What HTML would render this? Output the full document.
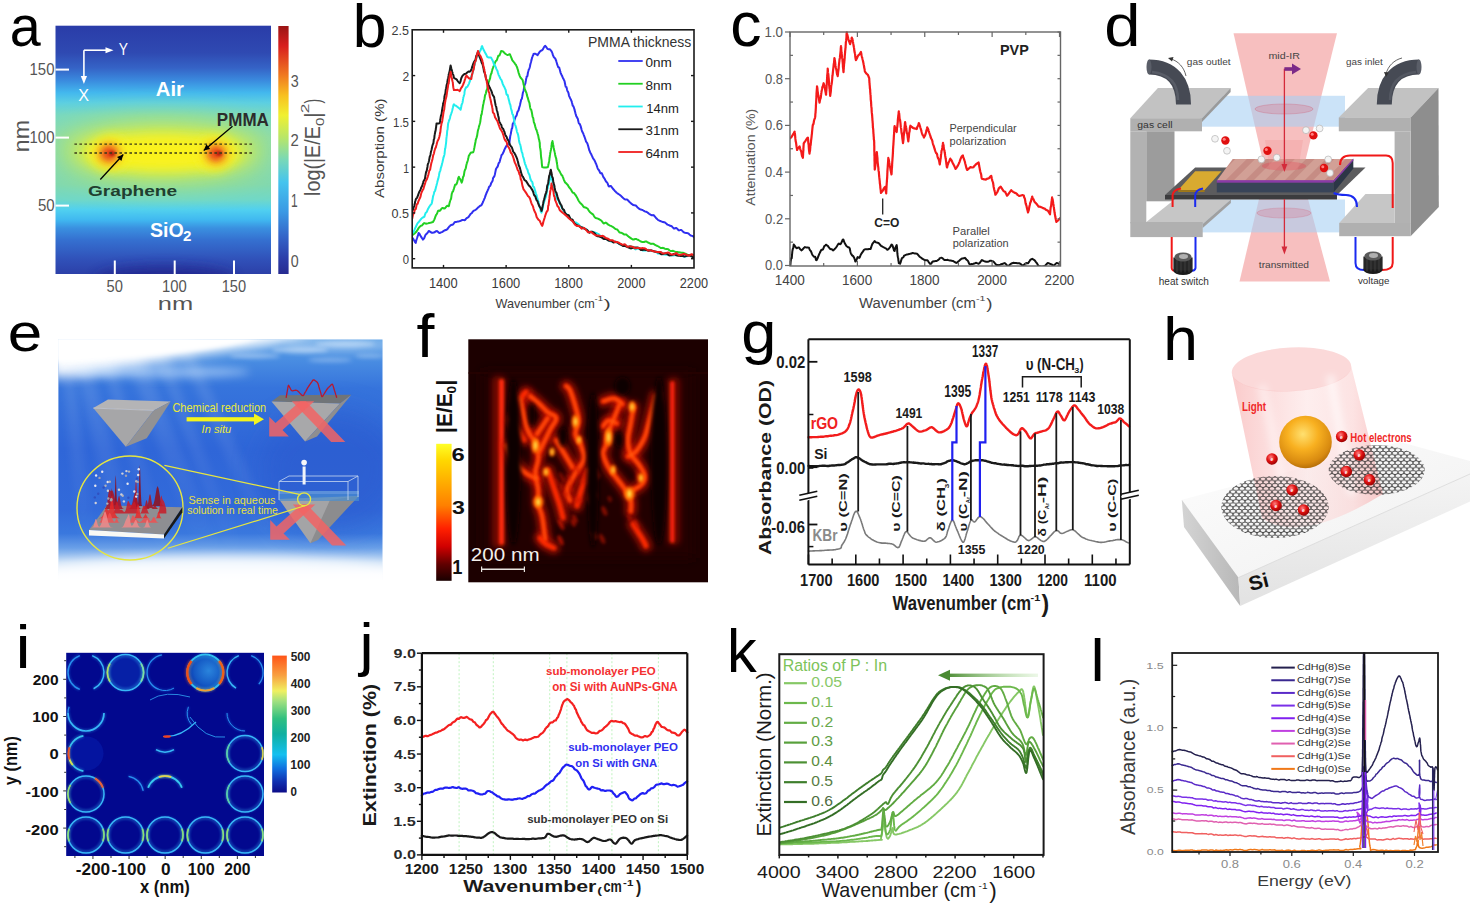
<!DOCTYPE html><html><head><meta charset="utf-8"><title>Figure</title><style>html,body{margin:0;padding:0;background:#fff;width:1470px;height:905px;overflow:hidden;}svg{display:block;font-family:"Liberation Sans",sans-serif;}</style></head><body><svg width="1470" height="905" viewBox="0 0 1470 905" font-family="Liberation Sans, sans-serif"><defs><linearGradient id="a_base" x1="0" y1="0" x2="0" y2="1">
<stop offset="0" stop-color="#2a3ca8"/>
<stop offset="0.11" stop-color="#2f4ab2"/>
<stop offset="0.17" stop-color="#3563c6"/>
<stop offset="0.22" stop-color="#3a8ade"/>
<stop offset="0.27" stop-color="#43b8ee"/>
<stop offset="0.31" stop-color="#5ccfe2"/>
<stop offset="0.36" stop-color="#78d8c0"/>
<stop offset="0.45" stop-color="#88dab0"/>
<stop offset="0.55" stop-color="#82d8b4"/>
<stop offset="0.64" stop-color="#80d8b0"/>
<stop offset="0.70" stop-color="#70d8c8"/>
<stop offset="0.742" stop-color="#50d0f0"/>
<stop offset="0.782" stop-color="#40b8f0"/>
<stop offset="0.815" stop-color="#3a90e0"/>
<stop offset="0.863" stop-color="#3570d0"/>
<stop offset="0.944" stop-color="#3050b8"/>
<stop offset="1" stop-color="#2c40a8"/>
</linearGradient>
<linearGradient id="a_cb" x1="0" y1="0" x2="0" y2="1">
<stop offset="0" stop-color="#9a1414"/>
<stop offset="0.08" stop-color="#d81e1e"/>
<stop offset="0.2" stop-color="#f07a20"/>
<stop offset="0.28" stop-color="#f8c020"/>
<stop offset="0.36" stop-color="#f0f030"/>
<stop offset="0.45" stop-color="#b8e668"/>
<stop offset="0.54" stop-color="#78d8b8"/>
<stop offset="0.63" stop-color="#45c4ee"/>
<stop offset="0.75" stop-color="#3a98e4"/>
<stop offset="0.85" stop-color="#3464c8"/>
<stop offset="0.94" stop-color="#2c3ca8"/>
<stop offset="1" stop-color="#262a90"/>
</linearGradient>
<filter id="blur14" x="-100%" y="-100%" width="300%" height="300%"><feGaussianBlur stdDeviation="14"/></filter>
<filter id="blur9" x="-100%" y="-100%" width="300%" height="300%"><feGaussianBlur stdDeviation="9"/></filter>
<filter id="blur6" x="-100%" y="-100%" width="300%" height="300%"><feGaussianBlur stdDeviation="6"/></filter>
<filter id="blur4" x="-100%" y="-100%" width="300%" height="300%"><feGaussianBlur stdDeviation="4"/></filter>
<filter id="blur3" x="-100%" y="-100%" width="300%" height="300%"><feGaussianBlur stdDeviation="3"/></filter>
<filter id="blur2" x="-100%" y="-100%" width="300%" height="300%"><feGaussianBlur stdDeviation="2"/></filter>
<filter id="blur1" x="-100%" y="-100%" width="300%" height="300%"><feGaussianBlur stdDeviation="1"/></filter>
<filter id="blur05" x="-100%" y="-100%" width="300%" height="300%"><feGaussianBlur stdDeviation="0.6"/></filter>
<clipPath id="a_clip"><rect x="55.5" y="25.7" width="215.5" height="248.3"/></clipPath>
<clipPath id="b_clip"><rect x="412.2" y="29.8" width="281.8" height="238.1"/></clipPath><clipPath id="c_clip"><rect x="790" y="30" width="270.5" height="236"/></clipPath><pattern id="d_samp" width="14" height="14" patternUnits="userSpaceOnUse" patternTransform="rotate(45)"><rect width="14" height="14" fill="#d2a096"/><rect width="6" height="14" fill="#c68c84"/></pattern><linearGradient id="d_tube" x1="0" y1="0" x2="1" y2="1"><stop offset="0" stop-color="#5a5e68"/><stop offset="0.5" stop-color="#474b55"/><stop offset="1" stop-color="#35383f"/></linearGradient><linearGradient id="e_bg" x1="0" y1="0" x2="0" y2="1">
<stop offset="0" stop-color="#5aa0e6"/>
<stop offset="0.08" stop-color="#4a8ee2"/>
<stop offset="0.2" stop-color="#3674dc"/>
<stop offset="0.45" stop-color="#2f66d8"/>
<stop offset="0.7" stop-color="#326ada"/>
<stop offset="0.8" stop-color="#3a78de"/>
<stop offset="0.86" stop-color="#6aa0e8"/>
<stop offset="0.92" stop-color="#c8def6"/>
<stop offset="0.97" stop-color="#f4f8fe"/>
<stop offset="1" stop-color="#ffffff"/>
</linearGradient>
<linearGradient id="e_ray" x1="0" y1="0" x2="0" y2="1">
<stop offset="0" stop-color="#ffffff" stop-opacity="0.45"/><stop offset="1" stop-color="#ffffff" stop-opacity="0"/></linearGradient>
<clipPath id="e_clip"><rect x="58.4" y="339.5" width="324.1" height="242.5"/></clipPath>
<filter id="blur8" x="-50%" y="-50%" width="200%" height="200%"><feGaussianBlur stdDeviation="8"/></filter>
<clipPath id="f_clip"><rect x="468.3" y="339.3" width="239.7" height="243"/></clipPath>
<linearGradient id="f_cb" x1="0" y1="0" x2="0" y2="1">
<stop offset="0" stop-color="#ffff28"/><stop offset="0.12" stop-color="#ffd800"/><stop offset="0.45" stop-color="#ff8000"/>
<stop offset="0.62" stop-color="#ff2000"/><stop offset="0.75" stop-color="#d00000"/><stop offset="0.88" stop-color="#600000"/><stop offset="1" stop-color="#1a0000"/></linearGradient>
<filter id="glow" filterUnits="userSpaceOnUse" x="460" y="330" width="255" height="260"><feGaussianBlur stdDeviation="1.4"/></filter>
<filter id="glow2" filterUnits="userSpaceOnUse" x="460" y="330" width="255" height="260"><feGaussianBlur stdDeviation="3"/></filter>
<linearGradient id="h_front" x1="0" y1="0" x2="0" y2="1"><stop offset="0" stop-color="#f4f4f4"/><stop offset="1" stop-color="#e2e2e2"/></linearGradient>
<linearGradient id="h_left" x1="0" y1="0" x2="1" y2="0"><stop offset="0" stop-color="#d4d4d4"/><stop offset="1" stop-color="#b8b8b8"/></linearGradient>
<linearGradient id="h_top" x1="0" y1="0" x2="1" y2="1"><stop offset="0" stop-color="#fdfdfd"/><stop offset="1" stop-color="#f0f0f0"/></linearGradient>
<radialGradient id="h_gold" cx="0.45" cy="0.35" r="0.65"><stop offset="0" stop-color="#ffe070"/><stop offset="0.45" stop-color="#f8b020"/><stop offset="0.85" stop-color="#d88a10"/><stop offset="1" stop-color="#b87008"/></radialGradient>
<radialGradient id="h_el" cx="0.4" cy="0.35" r="0.7"><stop offset="0" stop-color="#ff8080"/><stop offset="0.5" stop-color="#e01010"/><stop offset="1" stop-color="#900000"/></radialGradient>
<linearGradient id="h_cyl" x1="0" y1="0" x2="1" y2="0"><stop offset="0" stop-color="#f8b4b4" stop-opacity="0.7"/><stop offset="0.5" stop-color="#fde0e0" stop-opacity="0.55"/><stop offset="0.8" stop-color="#fbd0d0" stop-opacity="0.6"/><stop offset="1" stop-color="#f6b0b0" stop-opacity="0.7"/></linearGradient>
<pattern id="h_hex" width="6.000" height="10.392" patternUnits="userSpaceOnUse" patternTransform="scale(1,0.62)"><path d="M3.000,0 L6.000,1.732 L6.000,5.196 L3.000,6.928 L0,5.196 L0,1.732 Z M3.000,6.928 L3.000,10.392" fill="none" stroke="#1a1a1a" stroke-width="1.35"/></pattern>
<clipPath id="i_clip"><rect x="66.2" y="652.8" width="197.8" height="203.2"/></clipPath>
<linearGradient id="i_cb" x1="0" y1="1" x2="0" y2="0">
<stop offset="0" stop-color="#0c0c88"/><stop offset="0.08" stop-color="#1030b0"/><stop offset="0.176" stop-color="#1070e0"/><stop offset="0.277" stop-color="#14c0f0"/>
<stop offset="0.428" stop-color="#10b0a0"/><stop offset="0.54" stop-color="#30c080"/><stop offset="0.666" stop-color="#a0e080"/><stop offset="0.742" stop-color="#f0f060"/>
<stop offset="0.855" stop-color="#f8a040"/><stop offset="1" stop-color="#ff5418"/></linearGradient>
<radialGradient id="i_fill" cx="0.5" cy="0.5" r="0.5"><stop offset="0" stop-color="#0a2aa8"/><stop offset="1" stop-color="#082098"/></radialGradient>
<radialGradient id="i_hot" cx="0.6" cy="0.45" r="0.6"><stop offset="0" stop-color="#2a84dc"/><stop offset="0.7" stop-color="#1458c4"/><stop offset="1" stop-color="#0c38b0"/></radialGradient><clipPath id="k_clip"><rect x="779.3" y="654.2" width="264.3" height="200.7"/></clipPath>
<linearGradient id="k_arrow" x1="0" y1="0" x2="1" y2="0"><stop offset="0" stop-color="#4a8a32"/><stop offset="1" stop-color="#a0d888" stop-opacity="0.2"/></linearGradient></defs><rect x="0" y="0" width="1470" height="905" fill="#fff"/>
<text x="9.63" y="46.44" font-size="57.13" font-weight="normal" font-style="normal" fill="#000" textLength="30.97" lengthAdjust="spacingAndGlyphs" >a</text>
<text x="352.69" y="46.61" font-size="60.87" font-weight="normal" font-style="normal" fill="#000" textLength="33.76" lengthAdjust="spacingAndGlyphs" >b</text>
<text x="730.34" y="46.39" font-size="62.06" font-weight="normal" font-style="normal" fill="#000" textLength="31.31" lengthAdjust="spacingAndGlyphs" >c</text>
<text x="1104.26" y="45.73" font-size="58.42" font-weight="normal" font-style="normal" fill="#000" textLength="36.24" lengthAdjust="spacingAndGlyphs" >d</text>
<text x="7.67" y="350.88" font-size="53.12" font-weight="normal" font-style="normal" fill="#000" textLength="34.49" lengthAdjust="spacingAndGlyphs" >e</text>
<text x="416.49" y="356.50" font-size="60.80" font-weight="normal" font-style="normal" fill="#000" textLength="17.92" lengthAdjust="spacingAndGlyphs" >f</text>
<text x="741.35" y="353.07" font-size="59.40" font-weight="normal" font-style="normal" fill="#000" textLength="35.12" lengthAdjust="spacingAndGlyphs" >g</text>
<text x="1163.38" y="360.00" font-size="60.72" font-weight="normal" font-style="normal" fill="#000" textLength="34.67" lengthAdjust="spacingAndGlyphs" >h</text>
<text x="15.43" y="667.70" font-size="60.31" font-weight="normal" font-style="normal" fill="#000" textLength="15.17" lengthAdjust="spacingAndGlyphs" >i</text>
<text x="359.55" y="665.02" font-size="59.65" font-weight="normal" font-style="normal" fill="#000" textLength="14.13" lengthAdjust="spacingAndGlyphs" >j</text>
<text x="727.00" y="672.10" font-size="60.86" font-weight="normal" font-style="normal" fill="#000" textLength="29.72" lengthAdjust="spacingAndGlyphs" >k</text>
<text x="1090.41" y="680.70" font-size="59.62" font-weight="normal" font-style="normal" fill="#000" textLength="14.16" lengthAdjust="spacingAndGlyphs" >l</text>
<rect x="55.50" y="25.70" width="215.50" height="248.30" fill="url(#a_base)" stroke="none" stroke-width="1" />
<g clip-path="url(#a_clip)">
<ellipse cx="165" cy="280" rx="70" ry="14" fill="#24288e" filter="url(#blur6)" opacity="0.8"/>
<ellipse cx="163" cy="151" rx="105" ry="31" fill="#b8e668" filter="url(#blur14)"/>
<ellipse cx="163" cy="152" rx="86" ry="20" fill="#e8f038" filter="url(#blur9)"/>
<ellipse cx="163" cy="153" rx="74" ry="16" fill="#faf21c" filter="url(#blur6)"/>
<ellipse cx="110" cy="153" rx="18" ry="17" fill="#f8f020" filter="url(#blur6)"/>
<ellipse cx="215" cy="153" rx="18" ry="17" fill="#f8f020" filter="url(#blur6)"/>
<ellipse cx="109" cy="153.5" rx="12" ry="11" fill="#f4a020" filter="url(#blur4)"/>
<ellipse cx="109" cy="153.5" rx="7" ry="6.5" fill="#e84018" filter="url(#blur3)"/>
<ellipse cx="112" cy="153.5" rx="3" ry="2.5" fill="#b82010" filter="url(#blur1)"/>
<ellipse cx="216" cy="153.5" rx="12" ry="11" fill="#f4a020" filter="url(#blur4)"/>
<ellipse cx="216" cy="153.5" rx="7" ry="6.5" fill="#e84018" filter="url(#blur3)"/>
<ellipse cx="219" cy="153.5" rx="3" ry="2.5" fill="#b82010" filter="url(#blur1)"/>
</g>
<line x1="74.40" y1="144.10" x2="252.60" y2="144.10" stroke="#3a3a18" stroke-width="1.3" stroke-dasharray="2.6,2.4"/>
<line x1="74.40" y1="153.00" x2="252.60" y2="153.00" stroke="#3a3a18" stroke-width="1.3" stroke-dasharray="2.6,2.4"/>
<line x1="232.50" y1="126.30" x2="203.70" y2="150.50" stroke="#000" stroke-width="1.3" />
<polygon points="203.7,150.5 210.2,148.9 206.4,144.3" fill="#000" stroke="none" stroke-width="1" />
<line x1="100.30" y1="179.50" x2="123.30" y2="154.50" stroke="#000" stroke-width="1.3" />
<polygon points="123.3,154.5 117.0,156.9 121.4,160.9" fill="#000" stroke="none" stroke-width="1" />
<line x1="83.90" y1="50.20" x2="83.90" y2="78.00" stroke="#fff" stroke-width="1.6" />
<polygon points="83.9,84.0 80.8,76.0 87.0,76.0" fill="#fff" stroke="none" stroke-width="1" />
<line x1="83.90" y1="50.20" x2="107.00" y2="50.20" stroke="#fff" stroke-width="1.6" />
<polygon points="113.5,50.2 105.5,47.2 105.5,53.2" fill="#fff" stroke="none" stroke-width="1" />
<text x="118.70" y="54.50" font-size="15.99" font-weight="normal" font-style="normal" fill="#fff" textLength="9.21" lengthAdjust="spacingAndGlyphs" >Y</text>
<text x="78.34" y="100.50" font-size="15.99" font-weight="normal" font-style="normal" fill="#fff" textLength="10.80" lengthAdjust="spacingAndGlyphs" >X</text>
<text x="155.80" y="96.10" font-size="19.73" font-weight="bold" font-style="normal" fill="#fff" textLength="28.11" lengthAdjust="spacingAndGlyphs" >Air</text>
<text x="150.03" y="237.10" font-size="20.02" font-weight="bold" font-style="normal" fill="#fff" textLength="33.79" lengthAdjust="spacingAndGlyphs" >SiO</text>
<text x="182.97" y="241.30" font-size="14.75" font-weight="bold" font-style="normal" fill="#fff" textLength="8.43" lengthAdjust="spacingAndGlyphs" >2</text>
<text x="216.86" y="126.30" font-size="18.75" font-weight="bold" font-style="normal" fill="#2c2c2c" textLength="51.99" lengthAdjust="spacingAndGlyphs" >PMMA</text>
<text x="88.02" y="196.39" font-size="15.45" font-weight="bold" font-style="normal" fill="#1f3f30" textLength="89.03" lengthAdjust="spacingAndGlyphs" >Graphene</text>
<line x1="55.50" y1="69.60" x2="69.00" y2="69.60" stroke="#fff" stroke-width="2" />
<line x1="55.50" y1="137.60" x2="69.00" y2="137.60" stroke="#fff" stroke-width="2" />
<line x1="55.50" y1="205.60" x2="69.00" y2="205.60" stroke="#fff" stroke-width="2" />
<line x1="114.80" y1="274.00" x2="114.80" y2="260.50" stroke="#fff" stroke-width="2" />
<line x1="174.70" y1="274.00" x2="174.70" y2="260.50" stroke="#fff" stroke-width="2" />
<line x1="234.00" y1="274.00" x2="234.00" y2="260.50" stroke="#fff" stroke-width="2" />
<text x="29.56" y="75.24" font-size="16.10" font-weight="normal" font-style="normal" fill="#555" textLength="24.92" lengthAdjust="spacingAndGlyphs" >150</text>
<text x="29.56" y="143.24" font-size="16.10" font-weight="normal" font-style="normal" fill="#555" textLength="24.92" lengthAdjust="spacingAndGlyphs" >100</text>
<text x="37.90" y="211.24" font-size="16.10" font-weight="normal" font-style="normal" fill="#555" textLength="16.69" lengthAdjust="spacingAndGlyphs" >50</text>
<text x="106.61" y="291.84" font-size="16.24" font-weight="normal" font-style="normal" fill="#555" textLength="16.36" lengthAdjust="spacingAndGlyphs" >50</text>
<text x="162.07" y="291.84" font-size="16.24" font-weight="normal" font-style="normal" fill="#555" textLength="24.71" lengthAdjust="spacingAndGlyphs" >100</text>
<text x="221.69" y="291.84" font-size="16.24" font-weight="normal" font-style="normal" fill="#555" textLength="24.38" lengthAdjust="spacingAndGlyphs" >150</text>
<text transform="translate(29.00,152.24) rotate(-90)" x="0" y="0" font-size="22.30" font-weight="normal" font-style="normal" fill="#555" textLength="32.16" lengthAdjust="spacingAndGlyphs" >nm</text>
<text x="157.81" y="310.00" font-size="18.58" font-weight="normal" font-style="normal" fill="#555" textLength="35.37" lengthAdjust="spacingAndGlyphs" >nm</text>
<rect x="278.30" y="26.00" width="10.30" height="248.00" fill="url(#a_cb)" stroke="none" stroke-width="1" />
<text x="290.65" y="87.23" font-size="16.95" font-weight="normal" font-style="normal" fill="#555" textLength="7.98" lengthAdjust="spacingAndGlyphs" >3</text>
<text x="290.45" y="145.60" font-size="17.19" font-weight="normal" font-style="normal" fill="#555" textLength="8.30" lengthAdjust="spacingAndGlyphs" >2</text>
<text x="290.88" y="207.30" font-size="17.44" font-weight="normal" font-style="normal" fill="#555" textLength="6.71" lengthAdjust="spacingAndGlyphs" >1</text>
<text x="290.64" y="267.03" font-size="16.95" font-weight="normal" font-style="normal" fill="#555" textLength="7.91" lengthAdjust="spacingAndGlyphs" >0</text>
<text transform="translate(320.21,195.93) rotate(-90)" x="0" y="0" font-size="21.68" font-weight="normal" font-style="normal" fill="#555" textLength="69.78" lengthAdjust="spacingAndGlyphs" >log(|E/E</text>
<text transform="translate(324.09,125.90) rotate(-90)" x="0" y="0" font-size="11.16" font-weight="normal" font-style="normal" fill="#555" textLength="8.49" lengthAdjust="spacingAndGlyphs" >0</text>
<text transform="translate(320.21,118.04) rotate(-90)" x="0" y="0" font-size="21.68" font-weight="normal" font-style="normal" fill="#555" textLength="5.63" lengthAdjust="spacingAndGlyphs" >|</text>
<text transform="translate(309.00,113.37) rotate(-90)" x="0" y="0" font-size="11.46" font-weight="normal" font-style="normal" fill="#555" textLength="9.64" lengthAdjust="spacingAndGlyphs" >2</text>
<text transform="translate(320.29,103.48) rotate(-90)" x="0" y="0" font-size="21.79" font-weight="normal" font-style="normal" fill="#555" textLength="4.65" lengthAdjust="spacingAndGlyphs" >)</text>
<g clip-path="url(#b_clip)">
<path d="M412.2,237.6 L412.8,238.4 L413.4,239.2 L413.9,240.1 L414.5,241.1 L415.1,242.2 L415.7,242.9 L416.0,241.8 L416.2,240.6 L416.5,239.6 L416.8,238.8 L417.0,238.1 L417.3,237.3 L417.5,236.6 L417.8,235.9 L418.1,235.2 L418.3,234.1 L418.6,233.0 L419.1,233.3 L419.7,234.3 L420.2,235.3 L420.8,236.3 L421.3,237.1 L421.8,237.9 L422.4,238.7 L422.9,239.6 L423.4,239.1 L424.0,238.6 L424.5,237.3 L425.0,236.1 L425.5,234.9 L426.1,234.3 L426.6,233.9 L427.1,233.4 L427.6,232.6 L428.2,231.8 L428.7,231.0 L429.5,231.3 L430.4,231.9 L431.2,232.5 L432.0,232.8 L432.9,232.7 L433.7,232.6 L434.5,232.3 L435.4,231.7 L436.2,231.2 L437.0,231.1 L437.9,231.8 L438.7,232.6 L439.5,233.0 L440.3,232.7 L441.1,232.4 L441.9,232.1 L442.7,231.6 L443.4,231.1 L444.2,230.6 L445.0,230.3 L445.8,230.0 L446.6,229.7 L447.4,229.1 L448.0,228.2 L448.7,227.3 L449.3,226.5 L450.0,225.9 L450.6,225.3 L451.3,224.9 L451.9,224.8 L452.6,224.7 L453.2,224.2 L453.9,223.3 L454.5,222.4 L455.3,222.0 L456.1,221.9 L456.8,221.8 L457.6,221.6 L458.4,221.5 L459.2,221.3 L459.9,221.1 L460.7,220.8 L461.5,220.4 L462.3,220.0 L463.0,219.9 L463.8,220.1 L464.6,220.2 L465.2,219.8 L465.7,219.1 L466.3,218.5 L466.9,218.0 L467.5,217.7 L468.0,217.4 L468.6,216.9 L469.2,216.0 L469.8,215.1 L470.3,214.3 L470.9,213.8 L471.5,213.3 L472.1,212.7 L472.6,211.9 L473.2,211.2 L473.9,210.6 L474.6,210.3 L475.4,209.9 L476.1,209.5 L476.8,208.8 L477.5,208.1 L478.2,207.4 L479.0,206.8 L479.7,206.1 L480.4,205.7 L480.8,205.6 L481.1,205.4 L481.5,205.2 L481.8,204.5 L482.2,203.8 L482.5,203.1 L482.9,202.3 L483.2,201.4 L483.6,200.6 L484.0,199.7 L484.3,198.9 L484.7,198.1 L485.0,197.2 L485.4,196.2 L485.7,195.1 L486.1,194.1 L486.4,193.3 L486.8,192.5 L487.1,191.6 L487.5,190.9 L487.8,190.2 L488.1,189.5 L488.5,188.6 L488.8,187.6 L489.2,186.7 L489.5,186.3 L489.9,186.1 L490.2,186.0 L490.5,185.2 L490.9,184.2 L491.2,183.1 L491.6,182.4 L491.9,182.0 L492.2,181.6 L492.5,180.9 L492.8,179.7 L493.0,178.5 L493.3,177.6 L493.6,177.3 L493.9,177.0 L494.2,176.6 L494.5,175.7 L494.8,174.8 L495.0,173.9 L495.3,172.4 L495.6,170.9 L495.9,169.3 L496.2,168.7 L496.5,168.1 L496.7,167.5 L497.0,167.3 L497.3,167.0 L497.6,166.8 L497.9,165.9 L498.2,164.8 L498.5,163.7 L498.8,163.0 L499.1,162.7 L499.4,162.4 L499.7,161.6 L500.0,160.4 L500.3,159.2 L500.7,158.0 L501.0,157.0 L501.3,155.9 L501.6,155.0 L501.9,154.7 L502.2,154.4 L502.5,154.1 L502.8,153.5 L503.1,152.8 L503.4,152.2 L503.9,151.2 L504.3,150.0 L504.8,148.9 L505.3,147.9 L505.8,147.1 L506.2,146.2 L506.7,145.6 L507.2,145.0 L507.7,144.5 L508.2,144.2 L508.6,144.1 L509.1,143.9 L509.3,143.2 L509.4,142.2 L509.6,141.3 L509.7,140.2 L509.9,138.8 L510.1,137.5 L510.2,136.3 L510.4,135.6 L510.5,134.9 L510.7,134.2 L510.9,133.3 L511.0,132.4 L511.2,131.5 L511.4,130.6 L511.5,129.8 L511.7,129.0 L511.8,128.6 L512.0,128.4 L512.2,128.2 L512.3,127.4 L512.5,126.1 L512.6,124.8 L512.8,123.8 L513.1,123.3 L513.4,122.9 L513.7,122.4 L514.0,121.5 L514.3,120.7 L514.6,119.8 L514.9,118.9 L515.2,117.9 L515.5,117.0 L515.8,116.5 L516.1,116.1 L516.4,115.8 L516.7,115.1 L517.0,113.8 L517.3,112.6 L517.6,111.6 L517.9,111.2 L518.2,110.9 L518.5,110.5 L518.8,109.3 L519.1,108.1 L519.4,107.0 L519.6,106.3 L519.8,105.8 L519.9,105.3 L520.1,104.5 L520.3,103.5 L520.5,102.6 L520.7,101.7 L520.9,101.0 L521.0,100.2 L521.2,99.6 L521.4,99.4 L521.6,99.1 L521.8,98.9 L522.0,98.0 L522.1,97.1 L522.3,96.2 L522.5,95.1 L522.7,93.9 L522.9,92.7 L523.1,92.0 L523.2,91.6 L523.4,91.3 L523.6,90.7 L523.8,89.4 L524.0,88.1 L524.2,86.8 L524.4,86.1 L524.5,85.5 L524.7,84.9 L524.9,84.4 L525.1,84.0 L525.3,83.6 L525.5,82.9 L525.6,81.9 L525.8,81.0 L526.0,79.9 L526.2,78.7 L526.5,77.5 L526.7,76.4 L526.9,76.4 L527.1,76.3 L527.4,76.2 L527.6,74.9 L527.8,73.5 L528.0,72.1 L528.3,71.2 L528.5,70.5 L528.7,69.7 L529.0,69.2 L529.2,68.8 L529.4,68.4 L529.6,67.8 L529.9,66.7 L530.1,65.6 L530.3,64.5 L530.5,63.7 L530.8,62.8 L531.0,62.0 L531.2,61.1 L531.5,60.1 L531.7,59.2 L531.9,58.4 L532.1,57.6 L532.4,56.8 L532.6,56.2 L532.8,55.9 L533.0,55.5 L533.3,54.9 L533.5,53.9 L534.3,53.7 L535.1,53.7 L536.0,54.1 L536.8,54.6 L537.6,55.1 L538.1,54.2 L538.7,53.4 L539.2,52.5 L539.7,51.9 L540.3,51.3 L540.8,50.8 L541.4,50.5 L541.9,50.3 L542.4,50.0 L543.0,49.2 L543.5,48.1 L544.0,47.1 L544.6,46.4 L545.1,45.8 L545.7,46.4 L546.3,47.2 L546.9,48.0 L547.5,48.8 L548.2,49.2 L548.8,49.2 L549.4,49.2 L550.0,49.4 L550.6,50.1 L551.2,50.8 L551.9,52.0 L552.5,53.5 L552.8,54.9 L553.2,55.7 L553.5,56.4 L553.8,57.1 L554.2,57.5 L554.5,57.8 L554.8,58.1 L555.2,58.5 L555.5,59.2 L555.8,60.0 L556.2,60.8 L556.5,62.0 L556.9,63.2 L557.2,64.4 L557.5,65.3 L557.9,66.2 L558.2,67.1 L558.5,67.3 L558.9,67.4 L559.2,67.6 L559.5,68.7 L559.9,70.1 L560.2,71.4 L560.5,72.4 L560.7,73.1 L561.0,73.8 L561.3,74.4 L561.6,75.0 L561.8,75.5 L562.1,76.0 L562.4,76.7 L562.7,77.3 L562.9,77.9 L563.2,78.4 L563.5,78.9 L563.7,79.4 L564.0,80.0 L564.3,80.7 L564.6,81.4 L564.8,82.5 L565.1,84.0 L565.4,85.5 L565.7,86.7 L565.9,86.9 L566.2,87.0 L566.5,87.2 L566.8,88.4 L567.0,89.5 L567.3,90.6 L567.6,91.2 L567.8,91.6 L568.1,92.0 L568.4,92.8 L568.7,94.0 L568.9,95.2 L569.2,96.3 L569.5,96.8 L569.8,97.4 L570.0,98.0 L570.3,98.5 L570.6,99.0 L570.8,99.5 L571.1,100.1 L571.4,100.8 L571.7,101.5 L571.9,102.4 L572.2,103.6 L572.5,104.8 L572.7,105.7 L573.0,105.9 L573.3,106.1 L573.5,106.5 L573.8,107.3 L574.1,108.2 L574.4,109.1 L574.6,110.1 L574.9,111.1 L575.2,112.2 L575.4,113.2 L575.7,114.1 L576.0,115.1 L576.2,116.0 L576.5,116.5 L576.8,117.1 L577.1,117.6 L577.3,118.1 L577.6,118.6 L577.9,119.1 L578.1,120.3 L578.4,121.6 L578.7,122.8 L578.9,123.4 L579.2,123.6 L579.5,123.7 L579.8,124.1 L580.0,124.7 L580.3,125.3 L580.6,126.0 L580.8,126.9 L581.1,127.9 L581.4,128.9 L581.6,129.8 L581.9,130.7 L582.2,131.6 L582.5,132.1 L582.7,132.6 L583.0,133.0 L583.3,133.6 L583.6,134.5 L583.9,135.3 L584.2,136.2 L584.6,137.1 L584.9,138.0 L585.2,138.9 L585.5,139.8 L585.8,140.7 L586.1,141.6 L586.4,142.1 L586.7,142.5 L587.1,142.9 L587.4,143.6 L587.7,144.5 L588.0,145.5 L588.3,146.5 L588.6,147.7 L588.9,148.8 L589.2,150.0 L589.6,150.8 L589.9,151.6 L590.2,152.4 L590.5,152.9 L590.8,153.4 L591.1,153.9 L591.4,154.6 L591.7,155.4 L592.1,156.1 L592.4,156.8 L592.7,157.5 L593.0,158.2 L593.3,158.7 L593.6,159.1 L593.9,159.5 L594.2,159.9 L594.6,160.6 L594.9,161.2 L595.2,161.9 L595.5,162.6 L595.8,163.4 L596.2,164.0 L596.6,165.2 L597.1,166.6 L597.5,168.0 L597.9,169.0 L598.3,169.5 L598.8,170.0 L599.2,170.6 L599.6,171.5 L600.0,172.4 L600.5,173.3 L600.9,173.3 L601.3,173.2 L601.7,173.1 L602.1,173.9 L602.6,175.1 L603.0,176.2 L603.4,177.1 L603.8,177.7 L604.3,178.3 L604.7,178.9 L605.1,179.8 L605.5,180.6 L606.0,181.5 L606.4,181.9 L606.8,182.2 L607.2,182.6 L607.7,183.6 L608.1,184.8 L608.5,186.0 L609.1,186.5 L609.8,186.2 L610.4,186.0 L611.0,186.1 L611.7,187.0 L612.3,187.9 L612.9,188.8 L613.6,189.5 L614.2,190.2 L614.8,190.9 L615.5,191.5 L616.1,192.2 L616.7,192.8 L617.4,193.3 L618.0,193.7 L618.6,194.1 L619.3,194.5 L619.9,195.0 L620.5,195.5 L621.2,196.1 L621.8,196.7 L622.4,197.3 L623.1,197.9 L623.7,198.5 L624.4,199.1 L625.1,199.5 L625.8,199.5 L626.5,199.5 L627.2,199.6 L627.9,200.3 L628.6,201.0 L629.3,201.8 L630.0,202.4 L630.7,203.1 L631.4,203.7 L632.0,204.2 L632.7,204.6 L633.4,205.1 L634.1,205.2 L634.8,205.3 L635.5,205.4 L636.2,205.9 L636.9,206.7 L637.6,207.5 L638.3,208.1 L639.0,208.7 L639.7,209.1 L640.4,209.5 L641.1,209.6 L641.8,209.8 L642.6,210.0 L643.3,210.5 L644.0,210.9 L644.7,211.4 L645.4,211.6 L646.1,211.8 L646.8,212.0 L647.5,212.5 L648.3,213.1 L649.0,213.7 L649.7,214.2 L650.4,214.6 L651.1,215.0 L651.8,215.2 L652.5,215.2 L653.2,215.1 L654.0,215.5 L654.7,216.3 L655.4,217.2 L656.1,218.0 L656.8,218.7 L657.5,219.4 L658.2,220.1 L658.9,220.4 L659.6,220.7 L660.4,221.0 L661.1,221.3 L661.8,221.6 L662.5,221.9 L663.2,222.0 L663.9,222.2 L664.6,222.3 L665.3,222.7 L666.1,223.4 L666.8,224.1 L667.5,224.6 L668.2,224.9 L668.9,225.2 L669.6,225.5 L670.3,225.8 L671.0,226.0 L671.8,226.3 L672.5,227.1 L673.2,227.8 L673.9,228.5 L674.6,228.5 L675.3,228.2 L676.1,227.9 L676.8,228.3 L677.6,229.2 L678.3,230.0 L679.0,230.4 L679.8,230.2 L680.5,229.9 L681.3,229.9 L682.0,230.6 L682.8,231.4 L683.5,232.2 L684.2,232.4 L685.0,232.7 L685.7,232.9 L686.5,233.0 L687.2,233.1 L688.0,233.3 L688.7,233.7 L689.4,234.4 L690.2,235.1 L690.9,235.6 L691.7,235.8 L692.4,235.9 L693.2,236.4 L694.0,237.1" fill="none" stroke="#2f2ff0" stroke-width="2.0" stroke-linejoin="round" stroke-linecap="round" />
<path d="M412.9,234.7 L413.5,234.3 L414.0,233.9 L414.6,233.5 L415.2,232.9 L415.8,232.3 L416.3,231.8 L416.9,230.9 L417.5,229.9 L418.1,228.9 L418.6,228.1 L419.2,227.4 L419.8,226.7 L420.4,226.1 L420.9,225.8 L421.5,225.6 L422.1,225.3 L422.7,224.6 L423.2,224.0 L423.8,223.3 L424.4,223.1 L425.3,223.4 L426.1,223.7 L427.0,223.6 L427.8,223.4 L428.7,223.1 L429.6,222.9 L430.4,222.7 L431.3,222.5 L432.1,222.3 L433.0,222.1 L433.4,221.3 L433.7,220.7 L434.1,220.0 L434.4,219.4 L434.8,218.5 L435.1,217.4 L435.5,216.3 L435.9,215.3 L436.2,214.8 L436.6,214.3 L436.9,213.8 L437.3,212.9 L437.6,212.0 L438.0,211.0 L438.3,210.7 L438.7,210.6 L439.5,210.9 L440.3,210.4 L441.0,209.3 L441.8,208.3 L442.6,207.9 L443.4,208.2 L444.1,208.6 L444.9,208.3 L445.7,207.4 L446.5,206.4 L447.2,205.8 L448.0,206.0 L448.8,206.2 L449.0,205.7 L449.2,204.6 L449.4,203.6 L449.7,202.5 L449.9,201.8 L450.1,201.1 L450.3,200.3 L450.5,199.9 L450.7,199.4 L451.0,199.0 L451.2,197.8 L451.4,196.3 L451.6,194.9 L451.8,193.8 L452.0,193.1 L452.2,192.3 L452.5,191.8 L452.7,191.7 L452.9,191.6 L453.1,191.3 L453.4,190.2 L453.8,189.1 L454.1,188.0 L454.5,186.9 L454.8,185.8 L455.1,184.7 L455.5,184.6 L455.8,184.6 L456.2,184.6 L456.5,184.0 L456.9,183.2 L457.2,182.4 L457.5,181.1 L457.9,179.7 L458.2,178.2 L458.6,177.3 L458.9,176.8 L459.3,177.9 L459.7,178.7 L460.1,179.2 L460.5,179.8 L460.9,180.6 L461.3,181.6 L461.7,182.6 L461.9,182.0 L462.1,181.5 L462.3,181.0 L462.5,180.1 L462.7,178.9 L462.9,177.8 L463.1,176.9 L463.3,176.6 L463.6,176.2 L463.8,175.7 L464.0,174.4 L464.2,173.1 L464.4,171.8 L464.6,171.1 L464.8,170.4 L465.0,169.7 L465.2,169.4 L465.4,169.1 L465.6,168.8 L465.8,168.2 L466.0,167.0 L466.2,165.9 L466.4,164.9 L466.6,164.1 L466.8,163.4 L467.0,162.6 L467.3,162.0 L467.5,161.3 L467.7,160.7 L467.9,159.9 L468.1,159.0 L468.3,158.1 L468.5,157.3 L468.7,156.4 L468.9,155.5 L469.5,154.8 L470.1,153.8 L470.7,152.9 L471.4,152.4 L472.0,152.4 L472.6,152.4 L473.2,152.2 L473.4,151.6 L473.6,151.0 L473.8,150.3 L474.0,149.5 L474.1,148.8 L474.3,148.0 L474.5,146.9 L474.7,145.9 L474.9,144.8 L475.1,143.8 L475.3,142.7 L475.5,141.7 L475.6,140.8 L475.8,140.0 L476.0,139.2 L476.2,138.6 L476.4,138.1 L476.6,137.5 L476.8,136.9 L477.0,136.1 L477.2,135.3 L477.3,134.4 L477.5,133.2 L477.7,131.9 L477.9,130.7 L478.1,129.9 L478.3,129.2 L478.5,128.6 L478.7,127.9 L478.8,127.2 L479.0,126.5 L479.2,125.8 L479.4,125.1 L479.6,124.5 L479.8,123.8 L479.9,123.3 L480.1,122.7 L480.2,122.0 L480.4,121.0 L480.5,119.9 L480.7,118.8 L480.8,117.6 L481.0,116.4 L481.1,115.2 L481.3,115.0 L481.4,114.8 L481.6,114.7 L481.7,113.8 L481.9,112.7 L482.0,111.6 L482.2,110.7 L482.3,109.9 L482.5,109.2 L482.6,108.3 L482.8,107.3 L482.9,106.2 L483.1,105.3 L483.2,104.6 L483.4,104.0 L483.5,103.4 L483.7,102.5 L483.8,101.7 L484.0,100.8 L484.1,100.3 L484.3,99.8 L484.4,99.3 L484.6,98.2 L484.8,96.9 L485.0,95.5 L485.3,94.7 L485.5,94.3 L485.7,93.8 L485.9,93.2 L486.1,92.1 L486.3,91.0 L486.6,90.0 L486.8,89.7 L487.0,89.3 L487.2,88.9 L487.4,87.6 L487.6,86.2 L487.9,84.9 L488.1,84.2 L488.3,83.6 L488.5,83.0 L488.7,82.3 L488.9,81.6 L489.2,80.9 L489.4,80.2 L489.6,79.7 L489.8,79.1 L490.1,78.3 L490.3,77.0 L490.5,75.7 L490.8,74.7 L491.0,74.2 L491.2,73.7 L491.5,73.3 L491.7,72.3 L491.9,71.3 L492.2,70.3 L492.4,69.5 L492.6,68.8 L492.9,68.1 L493.1,67.4 L493.3,66.8 L493.6,66.1 L493.8,65.6 L494.0,65.3 L494.3,64.9 L494.5,64.1 L494.9,63.0 L495.3,61.9 L495.8,61.0 L496.2,60.7 L496.6,60.4 L497.0,59.8 L497.4,58.4 L497.9,57.0 L498.3,55.8 L498.7,55.7 L499.1,55.6 L499.5,55.5 L499.9,54.3 L500.4,53.1 L500.8,51.9 L501.2,51.0 L502.0,51.2 L502.7,51.3 L503.5,51.9 L504.2,52.7 L505.0,53.4 L505.7,54.0 L506.5,54.5 L507.2,54.9 L508.0,55.0 L508.7,54.6 L509.5,54.2 L509.9,54.3 L510.3,55.2 L510.7,56.2 L511.1,57.1 L511.6,58.3 L512.0,59.4 L512.4,60.5 L512.8,61.0 L513.2,61.3 L513.6,61.7 L514.0,62.3 L514.5,62.9 L514.9,63.6 L515.3,64.1 L515.7,64.7 L516.1,65.2 L516.4,65.9 L516.8,66.7 L517.1,67.4 L517.4,68.4 L517.8,69.6 L518.1,70.8 L518.4,72.0 L518.7,73.1 L519.1,74.1 L519.4,75.2 L519.7,75.9 L520.1,76.7 L520.4,77.4 L520.7,77.8 L521.1,78.2 L521.4,78.5 L521.7,78.9 L522.0,79.2 L522.4,79.6 L522.7,80.3 L522.9,81.3 L523.2,82.3 L523.4,83.4 L523.6,84.5 L523.9,85.6 L524.1,86.8 L524.4,87.6 L524.6,88.4 L524.8,89.2 L525.1,89.8 L525.3,90.4 L525.5,91.0 L525.8,91.6 L526.0,92.0 L526.2,92.4 L526.5,93.1 L526.7,94.1 L526.9,95.1 L527.2,96.1 L527.4,96.8 L527.6,97.5 L527.9,98.2 L528.1,99.1 L528.4,100.0 L528.6,100.9 L528.8,101.5 L529.1,102.0 L529.3,102.5 L529.5,103.3 L529.7,104.7 L529.9,106.0 L530.1,107.2 L530.3,108.0 L530.5,108.7 L530.7,109.4 L530.9,109.6 L531.1,109.8 L531.3,110.0 L531.5,110.9 L531.7,111.8 L531.9,112.7 L532.1,113.9 L532.3,115.1 L532.5,116.4 L532.7,117.1 L532.9,117.4 L533.1,117.7 L533.3,118.5 L533.5,119.8 L533.7,121.2 L533.9,122.3 L534.1,122.7 L534.3,123.2 L534.5,123.6 L534.8,124.6 L535.0,125.5 L535.2,126.4 L535.4,127.2 L535.7,128.0 L535.9,128.8 L536.1,129.3 L536.3,129.7 L536.6,130.1 L536.8,130.7 L537.0,131.5 L537.3,132.4 L537.5,133.2 L537.7,133.9 L537.9,134.7 L538.2,135.5 L538.4,136.6 L538.6,137.7 L538.8,138.9 L539.1,139.7 L539.3,140.5 L539.4,141.3 L539.5,141.8 L539.6,142.1 L539.7,142.5 L539.8,143.4 L539.8,144.8 L539.9,146.3 L540.0,147.4 L540.1,147.8 L540.2,148.2 L540.3,148.7 L540.4,149.3 L540.5,150.0 L540.6,150.7 L540.7,151.6 L540.8,152.6 L540.8,153.6 L540.9,154.7 L541.0,156.0 L541.1,157.2 L541.2,158.1 L541.3,158.5 L541.4,159.0 L541.5,159.6 L541.6,160.5 L541.7,161.3 L541.7,162.2 L541.8,163.3 L541.9,164.3 L542.0,165.4 L542.1,166.2 L542.2,167.1 L543.0,167.3 L543.8,167.4 L544.6,167.4 L545.5,167.4 L546.3,167.4 L547.1,167.3 L547.9,167.2 L548.0,166.4 L548.2,165.7 L548.3,165.1 L548.4,164.5 L548.6,163.9 L548.7,163.4 L548.8,162.8 L549.0,161.9 L549.1,161.0 L549.3,160.2 L549.4,159.2 L549.5,158.2 L549.7,157.3 L549.8,156.3 L549.9,155.3 L550.1,154.4 L550.2,153.5 L550.3,152.7 L550.5,151.9 L550.6,151.2 L550.7,150.7 L550.9,150.2 L551.0,149.7 L551.1,148.8 L551.3,147.9 L551.4,146.9 L551.6,145.8 L551.7,144.6 L551.8,143.3 L552.0,142.6 L552.1,142.3 L552.2,142.1 L552.4,141.8 L552.5,141.1 L552.7,142.1 L552.8,143.1 L553.0,143.8 L553.1,144.5 L553.3,145.2 L553.4,146.1 L553.6,147.0 L553.7,147.9 L553.9,148.7 L554.0,149.5 L554.2,150.4 L554.4,151.0 L554.5,151.5 L554.7,152.0 L554.8,152.7 L555.0,153.7 L555.1,154.7 L555.3,155.6 L555.4,156.1 L555.6,156.6 L555.7,157.1 L555.9,157.6 L556.1,158.2 L556.2,158.8 L556.4,159.8 L556.5,160.8 L556.7,161.8 L556.8,162.6 L557.0,163.4 L557.1,164.2 L557.3,165.3 L557.4,166.6 L557.6,168.0 L558.0,168.9 L558.3,169.4 L558.7,169.9 L559.1,170.5 L559.4,171.1 L559.8,171.7 L560.2,172.3 L560.5,173.1 L560.9,173.9 L561.3,174.7 L561.6,175.1 L562.0,175.4 L562.4,175.7 L562.7,176.6 L563.1,177.6 L563.5,178.7 L563.8,179.6 L564.2,180.5 L564.6,181.4 L564.9,182.1 L565.3,182.6 L565.8,183.0 L566.3,183.4 L566.8,184.0 L567.3,184.5 L567.8,185.0 L568.2,185.8 L568.7,186.6 L569.2,187.4 L569.7,188.0 L570.2,188.6 L570.7,189.2 L571.2,190.0 L571.7,190.9 L572.2,191.9 L572.7,192.5 L573.1,192.7 L573.6,192.9 L574.1,193.2 L574.6,193.9 L575.1,194.5 L575.6,195.1 L576.1,195.9 L576.6,196.8 L577.1,197.6 L577.6,198.6 L578.0,199.5 L578.5,200.5 L579.0,201.3 L579.5,202.0 L580.0,202.7 L580.5,203.3 L581.1,203.8 L581.6,204.3 L582.2,204.9 L582.8,205.7 L583.3,206.5 L583.9,207.2 L584.5,207.3 L585.0,207.4 L585.6,207.5 L586.2,207.8 L586.7,208.1 L587.3,208.4 L587.9,209.1 L588.4,210.0 L589.0,210.9 L589.6,211.7 L590.1,212.3 L590.7,212.8 L591.3,213.3 L591.8,213.7 L592.4,214.0 L593.0,214.4 L593.5,215.2 L594.1,216.2 L594.7,217.1 L595.2,217.7 L595.8,218.0 L596.5,218.2 L597.2,218.4 L597.9,218.7 L598.6,219.0 L599.4,219.4 L600.1,219.8 L600.8,220.3 L601.5,220.8 L602.2,221.7 L602.9,222.6 L603.6,223.5 L604.3,223.3 L605.1,223.0 L605.8,222.6 L606.5,223.0 L607.2,223.7 L607.9,224.4 L608.6,224.9 L609.3,225.2 L610.0,225.6 L610.8,225.9 L611.5,226.2 L612.2,226.6 L612.9,226.9 L613.6,227.5 L614.3,228.1 L615.0,228.7 L615.7,229.0 L616.4,229.2 L617.2,229.4 L617.9,230.3 L618.6,231.3 L619.3,232.3 L620.0,232.6 L620.7,232.7 L621.4,232.8 L622.1,233.1 L622.9,233.6 L623.6,234.2 L624.3,234.6 L625.0,234.6 L625.7,234.5 L626.4,234.6 L627.1,235.3 L627.8,235.9 L628.6,236.6 L629.3,237.1 L630.0,237.6 L630.7,238.1 L631.4,238.7 L632.2,239.1 L633.0,239.5 L633.7,239.5 L634.5,239.2 L635.3,238.9 L636.1,238.9 L636.9,239.3 L637.6,239.6 L638.4,240.0 L639.2,240.5 L640.0,241.0 L640.8,241.5 L641.5,241.8 L642.3,241.9 L643.1,242.1 L643.9,242.0 L644.7,241.7 L645.5,241.4 L646.2,241.4 L647.0,241.9 L647.8,242.3 L648.6,242.8 L649.4,243.1 L650.1,243.5 L650.9,243.9 L651.7,243.8 L652.5,243.8 L653.2,243.8 L654.0,244.1 L654.7,244.6 L655.5,245.1 L656.2,245.5 L657.0,245.8 L657.7,246.1 L658.5,246.4 L659.2,247.0 L660.0,247.5 L660.7,248.0 L661.5,247.9 L662.2,247.9 L663.0,247.8 L663.7,248.1 L664.5,248.5 L665.2,248.9 L666.0,249.1 L666.7,249.1 L667.5,249.1 L668.2,249.3 L669.0,249.9 L669.7,250.5 L670.5,251.0 L671.2,251.0 L672.0,250.9 L672.8,250.8 L673.6,251.1 L674.4,251.4 L675.1,251.7 L675.9,251.9 L676.7,252.0 L677.5,252.1 L678.3,252.2 L679.1,252.3 L679.8,252.5 L680.6,252.6 L681.4,252.7 L682.2,252.7 L683.0,252.8 L683.8,253.1 L684.6,253.3 L685.3,253.6 L686.1,254.0 L686.9,254.5 L687.7,254.9 L688.5,255.1 L689.3,255.1 L690.0,255.0 L690.8,255.0 L691.6,255.0 L692.4,255.1 L693.2,255.5 L694.0,256.7" fill="none" stroke="#22d022" stroke-width="2.0" stroke-linejoin="round" stroke-linecap="round" />
<path d="M412.9,232.8 L413.2,232.3 L413.5,231.9 L413.8,231.5 L414.1,230.7 L414.5,229.9 L414.8,229.1 L415.1,228.4 L415.4,227.8 L415.7,227.1 L416.2,226.0 L416.8,224.8 L417.3,223.6 L417.9,222.9 L418.4,222.3 L419.0,221.7 L419.5,221.0 L420.0,220.3 L420.6,219.6 L421.1,219.0 L421.7,218.4 L422.2,217.9 L422.8,217.5 L423.3,217.3 L423.9,217.0 L424.4,216.6 L424.8,215.3 L425.2,214.1 L425.6,213.0 L426.0,212.6 L426.4,212.3 L426.8,211.9 L427.2,210.9 L427.6,209.9 L428.0,209.0 L428.4,208.2 L428.8,207.6 L429.2,206.9 L429.6,206.3 L430.0,205.7 L430.4,205.1 L430.8,204.6 L431.2,204.2 L431.6,203.8 L431.8,203.2 L432.0,202.3 L432.2,201.3 L432.4,200.3 L432.6,199.1 L432.8,197.8 L433.0,196.6 L433.2,195.9 L433.4,195.3 L433.6,194.7 L433.8,194.0 L434.0,193.1 L434.2,192.2 L434.4,191.6 L434.6,191.4 L434.8,191.2 L435.0,190.9 L435.3,190.1 L435.5,189.2 L435.7,188.4 L435.9,187.6 L436.1,186.8 L436.3,186.1 L436.5,185.3 L436.7,184.5 L436.9,183.8 L437.1,183.0 L437.3,182.1 L437.5,181.3 L437.7,180.5 L437.9,179.9 L438.1,179.2 L438.3,178.6 L438.5,177.7 L438.7,176.8 L438.9,175.9 L439.1,174.7 L439.3,173.5 L439.6,172.2 L439.8,171.6 L440.0,171.3 L440.2,171.0 L440.4,170.3 L440.6,169.2 L440.8,168.1 L441.1,167.2 L441.3,166.6 L441.5,166.0 L441.7,165.4 L441.9,164.4 L442.1,163.5 L442.4,162.5 L442.6,161.6 L442.8,160.7 L443.0,159.8 L443.2,158.9 L443.4,158.1 L443.6,157.2 L443.9,156.5 L444.1,155.7 L444.3,155.0 L444.5,154.2 L444.6,153.3 L444.7,152.4 L444.8,151.4 L444.9,150.5 L445.0,149.5 L445.1,148.7 L445.2,148.5 L445.3,148.2 L445.4,148.0 L445.5,147.1 L445.6,146.3 L445.7,145.5 L445.8,144.8 L445.9,144.1 L446.0,143.5 L446.1,142.6 L446.2,141.5 L446.3,140.5 L446.3,139.5 L446.4,138.6 L446.5,137.7 L446.6,136.8 L446.7,136.2 L446.8,135.5 L446.9,134.8 L447.0,133.5 L447.1,132.2 L447.2,130.9 L447.3,130.4 L447.4,130.0 L447.5,129.7 L447.6,128.9 L447.7,127.9 L447.8,126.9 L447.9,125.9 L448.0,124.8 L448.1,123.8 L448.3,122.9 L448.6,122.1 L448.8,121.3 L449.0,120.6 L449.3,120.1 L449.5,119.5 L449.7,119.0 L450.0,118.0 L450.2,116.9 L450.4,115.9 L450.7,115.3 L450.9,114.6 L451.1,114.0 L451.3,113.3 L451.6,112.7 L451.8,112.0 L452.0,111.1 L452.3,110.2 L452.5,109.2 L452.7,108.2 L453.0,107.2 L453.2,106.2 L453.4,105.3 L453.7,104.8 L453.9,104.3 L454.5,105.1 L455.1,105.4 L455.7,105.7 L456.3,106.0 L456.9,106.5 L457.6,107.1 L458.2,107.6 L458.8,108.1 L459.4,108.6 L460.0,109.1 L460.6,109.7 L460.8,109.0 L460.9,108.4 L461.1,107.6 L461.3,106.6 L461.5,105.5 L461.6,104.6 L461.8,104.2 L462.0,103.9 L462.1,103.6 L462.3,103.1 L462.5,102.5 L462.6,102.0 L462.8,100.9 L463.0,99.6 L463.2,98.4 L463.3,97.5 L463.5,97.0 L463.7,96.5 L463.8,95.9 L464.0,95.3 L464.2,94.7 L464.4,93.9 L464.5,92.4 L464.7,90.9 L465.1,89.4 L465.4,88.7 L465.8,88.1 L466.1,87.4 L466.5,87.1 L466.9,87.0 L467.2,86.8 L467.6,86.3 L468.0,85.6 L468.3,84.9 L468.7,84.2 L469.1,83.3 L469.4,82.4 L469.8,81.5 L470.1,80.4 L470.5,79.2 L470.7,78.0 L470.9,77.4 L471.1,76.8 L471.4,76.2 L471.6,75.8 L471.8,75.4 L472.0,74.9 L472.2,74.3 L472.4,73.5 L472.6,72.7 L472.9,71.9 L473.1,71.0 L473.3,70.2 L473.5,69.2 L473.7,67.9 L473.9,66.6 L474.2,65.5 L474.4,65.2 L474.6,65.0 L474.8,64.7 L475.0,63.5 L475.2,62.3 L475.4,61.1 L475.7,60.5 L475.9,60.0 L476.1,59.5 L476.3,58.4 L476.7,57.2 L477.0,56.0 L477.4,55.4 L477.8,55.4 L478.1,55.3 L478.5,54.9 L478.8,53.9 L479.2,52.9 L479.6,51.9 L479.9,51.3 L480.3,50.6 L480.7,50.0 L481.0,48.9 L481.4,47.7 L481.7,46.6 L482.1,46.0 L482.5,47.1 L482.9,48.2 L483.3,49.1 L483.6,49.8 L484.0,50.6 L484.4,51.3 L484.8,52.1 L485.2,52.9 L485.6,53.5 L485.9,54.1 L486.3,54.7 L486.7,55.6 L487.1,56.7 L487.9,57.3 L488.7,57.5 L489.6,57.5 L490.4,57.5 L491.2,57.8 L491.5,58.4 L491.9,59.1 L492.2,59.8 L492.5,60.4 L492.9,61.0 L493.2,61.8 L493.5,63.0 L493.9,64.1 L494.2,65.2 L494.5,65.5 L494.9,65.7 L495.2,66.0 L495.5,66.7 L495.8,67.5 L496.2,68.4 L496.5,69.1 L496.8,69.7 L497.2,70.3 L497.5,71.1 L497.8,72.3 L498.2,73.4 L498.5,74.6 L498.8,75.2 L499.2,75.9 L499.5,76.6 L499.8,77.3 L500.1,78.1 L500.5,78.8 L500.8,79.3 L501.1,79.6 L501.4,80.0 L501.7,80.7 L502.1,81.8 L502.4,82.9 L502.7,83.9 L503.0,84.5 L503.3,85.2 L503.6,85.9 L504.0,86.4 L504.3,87.0 L504.6,87.6 L504.9,88.3 L505.2,89.0 L505.6,89.7 L505.9,91.3 L506.2,92.9 L506.5,94.4 L506.8,94.7 L507.2,94.7 L507.5,94.7 L507.8,95.4 L508.0,96.4 L508.2,97.3 L508.4,98.1 L508.6,98.9 L508.8,99.7 L509.0,100.5 L509.3,101.6 L509.5,102.6 L509.7,103.6 L509.9,103.9 L510.1,104.3 L510.3,104.7 L510.5,105.8 L510.7,106.9 L510.9,108.0 L511.1,108.8 L511.3,109.5 L511.5,110.2 L511.7,111.1 L512.0,112.3 L512.2,113.5 L512.4,114.2 L512.6,114.3 L512.8,114.4 L513.0,114.8 L513.2,115.8 L513.4,116.9 L513.6,117.9 L513.8,118.8 L514.0,119.8 L514.2,120.7 L514.4,121.8 L514.6,123.0 L514.9,124.2 L515.1,124.8 L515.3,125.3 L515.5,125.7 L515.7,126.3 L515.9,127.0 L516.1,127.8 L516.3,128.6 L516.5,129.5 L516.7,130.4 L516.9,131.4 L517.0,131.8 L517.2,132.3 L517.4,132.8 L517.6,133.3 L517.8,133.9 L518.0,134.5 L518.2,135.3 L518.4,136.5 L518.6,137.7 L518.8,138.8 L518.9,139.9 L519.1,141.0 L519.3,142.1 L519.5,142.7 L519.7,143.4 L519.9,144.0 L520.1,144.5 L520.3,144.9 L520.5,145.3 L520.6,146.0 L520.8,147.2 L521.0,148.3 L521.2,149.3 L521.4,150.3 L521.6,151.2 L521.8,152.0 L522.0,152.3 L522.2,152.7 L522.3,153.0 L522.5,153.9 L522.7,154.9 L522.9,155.9 L523.1,156.7 L523.3,157.3 L523.5,157.9 L523.7,158.5 L523.9,159.2 L524.1,159.9 L524.2,160.6 L524.4,161.4 L524.6,162.2 L524.8,163.1 L525.0,163.8 L525.3,164.5 L525.6,165.2 L525.9,166.0 L526.2,166.9 L526.5,167.8 L526.8,168.5 L527.1,169.0 L527.4,169.5 L527.6,170.1 L527.9,171.2 L528.2,172.2 L528.5,173.3 L528.8,173.8 L529.1,174.3 L529.4,174.8 L529.7,176.0 L530.0,177.3 L530.3,178.6 L530.6,179.5 L530.9,180.1 L531.2,180.7 L531.5,181.2 L531.8,181.4 L532.1,181.7 L532.4,182.4 L532.6,183.8 L532.9,185.2 L533.2,186.4 L533.5,186.6 L533.8,186.9 L534.1,187.2 L534.4,188.2 L534.7,189.2 L535.0,190.2 L535.2,191.1 L535.4,191.9 L535.7,192.8 L535.9,193.5 L536.1,194.1 L536.3,194.7 L536.6,195.4 L536.8,196.2 L537.0,196.9 L537.2,197.7 L537.5,198.6 L537.7,199.5 L537.9,200.4 L538.1,200.9 L538.4,201.5 L538.6,202.1 L538.8,203.5 L539.0,204.8 L539.3,206.2 L539.5,206.6 L539.7,206.7 L539.9,206.9 L540.2,208.0 L540.4,209.3 L540.6,210.7 L540.8,211.5 L541.1,211.8 L541.3,212.1 L541.5,212.6 L541.7,211.9 L541.9,211.2 L542.1,210.5 L542.3,209.8 L542.5,209.0 L542.7,208.3 L542.9,207.3 L543.0,206.2 L543.2,205.2 L543.4,204.3 L543.6,203.6 L543.8,202.9 L544.0,202.3 L544.2,201.7 L544.4,201.1 L544.6,200.5 L544.8,199.8 L545.0,199.1 L545.2,198.3 L545.4,197.9 L545.6,197.5 L545.8,197.0 L546.0,196.4 L546.1,195.7 L546.3,195.0 L546.5,193.9 L546.7,192.4 L546.9,190.9 L547.1,189.6 L547.3,189.2 L547.5,188.9 L547.7,188.4 L547.9,187.3 L548.1,186.2 L548.3,185.1 L548.5,184.7 L548.7,184.5 L548.9,184.2 L549.1,183.5 L549.2,182.3 L549.4,181.2 L549.6,180.3 L549.8,179.9 L550.0,179.6 L550.2,179.2 L550.4,178.2 L550.6,177.1 L550.8,176.1 L551.0,176.5 L551.2,177.0 L551.4,177.4 L551.7,178.1 L551.9,178.8 L552.1,179.5 L552.3,180.3 L552.5,181.3 L552.7,182.3 L552.9,183.5 L553.2,184.8 L553.4,186.1 L553.6,187.1 L553.8,187.3 L554.0,187.5 L554.2,187.8 L554.5,188.9 L554.7,190.0 L554.9,191.0 L555.1,191.8 L555.3,192.5 L555.5,193.2 L555.7,193.9 L556.0,194.7 L556.2,195.5 L556.4,196.6 L556.6,197.8 L557.0,198.8 L557.4,199.4 L557.8,199.7 L558.2,199.9 L558.6,200.4 L559.0,201.5 L559.4,202.6 L559.8,203.7 L560.2,204.3 L560.6,205.0 L561.0,205.6 L561.3,206.5 L561.7,207.4 L562.1,208.3 L562.5,208.9 L562.9,209.3 L563.3,209.7 L563.7,210.3 L564.1,211.3 L564.5,212.3 L564.9,213.2 L565.3,213.5 L565.9,213.7 L566.5,213.9 L567.1,214.7 L567.7,215.4 L568.3,216.1 L568.9,216.7 L569.5,217.4 L570.1,218.0 L570.6,218.8 L571.2,219.6 L571.8,220.3 L572.4,221.0 L573.0,221.7 L573.6,222.3 L574.2,222.5 L574.8,222.4 L575.4,222.4 L576.1,222.5 L576.8,223.0 L577.5,223.4 L578.2,224.0 L578.9,224.7 L579.6,225.5 L580.3,226.2 L581.0,226.9 L581.8,227.5 L582.5,228.1 L583.2,228.3 L583.9,228.5 L584.6,228.7 L585.3,228.9 L586.0,229.1 L586.7,229.4 L587.4,230.2 L588.1,231.2 L588.8,232.0 L589.6,232.2 L590.3,232.0 L591.1,231.8 L591.8,231.7 L592.5,231.8 L593.3,232.0 L594.0,232.2 L594.8,232.4 L595.5,232.7 L596.3,233.0 L597.0,233.3 L597.7,233.6 L598.5,233.9 L599.2,234.6 L600.0,235.5 L600.7,236.4 L601.5,236.7 L602.2,236.6 L602.9,236.4 L603.7,236.5 L604.4,237.3 L605.2,238.1 L605.9,238.9 L606.7,239.3 L607.4,239.7 L608.2,240.1 L608.9,240.5 L609.7,240.9 L610.4,241.3 L611.2,241.5 L611.9,241.6 L612.7,241.8 L613.5,241.8 L614.2,241.8 L615.0,241.8 L615.7,241.8 L616.5,242.3 L617.2,242.7 L618.0,243.2 L618.7,243.6 L619.5,244.1 L620.3,244.5 L621.0,244.8 L621.8,245.0 L622.5,245.2 L623.3,245.2 L624.0,245.2 L624.8,245.1 L625.5,245.3 L626.3,245.9 L627.1,246.5 L627.9,247.0 L628.6,246.7 L629.4,246.3 L630.2,246.0 L631.0,246.2 L631.8,246.6 L632.5,246.9 L633.3,247.5 L634.1,248.2 L634.9,249.0 L635.7,249.4 L636.5,249.1 L637.2,248.9 L638.0,248.7 L638.8,248.7 L639.6,248.7 L640.4,248.7 L641.1,249.3 L641.9,249.9 L642.7,250.5 L643.5,250.6 L644.3,250.6 L645.0,250.5 L645.8,250.4 L646.6,250.2 L647.4,249.9 L648.2,249.8 L649.0,249.9 L649.8,250.1 L650.6,250.2 L651.5,250.5 L652.3,250.8 L653.1,251.2 L653.9,251.4 L654.7,251.6 L655.5,251.7 L656.3,252.2 L657.1,252.8 L657.9,253.5 L658.7,253.6 L659.5,253.1 L660.4,252.7 L661.2,252.6 L662.0,253.2 L662.8,253.8 L663.6,254.4 L664.4,254.5 L665.2,254.6 L666.0,254.7 L666.8,254.5 L667.6,254.2 L668.4,254.0 L669.2,254.2 L670.0,254.8 L670.8,255.4 L671.6,255.6 L672.4,255.5 L673.2,255.4 L674.0,255.3 L674.8,255.2 L675.6,255.1 L676.4,254.9 L677.2,254.8 L678.0,254.8 L678.8,254.7 L679.6,254.8 L680.4,255.1 L681.2,255.3 L682.0,255.7 L682.8,256.1 L683.6,256.6 L684.4,256.8 L685.2,256.6 L686.0,256.4 L686.8,256.2 L687.6,256.0 L688.4,255.9 L689.2,255.7 L690.0,255.9 L690.8,256.1 L691.6,256.3 L692.4,256.5 L693.2,256.7 L694.0,256.9" fill="none" stroke="#22eeee" stroke-width="2.0" stroke-linejoin="round" stroke-linecap="round" />
<path d="M412.2,210.9 L412.4,210.5 L412.7,210.2 L412.9,209.9 L413.1,209.2 L413.4,208.4 L413.6,207.6 L413.8,206.9 L414.1,206.4 L414.3,205.8 L414.5,205.1 L414.8,203.8 L415.0,202.5 L415.2,201.3 L415.5,200.5 L415.7,199.7 L416.0,198.9 L416.4,198.5 L416.7,198.1 L417.1,197.7 L417.4,197.0 L417.7,196.1 L418.1,195.3 L418.4,194.3 L418.7,193.3 L419.1,192.3 L419.4,191.5 L419.8,191.1 L420.1,190.6 L420.4,189.9 L420.8,188.9 L421.1,187.9 L421.4,187.1 L421.8,186.6 L422.1,186.1 L422.4,185.4 L422.7,184.1 L423.1,182.8 L423.4,181.6 L423.7,180.9 L424.1,180.2 L424.4,179.6 L424.6,179.3 L424.8,179.0 L424.9,178.8 L425.1,177.6 L425.3,176.4 L425.5,175.2 L425.7,174.3 L425.8,173.4 L426.0,172.5 L426.2,171.9 L426.4,171.6 L426.6,171.2 L426.7,170.6 L426.9,169.7 L427.1,168.8 L427.3,167.8 L427.5,166.7 L427.6,165.5 L427.8,164.4 L428.0,163.8 L428.2,163.3 L428.4,162.8 L428.6,162.2 L428.8,161.5 L429.0,160.7 L429.2,159.7 L429.4,158.6 L429.6,157.4 L429.8,156.5 L430.0,156.1 L430.2,155.7 L430.4,155.0 L430.6,153.8 L430.8,152.6 L431.0,151.5 L431.2,150.8 L431.4,150.2 L431.6,149.5 L431.8,148.5 L432.0,147.5 L432.2,146.5 L432.4,145.8 L432.6,145.1 L432.8,144.4 L433.0,144.0 L433.1,143.8 L433.3,143.6 L433.4,142.8 L433.6,141.6 L433.7,140.4 L433.8,139.5 L434.0,139.1 L434.1,138.7 L434.3,138.3 L434.4,137.1 L434.5,135.9 L434.7,134.7 L434.8,134.0 L435.0,133.3 L435.1,132.6 L435.2,132.0 L435.4,131.4 L435.5,130.8 L435.7,130.1 L435.8,129.2 L435.9,128.2 L436.1,127.3 L436.2,126.0 L436.4,124.8 L436.5,123.6 L437.3,123.5 L438.1,123.5 L439.0,123.4 L439.8,123.1 L439.9,122.3 L440.1,121.5 L440.2,120.4 L440.4,119.3 L440.5,118.2 L440.7,117.3 L440.8,116.4 L441.0,115.6 L441.1,115.1 L441.2,114.9 L441.4,114.7 L441.5,114.2 L441.7,113.1 L441.8,112.1 L442.0,111.0 L442.1,110.0 L442.3,109.0 L442.4,107.9 L442.6,107.3 L442.7,106.7 L442.8,106.1 L443.0,105.3 L443.1,104.3 L443.3,103.3 L443.4,102.6 L443.6,102.2 L443.7,101.9 L443.9,101.4 L444.0,100.4 L444.2,99.4 L444.3,98.4 L444.4,97.4 L444.6,96.3 L444.7,95.2 L444.9,94.6 L445.0,94.3 L445.2,94.1 L445.3,93.4 L445.5,92.1 L445.6,90.8 L445.8,89.5 L445.9,88.9 L446.1,88.2 L446.2,87.6 L446.4,86.6 L446.5,85.6 L446.7,84.6 L446.9,84.2 L447.0,83.9 L447.2,83.6 L447.3,82.8 L447.5,81.5 L447.6,80.2 L447.8,79.3 L447.9,78.8 L448.1,78.3 L448.3,77.6 L448.4,76.5 L448.6,75.4 L448.7,74.3 L448.9,73.8 L449.0,73.3 L449.2,72.7 L449.4,72.1 L449.5,71.5 L449.7,70.8 L449.8,70.0 L450.0,69.1 L450.1,68.1 L450.3,67.3 L450.4,66.4 L450.6,65.5 L450.8,66.3 L451.0,67.1 L451.2,67.9 L451.4,68.7 L451.6,69.4 L451.8,70.1 L452.0,70.9 L452.2,71.7 L452.5,72.6 L452.7,73.5 L452.9,74.1 L453.1,74.5 L453.3,74.9 L453.5,75.6 L453.7,76.6 L453.9,77.7 L454.6,78.4 L455.3,78.7 L456.1,79.1 L456.8,79.6 L457.5,80.7 L458.2,81.7 L459.0,82.6 L459.7,83.2 L460.1,82.5 L460.5,81.5 L460.8,80.0 L461.2,78.6 L461.6,77.4 L462.0,76.7 L462.4,76.0 L462.8,75.4 L463.1,75.1 L463.5,74.8 L463.9,74.4 L464.7,74.0 L465.6,73.7 L466.4,73.3 L467.2,72.6 L468.0,71.9 L468.9,71.4 L469.7,71.7 L470.0,71.5 L470.4,71.2 L470.7,70.7 L471.0,70.1 L471.4,69.5 L471.7,68.5 L472.0,67.4 L472.3,66.2 L472.7,65.3 L473.0,64.5 L473.3,63.7 L473.6,63.0 L473.9,62.3 L474.2,61.7 L474.6,61.2 L474.9,60.7 L475.2,60.2 L475.5,59.5 L475.8,58.1 L476.1,56.8 L476.4,55.6 L476.8,54.9 L477.1,54.1 L477.4,53.4 L477.7,52.5 L478.0,51.6 L478.3,52.3 L478.5,53.5 L478.8,54.6 L479.1,55.7 L479.4,56.4 L479.6,57.1 L479.9,57.7 L480.2,58.4 L480.4,59.0 L480.7,59.6 L481.0,60.4 L481.3,61.3 L481.5,62.2 L481.8,62.9 L482.1,63.4 L482.4,63.9 L482.6,64.6 L482.9,65.6 L483.1,66.6 L483.3,67.6 L483.6,68.9 L483.8,70.2 L484.0,71.5 L484.2,72.0 L484.4,72.5 L484.6,73.0 L484.9,73.6 L485.1,74.1 L485.3,74.7 L485.5,75.8 L485.7,77.1 L485.9,78.4 L486.2,79.1 L486.4,79.5 L486.6,79.8 L486.8,80.3 L487.0,81.1 L487.2,81.8 L487.5,82.5 L487.7,83.1 L487.9,83.7 L488.3,84.3 L488.6,85.1 L489.0,85.9 L489.3,86.7 L489.7,87.5 L490.1,88.3 L490.4,89.0 L490.8,89.8 L491.2,90.5 L491.5,91.3 L491.9,92.3 L492.2,93.5 L492.6,94.7 L493.0,95.6 L493.3,95.9 L493.7,96.2 L493.9,96.5 L494.1,97.3 L494.3,98.1 L494.4,98.9 L494.6,99.9 L494.8,101.0 L495.0,102.1 L495.2,103.1 L495.4,104.2 L495.6,105.2 L495.8,105.8 L495.9,106.1 L496.1,106.5 L496.3,107.1 L496.5,108.3 L496.7,109.5 L496.9,110.5 L497.1,111.0 L497.3,111.5 L497.4,112.0 L497.6,112.9 L497.8,113.9 L498.0,114.8 L498.2,115.7 L498.4,116.5 L498.6,117.3 L498.8,118.3 L498.9,119.4 L499.1,120.5 L499.3,121.3 L499.5,121.9 L499.8,122.5 L500.2,123.1 L500.5,123.7 L500.8,124.2 L501.2,124.8 L501.5,125.8 L501.8,126.8 L502.2,127.8 L502.5,128.2 L502.8,128.6 L503.2,128.9 L503.5,129.6 L503.8,130.3 L504.1,131.1 L504.5,132.0 L504.8,133.2 L505.1,134.3 L505.5,135.3 L505.8,135.7 L506.1,136.2 L506.5,136.6 L506.8,137.5 L507.1,138.4 L507.5,139.3 L507.8,139.8 L508.2,140.2 L508.5,140.6 L508.9,141.4 L509.2,142.6 L509.6,143.8 L509.9,144.8 L510.3,145.3 L510.6,145.8 L511.0,146.3 L511.3,146.7 L511.7,147.2 L512.0,147.7 L512.4,149.0 L512.8,150.3 L513.1,151.5 L513.5,152.0 L513.8,152.4 L514.2,152.8 L514.5,153.3 L514.9,154.0 L515.2,154.6 L515.6,155.3 L515.9,156.0 L516.3,156.7 L516.5,157.4 L516.8,158.0 L517.0,158.7 L517.3,159.4 L517.5,160.2 L517.8,161.1 L518.0,162.0 L518.2,163.1 L518.5,164.3 L518.7,165.4 L519.0,165.9 L519.2,166.2 L519.4,166.6 L519.7,167.3 L519.9,168.2 L520.2,169.0 L520.4,169.9 L520.6,170.9 L520.9,171.8 L521.1,172.7 L521.4,173.5 L521.6,174.4 L521.9,175.2 L522.1,175.9 L522.6,176.4 L523.1,177.0 L523.5,178.0 L524.0,179.0 L524.5,180.0 L525.0,180.3 L525.4,180.6 L525.9,180.9 L526.4,181.6 L526.9,182.3 L527.3,183.1 L527.8,183.8 L528.3,184.6 L528.8,185.3 L529.2,185.9 L529.7,186.3 L530.2,186.8 L530.7,187.4 L531.1,188.1 L531.6,188.9 L532.1,189.6 L532.4,190.3 L532.8,191.0 L533.1,191.7 L533.5,192.9 L533.8,194.1 L534.2,195.3 L534.5,195.6 L534.9,195.9 L535.2,196.2 L535.6,197.2 L535.9,198.4 L536.3,199.5 L536.6,200.2 L537.0,200.6 L537.3,201.0 L537.7,201.7 L538.0,202.8 L538.4,203.8 L538.7,204.8 L539.1,205.6 L539.4,206.3 L539.8,207.0 L540.1,207.5 L540.5,208.0 L540.8,208.6 L541.2,209.7 L541.5,210.9 L541.7,210.6 L541.9,209.7 L542.1,208.6 L542.3,207.6 L542.5,206.7 L542.7,205.8 L542.9,204.9 L543.1,203.9 L543.3,202.7 L543.5,201.5 L543.7,200.6 L543.9,200.1 L544.1,199.5 L544.3,198.9 L544.5,198.0 L544.7,197.1 L544.9,196.2 L545.1,195.5 L545.3,194.9 L545.5,194.2 L545.7,193.8 L545.9,193.3 L546.1,192.9 L546.3,192.1 L546.5,191.2 L546.7,190.4 L546.8,189.1 L547.0,187.7 L547.1,186.3 L547.3,185.5 L547.5,185.2 L547.6,184.8 L547.8,184.4 L547.9,183.8 L548.1,183.2 L548.3,182.5 L548.4,181.4 L548.6,180.3 L548.7,179.2 L548.9,178.1 L549.0,176.9 L549.2,175.8 L549.4,175.4 L549.5,175.2 L549.7,174.9 L549.8,174.2 L550.0,173.1 L550.2,171.9 L550.3,171.1 L550.5,170.7 L550.6,170.3 L550.8,169.8 L551.0,170.6 L551.1,171.3 L551.3,172.0 L551.4,172.8 L551.6,173.5 L551.8,174.3 L551.9,175.2 L552.1,176.0 L552.2,176.9 L552.4,177.3 L552.6,177.5 L552.7,177.6 L552.9,178.3 L553.0,179.7 L553.2,181.0 L553.3,182.1 L553.5,182.5 L553.7,183.0 L553.8,183.4 L554.0,184.1 L554.1,184.8 L554.3,185.4 L554.5,186.4 L554.6,187.4 L554.8,188.4 L554.9,189.3 L555.1,190.3 L555.4,191.2 L555.7,191.8 L556.0,192.1 L556.3,192.4 L556.5,193.0 L556.8,194.1 L557.1,195.2 L557.4,196.3 L557.7,197.3 L558.0,198.3 L558.3,199.3 L558.6,199.9 L558.8,200.4 L559.1,201.0 L559.4,201.7 L559.7,202.5 L560.0,203.3 L560.4,203.9 L560.8,204.5 L561.2,205.0 L561.6,205.9 L562.0,207.2 L562.4,208.5 L562.9,209.3 L563.3,209.5 L563.7,209.7 L564.1,210.2 L564.5,211.3 L564.9,212.3 L565.3,213.3 L565.9,213.9 L566.5,214.5 L567.1,214.9 L567.7,215.0 L568.3,215.1 L568.9,215.4 L569.5,216.8 L570.1,218.2 L570.6,219.5 L571.2,219.5 L571.8,219.5 L572.4,219.5 L573.0,220.6 L573.6,221.8 L574.2,223.0 L574.8,223.6 L575.4,224.2 L576.1,224.6 L576.8,225.0 L577.5,225.4 L578.2,225.8 L578.9,226.2 L579.6,226.6 L580.3,227.0 L581.0,227.3 L581.8,227.4 L582.5,227.5 L583.2,227.7 L583.9,228.2 L584.6,228.6 L585.3,229.1 L586.0,229.5 L586.7,229.8 L587.4,230.3 L588.1,231.2 L588.8,231.9 L589.6,232.7 L590.3,232.4 L591.1,232.0 L591.8,231.7 L592.5,231.9 L593.3,232.3 L594.0,232.7 L594.8,233.4 L595.5,234.3 L596.3,235.3 L597.0,236.0 L597.7,236.2 L598.5,236.4 L599.2,236.6 L600.0,236.9 L600.7,237.1 L601.5,237.4 L602.2,237.8 L602.9,238.4 L603.7,238.9 L604.4,239.0 L605.2,239.0 L605.9,239.0 L606.7,239.3 L607.4,239.8 L608.2,240.3 L608.9,240.7 L609.7,240.7 L610.4,240.7 L611.2,240.7 L611.9,241.3 L612.7,241.9 L613.5,242.6 L614.2,242.4 L615.0,242.0 L615.7,241.7 L616.5,241.9 L617.2,242.5 L618.0,243.0 L618.7,243.5 L619.5,243.9 L620.3,244.3 L621.0,244.7 L621.8,245.2 L622.5,245.6 L623.3,246.1 L624.0,246.1 L624.8,246.1 L625.5,246.1 L626.3,246.5 L627.1,246.8 L627.9,247.2 L628.7,247.5 L629.5,247.9 L630.4,248.3 L631.2,248.4 L632.0,248.1 L632.8,247.8 L633.6,247.6 L634.4,247.6 L635.2,247.6 L636.0,247.6 L636.9,247.6 L637.7,247.6 L638.5,247.7 L639.3,248.4 L640.1,249.2 L640.9,250.0 L641.7,250.0 L642.5,249.9 L643.4,249.7 L644.2,249.7 L645.0,249.8 L645.8,249.9 L646.6,250.1 L647.4,250.4 L648.2,250.7 L649.0,250.8 L649.8,250.6 L650.6,250.5 L651.5,250.5 L652.3,250.8 L653.1,251.0 L653.9,251.3 L654.7,251.5 L655.5,251.7 L656.3,251.8 L657.1,252.0 L657.9,252.2 L658.7,252.4 L659.5,253.0 L660.4,253.7 L661.2,254.3 L662.0,254.3 L662.8,254.0 L663.6,253.7 L664.4,253.6 L665.2,253.6 L666.0,253.5 L666.8,253.7 L667.6,254.3 L668.4,255.0 L669.2,255.5 L670.0,255.3 L670.8,255.2 L671.6,255.0 L672.4,254.7 L673.2,254.3 L674.0,254.0 L674.8,254.2 L675.6,254.8 L676.4,255.3 L677.2,255.6 L678.0,255.7 L678.8,255.8 L679.6,255.8 L680.4,255.9 L681.2,255.9 L682.0,255.9 L682.8,256.1 L683.6,256.2 L684.4,256.4 L685.2,256.3 L686.0,256.1 L686.8,255.9 L687.6,255.7 L688.4,255.6 L689.2,255.5 L690.0,255.5 L690.8,256.0 L691.6,256.4 L692.4,256.9 L693.2,256.9 L694.0,256.9" fill="none" stroke="#1a1a1a" stroke-width="2.0" stroke-linejoin="round" stroke-linecap="round" />
<path d="M412.2,218.7 L412.5,217.3 L412.8,215.8 L413.0,214.3 L413.3,213.8 L413.6,213.6 L413.9,213.4 L414.1,212.7 L414.4,211.5 L414.7,210.3 L415.0,209.4 L415.3,209.3 L415.5,209.1 L415.8,209.0 L416.1,207.5 L416.4,206.0 L416.7,204.6 L416.9,204.2 L417.2,204.0 L417.5,203.9 L417.8,203.4 L418.0,202.5 L418.3,201.6 L418.6,200.8 L418.9,200.2 L419.2,199.5 L419.5,198.9 L419.8,198.3 L420.1,197.6 L420.4,197.0 L420.7,195.7 L421.0,194.4 L421.3,193.1 L421.7,192.2 L422.0,191.5 L422.3,190.8 L422.6,190.3 L422.9,189.8 L423.2,189.3 L423.5,188.7 L423.8,187.6 L424.1,186.5 L424.4,185.5 L424.7,184.7 L424.9,183.9 L425.2,183.1 L425.4,182.3 L425.7,181.4 L426.0,180.6 L426.2,180.2 L426.5,179.9 L426.7,179.6 L427.0,179.0 L427.2,178.2 L427.5,177.5 L427.8,176.6 L428.0,175.8 L428.3,175.0 L428.5,174.0 L428.8,172.7 L429.1,171.5 L429.3,170.5 L429.6,170.3 L429.8,170.0 L430.1,169.7 L430.3,168.6 L430.5,167.4 L430.7,166.3 L430.9,165.3 L431.1,164.3 L431.3,163.3 L431.5,162.6 L431.7,161.9 L431.9,161.3 L432.1,160.5 L432.3,159.7 L432.5,158.9 L432.7,157.9 L432.9,156.8 L433.1,155.8 L433.3,155.0 L433.5,154.5 L433.7,154.1 L433.9,153.5 L434.1,152.6 L434.3,151.6 L434.5,150.7 L434.7,150.1 L434.9,149.4 L435.1,148.8 L435.4,148.3 L435.6,147.7 L435.9,147.2 L436.1,146.3 L436.4,145.3 L436.7,144.3 L436.9,143.3 L437.2,142.3 L437.5,141.3 L437.7,140.7 L438.0,140.3 L438.2,139.8 L438.5,139.3 L438.8,138.6 L439.0,137.9 L439.3,137.0 L439.5,135.9 L439.8,134.7 L439.9,133.7 L440.1,133.2 L440.2,132.7 L440.3,132.3 L440.5,130.8 L440.6,129.3 L440.8,127.8 L440.9,126.9 L441.0,126.2 L441.2,125.5 L441.3,124.8 L441.4,124.0 L441.6,123.2 L441.7,122.7 L441.9,122.4 L442.0,122.2 L442.1,121.9 L442.3,120.9 L442.4,119.9 L442.5,118.9 L442.7,118.1 L442.8,117.4 L442.9,116.6 L443.1,115.6 L443.2,114.4 L443.4,113.3 L443.5,112.4 L443.6,111.8 L443.8,111.2 L443.9,110.5 L444.0,110.0 L444.2,109.5 L444.3,109.0 L444.4,107.6 L444.6,106.2 L444.7,104.8 L444.9,103.9 L445.0,103.2 L445.1,102.4 L445.3,101.5 L445.4,100.7 L445.5,99.8 L445.7,99.2 L445.8,98.7 L446.0,98.2 L446.1,97.7 L446.2,97.2 L446.4,96.7 L446.5,96.1 L446.6,95.1 L446.8,94.1 L446.9,93.1 L447.0,92.2 L447.2,91.3 L447.3,90.4 L447.5,89.5 L447.6,88.8 L447.7,88.1 L447.9,87.3 L448.0,86.2 L448.1,85.2 L448.3,84.3 L448.4,84.1 L448.5,83.8 L448.7,83.6 L448.8,82.4 L449.0,81.2 L449.1,79.9 L449.2,79.0 L449.4,78.1 L449.5,77.2 L449.6,76.4 L449.8,75.6 L449.9,74.9 L450.1,74.3 L450.2,73.8 L450.3,73.4 L450.5,72.9 L450.6,71.8 L450.7,72.2 L450.9,72.6 L451.0,73.7 L451.2,74.9 L451.3,76.2 L451.5,76.9 L451.6,77.2 L451.7,77.6 L451.9,78.2 L452.0,79.0 L452.2,79.9 L452.3,80.7 L452.5,81.2 L452.6,81.7 L452.8,82.3 L452.9,83.6 L453.0,85.0 L453.2,86.4 L453.3,87.4 L453.5,88.1 L453.6,88.8 L453.8,89.4 L453.9,90.0 L454.7,89.9 L455.6,89.9 L456.4,89.9 L457.2,89.8 L458.0,90.0 L458.9,90.5 L459.7,91.1 L460.0,90.5 L460.4,89.7 L460.7,88.8 L461.0,88.1 L461.4,87.7 L461.7,87.3 L462.0,86.9 L462.4,86.2 L462.7,85.5 L463.0,84.9 L463.4,84.0 L463.7,83.1 L464.1,82.3 L464.4,81.3 L464.7,80.2 L465.1,79.1 L465.4,78.1 L465.7,77.1 L466.1,76.2 L466.4,75.4 L467.2,76.4 L468.0,77.3 L468.9,78.2 L469.7,78.5 L470.5,78.8 L471.3,79.0 L471.5,77.6 L471.7,76.3 L471.9,74.9 L472.1,74.3 L472.3,73.8 L472.4,73.2 L472.6,72.5 L472.8,71.7 L473.0,70.9 L473.2,70.3 L473.4,69.9 L473.6,69.5 L473.8,68.9 L474.0,67.4 L474.2,65.9 L474.4,64.5 L474.6,63.7 L474.7,62.9 L474.9,62.1 L475.1,61.8 L475.3,61.6 L475.5,61.4 L475.7,60.8 L475.9,59.8 L476.1,58.8 L476.3,57.9 L476.5,57.0 L476.7,56.1 L476.9,55.3 L477.0,54.7 L477.2,54.2 L477.4,53.7 L477.6,52.8 L477.8,51.9 L478.0,51.0 L478.3,51.7 L478.6,52.6 L478.9,53.4 L479.2,54.1 L479.5,54.6 L479.8,55.0 L480.1,55.5 L480.4,56.1 L480.8,56.8 L481.1,57.4 L481.4,58.2 L481.7,58.9 L482.0,59.6 L482.3,60.6 L482.6,61.7 L482.9,62.7 L483.1,63.7 L483.2,64.7 L483.4,65.8 L483.6,66.5 L483.7,67.1 L483.9,67.6 L484.0,68.3 L484.2,69.1 L484.4,69.8 L484.5,70.7 L484.7,71.7 L484.9,72.7 L485.0,73.6 L485.2,74.5 L485.4,75.3 L485.5,76.2 L485.7,76.9 L485.9,77.6 L486.0,78.3 L486.2,79.0 L486.3,79.6 L486.5,80.1 L486.7,80.9 L486.8,82.1 L487.0,83.3 L487.2,84.4 L487.3,85.1 L487.5,85.9 L487.7,86.7 L487.8,87.5 L488.0,88.4 L488.1,89.3 L488.3,90.1 L488.5,90.9 L488.6,91.6 L488.8,92.1 L489.0,92.3 L489.1,92.4 L489.3,92.8 L489.5,94.1 L489.6,95.3 L489.8,96.6 L489.9,97.2 L490.1,97.7 L490.3,98.3 L490.4,99.0 L490.6,99.8 L490.8,100.7 L490.9,101.5 L491.1,102.4 L491.3,103.3 L491.4,104.1 L491.6,104.6 L491.8,105.1 L491.9,105.6 L492.1,106.5 L492.2,107.4 L492.4,108.2 L492.6,109.5 L492.7,110.8 L492.9,112.2 L493.2,112.8 L493.5,113.1 L493.9,113.3 L494.2,114.0 L494.5,115.2 L494.8,116.3 L495.1,117.4 L495.5,118.0 L495.8,118.5 L496.1,119.1 L496.4,119.6 L496.7,120.1 L497.1,120.5 L497.4,121.2 L497.7,122.0 L498.0,122.7 L498.3,123.6 L498.6,124.6 L499.0,125.6 L499.3,126.5 L499.6,127.3 L499.9,128.1 L500.2,128.8 L500.6,129.3 L500.9,129.8 L501.2,130.3 L501.5,130.8 L501.8,131.3 L502.2,131.9 L502.5,132.7 L502.8,133.5 L503.1,134.3 L503.5,135.4 L503.8,136.7 L504.2,138.0 L504.5,138.9 L504.8,139.6 L505.2,140.2 L505.5,140.8 L505.9,141.0 L506.2,141.3 L506.5,141.7 L506.9,143.0 L507.2,144.3 L507.5,145.6 L507.9,146.2 L508.2,146.7 L508.6,147.3 L508.9,147.8 L509.2,148.4 L509.6,149.0 L509.9,149.9 L510.3,151.0 L510.6,152.2 L510.9,153.0 L511.2,153.2 L511.5,153.3 L511.8,153.7 L512.1,154.4 L512.4,155.2 L512.8,155.9 L513.1,156.9 L513.4,157.8 L513.7,158.8 L514.0,159.9 L514.3,160.9 L514.6,162.0 L514.9,162.7 L515.2,163.3 L515.5,163.9 L515.8,164.6 L516.1,165.4 L516.4,166.1 L516.7,167.0 L517.1,168.1 L517.4,169.2 L517.7,170.0 L518.0,170.4 L518.3,170.7 L518.6,171.3 L518.9,172.4 L519.2,173.4 L519.4,174.4 L519.6,174.6 L519.8,174.8 L520.1,175.0 L520.3,176.3 L520.5,177.7 L520.7,179.1 L520.9,179.7 L521.1,180.0 L521.4,180.3 L521.6,181.2 L521.8,182.3 L522.0,183.5 L522.2,184.6 L522.4,185.5 L522.6,186.4 L522.9,187.3 L523.1,187.9 L523.3,188.6 L523.5,189.3 L524.0,189.9 L524.5,190.6 L525.0,191.2 L525.4,191.9 L525.9,192.6 L526.4,193.3 L526.9,194.2 L527.4,195.1 L527.8,195.9 L528.3,196.3 L528.8,196.7 L529.3,197.2 L529.6,197.8 L529.9,198.5 L530.2,199.2 L530.5,200.2 L530.8,201.2 L531.1,202.3 L531.4,203.0 L531.7,203.8 L532.0,204.5 L532.3,205.1 L532.6,205.5 L532.8,206.0 L533.1,206.8 L533.4,207.9 L533.7,209.0 L534.0,210.0 L534.3,210.7 L534.6,211.4 L534.9,212.1 L535.2,212.6 L535.5,213.1 L535.8,213.8 L536.1,215.0 L536.4,216.2 L536.8,217.3 L537.3,218.0 L537.7,218.7 L538.2,219.4 L538.6,219.9 L539.1,220.2 L539.5,220.5 L540.0,221.3 L540.4,222.3 L540.9,223.4 L541.3,224.4 L541.8,225.1 L542.2,225.9 L542.5,225.1 L542.8,224.1 L543.1,223.1 L543.3,222.0 L543.6,221.0 L543.9,220.0 L544.2,219.1 L544.5,218.2 L544.8,217.3 L545.0,216.4 L545.3,215.5 L545.6,214.6 L545.9,213.7 L546.2,212.9 L546.5,212.3 L546.8,211.6 L547.0,211.2 L547.3,211.0 L547.6,210.7 L547.9,209.8 L548.0,208.3 L548.1,206.8 L548.2,205.8 L548.4,205.6 L548.5,205.4 L548.6,205.1 L548.7,204.1 L548.8,203.2 L548.9,202.2 L549.0,201.4 L549.1,200.7 L549.2,200.0 L549.4,198.7 L549.5,197.4 L549.6,196.1 L549.7,195.4 L549.8,195.0 L549.9,194.6 L550.0,193.8 L550.1,192.7 L550.3,191.5 L550.4,190.6 L550.5,190.1 L550.6,189.7 L550.7,189.2 L550.8,188.5 L550.9,187.8 L551.0,187.0 L551.2,186.2 L551.3,185.3 L551.4,184.5 L551.5,183.5 L551.7,184.2 L551.8,184.9 L552.0,185.8 L552.2,186.9 L552.4,188.0 L552.5,188.7 L552.7,189.0 L552.9,189.3 L553.0,189.8 L553.2,190.6 L553.4,191.3 L553.6,192.3 L553.7,193.6 L553.9,195.0 L554.1,196.1 L554.2,196.3 L554.4,196.5 L554.6,196.8 L554.8,197.9 L554.9,199.0 L555.1,200.1 L555.5,200.8 L555.8,201.5 L556.1,202.3 L556.5,203.2 L556.9,204.3 L557.2,205.4 L557.5,206.1 L557.9,206.4 L558.2,206.8 L558.6,207.2 L559.0,208.1 L559.3,209.0 L559.6,209.8 L560.0,210.5 L560.7,211.0 L561.3,211.6 L562.0,212.1 L562.6,212.7 L563.3,213.2 L564.0,213.8 L564.6,214.4 L565.3,214.9 L565.9,215.5 L566.6,216.1 L567.2,216.6 L567.8,217.3 L568.5,217.9 L569.1,218.6 L569.7,219.1 L570.3,219.5 L571.0,219.9 L571.6,220.5 L572.2,221.0 L572.9,221.6 L573.5,222.4 L574.1,223.4 L574.8,224.3 L575.4,225.0 L576.1,225.5 L576.8,226.0 L577.5,226.1 L578.2,226.0 L578.9,225.8 L579.6,226.1 L580.3,227.0 L581.0,228.0 L581.8,228.7 L582.5,228.4 L583.2,228.1 L583.9,227.9 L584.6,228.5 L585.3,229.2 L586.0,229.8 L586.7,230.6 L587.4,231.5 L588.1,232.3 L588.9,232.4 L589.6,232.1 L590.4,231.8 L591.2,232.0 L592.0,232.7 L592.7,233.3 L593.5,234.0 L594.3,234.5 L595.1,235.0 L595.8,235.5 L596.6,235.5 L597.4,235.4 L598.2,235.4 L598.9,235.6 L599.7,235.8 L600.5,235.9 L601.3,235.9 L602.0,235.9 L602.8,235.8 L603.6,236.3 L604.4,236.9 L605.1,237.5 L605.9,237.9 L606.7,238.2 L607.4,238.5 L608.2,238.8 L608.9,239.3 L609.7,239.9 L610.4,240.3 L611.2,240.3 L611.9,240.3 L612.7,240.3 L613.5,240.8 L614.2,241.4 L615.0,242.0 L615.7,242.2 L616.5,242.1 L617.2,242.1 L618.0,242.3 L618.7,242.7 L619.5,243.2 L620.3,243.6 L621.0,244.0 L621.8,244.4 L622.5,244.7 L623.3,244.6 L624.0,244.4 L624.8,244.3 L625.5,244.8 L626.3,245.7 L627.1,246.5 L627.9,246.7 L628.7,246.5 L629.5,246.3 L630.4,246.2 L631.2,246.4 L632.0,246.6 L632.8,246.8 L633.6,247.4 L634.4,247.9 L635.2,248.4 L636.0,248.2 L636.9,248.1 L637.7,247.9 L638.5,248.0 L639.3,248.2 L640.1,248.3 L640.9,248.2 L641.7,248.2 L642.5,248.1 L643.4,248.2 L644.2,248.3 L645.0,248.5 L645.8,248.9 L646.6,249.5 L647.4,250.0 L648.2,250.4 L649.0,250.3 L649.8,250.3 L650.6,250.3 L651.5,250.6 L652.3,250.9 L653.1,251.2 L653.9,251.3 L654.7,251.5 L655.5,251.7 L656.3,251.9 L657.1,252.0 L657.9,252.2 L658.7,252.1 L659.5,252.0 L660.4,251.9 L661.2,252.2 L662.0,252.8 L662.8,253.3 L663.6,253.6 L664.4,253.4 L665.2,253.2 L666.0,252.9 L666.8,252.8 L667.6,252.6 L668.4,252.5 L669.2,253.1 L670.0,253.7 L670.8,254.2 L671.6,254.4 L672.4,254.5 L673.2,254.6 L674.0,254.3 L674.8,253.8 L675.6,253.3 L676.4,253.1 L677.2,253.8 L678.0,254.4 L678.8,254.9 L679.6,254.9 L680.4,254.8 L681.2,254.7 L682.0,254.5 L682.8,254.2 L683.6,253.9 L684.4,254.0 L685.2,254.3 L686.0,254.6 L686.8,254.9 L687.6,255.2 L688.4,255.5 L689.2,255.7 L690.0,255.2 L690.8,254.7 L691.6,254.2 L692.4,254.5 L693.2,255.1 L694.0,255.8" fill="none" stroke="#f01e1e" stroke-width="2.0" stroke-linejoin="round" stroke-linecap="round" />
</g>
<rect x="412.20" y="29.80" width="281.80" height="238.10" fill="none" stroke="#1a1a1a" stroke-width="1.6" />
<line x1="443.51" y1="267.90" x2="443.51" y2="264.90" stroke="#1a1a1a" stroke-width="1.4" />
<line x1="443.51" y1="29.80" x2="443.51" y2="32.80" stroke="#1a1a1a" stroke-width="1.4" />
<line x1="506.13" y1="267.90" x2="506.13" y2="264.90" stroke="#1a1a1a" stroke-width="1.4" />
<line x1="506.13" y1="29.80" x2="506.13" y2="32.80" stroke="#1a1a1a" stroke-width="1.4" />
<line x1="568.76" y1="267.90" x2="568.76" y2="264.90" stroke="#1a1a1a" stroke-width="1.4" />
<line x1="568.76" y1="29.80" x2="568.76" y2="32.80" stroke="#1a1a1a" stroke-width="1.4" />
<line x1="631.38" y1="267.90" x2="631.38" y2="264.90" stroke="#1a1a1a" stroke-width="1.4" />
<line x1="631.38" y1="29.80" x2="631.38" y2="32.80" stroke="#1a1a1a" stroke-width="1.4" />
<line x1="412.20" y1="258.70" x2="415.20" y2="258.70" stroke="#1a1a1a" stroke-width="1.4" />
<line x1="694.00" y1="258.70" x2="691.00" y2="258.70" stroke="#1a1a1a" stroke-width="1.4" />
<line x1="412.20" y1="212.92" x2="415.20" y2="212.92" stroke="#1a1a1a" stroke-width="1.4" />
<line x1="694.00" y1="212.92" x2="691.00" y2="212.92" stroke="#1a1a1a" stroke-width="1.4" />
<line x1="412.20" y1="167.14" x2="415.20" y2="167.14" stroke="#1a1a1a" stroke-width="1.4" />
<line x1="694.00" y1="167.14" x2="691.00" y2="167.14" stroke="#1a1a1a" stroke-width="1.4" />
<line x1="412.20" y1="121.36" x2="415.20" y2="121.36" stroke="#1a1a1a" stroke-width="1.4" />
<line x1="694.00" y1="121.36" x2="691.00" y2="121.36" stroke="#1a1a1a" stroke-width="1.4" />
<line x1="412.20" y1="75.58" x2="415.20" y2="75.58" stroke="#1a1a1a" stroke-width="1.4" />
<line x1="694.00" y1="75.58" x2="691.00" y2="75.58" stroke="#1a1a1a" stroke-width="1.4" />
<text x="391.57" y="35.07" font-size="12.99" font-weight="normal" font-style="normal" fill="#3a3a3a" textLength="17.46" lengthAdjust="spacingAndGlyphs" >2.5</text>
<text x="402.39" y="80.98" font-size="13.18" font-weight="normal" font-style="normal" fill="#3a3a3a" textLength="6.71" lengthAdjust="spacingAndGlyphs" >2</text>
<text x="393.03" y="126.63" font-size="13.19" font-weight="normal" font-style="normal" fill="#3a3a3a" textLength="15.96" lengthAdjust="spacingAndGlyphs" >1.5</text>
<text x="403.20" y="172.54" font-size="13.37" font-weight="normal" font-style="normal" fill="#3a3a3a" textLength="5.80" lengthAdjust="spacingAndGlyphs" >1</text>
<text x="391.51" y="218.19" font-size="12.99" font-weight="normal" font-style="normal" fill="#3a3a3a" textLength="17.52" lengthAdjust="spacingAndGlyphs" >0.5</text>
<text x="402.66" y="263.97" font-size="12.99" font-weight="normal" font-style="normal" fill="#3a3a3a" textLength="6.28" lengthAdjust="spacingAndGlyphs" >0</text>
<text x="428.93" y="287.66" font-size="14.12" font-weight="normal" font-style="normal" fill="#3a3a3a" textLength="28.69" lengthAdjust="spacingAndGlyphs" >1400</text>
<text x="491.55" y="287.66" font-size="14.12" font-weight="normal" font-style="normal" fill="#3a3a3a" textLength="28.69" lengthAdjust="spacingAndGlyphs" >1600</text>
<text x="554.17" y="287.66" font-size="14.12" font-weight="normal" font-style="normal" fill="#3a3a3a" textLength="28.69" lengthAdjust="spacingAndGlyphs" >1800</text>
<text x="617.14" y="287.66" font-size="14.12" font-weight="normal" font-style="normal" fill="#3a3a3a" textLength="28.34" lengthAdjust="spacingAndGlyphs" >2000</text>
<text x="679.76" y="287.66" font-size="14.12" font-weight="normal" font-style="normal" fill="#3a3a3a" textLength="28.34" lengthAdjust="spacingAndGlyphs" >2200</text>
<text transform="translate(384.22,198.03) rotate(-90)" x="0" y="0" font-size="13.41" font-weight="normal" font-style="normal" fill="#3a3a3a" textLength="99.56" lengthAdjust="spacingAndGlyphs" >Absorption (%)</text>
<text x="495.44" y="307.72" font-size="13.42" font-weight="normal" font-style="normal" fill="#3a3a3a" textLength="99.39" lengthAdjust="spacingAndGlyphs" >Wavenumber (cm</text>
<text x="594.58" y="301.00" font-size="7.99" font-weight="normal" font-style="normal" fill="#3a3a3a" textLength="8.38" lengthAdjust="spacingAndGlyphs" >-1</text>
<text x="603.88" y="307.72" font-size="13.42" font-weight="normal" font-style="normal" fill="#3a3a3a" textLength="6.91" lengthAdjust="spacingAndGlyphs" >)</text>
<text x="588.06" y="47.45" font-size="15.52" font-weight="normal" font-style="normal" fill="#333" textLength="103.24" lengthAdjust="spacingAndGlyphs" >PMMA thickness</text>
<line x1="618.30" y1="61.00" x2="642.70" y2="61.00" stroke="#2f2ff0" stroke-width="1.8" />
<text x="645.57" y="67.08" font-size="12.57" font-weight="normal" font-style="normal" fill="#222" textLength="26.32" lengthAdjust="spacingAndGlyphs" >0nm</text>
<line x1="618.30" y1="83.75" x2="642.70" y2="83.75" stroke="#22d022" stroke-width="1.8" />
<text x="645.51" y="89.83" font-size="12.57" font-weight="normal" font-style="normal" fill="#222" textLength="26.38" lengthAdjust="spacingAndGlyphs" >8nm</text>
<line x1="618.30" y1="106.50" x2="642.70" y2="106.50" stroke="#22eeee" stroke-width="1.8" />
<text x="646.31" y="112.70" font-size="12.94" font-weight="normal" font-style="normal" fill="#222" textLength="32.65" lengthAdjust="spacingAndGlyphs" >14nm</text>
<line x1="618.30" y1="129.25" x2="642.70" y2="129.25" stroke="#1a1a1a" stroke-width="1.8" />
<text x="645.59" y="135.33" font-size="12.57" font-weight="normal" font-style="normal" fill="#222" textLength="33.39" lengthAdjust="spacingAndGlyphs" >31nm</text>
<line x1="618.30" y1="152.00" x2="642.70" y2="152.00" stroke="#f01e1e" stroke-width="1.8" />
<text x="645.42" y="158.08" font-size="12.57" font-weight="normal" font-style="normal" fill="#222" textLength="33.57" lengthAdjust="spacingAndGlyphs" >64nm</text>
<g clip-path="url(#c_clip)">
<path d="M789.6,138.5 L790.1,138.2 L790.5,137.8 L791.0,137.5 L791.4,137.0 L791.9,136.3 L792.3,135.6 L792.8,134.9 L793.2,134.1 L793.7,133.3 L794.1,132.5 L794.6,131.7 L794.7,132.4 L794.8,133.0 L794.9,133.6 L795.0,134.4 L795.1,135.6 L795.2,136.7 L795.3,137.9 L795.4,138.9 L795.5,139.7 L795.6,140.5 L795.7,141.3 L795.9,141.9 L796.0,142.5 L796.1,143.1 L796.2,143.8 L796.3,144.6 L796.4,145.3 L796.5,146.1 L796.6,146.9 L796.7,147.5 L796.8,148.1 L796.9,148.7 L797.0,149.4 L797.1,150.0 L797.5,149.2 L797.9,148.3 L798.4,147.8 L798.8,147.4 L799.2,146.9 L799.6,146.4 L799.8,147.3 L800.0,148.3 L800.3,149.2 L800.5,149.9 L800.7,150.3 L800.9,150.7 L801.1,151.2 L801.4,152.3 L801.6,153.5 L801.8,154.8 L802.0,155.9 L802.2,156.4 L802.5,156.8 L802.7,157.2 L802.9,157.8 L802.9,156.9 L803.0,156.1 L803.0,155.3 L803.1,154.3 L803.1,153.4 L803.2,152.4 L803.2,151.6 L803.2,151.4 L803.3,151.2 L803.3,151.0 L803.4,150.3 L803.4,149.3 L803.4,148.3 L803.5,147.3 L803.5,146.6 L803.6,145.8 L803.6,145.1 L803.7,144.3 L803.7,143.3 L804.3,142.5 L804.9,141.7 L805.5,140.8 L806.1,139.8 L806.7,138.9 L807.3,138.0 L807.9,137.6 L808.0,138.6 L808.1,139.7 L808.2,140.6 L808.2,141.6 L808.3,142.5 L808.4,143.5 L808.5,144.0 L808.6,144.6 L808.7,145.2 L808.7,146.1 L808.8,147.4 L808.9,148.8 L809.0,150.2 L809.1,150.9 L809.2,151.3 L809.2,151.7 L809.3,152.2 L809.4,152.9 L809.5,153.6 L809.6,152.6 L809.7,152.0 L809.8,151.6 L809.9,151.2 L810.0,150.9 L810.1,149.8 L810.2,148.5 L810.3,147.3 L810.3,146.1 L810.4,145.8 L810.5,145.5 L810.6,145.3 L810.7,144.6 L810.8,143.5 L810.9,142.4 L811.0,141.3 L811.1,140.4 L811.2,139.7 L811.3,139.0 L811.4,138.2 L811.5,137.3 L811.6,136.3 L811.7,135.4 L811.8,134.5 L811.9,133.8 L812.0,133.1 L812.0,132.4 L812.1,131.5 L812.2,130.5 L812.3,129.5 L812.4,128.5 L812.5,127.6 L812.6,126.7 L812.7,125.8 L812.8,125.0 L813.0,124.8 L813.2,124.5 L813.4,124.2 L813.6,123.3 L813.8,122.0 L814.0,120.8 L814.3,119.7 L814.5,119.2 L814.7,118.7 L814.9,118.3 L815.1,117.3 L815.3,116.1 L815.3,115.0 L815.4,113.8 L815.4,113.5 L815.5,113.2 L815.5,112.8 L815.6,112.4 L815.6,111.5 L815.7,110.6 L815.7,109.8 L815.8,108.9 L815.8,108.0 L815.9,107.1 L815.9,106.2 L815.9,105.4 L816.0,104.6 L816.0,103.8 L816.1,103.0 L816.1,102.0 L816.2,101.1 L816.2,100.2 L816.3,99.4 L816.3,98.7 L816.4,97.9 L816.4,97.2 L816.4,96.1 L816.5,94.9 L816.5,93.7 L816.6,92.6 L816.6,92.0 L816.7,91.4 L816.7,90.8 L816.8,90.3 L816.8,89.7 L816.9,89.1 L816.9,88.5 L817.0,87.5 L817.0,86.3 L817.1,86.7 L817.2,87.2 L817.4,88.5 L817.5,89.8 L817.6,91.1 L817.8,92.2 L817.9,93.0 L818.0,93.8 L818.1,94.6 L818.2,95.1 L818.4,95.7 L818.5,96.2 L818.6,96.8 L818.8,97.6 L818.9,98.4 L819.0,99.2 L819.1,100.0 L819.2,100.9 L819.4,101.8 L819.5,102.7 L819.7,101.8 L819.8,101.0 L820.0,100.2 L820.1,99.5 L820.3,99.1 L820.4,98.7 L820.6,98.3 L820.8,97.3 L820.9,96.1 L821.1,94.9 L821.2,93.8 L821.4,92.7 L821.5,91.7 L821.7,90.7 L821.9,89.7 L822.0,89.0 L822.2,88.2 L822.3,87.5 L822.5,87.0 L822.7,86.6 L822.8,86.2 L823.0,85.8 L823.1,85.2 L823.3,84.6 L823.4,84.0 L823.6,83.2 L823.8,83.7 L823.9,84.2 L824.1,84.7 L824.3,85.4 L824.4,86.2 L824.6,87.0 L824.8,87.9 L824.9,88.7 L825.1,89.6 L825.3,90.5 L825.4,91.4 L825.6,92.4 L825.8,93.3 L825.9,94.3 L826.1,94.7 L826.1,93.6 L826.2,92.4 L826.2,91.5 L826.3,91.0 L826.4,90.4 L826.4,89.9 L826.5,89.1 L826.5,88.3 L826.6,87.4 L826.6,86.6 L826.6,85.8 L826.7,85.1 L826.8,84.3 L826.8,83.5 L826.9,82.4 L826.9,81.3 L827.0,80.2 L827.0,79.3 L827.1,78.5 L827.1,77.7 L827.2,76.8 L827.2,76.1 L827.2,75.4 L827.3,74.7 L827.4,74.1 L827.4,73.6 L827.5,73.2 L827.5,72.8 L827.6,72.1 L827.6,71.0 L827.7,69.8 L827.7,68.6 L827.8,69.3 L827.9,70.3 L827.9,71.3 L828.0,72.2 L828.1,72.9 L828.2,73.5 L828.2,74.1 L828.3,74.8 L828.4,75.4 L828.5,76.1 L828.5,76.8 L828.6,77.5 L828.7,78.3 L828.8,79.1 L828.8,79.9 L828.9,81.0 L829.0,82.3 L829.1,83.6 L829.1,84.9 L829.2,85.6 L829.3,86.4 L829.4,87.2 L829.4,87.9 L829.5,88.5 L829.6,89.0 L829.7,89.6 L829.7,90.4 L829.8,91.4 L829.9,92.4 L830.0,93.4 L830.0,94.2 L830.1,95.0 L830.2,95.8 L830.3,95.0 L830.4,94.4 L830.5,93.7 L830.6,93.0 L830.7,92.3 L830.8,91.5 L830.9,90.8 L830.9,90.0 L831.0,88.9 L831.1,87.7 L831.2,86.5 L831.3,85.5 L831.4,85.1 L831.5,84.7 L831.6,84.2 L831.7,83.6 L831.8,82.8 L831.9,81.9 L832.0,81.1 L832.1,80.1 L832.2,79.0 L832.3,78.0 L832.3,77.0 L832.4,76.4 L832.5,75.8 L832.6,75.1 L832.7,74.3 L832.8,73.2 L832.9,72.2 L833.0,71.1 L833.1,70.2 L833.2,69.3 L833.3,68.4 L833.4,67.5 L833.5,66.6 L833.6,65.7 L833.7,64.8 L833.7,64.2 L833.8,63.8 L833.9,63.4 L834.0,63.0 L834.1,61.9 L834.2,60.6 L834.3,59.3 L834.4,58.1 L834.5,58.8 L834.7,59.5 L834.8,60.3 L835.0,61.2 L835.1,62.5 L835.3,63.7 L835.4,65.0 L835.5,65.9 L835.7,66.7 L835.8,67.5 L836.0,68.3 L836.1,68.9 L836.3,69.5 L836.4,70.1 L836.6,70.8 L836.7,71.8 L836.8,72.8 L837.0,73.8 L837.1,74.5 L837.3,74.8 L837.4,75.1 L837.6,75.4 L837.7,76.1 L837.8,75.4 L837.9,74.8 L838.0,74.1 L838.0,73.3 L838.1,72.5 L838.2,71.7 L838.3,71.0 L838.4,70.3 L838.5,69.5 L838.6,68.8 L838.7,68.0 L838.7,67.0 L838.8,66.0 L838.9,65.1 L839.0,64.2 L839.1,63.3 L839.2,62.4 L839.3,61.6 L839.4,61.0 L839.4,60.3 L839.5,59.7 L839.6,59.2 L839.7,58.7 L839.8,58.3 L839.9,57.9 L840.0,57.2 L840.0,56.4 L840.1,55.7 L840.2,54.9 L840.3,53.9 L840.4,53.0 L840.5,52.0 L840.6,51.0 L840.7,50.1 L840.7,49.1 L840.8,48.1 L840.9,47.2 L841.0,46.2 L841.1,46.9 L841.2,47.5 L841.2,48.7 L841.3,50.0 L841.4,51.3 L841.5,52.3 L841.6,52.9 L841.6,53.4 L841.7,53.9 L841.8,54.6 L841.9,55.6 L842.0,56.5 L842.0,57.4 L842.1,57.9 L842.2,58.3 L842.3,58.6 L842.4,59.0 L842.5,59.9 L842.5,60.8 L842.6,61.7 L842.7,62.7 L842.8,63.9 L842.9,65.1 L842.9,66.3 L843.0,67.3 L843.1,68.1 L843.2,68.8 L843.3,69.6 L843.3,70.5 L843.4,71.3 L843.5,72.2 L843.6,71.4 L843.6,70.4 L843.7,69.4 L843.8,68.4 L843.8,67.4 L843.9,66.5 L844.0,65.6 L844.0,64.7 L844.1,63.9 L844.2,63.2 L844.3,62.5 L844.3,61.8 L844.4,61.1 L844.5,60.5 L844.5,59.9 L844.6,59.0 L844.7,57.9 L844.7,56.7 L844.8,55.6 L844.9,54.7 L844.9,54.1 L845.0,53.4 L845.1,52.7 L845.1,51.8 L845.2,50.8 L845.3,49.8 L845.4,49.0 L845.4,48.5 L845.5,48.0 L845.6,47.5 L845.6,46.5 L845.7,45.2 L845.8,43.9 L845.8,42.6 L845.9,42.2 L846.0,41.8 L846.0,41.4 L846.1,41.0 L846.2,40.4 L846.2,39.7 L846.3,39.1 L846.4,38.0 L846.5,36.6 L846.5,35.2 L846.6,33.8 L846.7,33.2 L846.7,32.8 L846.8,32.3 L847.0,33.4 L847.2,34.2 L847.4,35.0 L847.6,35.8 L847.8,36.7 L848.0,37.6 L848.2,38.5 L848.5,39.4 L848.7,40.1 L848.9,40.7 L849.1,41.3 L849.3,41.9 L849.5,42.5 L849.7,43.0 L849.9,43.6 L850.1,44.2 L850.3,43.5 L850.4,42.8 L850.6,42.0 L850.8,41.5 L851.0,41.0 L851.1,40.6 L851.3,40.1 L851.5,39.2 L851.6,38.4 L851.8,37.5 L851.9,38.0 L852.1,38.3 L852.2,38.6 L852.4,38.9 L852.5,39.6 L852.6,40.4 L852.8,41.1 L852.9,41.9 L853.1,42.7 L853.2,43.5 L853.4,44.3 L853.5,45.1 L853.6,45.9 L853.8,46.6 L853.9,47.4 L854.1,48.4 L854.2,49.4 L854.3,50.5 L854.5,51.6 L854.6,52.2 L854.8,52.8 L854.9,53.4 L855.1,54.2 L855.2,55.5 L855.3,56.8 L855.5,58.0 L855.6,58.9 L855.8,59.5 L855.9,60.2 L856.4,59.4 L856.8,58.4 L857.3,57.4 L857.7,56.3 L858.2,55.5 L858.6,55.1 L859.1,54.7 L859.5,54.3 L860.0,53.7 L860.4,52.8 L860.9,52.0 L861.1,52.7 L861.2,53.6 L861.4,54.5 L861.6,55.4 L861.8,56.2 L861.9,56.8 L862.1,57.4 L862.3,58.0 L862.4,58.7 L862.6,59.5 L862.8,60.2 L863.0,61.0 L863.1,61.8 L863.3,62.6 L863.5,63.4 L863.6,64.2 L863.8,65.1 L864.0,66.1 L864.1,67.0 L864.3,67.9 L864.5,68.9 L864.7,69.9 L864.8,70.9 L865.0,71.7 L865.5,72.4 L865.9,73.0 L866.4,73.6 L866.9,74.0 L867.3,74.4 L867.8,74.7 L868.3,75.8 L868.7,77.0 L869.2,78.2 L869.3,79.4 L869.3,80.3 L869.4,81.2 L869.4,82.2 L869.5,83.0 L869.6,83.7 L869.6,84.5 L869.7,85.3 L869.8,86.1 L869.8,87.0 L869.9,87.8 L869.9,88.4 L870.0,88.7 L870.1,89.0 L870.1,89.3 L870.2,90.3 L870.2,91.4 L870.3,92.6 L870.4,93.6 L870.4,94.1 L870.5,94.7 L870.6,95.2 L870.6,96.3 L870.7,97.6 L870.7,98.9 L870.8,100.1 L870.9,100.5 L870.9,101.0 L871.0,101.4 L871.1,102.0 L871.1,103.2 L871.2,104.3 L871.2,105.4 L871.3,106.2 L871.4,106.7 L871.4,107.2 L871.5,107.7 L871.6,108.7 L871.6,109.8 L871.7,110.9 L871.7,111.9 L871.8,112.5 L871.9,113.0 L871.9,113.6 L872.0,114.2 L872.1,114.8 L872.1,115.4 L872.2,116.0 L872.2,116.9 L872.3,117.9 L872.4,118.9 L872.4,119.9 L872.5,120.7 L872.6,121.5 L872.6,122.2 L872.7,123.0 L872.8,124.2 L872.8,125.4 L872.9,126.5 L872.9,127.5 L873.0,127.9 L873.1,128.3 L873.1,128.7 L873.2,129.4 L873.3,130.3 L873.3,131.3 L873.4,132.2 L873.4,133.1 L873.5,133.9 L873.6,134.7 L873.6,135.6 L873.7,136.6 L873.8,137.7 L873.8,138.7 L873.9,139.5 L873.9,139.8 L874.0,140.0 L874.1,140.3 L874.1,141.0 L874.2,142.1 L874.2,143.3 L874.2,144.4 L874.2,145.2 L874.3,145.9 L874.3,146.7 L874.3,147.4 L874.3,148.4 L874.3,149.3 L874.3,150.3 L874.3,151.2 L874.4,152.2 L874.4,153.1 L874.4,154.1 L874.4,154.7 L874.4,155.1 L874.4,155.4 L874.5,155.8 L874.5,156.8 L874.5,157.8 L874.5,158.8 L874.5,159.9 L874.5,160.6 L874.5,161.2 L874.6,161.9 L874.6,162.7 L874.6,163.5 L874.6,164.3 L874.6,165.1 L874.6,165.8 L874.6,166.2 L874.7,166.7 L874.7,167.2 L874.7,168.4 L874.7,169.6 L874.8,169.3 L874.9,169.0 L875.0,168.3 L875.1,167.6 L875.2,166.9 L875.3,166.0 L875.4,164.8 L875.5,163.6 L875.6,162.4 L875.7,161.4 L875.8,160.6 L875.9,159.8 L876.0,159.0 L876.1,158.6 L876.2,158.2 L876.3,157.8 L876.4,157.3 L876.5,155.9 L876.6,154.5 L876.7,153.1 L876.8,152.0 L876.9,152.8 L877.0,153.6 L877.0,154.4 L877.1,155.2 L877.2,156.0 L877.3,156.8 L877.4,157.6 L877.5,158.9 L877.5,160.2 L877.6,161.5 L877.7,162.6 L877.8,163.4 L877.9,164.1 L878.0,164.9 L878.0,165.6 L878.1,166.2 L878.2,166.8 L878.3,167.4 L878.4,168.3 L878.4,169.2 L878.5,170.1 L878.6,170.9 L878.7,171.3 L878.8,171.7 L878.9,172.1 L878.9,173.0 L879.0,174.2 L879.1,175.4 L879.2,176.6 L879.3,177.4 L879.4,178.0 L879.4,178.7 L879.5,179.4 L879.6,180.2 L879.7,181.1 L879.8,182.0 L879.8,182.8 L879.9,183.5 L880.0,184.2 L880.1,184.9 L880.2,185.7 L880.3,186.5 L880.3,187.3 L880.4,188.1 L880.5,188.8 L880.6,189.5 L880.7,190.2 L880.8,190.9 L880.8,191.6 L880.9,192.3 L881.0,193.0 L881.4,192.3 L881.8,191.8 L882.3,191.4 L882.7,190.9 L883.1,190.0 L883.5,189.1 L883.9,188.3 L884.4,187.6 L884.8,187.2 L885.2,186.8 L885.3,188.0 L885.5,189.0 L885.6,190.0 L885.8,190.9 L885.9,191.8 L886.1,192.6 L886.2,193.5 L886.2,192.6 L886.3,191.6 L886.3,190.6 L886.4,189.6 L886.4,188.6 L886.5,187.7 L886.5,186.7 L886.6,185.8 L886.6,185.1 L886.7,184.3 L886.7,183.6 L886.8,182.9 L886.8,182.2 L886.9,181.4 L886.9,180.7 L887.0,179.9 L887.0,179.2 L887.1,178.5 L887.1,177.8 L887.2,177.2 L887.2,176.6 L887.2,176.0 L887.3,175.2 L887.3,173.8 L887.4,172.5 L887.4,171.1 L887.5,170.1 L887.5,169.6 L887.6,169.0 L887.6,168.5 L887.7,167.7 L887.7,166.9 L887.8,166.1 L887.8,165.3 L887.9,164.7 L887.9,164.0 L888.0,163.3 L888.0,162.6 L888.1,161.9 L888.1,161.2 L888.2,160.5 L888.2,159.7 L888.3,158.8 L888.3,157.9 L888.5,158.7 L888.6,159.4 L888.8,160.1 L888.9,160.8 L889.1,161.5 L889.2,162.4 L889.4,163.3 L889.5,164.2 L889.7,165.0 L889.8,165.7 L890.0,166.5 L890.1,167.2 L890.3,168.1 L890.4,169.1 L890.6,170.0 L890.7,170.8 L890.9,171.5 L891.0,172.2 L891.2,172.9 L891.3,173.7 L891.5,174.5 L891.6,173.6 L891.6,172.8 L891.7,171.7 L891.7,170.7 L891.8,169.6 L891.8,168.7 L891.9,168.3 L891.9,167.9 L892.0,167.6 L892.0,166.8 L892.1,165.6 L892.1,164.5 L892.2,163.3 L892.2,162.6 L892.3,161.9 L892.3,161.3 L892.4,160.6 L892.4,159.9 L892.5,159.3 L892.5,158.6 L892.6,157.9 L892.6,157.2 L892.7,156.5 L892.7,155.8 L892.8,155.0 L892.8,154.2 L892.9,153.4 L892.9,152.6 L893.0,151.2 L893.0,149.8 L893.1,148.4 L893.2,147.1 L893.2,146.5 L893.3,145.9 L893.3,145.3 L893.4,144.6 L893.4,143.8 L893.5,143.0 L893.5,142.2 L893.6,141.4 L893.6,140.6 L893.7,139.9 L893.7,139.1 L893.8,138.2 L893.8,137.2 L893.9,136.2 L893.9,135.4 L894.0,134.9 L894.0,134.3 L894.1,133.8 L894.1,132.9 L894.2,131.8 L894.2,130.7 L894.3,129.5 L894.3,128.8 L894.4,128.2 L894.4,127.5 L894.5,126.9 L894.5,126.5 L894.6,126.1 L894.9,127.3 L895.1,128.3 L895.4,128.9 L895.7,129.6 L895.9,130.2 L896.2,130.8 L896.4,131.4 L896.7,132.0 L896.8,131.0 L896.9,130.0 L896.9,129.0 L897.0,127.9 L897.1,127.3 L897.2,127.1 L897.3,126.8 L897.3,126.6 L897.4,125.7 L897.5,124.7 L897.6,123.7 L897.7,122.7 L897.8,121.6 L897.8,120.5 L897.9,119.3 L898.0,118.4 L898.1,117.7 L898.2,117.0 L898.2,116.2 L898.3,115.6 L898.4,115.0 L898.5,114.4 L898.6,113.8 L898.6,113.0 L898.7,112.2 L898.8,111.4 L898.9,112.1 L899.0,112.7 L899.1,113.2 L899.2,113.7 L899.3,114.8 L899.4,116.1 L899.5,117.4 L899.6,118.6 L899.7,119.0 L899.8,119.4 L900.0,119.8 L900.1,120.3 L900.2,121.1 L900.3,121.8 L900.4,122.6 L900.5,123.7 L900.6,124.9 L900.7,126.1 L900.8,127.2 L900.9,127.6 L901.0,127.9 L901.1,128.3 L901.2,129.0 L901.3,130.2 L901.4,131.3 L901.5,132.5 L901.6,133.1 L901.7,133.6 L901.8,134.1 L902.0,134.7 L902.1,135.8 L902.2,136.8 L902.3,137.9 L902.4,138.8 L902.5,139.4 L902.6,140.0 L902.7,140.6 L902.8,141.4 L902.9,142.3 L903.0,143.2 L903.1,142.4 L903.2,142.0 L903.2,141.6 L903.3,141.1 L903.4,140.4 L903.5,139.3 L903.6,138.2 L903.6,137.0 L903.7,136.1 L903.8,135.3 L903.9,134.5 L904.0,133.7 L904.0,133.0 L904.1,132.3 L904.2,131.6 L904.3,130.8 L904.4,129.8 L904.5,128.7 L904.5,127.7 L904.6,126.8 L904.7,125.9 L904.8,125.0 L904.9,124.1 L904.9,123.5 L905.0,122.8 L905.1,122.1 L905.2,123.0 L905.4,123.8 L905.5,124.5 L905.7,125.2 L905.8,126.0 L906.0,126.7 L906.1,127.5 L906.3,128.3 L906.4,129.6 L906.6,130.9 L906.7,132.2 L906.8,133.1 L907.0,133.3 L907.1,133.5 L907.3,133.7 L907.4,134.8 L907.6,136.1 L907.7,137.4 L907.9,138.7 L908.0,139.6 L908.2,140.5 L908.3,141.4 L908.4,140.6 L908.5,139.6 L908.6,138.6 L908.8,137.6 L908.9,136.4 L909.0,135.2 L909.1,133.9 L909.2,132.8 L909.3,132.3 L909.5,131.8 L909.6,131.3 L909.7,130.4 L909.8,129.3 L909.9,128.2 L910.0,127.1 L910.2,126.6 L910.3,126.1 L910.4,125.7 L911.1,126.4 L911.8,127.0 L912.5,127.5 L913.2,128.0 L913.9,128.3 L914.6,128.4 L915.3,128.6 L916.0,128.8 L916.7,129.1 L917.0,128.2 L917.2,127.2 L917.5,126.6 L917.8,126.1 L918.0,125.7 L918.3,125.3 L918.5,124.2 L918.8,123.1 L919.1,123.6 L919.3,124.2 L919.6,125.1 L919.9,126.0 L920.2,127.0 L920.4,127.8 L920.7,128.7 L921.0,129.6 L921.3,130.5 L921.5,131.5 L921.8,132.6 L922.1,133.6 L922.4,134.5 L922.6,134.9 L922.9,135.3 L923.2,135.8 L923.5,136.3 L923.7,137.0 L924.0,137.6 L924.2,136.7 L924.5,136.3 L924.7,135.9 L925.0,135.6 L925.2,135.0 L925.5,134.2 L925.7,133.4 L926.0,132.6 L926.2,131.6 L926.5,130.6 L926.7,129.6 L927.0,128.5 L927.2,127.4 L927.5,127.9 L927.8,128.3 L928.1,129.1 L928.3,129.9 L928.6,130.8 L928.9,131.6 L929.2,132.6 L929.5,133.5 L929.8,134.4 L930.1,135.2 L930.4,136.1 L930.6,137.0 L930.9,137.8 L931.2,138.5 L931.5,139.0 L931.8,139.6 L932.1,140.2 L932.4,141.3 L932.6,142.4 L932.9,143.6 L933.2,144.6 L933.5,145.4 L933.8,146.2 L934.0,147.0 L934.3,147.8 L934.5,148.7 L934.8,149.5 L935.1,150.3 L935.3,151.1 L935.6,151.9 L935.9,152.6 L936.1,153.1 L936.4,153.3 L936.6,153.5 L936.9,153.7 L937.2,154.8 L937.4,156.0 L937.7,157.1 L938.0,158.1 L938.2,158.5 L938.5,159.0 L938.8,159.4 L939.0,160.5 L939.3,161.8 L939.5,163.2 L939.8,164.5 L939.9,163.5 L940.0,162.6 L940.2,161.7 L940.3,160.9 L940.4,160.1 L940.5,159.3 L940.7,158.5 L940.8,157.4 L940.9,156.2 L941.0,155.0 L941.2,153.9 L941.3,153.0 L941.4,152.1 L941.5,151.2 L941.6,150.5 L941.8,150.2 L941.9,149.9 L942.0,149.6 L942.1,148.8 L942.3,147.9 L942.4,146.9 L942.5,146.0 L942.6,145.2 L942.8,144.4 L942.9,143.6 L943.0,142.8 L943.1,143.5 L943.3,144.2 L943.4,144.9 L943.5,145.8 L943.7,146.9 L943.8,147.9 L943.9,148.9 L944.1,149.4 L944.2,149.9 L944.3,150.4 L944.5,151.0 L944.6,151.8 L944.7,152.6 L944.9,153.3 L945.0,154.2 L945.1,155.1 L945.2,155.9 L945.4,156.8 L945.5,157.6 L945.6,158.3 L945.8,159.1 L945.9,160.0 L946.0,161.0 L946.2,162.1 L946.3,163.1 L946.4,164.1 L946.6,165.1 L946.7,166.1 L946.8,166.9 L947.0,167.2 L947.1,167.4 L947.4,166.1 L947.6,165.1 L947.9,164.3 L948.2,163.5 L948.4,162.7 L948.7,162.2 L949.0,161.7 L949.2,161.2 L949.5,160.7 L949.8,160.0 L950.0,159.3 L950.3,158.6 L950.6,159.1 L951.0,159.6 L951.3,160.0 L951.7,160.6 L952.0,161.4 L952.4,162.2 L952.7,163.0 L953.1,163.7 L953.4,164.4 L953.8,165.0 L954.1,165.6 L954.5,166.4 L954.8,167.2 L955.2,167.9 L955.5,168.9 L955.9,168.5 L956.2,168.0 L956.6,167.6 L957.0,167.0 L957.4,166.4 L957.7,165.8 L958.1,165.1 L958.5,164.3 L958.8,163.6 L959.2,162.8 L959.6,161.8 L959.9,160.8 L960.3,159.7 L960.7,158.7 L961.0,157.9 L961.4,157.1 L961.8,156.4 L962.2,155.9 L962.5,155.7 L962.9,155.5 L963.1,156.8 L963.3,157.5 L963.6,158.0 L963.8,158.5 L964.0,159.1 L964.2,159.7 L964.4,160.4 L964.7,161.1 L964.9,161.9 L965.1,162.9 L965.3,163.8 L965.6,164.8 L965.8,165.6 L966.0,166.4 L966.2,167.2 L966.4,168.0 L966.7,168.7 L966.9,169.3 L967.1,170.0 L967.9,169.4 L968.7,168.7 L969.5,168.0 L970.2,167.2 L971.0,167.2 L971.8,167.4 L972.6,167.5 L973.4,167.2 L974.1,166.3 L974.9,165.5 L975.6,164.6 L976.4,164.0 L977.1,163.5 L977.9,162.9 L978.6,162.5 L978.8,163.5 L979.0,164.6 L979.1,165.6 L979.3,166.5 L979.5,167.5 L979.7,168.4 L979.8,169.3 L980.0,170.2 L980.2,171.1 L980.4,172.0 L980.6,172.6 L980.7,173.1 L980.9,173.6 L981.1,174.2 L981.3,175.4 L981.4,176.6 L981.6,177.7 L981.8,178.6 L982.6,178.9 L983.5,179.1 L984.3,179.4 L985.2,179.5 L986.0,179.7 L986.6,178.9 L987.2,178.8 L987.7,178.6 L988.3,178.5 L988.9,178.2 L989.5,177.6 L990.0,177.0 L990.6,176.3 L991.2,175.8 L991.4,176.6 L991.6,177.5 L991.7,178.3 L991.9,179.0 L992.1,179.6 L992.2,180.3 L992.4,180.9 L992.6,181.4 L992.8,181.9 L993.0,182.3 L993.1,183.3 L993.3,184.4 L993.5,185.6 L993.6,186.7 L993.8,187.6 L994.0,188.5 L994.2,189.4 L994.4,190.2 L994.5,190.7 L994.7,191.3 L994.9,191.8 L995.0,192.6 L995.2,193.7 L995.4,194.7 L995.8,194.2 L996.3,193.6 L996.7,192.9 L997.2,192.3 L997.6,191.5 L998.0,190.4 L998.5,189.3 L998.9,188.2 L999.4,187.6 L999.8,187.3 L1000.3,186.9 L1000.7,186.6 L1001.1,187.3 L1001.5,188.0 L1002.0,188.7 L1002.4,189.3 L1002.8,189.9 L1003.2,190.5 L1003.6,191.1 L1004.1,191.4 L1004.5,191.6 L1004.9,191.8 L1005.3,192.0 L1005.7,193.0 L1006.2,193.9 L1006.6,194.8 L1007.0,195.7 L1007.5,195.2 L1007.9,194.7 L1008.4,194.1 L1008.9,193.5 L1009.3,192.8 L1009.8,192.1 L1010.3,191.4 L1010.7,190.8 L1011.2,190.2 L1011.8,190.8 L1012.5,191.3 L1013.1,191.8 L1013.7,192.2 L1014.4,192.7 L1015.0,192.9 L1015.6,193.1 L1016.2,193.3 L1016.9,193.8 L1017.5,194.9 L1018.4,195.4 L1019.3,196.0 L1020.2,195.8 L1021.1,195.5 L1022.0,195.2 L1022.9,195.2 L1023.8,195.5 L1024.0,196.5 L1024.2,197.5 L1024.4,197.8 L1024.6,198.2 L1024.8,198.5 L1025.0,199.3 L1025.2,200.7 L1025.4,202.0 L1025.6,203.3 L1025.8,204.0 L1026.0,204.5 L1026.2,205.0 L1026.4,205.6 L1026.6,206.5 L1026.8,207.4 L1027.0,208.4 L1027.2,209.2 L1027.4,210.0 L1027.6,210.8 L1027.8,211.6 L1028.0,212.5 L1028.2,211.8 L1028.4,211.1 L1028.7,210.3 L1028.9,209.2 L1029.1,208.1 L1029.3,207.0 L1029.5,206.0 L1029.8,205.0 L1030.0,204.1 L1030.2,203.1 L1030.4,202.4 L1030.7,201.9 L1030.9,201.3 L1031.1,200.7 L1031.3,199.8 L1031.5,198.9 L1031.8,198.0 L1032.0,197.2 L1032.2,196.6 L1032.6,197.6 L1033.0,198.5 L1033.5,199.4 L1033.9,200.3 L1034.3,201.2 L1034.7,202.0 L1035.1,202.5 L1035.6,202.9 L1036.0,203.3 L1036.4,203.7 L1036.8,204.3 L1037.2,204.8 L1037.7,205.4 L1038.1,206.0 L1038.5,206.6 L1039.4,206.7 L1040.3,206.8 L1041.2,207.2 L1042.1,207.6 L1043.0,208.1 L1043.9,208.4 L1044.8,208.6 L1045.4,209.3 L1046.0,209.8 L1046.5,210.1 L1047.1,210.3 L1047.7,210.5 L1048.3,211.3 L1048.8,212.3 L1049.4,213.3 L1050.0,214.3 L1050.1,213.2 L1050.2,212.1 L1050.3,211.0 L1050.4,210.0 L1050.5,209.1 L1050.6,208.2 L1050.7,207.4 L1050.8,206.9 L1050.9,206.6 L1051.0,206.4 L1051.1,206.1 L1051.2,205.1 L1051.3,204.0 L1051.4,203.0 L1051.5,202.0 L1051.6,201.4 L1051.7,200.9 L1051.8,200.3 L1051.9,199.5 L1052.0,198.5 L1052.1,197.4 L1052.2,198.0 L1052.4,198.6 L1052.5,199.1 L1052.6,199.7 L1052.8,200.3 L1052.9,201.2 L1053.0,202.1 L1053.2,202.9 L1053.3,203.9 L1053.5,204.8 L1053.6,205.7 L1053.7,206.7 L1053.9,207.6 L1054.0,208.6 L1054.1,209.5 L1054.3,210.5 L1054.4,211.4 L1054.5,212.3 L1054.7,213.2 L1054.8,214.0 L1054.9,214.8 L1055.1,215.6 L1055.2,216.4 L1055.4,217.1 L1055.5,217.9 L1055.6,218.6 L1055.8,219.3 L1055.9,219.9 L1056.0,220.4 L1056.2,221.0 L1056.3,221.8 L1056.9,221.3 L1057.5,220.8 L1058.1,220.3 L1058.7,219.7 L1059.3,219.1 L1059.9,218.4 L1060.5,217.9" fill="none" stroke="#f41a1a" stroke-width="2.2" stroke-linejoin="round" stroke-linecap="round" />
<path d="M790.2,267.3 L790.3,265.6 L790.5,263.9 L790.6,262.2 L790.8,260.7 L790.9,259.8 L791.0,258.8 L791.2,257.9 L791.3,257.9 L791.5,258.1 L791.6,258.4 L791.7,258.3 L791.9,256.6 L792.0,254.9 L792.2,253.1 L792.3,251.9 L792.4,251.0 L792.6,250.1 L792.7,249.2 L792.9,249.0 L793.0,248.7 L793.1,248.5 L793.3,247.9 L793.4,246.8 L793.6,245.6 L793.7,244.5 L794.4,245.3 L795.1,246.3 L795.8,247.4 L796.5,248.2 L797.2,248.0 L797.9,247.7 L798.6,247.4 L799.3,247.9 L800.0,249.1 L800.8,249.8 L801.6,250.4 L802.5,249.5 L803.3,248.6 L804.1,247.7 L804.9,247.1 L805.7,247.3 L806.5,247.4 L807.4,247.5 L808.2,247.6 L809.0,247.8 L809.4,248.9 L809.8,249.8 L810.2,250.3 L810.6,250.8 L810.9,251.2 L811.3,252.1 L811.7,253.1 L812.1,254.1 L812.5,255.0 L812.9,255.5 L813.3,256.0 L813.7,256.5 L814.1,256.8 L814.4,256.8 L814.8,256.8 L815.2,256.8 L815.6,258.3 L816.0,259.9 L816.4,260.2 L816.8,260.0 L817.2,259.0 L817.7,258.0 L818.1,256.9 L818.5,255.9 L818.9,254.9 L819.3,253.9 L819.8,252.9 L820.2,252.0 L820.6,251.2 L821.0,250.4 L821.4,249.8 L821.8,249.8 L822.2,249.8 L822.7,249.8 L823.1,249.2 L823.5,248.2 L823.9,247.2 L824.3,246.2 L824.8,245.9 L825.2,245.5 L825.6,245.2 L826.0,244.7 L826.6,245.1 L827.2,245.5 L827.8,245.9 L828.3,246.6 L828.9,247.4 L829.5,248.2 L830.1,248.9 L830.7,249.0 L831.2,249.2 L831.8,249.3 L832.4,249.7 L833.0,250.5 L833.6,250.1 L834.1,249.6 L834.7,249.0 L835.3,248.4 L835.9,247.7 L836.4,247.0 L837.0,246.1 L837.6,245.1 L838.1,244.2 L838.7,243.6 L839.3,243.8 L839.9,244.0 L840.4,244.2 L841.0,243.5 L841.6,242.2 L842.2,241.0 L842.7,239.7 L843.3,239.5 L843.8,240.7 L844.2,241.9 L844.7,243.0 L845.2,243.9 L845.7,244.8 L846.1,245.6 L846.6,246.2 L847.1,246.5 L847.6,246.9 L848.0,247.2 L848.5,247.3 L849.0,247.5 L849.3,247.7 L849.7,248.3 L850.0,249.8 L850.3,251.3 L850.7,252.7 L851.0,253.6 L851.3,254.2 L851.7,254.7 L852.0,255.3 L852.3,255.5 L852.6,255.8 L853.0,256.0 L853.3,256.3 L853.6,256.9 L854.0,257.5 L854.3,258.1 L854.6,259.0 L855.0,260.2 L855.3,261.5 L855.8,261.4 L856.3,260.3 L856.8,259.1 L857.2,257.9 L857.7,257.0 L858.2,257.3 L858.7,257.6 L859.2,257.9 L859.6,257.5 L860.1,256.3 L860.6,255.2 L861.1,254.1 L861.6,253.4 L862.1,252.7 L862.5,252.1 L863.0,251.4 L863.5,250.6 L864.0,249.8 L864.8,249.4 L865.6,249.2 L866.4,249.2 L867.2,249.2 L868.1,249.2 L868.9,249.1 L869.7,249.1 L870.5,249.1 L871.0,247.9 L871.4,246.5 L871.9,245.2 L872.4,243.9 L872.8,243.3 L873.3,242.7 L873.8,242.1 L874.2,241.5 L874.7,241.1 L875.4,241.8 L876.1,242.4 L876.8,242.6 L877.5,242.7 L878.2,242.9 L878.9,243.4 L879.6,244.2 L880.3,245.0 L881.0,245.8 L881.7,246.2 L882.4,246.6 L883.1,247.0 L883.8,247.4 L884.5,247.7 L885.2,248.1 L885.9,248.4 L886.6,249.1 L887.3,249.8 L887.9,249.5 L888.5,249.0 L889.1,248.3 L889.7,247.5 L890.3,246.8 L890.9,245.7 L891.5,244.6 L892.0,244.8 L892.5,245.4 L893.0,247.2 L893.6,248.9 L894.1,250.7 L894.6,251.0 L895.0,249.3 L895.4,247.7 L895.9,246.6 L896.3,245.8 L896.7,245.1 L896.8,245.9 L896.9,246.7 L897.0,247.5 L897.1,248.3 L897.2,249.5 L897.2,250.9 L897.3,252.3 L897.4,253.7 L897.5,254.5 L897.6,255.4 L897.7,256.2 L897.8,256.9 L897.9,257.2 L898.0,257.6 L898.1,257.9 L898.2,258.5 L898.3,259.2 L898.3,259.9 L898.4,260.6 L898.5,261.1 L898.6,261.5 L898.7,262.0 L898.8,263.1 L899.2,263.3 L899.7,263.5 L900.1,263.7 L900.6,262.4 L901.0,260.9 L901.5,259.4 L901.9,258.2 L902.3,257.9 L902.8,257.6 L903.2,257.3 L903.7,256.7 L904.1,255.7 L904.9,255.3 L905.8,254.9 L906.6,254.6 L907.5,254.4 L908.3,254.2 L909.1,254.0 L910.0,253.8 L910.8,253.6 L911.7,253.4 L912.5,253.0 L913.2,253.1 L914.0,253.3 L914.8,253.4 L915.5,253.5 L916.2,253.6 L917.0,253.8 L917.8,254.5 L918.5,255.3 L919.2,256.2 L920.0,257.0 L920.8,257.5 L921.5,258.1 L922.2,258.7 L923.0,259.1 L923.6,259.4 L924.3,259.8 L924.9,260.1 L925.6,260.2 L926.2,260.2 L926.9,260.2 L927.5,260.2 L928.2,261.2 L928.8,262.2 L929.5,263.2 L930.1,263.9 L930.8,263.7 L931.4,263.5 L932.0,262.2 L932.7,261.6 L933.3,261.5 L934.0,261.3 L934.6,261.2 L935.3,261.1 L935.9,261.0 L936.6,260.9 L937.2,260.6 L937.9,260.2 L938.5,259.7 L939.2,259.2 L939.8,258.1 L940.6,257.9 L941.3,257.7 L942.1,257.9 L942.9,258.6 L943.6,259.3 L944.4,260.0 L945.1,260.1 L945.9,260.0 L946.7,259.9 L947.4,259.8 L948.2,260.1 L949.0,260.3 L949.9,260.4 L950.7,260.5 L951.6,260.7 L952.4,260.9 L953.2,261.0 L954.1,261.6 L954.9,262.1 L955.8,262.7 L956.6,262.9 L957.4,262.3 L958.1,261.6 L958.9,261.0 L959.7,260.3 L960.4,259.6 L961.2,259.0 L961.9,258.5 L962.7,258.4 L963.5,258.3 L964.2,258.2 L965.0,257.8 L965.5,258.4 L965.9,259.0 L966.4,259.6 L966.9,259.9 L967.3,260.3 L967.8,260.7 L968.3,261.5 L968.7,262.7 L969.2,263.9 L970.0,264.2 L970.9,264.2 L971.7,264.1 L972.6,264.1 L973.4,263.9 L974.2,263.5 L975.1,263.2 L975.9,262.8 L976.8,263.1 L977.6,263.4 L978.4,263.7 L979.3,263.4 L980.1,262.3 L981.0,261.2 L981.8,260.1 L982.6,260.3 L983.5,260.8 L984.3,261.2 L985.2,261.6 L986.0,261.7 L986.8,261.7 L987.7,261.8 L988.5,261.5 L989.4,261.1 L990.2,260.7 L991.0,260.8 L991.7,261.0 L992.5,261.2 L993.3,261.4 L994.0,262.1 L994.8,263.1 L995.5,264.0 L996.3,264.9 L997.1,265.0 L997.8,265.1 L998.6,265.1 L999.4,264.9 L1000.3,264.6 L1001.1,264.3 L1002.0,264.1 L1002.8,263.8 L1003.6,263.4 L1004.5,263.1 L1005.3,263.5 L1006.2,264.4 L1007.0,265.4 L1007.8,266.4 L1008.7,265.7 L1009.5,265.0 L1010.4,264.2 L1011.2,263.6 L1012.0,263.3 L1012.9,263.1 L1013.7,262.8 L1014.6,262.9 L1015.4,263.0 L1016.2,263.1 L1017.1,263.2 L1017.9,263.2 L1018.8,263.3 L1019.6,263.3 L1020.4,263.8 L1021.3,264.5 L1022.1,265.1 L1023.0,265.7 L1023.8,264.9 L1024.6,264.2 L1025.5,263.4 L1026.3,263.1 L1027.2,263.2 L1028.0,263.3 L1028.5,262.7 L1029.0,261.9 L1029.6,261.0 L1030.1,260.2 L1030.6,259.6 L1031.2,259.3 L1031.7,259.1 L1032.2,258.8 L1032.8,259.2 L1033.3,259.5 L1033.9,259.8 L1034.5,260.1 L1035.1,260.9 L1035.6,261.6 L1036.2,262.3 L1036.8,263.1 L1037.4,264.1 L1037.9,265.1 L1038.5,266.1 L1039.3,266.3 L1040.1,266.5 L1041.0,266.6 L1041.8,266.8 L1042.6,266.6 L1043.4,266.5 L1044.2,266.3 L1045.0,265.8 L1045.8,264.9 L1046.7,264.0 L1047.5,263.1 L1048.3,263.1 L1049.1,263.4 L1049.9,263.7 L1050.8,264.0 L1051.6,264.5 L1052.4,264.9 L1053.2,265.4 L1054.0,265.4 L1054.8,264.6 L1055.6,263.9 L1056.4,263.1 L1057.3,263.1 L1058.1,263.4 L1058.9,263.7 L1059.7,264.0 L1060.5,264.5" fill="none" stroke="#111" stroke-width="2.0" stroke-linejoin="round" stroke-linecap="round" />
</g>
<rect x="790.00" y="32.00" width="270.50" height="234.00" fill="none" stroke="#666" stroke-width="1.4" />
<line x1="790.00" y1="266.00" x2="790.00" y2="261.00" stroke="#666" stroke-width="1.2" />
<line x1="790.00" y1="32.00" x2="790.00" y2="37.00" stroke="#666" stroke-width="1.2" />
<line x1="823.69" y1="266.00" x2="823.69" y2="263.00" stroke="#666" stroke-width="1.2" />
<line x1="823.69" y1="32.00" x2="823.69" y2="35.00" stroke="#666" stroke-width="1.2" />
<line x1="857.38" y1="266.00" x2="857.38" y2="261.00" stroke="#666" stroke-width="1.2" />
<line x1="857.38" y1="32.00" x2="857.38" y2="37.00" stroke="#666" stroke-width="1.2" />
<line x1="891.06" y1="266.00" x2="891.06" y2="263.00" stroke="#666" stroke-width="1.2" />
<line x1="891.06" y1="32.00" x2="891.06" y2="35.00" stroke="#666" stroke-width="1.2" />
<line x1="924.75" y1="266.00" x2="924.75" y2="261.00" stroke="#666" stroke-width="1.2" />
<line x1="924.75" y1="32.00" x2="924.75" y2="37.00" stroke="#666" stroke-width="1.2" />
<line x1="958.44" y1="266.00" x2="958.44" y2="263.00" stroke="#666" stroke-width="1.2" />
<line x1="958.44" y1="32.00" x2="958.44" y2="35.00" stroke="#666" stroke-width="1.2" />
<line x1="992.12" y1="266.00" x2="992.12" y2="261.00" stroke="#666" stroke-width="1.2" />
<line x1="992.12" y1="32.00" x2="992.12" y2="37.00" stroke="#666" stroke-width="1.2" />
<line x1="1025.81" y1="266.00" x2="1025.81" y2="263.00" stroke="#666" stroke-width="1.2" />
<line x1="1025.81" y1="32.00" x2="1025.81" y2="35.00" stroke="#666" stroke-width="1.2" />
<line x1="1059.50" y1="266.00" x2="1059.50" y2="261.00" stroke="#666" stroke-width="1.2" />
<line x1="1059.50" y1="32.00" x2="1059.50" y2="37.00" stroke="#666" stroke-width="1.2" />
<line x1="790.00" y1="265.50" x2="785.00" y2="265.50" stroke="#666" stroke-width="1.2" />
<line x1="790.00" y1="265.50" x2="790.00" y2="265.50" stroke="#666" stroke-width="1.2" />
<line x1="1060.50" y1="265.50" x2="1057.50" y2="265.50" stroke="#666" stroke-width="1.2" />
<line x1="790.00" y1="242.15" x2="790.00" y2="242.15" stroke="#666" stroke-width="1.2" />
<line x1="790.00" y1="242.15" x2="793.00" y2="242.15" stroke="#666" stroke-width="1.2" />
<line x1="1060.50" y1="242.15" x2="1057.50" y2="242.15" stroke="#666" stroke-width="1.2" />
<line x1="790.00" y1="218.80" x2="785.00" y2="218.80" stroke="#666" stroke-width="1.2" />
<line x1="790.00" y1="218.80" x2="790.00" y2="218.80" stroke="#666" stroke-width="1.2" />
<line x1="1060.50" y1="218.80" x2="1057.50" y2="218.80" stroke="#666" stroke-width="1.2" />
<line x1="790.00" y1="195.45" x2="790.00" y2="195.45" stroke="#666" stroke-width="1.2" />
<line x1="790.00" y1="195.45" x2="793.00" y2="195.45" stroke="#666" stroke-width="1.2" />
<line x1="1060.50" y1="195.45" x2="1057.50" y2="195.45" stroke="#666" stroke-width="1.2" />
<line x1="790.00" y1="172.10" x2="785.00" y2="172.10" stroke="#666" stroke-width="1.2" />
<line x1="790.00" y1="172.10" x2="790.00" y2="172.10" stroke="#666" stroke-width="1.2" />
<line x1="1060.50" y1="172.10" x2="1057.50" y2="172.10" stroke="#666" stroke-width="1.2" />
<line x1="790.00" y1="148.75" x2="790.00" y2="148.75" stroke="#666" stroke-width="1.2" />
<line x1="790.00" y1="148.75" x2="793.00" y2="148.75" stroke="#666" stroke-width="1.2" />
<line x1="1060.50" y1="148.75" x2="1057.50" y2="148.75" stroke="#666" stroke-width="1.2" />
<line x1="790.00" y1="125.40" x2="785.00" y2="125.40" stroke="#666" stroke-width="1.2" />
<line x1="790.00" y1="125.40" x2="790.00" y2="125.40" stroke="#666" stroke-width="1.2" />
<line x1="1060.50" y1="125.40" x2="1057.50" y2="125.40" stroke="#666" stroke-width="1.2" />
<line x1="790.00" y1="102.05" x2="790.00" y2="102.05" stroke="#666" stroke-width="1.2" />
<line x1="790.00" y1="102.05" x2="793.00" y2="102.05" stroke="#666" stroke-width="1.2" />
<line x1="1060.50" y1="102.05" x2="1057.50" y2="102.05" stroke="#666" stroke-width="1.2" />
<line x1="790.00" y1="78.70" x2="785.00" y2="78.70" stroke="#666" stroke-width="1.2" />
<line x1="790.00" y1="78.70" x2="790.00" y2="78.70" stroke="#666" stroke-width="1.2" />
<line x1="1060.50" y1="78.70" x2="1057.50" y2="78.70" stroke="#666" stroke-width="1.2" />
<line x1="790.00" y1="55.35" x2="790.00" y2="55.35" stroke="#666" stroke-width="1.2" />
<line x1="790.00" y1="55.35" x2="793.00" y2="55.35" stroke="#666" stroke-width="1.2" />
<line x1="1060.50" y1="55.35" x2="1057.50" y2="55.35" stroke="#666" stroke-width="1.2" />
<line x1="790.00" y1="32.00" x2="785.00" y2="32.00" stroke="#666" stroke-width="1.2" />
<line x1="790.00" y1="32.00" x2="790.00" y2="32.00" stroke="#666" stroke-width="1.2" />
<line x1="1060.50" y1="32.00" x2="1057.50" y2="32.00" stroke="#666" stroke-width="1.2" />
<text x="764.99" y="270.36" font-size="14.12" font-weight="normal" font-style="normal" fill="#555" textLength="18.01" lengthAdjust="spacingAndGlyphs" >0.0</text>
<text x="764.99" y="223.66" font-size="14.12" font-weight="normal" font-style="normal" fill="#555" textLength="18.17" lengthAdjust="spacingAndGlyphs" >0.2</text>
<text x="765.00" y="176.96" font-size="14.12" font-weight="normal" font-style="normal" fill="#555" textLength="17.88" lengthAdjust="spacingAndGlyphs" >0.4</text>
<text x="764.99" y="130.26" font-size="14.12" font-weight="normal" font-style="normal" fill="#555" textLength="18.08" lengthAdjust="spacingAndGlyphs" >0.6</text>
<text x="764.99" y="83.56" font-size="14.12" font-weight="normal" font-style="normal" fill="#555" textLength="18.07" lengthAdjust="spacingAndGlyphs" >0.8</text>
<text x="764.48" y="36.86" font-size="14.12" font-weight="normal" font-style="normal" fill="#555" textLength="18.54" lengthAdjust="spacingAndGlyphs" >1.0</text>
<text x="774.67" y="285.16" font-size="14.83" font-weight="normal" font-style="normal" fill="#444" textLength="30.16" lengthAdjust="spacingAndGlyphs" >1400</text>
<text x="842.04" y="285.16" font-size="14.83" font-weight="normal" font-style="normal" fill="#444" textLength="30.16" lengthAdjust="spacingAndGlyphs" >1600</text>
<text x="909.42" y="285.16" font-size="14.83" font-weight="normal" font-style="normal" fill="#444" textLength="30.16" lengthAdjust="spacingAndGlyphs" >1800</text>
<text x="977.15" y="285.16" font-size="14.83" font-weight="normal" font-style="normal" fill="#444" textLength="29.80" lengthAdjust="spacingAndGlyphs" >2000</text>
<text x="1044.53" y="285.16" font-size="14.83" font-weight="normal" font-style="normal" fill="#444" textLength="29.80" lengthAdjust="spacingAndGlyphs" >2200</text>
<text transform="translate(755.44,205.63) rotate(-90)" x="0" y="0" font-size="12.34" font-weight="normal" font-style="normal" fill="#555" textLength="96.90" lengthAdjust="spacingAndGlyphs" >Attenuation (%)</text>
<text x="859.03" y="308.11" font-size="13.95" font-weight="normal" font-style="normal" fill="#444" textLength="116.94" lengthAdjust="spacingAndGlyphs" >Wavenumber (cm</text>
<text x="976.03" y="300.50" font-size="7.99" font-weight="normal" font-style="normal" fill="#444" textLength="9.50" lengthAdjust="spacingAndGlyphs" >-1</text>
<text x="986.39" y="309.28" font-size="15.56" font-weight="normal" font-style="normal" fill="#444" textLength="6.28" lengthAdjust="spacingAndGlyphs" >)</text>
<text x="1000.04" y="54.80" font-size="14.97" font-weight="bold" font-style="normal" fill="#222" textLength="28.75" lengthAdjust="spacingAndGlyphs" >PVP</text>
<text x="949.41" y="131.53" font-size="10.94" font-weight="normal" font-style="normal" fill="#444" textLength="67.17" lengthAdjust="spacingAndGlyphs" >Perpendicular</text>
<text x="949.59" y="144.54" font-size="10.41" font-weight="normal" font-style="normal" fill="#444" textLength="56.63" lengthAdjust="spacingAndGlyphs" >polarization</text>
<text x="952.48" y="234.89" font-size="11.57" font-weight="normal" font-style="normal" fill="#444" textLength="37.37" lengthAdjust="spacingAndGlyphs" >Parallel</text>
<text x="952.69" y="247.46" font-size="10.30" font-weight="normal" font-style="normal" fill="#444" textLength="56.02" lengthAdjust="spacingAndGlyphs" >polarization</text>
<text x="874.21" y="227.37" font-size="13.42" font-weight="bold" font-style="normal" fill="#222" textLength="25.10" lengthAdjust="spacingAndGlyphs" >C=O</text>
<line x1="882.70" y1="198.50" x2="882.70" y2="214.50" stroke="#222" stroke-width="1.3" />
<polygon points="1233.5,33.2 1337.0,33.2 1303.0,170.0 1265.0,170.0" fill="#f08a8a" stroke="none" stroke-width="1" fill-opacity="0.55"/>
<polygon points="1259.0,199.0 1308.0,199.0 1330.0,281.5 1239.5,281.5" fill="#f08a8a" stroke="none" stroke-width="1" fill-opacity="0.55"/>
<rect x="1200.00" y="95.80" width="145.00" height="30.90" fill="#a8d0f4" stroke="none" stroke-width="1" fill-opacity="0.6"/>
<rect x="1200.00" y="199.50" width="145.00" height="32.90" fill="#a8d0f4" stroke="none" stroke-width="1" fill-opacity="0.6"/>
<ellipse cx="1284" cy="109" rx="29" ry="5" fill="#e05068" fill-opacity="0.22" stroke="#d04058" stroke-opacity="0.25" stroke-width="1"/>
<ellipse cx="1284" cy="213" rx="27" ry="5" fill="#e05068" fill-opacity="0.2" stroke="#d04058" stroke-opacity="0.2" stroke-width="1"/>
<polygon points="1130.3,118.2 1157.9,88.0 1230.6,88.0 1202.0,118.2" fill="#c2c2c2" stroke="none" stroke-width="1" />
<polygon points="1202.0,118.2 1230.6,88.0 1230.6,92.0 1202.0,122.0" fill="#9a9a9a" stroke="none" stroke-width="1" />
<rect x="1130.30" y="118.20" width="71.70" height="13.10" fill="#b0b0b0" stroke="none" stroke-width="1" />
<rect x="1130.30" y="131.30" width="16.00" height="92.00" fill="#b2b2b2" stroke="none" stroke-width="1" />
<rect x="1146.30" y="131.30" width="28.20" height="70.00" fill="#9c9c9c" stroke="none" stroke-width="1" />
<polygon points="1146.3,222.0 1174.5,199.5 1230.9,199.5 1202.7,224.0" fill="#c6c6c6" stroke="none" stroke-width="1" />
<rect x="1130.30" y="222.00" width="72.40" height="15.10" fill="#b0b0b0" stroke="none" stroke-width="1" />
<polygon points="1202.7,224.0 1230.9,199.5 1230.9,203.0 1202.7,228.0" fill="#a0a0a0" stroke="none" stroke-width="1" />
<polygon points="1338.8,117.4 1368.1,88.0 1438.5,88.0 1410.7,117.4" fill="#c2c2c2" stroke="none" stroke-width="1" />
<rect x="1338.80" y="117.40" width="71.90" height="13.90" fill="#b0b0b0" stroke="none" stroke-width="1" />
<polygon points="1410.7,117.4 1438.5,88.0 1438.8,207.0 1410.6,236.2" fill="#8e8e8e" stroke="none" stroke-width="1" />
<rect x="1394.60" y="131.30" width="16.00" height="92.00" fill="#b2b2b2" stroke="none" stroke-width="1" />
<polygon points="1339.2,223.0 1365.5,193.9 1394.6,193.9 1394.6,223.0" fill="#c6c6c6" stroke="none" stroke-width="1" />
<rect x="1339.20" y="223.00" width="71.40" height="13.20" fill="#b0b0b0" stroke="none" stroke-width="1" />
<polygon points="1165.0,195.0 1195.2,167.6 1365.5,167.6 1337.0,195.0" fill="#5c5c5e" stroke="none" stroke-width="1" />
<rect x="1165.00" y="195.00" width="172.00" height="4.50" fill="#3c3c3e" stroke="none" stroke-width="1" />
<polygon points="1178.2,190.1 1195.2,171.3 1221.5,171.3 1204.6,190.1" fill="#d8aa30" stroke="none" stroke-width="1" />
<polygon points="1178.2,190.1 1204.6,190.1 1204.6,192.0 1178.2,192.0" fill="#a07818" stroke="none" stroke-width="1" />
<polygon points="1216.8,180.7 1232.7,159.1 1353.3,159.1 1333.6,180.7" fill="url(#d_samp)" stroke="none" stroke-width="1" />
<rect x="1216.80" y="180.20" width="116.80" height="2.60" fill="#8a3aa8" stroke="none" stroke-width="1" />
<rect x="1216.80" y="182.80" width="116.80" height="9.60" fill="#384458" stroke="none" stroke-width="1" />
<polygon points="1333.6,180.7 1353.3,159.1 1353.3,168.5 1333.6,192.4" fill="#2c3646" stroke="none" stroke-width="1" />
<polygon points="1333.6,180.2 1353.3,158.6 1353.3,160.6 1333.6,182.8" fill="#8a3aa8" stroke="none" stroke-width="1" />
<ellipse cx="1284" cy="166" rx="22" ry="4.5" fill="#e04050" fill-opacity="0.35"/>
<polygon points="1265.0,140.0 1303.0,140.0 1298.0,170.0 1270.0,170.0" fill="#f08a8a" stroke="none" stroke-width="1" fill-opacity="0.25"/>
<path d="M1183.5,104.5 C1183.5,82 1172,67 1149,67" fill="none" stroke="#464a54" stroke-width="15" stroke-linecap="butt"/>
<path d="M1384.3,104.5 C1384.3,82 1396,67 1419,67" fill="none" stroke="#464a54" stroke-width="15" stroke-linecap="butt"/>
<path d="M1178,100 C1178,84 1170,74 1152,72" fill="none" stroke="#6a6e78" stroke-width="2.5" stroke-opacity="0.5"/>
<path d="M1390,100 C1390,84 1398,74 1416,72" fill="none" stroke="#6a6e78" stroke-width="2.5" stroke-opacity="0.4"/>
<ellipse cx="1149" cy="67" rx="2.5" ry="7.5" fill="#5a5e68"/>
<ellipse cx="1419" cy="67" rx="2.5" ry="7.5" fill="#5a5e68"/>
<path d="M1186,76 C1184,67 1178,61 1171,59" fill="none" stroke="#555" stroke-width="0.9" />
<polygon points="1168.0,58.0 1173.5,57.0 1172.0,61.5" fill="#333" stroke="none" stroke-width="1" />
<path d="M1402,58 C1394,60 1388,66 1386,74" fill="none" stroke="#555" stroke-width="0.9" />
<polygon points="1386.0,77.0 1384.0,72.0 1388.8,72.5" fill="#333" stroke="none" stroke-width="1" />
<path d="M1172.6,207 L1172.6,195 Q1173,190 1181,188.5" fill="none" stroke="#f01818" stroke-width="2" />
<path d="M1195.2,207 L1195.2,195 Q1195.5,190 1203,188.5" fill="none" stroke="#1a2af0" stroke-width="2" />
<path d="M1171.7,237 L1171.7,268 Q1172,271 1176,271" fill="none" stroke="#f01818" stroke-width="2" />
<path d="M1195.5,237 L1195.5,268 Q1195,271 1190,271" fill="none" stroke="#1a2af0" stroke-width="2" />
<path d="M1340,165 Q1340,155.4 1350,155.4 L1386,155.4 Q1392.7,155.4 1392.7,163 L1392.7,208" fill="none" stroke="#f01818" stroke-width="2" />
<path d="M1333.6,193 Q1338,195 1346,195 Q1357,195.5 1357,207" fill="none" stroke="#1a2af0" stroke-width="2" />
<path d="M1392.7,237 L1392.7,263 Q1392.7,270 1382,270" fill="none" stroke="#f01818" stroke-width="2" />
<path d="M1355.5,237 L1355.5,263 Q1355.5,270 1364,270" fill="none" stroke="#1a2af0" stroke-width="2" />
<ellipse cx="1183" cy="270.5" rx="9.6" ry="4.5" fill="#1a1a1a"/>
<rect x="1173.4" y="257.5" width="19.2" height="13" fill="#262626"/>
<line x1="1177" y1="259.5" x2="1177" y2="272.5" stroke="#444" stroke-width="0.8"/>
<line x1="1181" y1="259.5" x2="1181" y2="272.5" stroke="#444" stroke-width="0.8"/>
<line x1="1185" y1="259.5" x2="1185" y2="272.5" stroke="#444" stroke-width="0.8"/>
<line x1="1189" y1="259.5" x2="1189" y2="272.5" stroke="#444" stroke-width="0.8"/>
<ellipse cx="1183" cy="257.0" rx="8.6" ry="4.6" fill="#5a5a5a"/>
<ellipse cx="1183.5" cy="256.5" rx="4.5" ry="2.4" fill="#b0b0b0"/>
<ellipse cx="1373" cy="269.5" rx="9.6" ry="4.5" fill="#1a1a1a"/>
<rect x="1363.4" y="256.5" width="19.2" height="13" fill="#262626"/>
<line x1="1367" y1="258.5" x2="1367" y2="271.5" stroke="#444" stroke-width="0.8"/>
<line x1="1371" y1="258.5" x2="1371" y2="271.5" stroke="#444" stroke-width="0.8"/>
<line x1="1375" y1="258.5" x2="1375" y2="271.5" stroke="#444" stroke-width="0.8"/>
<line x1="1379" y1="258.5" x2="1379" y2="271.5" stroke="#444" stroke-width="0.8"/>
<ellipse cx="1373" cy="256.0" rx="8.6" ry="4.6" fill="#5a5a5a"/>
<ellipse cx="1373.5" cy="255.5" rx="4.5" ry="2.4" fill="#b0b0b0"/>
<line x1="1284.40" y1="68.70" x2="1284.40" y2="166.00" stroke="#d42a3a" stroke-width="1.3" />
<polygon points="1284.4,172.0 1281.5,164.0 1287.3,164.0" fill="#d42a3a" stroke="none" stroke-width="1" />
<line x1="1284.40" y1="199.00" x2="1284.40" y2="248.00" stroke="#d42a3a" stroke-width="1.3" />
<polygon points="1284.4,254.5 1281.5,246.5 1287.3,246.5" fill="#d42a3a" stroke="none" stroke-width="1" />
<line x1="1284.40" y1="69.00" x2="1293.00" y2="69.00" stroke="#7c2a88" stroke-width="3.6" />
<polygon points="1301.0,69.0 1292.0,63.5 1292.0,74.5" fill="#7c2a88" stroke="none" stroke-width="1" />
<circle cx="1215" cy="138.8" r="3.4" fill="#f4f4f4" stroke="#aaa" stroke-width="0.6"/>
<circle cx="1227" cy="150.8" r="3.4" fill="#f4f4f4" stroke="#aaa" stroke-width="0.6"/>
<circle cx="1225.4" cy="140.5" r="4.2" fill="#e01010"/>
<circle cx="1224.2" cy="139.3" r="1.5" fill="#ff8080"/>
<circle cx="1261.4" cy="159.4" r="3.4" fill="#f4f4f4" stroke="#aaa" stroke-width="0.6"/>
<circle cx="1276.8" cy="157.6" r="3.4" fill="#f4f4f4" stroke="#aaa" stroke-width="0.6"/>
<circle cx="1267.5" cy="150.8" r="4.2" fill="#e01010"/>
<circle cx="1266.3" cy="149.60000000000002" r="1.5" fill="#ff8080"/>
<circle cx="1306" cy="130.2" r="3.4" fill="#f4f4f4" stroke="#aaa" stroke-width="0.6"/>
<circle cx="1319.6" cy="128.5" r="3.4" fill="#f4f4f4" stroke="#aaa" stroke-width="0.6"/>
<circle cx="1313.4" cy="135.4" r="4.2" fill="#e01010"/>
<circle cx="1312.2" cy="134.20000000000002" r="1.5" fill="#ff8080"/>
<circle cx="1328.2" cy="159.4" r="3.4" fill="#f4f4f4" stroke="#aaa" stroke-width="0.6"/>
<circle cx="1330" cy="173" r="3.4" fill="#f4f4f4" stroke="#aaa" stroke-width="0.6"/>
<circle cx="1324" cy="168" r="4.2" fill="#e01010"/>
<circle cx="1322.8" cy="166.8" r="1.5" fill="#ff8080"/>
<text x="1186.88" y="65.31" font-size="9.12" font-weight="normal" font-style="normal" fill="#444" textLength="43.80" lengthAdjust="spacingAndGlyphs" >gas outlet</text>
<text x="1346.09" y="65.31" font-size="9.12" font-weight="normal" font-style="normal" fill="#444" textLength="36.79" lengthAdjust="spacingAndGlyphs" >gas inlet</text>
<text x="1268.49" y="58.51" font-size="9.40" font-weight="normal" font-style="normal" fill="#444" textLength="31.40" lengthAdjust="spacingAndGlyphs" >mid-IR</text>
<text x="1137.36" y="127.91" font-size="9.12" font-weight="normal" font-style="normal" fill="#333" textLength="35.13" lengthAdjust="spacingAndGlyphs" >gas cell</text>
<text x="1158.80" y="284.90" font-size="10.21" font-weight="normal" font-style="normal" fill="#333" textLength="50.15" lengthAdjust="spacingAndGlyphs" >heat switch</text>
<text x="1258.85" y="267.90" font-size="9.80" font-weight="normal" font-style="normal" fill="#444" textLength="50.11" lengthAdjust="spacingAndGlyphs" >transmitted</text>
<text x="1357.97" y="284.11" font-size="9.12" font-weight="normal" font-style="normal" fill="#333" textLength="31.47" lengthAdjust="spacingAndGlyphs" >voltage</text>
<rect x="58.40" y="339.50" width="324.10" height="242.50" fill="url(#e_bg)" stroke="none" stroke-width="1" />
<g clip-path="url(#e_clip)">
<ellipse cx="330" cy="470" rx="70" ry="60" fill="#2c58cc" opacity="0.5" filter="url(#blur14)"/>
<polygon points="70.0,339.0 84.0,339.0 142.4,560.0 120.0,560.0" fill="url(#e_ray)" stroke="none" stroke-width="1" filter="url(#blur4)" opacity="0.3"/>
<polygon points="95.0,339.0 105.0,339.0 176.0,560.0 160.0,560.0" fill="url(#e_ray)" stroke="none" stroke-width="1" filter="url(#blur4)" opacity="0.3"/>
<polygon points="120.0,339.0 136.0,339.0 225.6,560.0 200.0,560.0" fill="url(#e_ray)" stroke="none" stroke-width="1" filter="url(#blur4)" opacity="0.3"/>
<polygon points="150.0,339.0 160.0,339.0 246.0,560.0 230.0,560.0" fill="url(#e_ray)" stroke="none" stroke-width="1" filter="url(#blur4)" opacity="0.3"/>
<polygon points="175.0,339.0 187.0,339.0 289.2,560.0 270.0,560.0" fill="url(#e_ray)" stroke="none" stroke-width="1" filter="url(#blur4)" opacity="0.3"/>
<polygon points="60.0,339.0 70.0,339.0 96.0,560.0 80.0,560.0" fill="url(#e_ray)" stroke="none" stroke-width="1" filter="url(#blur4)" opacity="0.3"/>
<path d="M50,325 L330,325 Q300,342 250,348 Q200,354 160,362 Q110,372 80,376 Q65,377 50,377 Z" fill="#ffffff" stroke="none" stroke-width="1" filter="url(#blur6)" opacity="0.95"/>
<path d="M50,325 L230,325 Q210,338 170,344 Q120,352 90,358 Q70,361 50,361 Z" fill="#ffffff" stroke="none" stroke-width="1" filter="url(#blur3)"/>
<ellipse cx="340" cy="345" rx="55" ry="7" fill="#ffffff" opacity="0.3" filter="url(#blur4)"/>
<path d="M50,330 L275,330 Q260,342 200,350 Q150,356 100,360 Q70,362 50,362 Z" fill="#ffffff" stroke="none" stroke-width="1" filter="url(#blur2)"/>
<ellipse cx="160" cy="372" rx="90" ry="6" fill="#d0e8ff" opacity="0.5" filter="url(#blur4)"/>
<ellipse cx="300" cy="350" rx="28" ry="3" fill="#e8f4ff" opacity="0.5" filter="url(#blur2)"/>
<ellipse cx="345" cy="344" rx="30" ry="3" fill="#e8f4ff" opacity="0.45" filter="url(#blur2)"/>
<ellipse cx="255" cy="356" rx="25" ry="2.5" fill="#e8f4ff" opacity="0.4" filter="url(#blur2)"/>
<ellipse cx="330" cy="360" rx="22" ry="2" fill="#e8f4ff" opacity="0.35" filter="url(#blur2)"/>
<ellipse cx="370" cy="356" rx="15" ry="2" fill="#e8f4ff" opacity="0.35" filter="url(#blur2)"/>
<ellipse cx="220" cy="578" rx="200" ry="22" fill="#ffffff" opacity="0.8" filter="url(#blur6)"/>
</g>
<polygon points="93.3,408.1 108.0,399.6 170.7,401.4 153.7,410.4" fill="#b4b4b6" stroke="none" stroke-width="1" />
<polygon points="93.3,408.1 153.7,410.4 125.8,446.7" fill="#a6a6a8" stroke="none" stroke-width="1" />
<polygon points="153.7,410.4 170.7,401.4 146.7,438.2 125.8,446.7" fill="#929294" stroke="none" stroke-width="1" />
<line x1="93.30" y1="408.10" x2="153.70" y2="410.40" stroke="#c8c8ca" stroke-width="0.8" />
<text x="172.44" y="412.18" font-size="12.20" font-weight="normal" font-style="normal" fill="#e8e83a" textLength="93.67" lengthAdjust="spacingAndGlyphs" >Chemical reduction</text>
<rect x="186.60" y="417.20" width="69.00" height="4.20" fill="#f4f41c" stroke="none" stroke-width="1" />
<polygon points="264.0,419.3 254.0,413.5 254.0,425.1" fill="#f4f41c" stroke="none" stroke-width="1" />
<text x="201.56" y="433.49" font-size="11.50" font-weight="normal" font-style="italic" fill="#e8e83a" textLength="29.66" lengthAdjust="spacingAndGlyphs" >In situ</text>
<polygon points="271.5,401.5 280.0,395.2 351.3,394.8 340.0,403.5" fill="#707478" stroke="none" stroke-width="1" />
<polygon points="271.5,401.5 340.0,403.5 305.1,441.4" fill="#a8a8aa" stroke="none" stroke-width="1" />
<polygon points="340.0,403.5 351.3,394.8 317.0,436.5 305.1,441.4" fill="#8e8e90" stroke="none" stroke-width="1" />
<path d="M286.2,397.3 L286.4,396.2 L286.6,395.2 L286.8,394.2 L286.9,393.1 L287.1,392.1 L287.3,391.0 L287.5,389.9 L287.7,388.9 L287.8,387.8 L288.0,386.8 L288.2,385.8 L288.5,385.3 L288.8,385.6 L289.3,386.5 L289.7,387.4 L290.2,388.3 L290.6,389.2 L291.1,390.1 L291.7,390.6 L292.5,390.8 L293.6,390.6 L294.6,390.4 L295.7,390.2 L296.6,390.3 L297.5,390.8 L298.3,391.6 L299.1,392.3 L299.8,393.1 L300.6,393.9 L301.4,394.7 L302.2,395.4 L302.9,395.6 L303.5,395.3 L304.1,394.3 L304.6,393.4 L305.1,392.4 L305.7,391.5 L306.2,390.6 L306.7,389.6 L307.2,388.7 L307.8,387.7 L308.3,386.8 L308.9,386.0 L309.5,385.2 L310.0,384.3 L310.6,383.5 L311.2,382.7 L311.8,381.9 L312.3,381.0 L312.9,380.2 L313.6,379.9 L314.3,380.0 L315.2,380.7 L316.0,381.3 L316.9,382.0 L317.5,382.7 L318.0,383.6 L318.3,384.6 L318.6,385.5 L318.8,386.5 L319.1,387.5 L319.4,388.5 L319.7,389.5 L320.0,390.4 L320.3,391.4 L320.6,392.4 L320.9,393.4 L321.1,394.4 L321.4,395.3 L321.7,396.3 L322.1,396.7 L322.6,396.4 L323.2,395.4 L323.7,394.5 L324.3,393.6 L324.9,392.6 L325.5,391.7 L326.0,390.8 L326.6,389.8 L327.3,389.0 L327.9,388.1 L328.7,387.4 L329.4,386.6 L330.2,385.9 L330.9,385.1 L331.7,384.4 L332.3,384.2 L332.7,384.6 L333.0,385.6 L333.3,386.5 L333.6,387.5 L333.9,388.5 L334.2,389.5 L334.5,390.5 L334.8,391.4 L335.1,392.4 L335.4,393.4 L335.7,394.4 L336.0,395.3 L336.3,396.3 L336.6,397.3" fill="none" stroke="#b81830" stroke-width="1.3" stroke-linejoin="round" stroke-linecap="round" />
<polygon points="291.8,401.2 305.8,401.2 345.3,442.1 331.2,442.1" fill="#f26464" stroke="none" stroke-width="1" fill-opacity="0.85"/>
<polygon points="300.2,401.2 314.3,401.2 282.5,430.1 288.9,436.5 269.2,436.5 269.2,416.7 275.5,423.1" fill="#f26464" stroke="none" stroke-width="1" fill-opacity="0.85"/>
<polygon points="278.9,499.1 358.7,496.0 310.4,543.2" fill="#a4a4a6" stroke="none" stroke-width="1" />
<polygon points="330.0,500.0 358.7,496.0 318.0,540.0 310.4,543.2" fill="#8c8c8e" stroke="none" stroke-width="1" />
<rect x="279.00" y="494.00" width="80.00" height="7.00" fill="#4a8ed0" stroke="none" stroke-width="1" fill-opacity="0.7"/>
<rect x="279.00" y="491.00" width="80.00" height="3.00" fill="#7ab0e0" stroke="none" stroke-width="1" fill-opacity="0.6"/>
<path d="M279,481.5 L289,476 L358,476 L358,497 M279,481.5 L279,500 M279,481.5 L348,481.5 L358,476 M348,481.5 L348,500" fill="none" stroke="#c8d8f0" stroke-width="0.8" />
<polygon points="292.8,504.5 306.8,504.5 346.3,545.4 332.2,545.4" fill="#f26464" stroke="none" stroke-width="1" fill-opacity="0.85"/>
<polygon points="301.2,504.5 315.3,504.5 283.5,533.4 289.9,539.8 270.2,539.8 270.2,520.0 276.5,526.4" fill="#f26464" stroke="none" stroke-width="1" fill-opacity="0.85"/>
<circle cx="304.1" cy="462.6" r="2.8" fill="#f8f8f8"/>
<rect x="302.60" y="466.50" width="3.00" height="18.00" fill="#f0f4fa" stroke="none" stroke-width="1" />
<ellipse cx="130" cy="508" rx="53" ry="52" fill="none" stroke="#e6e640" stroke-width="1.4"/>
<circle cx="304.1" cy="499.3" r="6.5" fill="none" stroke="#e6e640" stroke-width="1.3"/>
<line x1="164.40" y1="465.40" x2="300.50" y2="494.60" stroke="#e6e640" stroke-width="1.2" />
<line x1="167.80" y1="548.30" x2="305.50" y2="505.50" stroke="#e6e640" stroke-width="1.2" />
<polygon points="89.0,530.0 106.8,505.5 182.4,507.2 164.0,534.5" fill="#8e8e92" stroke="none" stroke-width="1" />
<polygon points="89.0,530.0 164.0,534.5 164.0,538.5 89.0,535.5" fill="#f8f8f4" stroke="none" stroke-width="1" />
<polygon points="164.0,534.5 182.4,507.2 182.4,512.3 164.0,538.5" fill="#1a1a1a" stroke="none" stroke-width="1" />
<path d="M145.6,506 L145.6,506.0 L146.6,506.0 L147.6,506.0 L148.6,506.0 L149.6,506.0 L150.6,506.0 L151.6,505.8 L152.6,505.3 L153.6,503.7 L154.6,500.0 L155.6,494.3 L156.6,488.5 L157.6,486.0 L158.6,488.5 L159.6,494.3 L160.6,500.0 L161.6,503.7 L162.6,505.3 L163.6,505.8 L164.6,506.0 L165.6,506.0 L166.6,506.0 L167.6,506.0 L168.6,506.0 L169.6,506.0 L169.6,506 Z" fill="#8c1424" fill-opacity="0.9"/>
<path d="M142.0,508 L142.0,508.0 L142.7,508.0 L143.3,508.0 L144.0,508.0 L144.7,508.0 L145.3,508.0 L146.0,507.9 L146.7,507.5 L147.3,506.4 L148.0,503.8 L148.7,499.8 L149.3,495.8 L150.0,494.0 L150.7,495.8 L151.3,499.8 L152.0,503.8 L152.7,506.4 L153.3,507.5 L154.0,507.9 L154.7,508.0 L155.3,508.0 L156.0,508.0 L156.7,508.0 L157.3,508.0 L158.0,508.0 L158.0,508 Z" fill="#a01828" fill-opacity="0.9"/>
<path d="M135.4,506 L135.4,506.0 L135.8,506.0 L136.1,506.0 L136.5,506.0 L136.9,506.0 L137.2,505.9 L137.6,505.7 L138.0,504.6 L138.3,501.2 L138.7,493.8 L139.1,482.1 L139.4,470.2 L139.8,465.0 L140.2,470.2 L140.5,482.1 L140.9,493.8 L141.3,501.2 L141.6,504.6 L142.0,505.7 L142.4,505.9 L142.7,506.0 L143.1,506.0 L143.5,506.0 L143.8,506.0 L144.2,506.0 L144.2,506 Z" fill="#8a1020" fill-opacity="0.9"/>
<path d="M131.0,507 L131.0,507.0 L131.4,507.0 L131.8,507.0 L132.2,507.0 L132.7,507.0 L133.1,507.0 L133.5,506.8 L133.9,506.0 L134.3,503.7 L134.8,498.7 L135.2,490.6 L135.6,482.5 L136.0,479.0 L136.4,482.5 L136.8,490.6 L137.2,498.7 L137.7,503.7 L138.1,506.0 L138.5,506.8 L138.9,507.0 L139.3,507.0 L139.8,507.0 L140.2,507.0 L140.6,507.0 L141.0,507.0 L141.0,507 Z" fill="#b81828" fill-opacity="0.9"/>
<path d="M112.1,505 L112.1,505.0 L112.4,505.0 L112.7,505.0 L113.0,505.0 L113.3,505.0 L113.6,505.0 L113.9,504.8 L114.2,504.0 L114.5,501.5 L114.8,496.1 L115.1,487.5 L115.4,478.8 L115.7,475.0 L116.0,478.8 L116.3,487.5 L116.6,496.1 L116.9,501.5 L117.2,504.0 L117.5,504.8 L117.8,505.0 L118.1,505.0 L118.4,505.0 L118.7,505.0 L119.0,505.0 L119.3,505.0 L119.3,505 Z" fill="#8a1020" fill-opacity="0.9"/>
<path d="M108.2,506 L108.2,506.0 L108.5,506.0 L108.8,506.0 L109.1,506.0 L109.4,506.0 L109.7,506.0 L110.0,505.9 L110.3,505.4 L110.6,503.9 L110.9,500.6 L111.2,495.5 L111.5,490.3 L111.8,488.0 L112.1,490.3 L112.4,495.5 L112.7,500.6 L113.0,503.9 L113.3,505.4 L113.6,505.9 L113.9,506.0 L114.2,506.0 L114.5,506.0 L114.8,506.0 L115.1,506.0 L115.4,506.0 L115.4,506 Z" fill="#a01828" fill-opacity="0.9"/>
<path d="M105.0,509.0 L105.0,508.4 L105.8,507.6 L106.6,505.8 L107.4,501.7 L108.2,494.9 L109.0,489.8 L109.8,489.9 L110.6,491.1 L111.4,490.8 L112.2,490.4 L113.0,491.4 L113.8,494.0 L114.6,497.6 L115.4,500.9 L116.2,502.8 L117.0,502.6 L117.8,500.2 L118.6,496.6 L119.4,495.9 L120.2,499.9 L121.0,504.4 L121.8,506.9 L122.6,508.2 L123.4,508.7 L124.2,508.9 L125.0,509.0 L125.8,509.0 L126.6,509.0 L127.4,509.0 L128.2,508.9 L129.0,508.7 L129.8,508.3 L130.6,507.5 L131.4,505.9 L132.2,503.4 L133.0,499.9 L133.8,496.2 L134.6,493.4 L135.4,492.8 L136.2,494.9 L137.0,498.8 L137.8,502.9 L138.6,505.9 L139.4,507.7 L140.2,508.5 L141.0,508.8 L141.8,509.0 L142.6,509.0 L143.4,508.9 L144.2,508.2 L145.0,505.9 L145.8,502.0 L146.6,499.8 L147.4,502.2 L148.2,506.1 L149.0,508.3 L149.8,508.9 L150.6,509.0 L151.4,508.9 L152.2,508.5 L153.0,507.5 L153.8,506.1 L154.6,505.1 L155.4,505.5 L156.2,506.9 L157.0,508.1 L157.8,508.8 L158.6,509.0 L159.4,509.0 L160.2,509.0 L161.0,509.0 L161.8,509.0 L162.6,509.0 L163.4,509.0 L164.2,509.0 L165.0,509.0 L165.8,509.0 L166.6,509.0 L167.4,509.0 L168.2,509.0 L169.0,509.0 L169.8,509.0 L170.0,509.0 Z" fill="#a81424" fill-opacity="0.85"/>
<path d="M101.4,513.6 L101.4,513.6 L102.2,513.6 L103.0,513.6 L103.8,513.6 L104.6,513.6 L105.4,513.6 L106.2,513.6 L107.0,513.6 L107.8,513.6 L108.6,513.6 L109.4,513.6 L110.2,513.6 L111.0,513.6 L111.8,513.5 L112.6,513.3 L113.4,512.6 L114.2,510.7 L115.0,507.5 L115.8,503.7 L116.6,501.4 L117.4,502.1 L118.2,504.9 L119.0,507.8 L119.8,509.4 L120.6,509.7 L121.4,509.8 L122.2,510.1 L123.0,510.9 L123.8,511.7 L124.6,512.0 L125.4,511.1 L126.2,508.4 L127.0,504.3 L127.8,501.2 L128.6,500.9 L129.4,502.8 L130.2,504.6 L131.0,505.2 L131.8,504.8 L132.6,503.9 L133.4,502.8 L134.2,501.8 L135.0,502.1 L135.8,504.2 L136.6,507.5 L137.4,510.5 L138.2,512.4 L139.0,513.2 L139.8,513.4 L140.6,513.1 L141.4,511.7 L142.2,509.1 L143.0,506.4 L143.8,505.5 L144.6,506.0 L145.4,506.3 L146.2,506.8 L147.0,508.7 L147.8,511.3 L148.6,512.9 L149.4,513.5 L150.2,513.6 L151.0,513.6 L151.8,513.6 L152.6,513.6 L153.4,513.6 L154.2,513.6 L155.0,513.6 L155.8,513.6 L156.6,513.5 L157.4,513.4 L158.2,512.9 L159.0,511.3 L159.8,505.8 L160.6,497.4 L161.4,495.3 L162.2,498.6 L163.0,500.2 L163.8,501.1 L164.6,503.2 L165.4,506.1 L166.2,509.0 L166.4,513.6 Z" fill="#c81c28" fill-opacity="0.85"/>
<path d="M97.8,518.2 L97.8,518.2 L98.6,518.2 L99.4,518.1 L100.2,518.0 L101.0,517.6 L101.8,517.0 L102.6,515.8 L103.4,514.1 L104.2,512.0 L105.0,510.0 L105.8,508.7 L106.6,508.4 L107.4,509.3 L108.2,510.3 L109.0,510.3 L109.8,508.0 L110.6,502.7 L111.4,496.8 L112.2,495.7 L113.0,501.4 L113.8,508.1 L114.6,512.1 L115.4,514.2 L116.2,515.6 L117.0,516.7 L117.8,517.4 L118.6,517.8 L119.4,518.1 L120.2,518.2 L121.0,518.2 L121.8,518.2 L122.6,518.2 L123.4,518.2 L124.2,518.2 L125.0,518.2 L125.8,518.2 L126.6,518.2 L127.4,518.2 L128.2,518.2 L129.0,518.2 L129.8,518.2 L130.6,518.2 L131.4,518.2 L132.2,518.2 L133.0,518.2 L133.8,518.2 L134.6,517.9 L135.4,516.6 L136.2,513.4 L137.0,508.2 L137.8,504.2 L138.6,504.7 L139.4,509.1 L140.2,513.6 L141.0,516.4 L141.8,517.6 L142.6,517.9 L143.4,517.3 L144.2,515.9 L145.0,514.4 L145.8,514.1 L146.6,515.4 L147.4,517.0 L148.2,517.9 L149.0,518.1 L149.8,518.2 L150.6,518.2 L151.4,518.2 L152.2,518.2 L153.0,518.2 L153.8,518.2 L154.6,518.2 L155.4,518.2 L156.2,517.9 L157.0,516.6 L157.8,513.5 L158.6,511.2 L159.4,513.1 L160.2,516.4 L161.0,517.9 L161.8,518.2 L162.6,518.2 L162.8,518.2 Z" fill="#e82a2a" fill-opacity="0.85"/>
<path d="M94.2,522.8 L94.2,522.8 L95.0,522.8 L95.8,522.8 L96.6,522.8 L97.4,522.8 L98.2,522.8 L99.0,522.7 L99.8,522.3 L100.6,521.0 L101.4,518.6 L102.2,516.5 L103.0,516.8 L103.8,519.0 L104.6,521.0 L105.4,521.4 L106.2,520.6 L107.0,518.8 L107.8,516.5 L108.6,514.3 L109.4,513.0 L110.2,513.2 L111.0,514.8 L111.8,517.1 L112.6,519.3 L113.4,521.0 L114.2,521.8 L115.0,521.4 L115.8,519.4 L116.6,518.0 L117.4,519.4 L118.2,521.6 L119.0,522.6 L119.8,522.8 L120.6,522.8 L121.4,522.8 L122.2,522.8 L123.0,522.8 L123.8,522.8 L124.6,522.8 L125.4,522.8 L126.2,522.8 L127.0,522.8 L127.8,522.8 L128.6,522.6 L129.4,522.2 L130.2,521.1 L131.0,519.3 L131.8,517.1 L132.6,515.6 L133.4,515.4 L134.2,516.4 L135.0,517.7 L135.8,518.8 L136.6,519.8 L137.4,520.6 L138.2,521.4 L139.0,521.9 L139.8,522.1 L140.6,521.8 L141.4,521.2 L142.2,520.3 L143.0,519.2 L143.8,518.3 L144.6,518.0 L145.4,518.2 L146.2,518.6 L147.0,518.4 L147.8,517.6 L148.6,518.0 L149.4,519.8 L150.2,521.2 L151.0,521.1 L151.8,519.9 L152.6,518.2 L153.4,517.1 L154.2,517.1 L155.0,518.3 L155.8,520.0 L156.6,521.4 L157.4,522.2 L158.2,522.6 L159.0,522.8 L159.2,522.8 Z" fill="#f05050" fill-opacity="0.85"/>
<path d="M90.6,527.4 L90.6,527.4 L91.4,527.4 L92.2,527.3 L93.0,526.9 L93.8,525.5 L94.6,522.5 L95.4,519.3 L96.2,518.9 L97.0,521.8 L97.8,525.0 L98.6,526.6 L99.4,526.8 L100.2,526.1 L101.0,524.6 L101.8,522.2 L102.6,518.9 L103.4,515.3 L104.2,512.5 L105.0,511.3 L105.8,512.4 L106.6,515.2 L107.4,518.7 L108.2,522.1 L109.0,524.6 L109.8,526.1 L110.6,526.9 L111.4,527.2 L112.2,527.3 L113.0,527.4 L113.8,527.4 L114.6,527.4 L115.4,527.4 L116.2,527.4 L117.0,527.4 L117.8,527.4 L118.6,527.4 L119.4,527.4 L120.2,527.4 L121.0,527.4 L121.8,527.2 L122.6,526.9 L123.4,526.0 L124.2,524.3 L125.0,522.1 L125.8,520.0 L126.6,518.5 L127.4,516.9 L128.2,514.7 L129.0,514.2 L129.8,518.1 L130.6,523.2 L131.4,525.7 L132.2,525.7 L133.0,524.7 L133.8,523.3 L134.6,521.5 L135.4,520.0 L136.2,520.0 L137.0,521.9 L137.8,524.3 L138.6,526.0 L139.4,526.8 L140.2,527.2 L141.0,527.3 L141.8,527.4 L142.6,527.4 L143.4,527.3 L144.2,527.0 L145.0,525.9 L145.8,523.4 L146.6,520.4 L147.4,519.6 L148.2,521.8 L149.0,524.8 L149.8,526.6 L150.6,527.3 L151.4,527.4 L152.2,527.4 L153.0,527.4 L153.8,527.4 L154.6,527.4 L155.4,527.4 L155.6,527.4 Z" fill="#f08a8a" fill-opacity="0.85"/>
<circle cx="122.7" cy="495.7" r="1.2" fill="#b0b0b8"/>
<circle cx="95.3" cy="485.8" r="1.2" fill="#e8e8f0"/>
<circle cx="123.9" cy="501.4" r="1.2" fill="#d0d0d8"/>
<circle cx="111.1" cy="500.3" r="1.2" fill="#a0a0b0"/>
<circle cx="119.0" cy="489.7" r="1.2" fill="#d0d0d8"/>
<circle cx="127.6" cy="483.7" r="1.2" fill="#e8e8f0"/>
<circle cx="136.2" cy="496.6" r="1.2" fill="#e8e8f0"/>
<circle cx="129.0" cy="471.6" r="1.2" fill="#b0b0b8"/>
<circle cx="122.4" cy="473.6" r="1.2" fill="#d0d0d8"/>
<circle cx="138.7" cy="469.2" r="1.2" fill="#e8e8f0"/>
<circle cx="138.2" cy="475.0" r="1.2" fill="#e8e8f0"/>
<circle cx="107.3" cy="503.6" r="1.2" fill="#b0b0b8"/>
<circle cx="134.3" cy="491.5" r="1.2" fill="#e8e8f0"/>
<circle cx="137.3" cy="493.9" r="1.2" fill="#a0a0b0"/>
<circle cx="107.7" cy="482.0" r="1.2" fill="#e8e8f0"/>
<circle cx="137.0" cy="478.5" r="1.2" fill="#3050c0"/>
<circle cx="107.9" cy="490.7" r="1.2" fill="#d0d0d8"/>
<circle cx="121.4" cy="494.5" r="1.2" fill="#d0d0d8"/>
<circle cx="108.3" cy="498.5" r="1.2" fill="#a0a0b0"/>
<circle cx="126.0" cy="475.7" r="1.2" fill="#a0a0b0"/>
<circle cx="126.4" cy="471.1" r="1.2" fill="#d0d0d8"/>
<circle cx="137.7" cy="481.9" r="1.2" fill="#a0a0b0"/>
<circle cx="94.8" cy="497.4" r="1.2" fill="#3050c0"/>
<circle cx="111.3" cy="499.3" r="1.2" fill="#a0a0b0"/>
<circle cx="96.1" cy="475.5" r="1.2" fill="#e8e8f0"/>
<circle cx="99.5" cy="477.9" r="1.2" fill="#a0a0b0"/>
<circle cx="109.8" cy="481.8" r="1.2" fill="#b0b0b8"/>
<circle cx="105.5" cy="485.7" r="1.2" fill="#b0b0b8"/>
<circle cx="128.4" cy="497.7" r="1.2" fill="#3050c0"/>
<circle cx="95.7" cy="503.0" r="1.2" fill="#d0d0d8"/>
<circle cx="103.6" cy="487.5" r="1.2" fill="#3050c0"/>
<circle cx="136.2" cy="481.2" r="1.2" fill="#b0b0b8"/>
<circle cx="98.2" cy="493.7" r="1.2" fill="#3050c0"/>
<circle cx="102.2" cy="471.8" r="1.2" fill="#e8e8f0"/>
<text x="188.51" y="503.75" font-size="11.80" font-weight="normal" font-style="normal" fill="#e8e040" textLength="86.88" lengthAdjust="spacingAndGlyphs" >Sense in aqueous</text>
<text x="187.21" y="514.48" font-size="11.80" font-weight="normal" font-style="normal" fill="#e8e040" textLength="90.66" lengthAdjust="spacingAndGlyphs" >solution in real time</text>
<rect x="468.30" y="339.30" width="239.70" height="243.00" fill="#1c0000" stroke="none" stroke-width="1" />
<g clip-path="url(#f_clip)">
<rect x="482.00" y="372.00" width="212.00" height="186.00" fill="#240000" stroke="none" stroke-width="1" filter="url(#blur6)"/>
<line x1="468.00" y1="373.00" x2="708.00" y2="373.00" stroke="#2c0200" stroke-width="1" />
<rect x="492" y="376" width="14" height="172" rx="5" fill="#b01000" opacity="0.6" filter="url(#glow2)"/>
<rect x="667" y="377" width="13" height="168" rx="5" fill="#b01000" opacity="0.55" filter="url(#glow2)"/>
<rect x="499" y="379" width="5" height="166" rx="2" fill="#ff2a08" filter="url(#glow)"/>
<rect x="670" y="381" width="4.5" height="162" rx="2" fill="#f82008" filter="url(#glow)"/>
<path d="M520.2,398.5 L520.4,399.4 L520.6,400.5 L520.9,401.8 L521.2,403.2 L521.5,404.8 L521.9,406.5 L522.2,408.2 L522.6,410.0 L523.0,411.7 L523.4,413.4 L523.7,415.0 L524.1,416.5 L524.4,417.9 L524.9,419.7 L525.3,421.4 L525.7,423.1 L526.1,424.7 L526.6,426.3 L527.0,427.7 L527.5,429.1 L528.0,430.4 L528.5,431.7 L529.4,433.4 L530.3,435.0 L531.3,436.4 L532.3,437.6 L533.3,438.8 L534.1,440.0 L535.1,441.4 L536.1,442.4 L536.8,443.6 L537.4,445.5 L537.6,446.7 L537.8,448.0 L538.0,449.5 L538.1,451.1 L538.2,452.7 L538.3,454.4 L538.3,456.1 L538.3,457.7 L538.2,459.3 L538.0,460.8 L537.7,462.3 L537.3,463.8 L536.9,465.3 L536.5,466.8 L536.1,468.3 L535.7,469.8 L535.5,471.4 L535.4,473.1 L535.5,474.5 L535.6,476.0 L535.8,477.5 L536.1,479.0 L536.5,480.6 L536.8,482.2 L537.2,483.8 L537.5,485.3 L537.8,486.8 L538.0,488.3 L538.2,489.7 L538.3,491.4 L538.3,493.0 L538.3,494.5 L538.2,496.0 L538.1,497.5 L538.0,499.0 L538.0,500.5 L538.0,502.0 L538.2,503.5 L538.5,505.0 L538.9,506.4 L539.3,507.8 L539.8,509.2 L540.3,510.6 L540.9,512.1 L541.4,513.7 L541.9,515.4 L542.3,517.3 L542.5,518.7 L542.8,520.2 L543.0,521.9 L543.3,523.7 L543.5,525.5 L543.7,527.4 L544.0,529.2 L544.2,531.0 L544.4,532.8 L544.5,534.5 L544.7,536.0 L544.9,537.3 L545.0,538.5 L545.1,539.4" fill="none" stroke="#d01200" stroke-width="12" stroke-linecap="round" stroke-linejoin="round" opacity="0.7" filter="url(#glow2)"/>
<path d="M530.0,396.0 L530.7,396.6 L531.8,397.5 L533.0,398.4 L534.3,399.5 L535.7,400.7 L537.1,401.9 L538.4,403.0 L539.6,404.1 L540.9,405.3 L542.1,406.5 L543.2,407.7 L544.4,409.0 L545.6,410.1 L546.7,411.3 L547.9,412.3 L549.4,413.3 L551.2,414.2 L552.9,414.9 L554.5,415.7 L555.6,416.7 L556.2,417.9 L556.2,419.0 L555.8,420.3 L555.1,421.6 L554.3,423.1 L553.3,424.5 L552.3,426.0 L551.4,427.5 L550.6,428.9 L549.9,430.3 L549.2,431.7 L548.5,433.1 L547.8,434.4 L547.2,435.8 L546.5,437.2 L545.8,438.6 L545.1,440.0 L544.4,441.5 L543.6,443.0 L542.8,444.6 L542.0,446.2 L541.3,447.7 L540.6,449.0 L540.0,450.2 L539.6,451.0" fill="none" stroke="#d01200" stroke-width="12" stroke-linecap="round" stroke-linejoin="round" opacity="0.7" filter="url(#glow2)"/>
<path d="M566.0,386.0 L567.0,386.6 L568.4,387.7 L570.0,390.2 L570.5,391.3 L570.9,392.5 L571.5,393.9 L572.0,395.4 L572.6,397.1 L573.1,398.7 L573.6,400.4 L574.2,402.1 L574.6,403.8 L575.1,405.3 L575.5,406.8 L576.0,408.5 L576.4,410.1 L576.8,411.6 L577.2,413.1 L577.6,414.6 L577.9,416.1 L578.1,417.6 L578.2,419.1 L578.3,420.6 L578.2,422.1 L577.9,423.7 L577.5,425.3 L577.0,426.9 L576.5,428.5 L576.0,430.0 L575.7,431.5 L575.5,433.0 L575.5,434.4 L575.8,435.9 L576.4,437.3 L577.1,438.6 L577.9,439.9 L578.8,441.3 L579.6,442.6 L580.4,444.0 L581.0,445.5 L581.5,446.9 L582.0,448.4 L582.5,449.9 L583.0,451.4 L583.5,453.0 L583.8,454.6 L584.0,456.2 L584.0,457.8 L583.8,459.3 L583.4,460.7 L582.9,462.0 L582.1,463.4 L581.3,464.7 L580.3,466.0 L579.4,467.4 L578.3,468.8 L577.3,470.2 L576.4,471.6 L575.5,473.1 L574.8,474.4 L574.0,475.8 L573.2,477.2 L572.3,478.6 L571.5,480.1 L570.7,481.6 L569.9,483.0 L569.1,484.5 L568.5,485.9 L567.9,487.2 L567.5,488.5 L567.2,489.7 L567.0,491.7 L567.3,493.6 L567.8,495.4 L568.4,497.0 L569.1,498.5 L569.6,499.8 L570.0,500.7" fill="none" stroke="#d01200" stroke-width="12" stroke-linecap="round" stroke-linejoin="round" opacity="0.7" filter="url(#glow2)"/>
<path d="M547.9,417.9 L547.3,418.8 L546.4,420.1 L545.4,421.5 L544.4,423.1 L543.3,424.7 L542.3,426.2 L541.3,427.7 L540.3,429.2 L539.2,430.8 L538.2,432.3 L537.4,433.5 L536.8,434.4" fill="none" stroke="#d01200" stroke-width="12" stroke-linecap="round" stroke-linejoin="round" opacity="0.7" filter="url(#glow2)"/>
<path d="M556.2,440.0 L556.7,440.8 L557.3,441.9 L558.1,443.1 L558.9,444.5 L559.8,446.0 L560.7,447.6 L561.7,449.2 L562.6,450.8 L563.5,452.4 L564.4,453.8 L565.3,455.2 L566.2,456.8 L567.1,458.4 L568.1,460.0 L569.1,461.6 L570.0,463.1 L570.8,464.5 L571.6,465.7 L572.2,466.8 L572.7,467.6" fill="none" stroke="#d01200" stroke-width="12" stroke-linecap="round" stroke-linejoin="round" opacity="0.7" filter="url(#glow2)"/>
<path d="M506.4,445.5 L506.8,446.3 L507.3,447.4 L507.8,448.6 L508.4,450.0 L509.1,451.5 L509.9,453.1 L510.6,454.7 L511.4,456.4 L512.2,458.0 L513.1,459.5 L513.9,460.9 L514.7,462.1 L515.7,463.5 L516.7,464.7 L517.8,466.0 L518.9,467.2 L520.1,468.3 L521.2,469.4 L522.4,470.4 L523.5,471.3 L524.7,472.2 L525.8,473.1 L527.3,474.1 L528.8,475.0 L530.4,475.8 L532.0,476.5 L533.5,477.2 L534.8,477.7 L536.0,478.2 L536.8,478.6" fill="none" stroke="#d01200" stroke-width="12" stroke-linecap="round" stroke-linejoin="round" opacity="0.7" filter="url(#glow2)"/>
<path d="M619.7,404.1 L619.3,405.0 L618.8,406.2 L618.3,407.7 L617.6,409.3 L617.0,411.0 L616.2,412.8 L615.5,414.6 L614.8,416.3 L614.2,417.9 L613.6,419.4 L612.9,421.0 L612.2,422.5 L611.6,424.0 L610.9,425.6 L610.3,427.1 L609.7,428.6 L609.1,430.2 L608.6,431.7 L608.2,433.3 L607.8,434.9 L607.5,436.5 L607.2,438.1 L606.9,439.7 L606.7,441.3 L606.5,442.8 L606.2,444.2 L605.9,445.5 L605.2,447.4 L604.4,449.0 L603.6,450.3 L603.1,451.9 L603.1,453.8 L603.3,455.1 L603.7,456.6 L604.2,458.1 L604.8,459.7 L605.5,461.4 L606.3,463.0 L607.0,464.6 L607.8,466.2 L608.6,467.6 L609.4,468.9 L610.3,470.2 L611.2,471.5 L612.1,472.7 L613.1,473.9 L614.0,475.0 L615.0,476.2 L616.0,477.4 L616.9,478.6 L617.8,479.8 L618.8,481.1 L619.8,482.3 L620.7,483.5 L621.7,484.8 L622.6,486.0 L623.5,487.2 L624.4,488.5 L625.2,489.7 L626.1,491.1 L626.9,492.5 L627.7,493.8 L628.5,495.2 L629.2,496.6 L629.8,497.9 L630.3,499.3 L630.7,500.7 L631.0,502.4 L631.1,504.2 L631.1,506.0 L631.0,507.8 L630.9,509.4 L630.7,510.8 L630.7,511.8" fill="none" stroke="#d01200" stroke-width="12" stroke-linecap="round" stroke-linejoin="round" opacity="0.7" filter="url(#glow2)"/>
<path d="M633.5,406.8 L633.4,407.7 L633.2,408.8 L632.9,410.1 L632.7,411.6 L632.4,413.2 L632.1,414.9 L631.8,416.7 L631.5,418.4 L631.2,420.2 L631.0,421.8 L630.7,423.4 L630.4,424.9 L630.1,426.5 L629.8,428.0 L629.5,429.6 L629.2,431.1 L628.9,432.6 L628.6,434.2 L628.3,435.7 L628.2,437.2 L628.0,438.6 L628.0,440.0 L628.0,441.7 L628.1,443.3 L628.3,444.9 L628.5,446.5 L628.8,448.0 L629.2,449.5 L629.6,451.0 L630.1,452.4 L630.7,453.8 L631.4,455.1 L632.2,456.4 L633.2,457.7 L634.2,458.9 L635.2,460.1 L636.2,461.2 L637.2,462.4 L638.2,463.6 L639.0,464.8 L639.9,466.2 L640.8,467.6 L641.7,469.1 L642.5,470.5 L643.2,471.9 L643.9,473.3 L644.3,474.6 L644.6,475.9 L644.7,477.8 L644.3,479.6 L643.7,481.2 L642.8,482.8 L641.8,484.2 L640.6,485.3 L639.1,486.4 L637.5,487.5 L635.9,488.4 L634.5,489.1 L633.5,489.7" fill="none" stroke="#d01200" stroke-width="12" stroke-linecap="round" stroke-linejoin="round" opacity="0.7" filter="url(#glow2)"/>
<path d="M655.6,395.8 L655.4,396.6 L655.1,397.7 L654.9,398.9 L654.5,400.2 L654.2,401.6 L653.8,403.2 L653.4,404.8 L653.0,406.5 L652.6,408.2 L652.1,409.9 L651.7,411.6 L651.3,413.3 L650.9,414.9 L650.5,416.5 L650.1,417.9 L649.7,419.5 L649.3,421.1 L648.9,422.7 L648.5,424.2 L648.1,425.8 L647.7,427.3 L647.3,428.8 L646.9,430.3 L646.5,431.8 L646.1,433.2 L645.6,434.6 L645.1,435.9 L644.6,437.2 L643.9,438.8 L643.1,440.4 L642.3,442.0 L641.5,443.5 L640.6,445.0 L639.8,446.3 L638.9,447.6 L638.0,448.9 L637.1,450.0 L636.3,451.0 L634.8,452.5 L633.2,453.7 L631.6,454.6 L630.2,455.4 L628.9,456.0 L628.0,456.5" fill="none" stroke="#d01200" stroke-width="12" stroke-linecap="round" stroke-linejoin="round" opacity="0.7" filter="url(#glow2)"/>
<path d="M603.1,401.3 L604.1,401.0 L605.5,400.5 L607.2,399.9 L609.1,399.3 L610.9,398.8 L612.7,398.5 L614.2,398.5 L615.8,399.0 L617.5,400.0 L619.0,401.1 L620.5,402.3 L621.6,403.4 L622.5,404.1" fill="none" stroke="#d01200" stroke-width="12" stroke-linecap="round" stroke-linejoin="round" opacity="0.7" filter="url(#glow2)"/>
<path d="M603.1,426.2 L603.8,425.3 L604.8,424.0 L605.9,422.5 L607.2,421.3 L608.6,420.6 L610.2,420.7 L612.1,421.2 L614.0,422.1 L615.7,422.9 L616.9,423.4" fill="none" stroke="#d01200" stroke-width="12" stroke-linecap="round" stroke-linejoin="round" opacity="0.7" filter="url(#glow2)"/>
<path d="M548.0,470.0 L548.3,470.9 L548.7,472.2 L549.2,473.6 L549.8,475.2 L550.3,477.0 L550.9,478.7 L551.5,480.4 L552.0,482.0 L552.5,483.5 L553.0,485.0 L553.5,486.5 L554.0,488.0 L554.5,489.5 L555.0,491.0 L555.5,492.5 L556.0,494.0 L556.5,495.5 L557.0,497.0 L557.5,498.5 L558.1,500.0 L558.6,501.5 L559.1,503.0 L559.5,504.5 L560.0,506.0 L560.4,507.6 L560.9,509.3 L561.3,511.0 L561.8,512.8 L562.1,514.4 L562.5,515.8 L562.8,517.1 L563.0,518.0" fill="none" stroke="#d01200" stroke-width="12" stroke-linecap="round" stroke-linejoin="round" opacity="0.7" filter="url(#glow2)"/>
<path d="M588.0,470.0 L587.7,470.9 L587.3,472.2 L586.8,473.6 L586.2,475.2 L585.7,477.0 L585.1,478.7 L584.5,480.4 L584.0,482.0 L583.5,483.5 L583.0,485.0 L582.5,486.5 L581.9,488.0 L581.4,489.5 L580.9,491.0 L580.5,492.5 L580.0,494.0 L579.6,495.6 L579.1,497.3 L578.7,499.0 L578.2,500.8 L577.9,502.4 L577.5,503.8 L577.2,505.1 L577.0,506.0" fill="none" stroke="#d01200" stroke-width="12" stroke-linecap="round" stroke-linejoin="round" opacity="0.7" filter="url(#glow2)"/>
<path d="M633.0,524.0 L633.5,524.9 L634.3,526.1 L635.2,527.5 L636.1,529.0 L637.1,530.6 L638.0,532.0 L638.9,533.4 L639.7,534.7 L640.6,536.1 L641.5,537.5 L642.3,538.8 L643.0,540.0 L644.0,541.8 L644.8,543.5 L645.5,545.0 L646.0,546.0" fill="none" stroke="#d01200" stroke-width="12" stroke-linecap="round" stroke-linejoin="round" opacity="0.7" filter="url(#glow2)"/>
<path d="M540.0,538.0 L540.8,538.8 L541.9,540.1 L543.2,541.5 L544.6,542.8 L546.0,544.0 L547.6,545.0 L549.4,545.9 L551.3,546.8 L552.9,547.5 L554.0,548.0" fill="none" stroke="#d01200" stroke-width="12" stroke-linecap="round" stroke-linejoin="round" opacity="0.7" filter="url(#glow2)"/>
<path d="M526.0,392.0 L525.1,393.0 L523.7,394.4 L522.3,396.1 L520.9,397.5 L520.0,398.5" fill="none" stroke="#d01200" stroke-width="12" stroke-linecap="round" stroke-linejoin="round" opacity="0.7" filter="url(#glow2)"/>
<path d="M512.0,420.0 L512.5,420.9 L513.3,422.1 L514.2,423.6 L515.1,425.2 L516.1,426.9 L517.1,428.5 L518.0,430.0 L518.9,431.5 L519.9,433.1 L520.9,434.8 L521.8,436.4 L522.7,437.9 L523.5,439.1 L524.0,440.0" fill="none" stroke="#d01200" stroke-width="12" stroke-linecap="round" stroke-linejoin="round" opacity="0.7" filter="url(#glow2)"/>
<path d="M520.2,398.5 L520.4,399.4 L520.6,400.5 L520.9,401.8 L521.2,403.2 L521.5,404.8 L521.9,406.5 L522.2,408.2 L522.6,410.0 L523.0,411.7 L523.4,413.4 L523.7,415.0 L524.1,416.5 L524.4,417.9 L524.9,419.7 L525.3,421.4 L525.7,423.1 L526.1,424.7 L526.6,426.3 L527.0,427.7 L527.5,429.1 L528.0,430.4 L528.5,431.7 L529.4,433.4 L530.3,435.0 L531.3,436.4 L532.3,437.6 L533.3,438.8 L534.1,440.0 L535.1,441.4 L536.1,442.4 L536.8,443.6 L537.4,445.5 L537.6,446.7 L537.8,448.0 L538.0,449.5 L538.1,451.1 L538.2,452.7 L538.3,454.4 L538.3,456.1 L538.3,457.7 L538.2,459.3 L538.0,460.8 L537.7,462.3 L537.3,463.8 L536.9,465.3 L536.5,466.8 L536.1,468.3 L535.7,469.8 L535.5,471.4 L535.4,473.1 L535.5,474.5 L535.6,476.0 L535.8,477.5 L536.1,479.0 L536.5,480.6 L536.8,482.2 L537.2,483.8 L537.5,485.3 L537.8,486.8 L538.0,488.3 L538.2,489.7 L538.3,491.4 L538.3,493.0 L538.3,494.5 L538.2,496.0 L538.1,497.5 L538.0,499.0 L538.0,500.5 L538.0,502.0 L538.2,503.5 L538.5,505.0 L538.9,506.4 L539.3,507.8 L539.8,509.2 L540.3,510.6 L540.9,512.1 L541.4,513.7 L541.9,515.4 L542.3,517.3 L542.5,518.7 L542.8,520.2 L543.0,521.9 L543.3,523.7 L543.5,525.5 L543.7,527.4 L544.0,529.2 L544.2,531.0 L544.4,532.8 L544.5,534.5 L544.7,536.0 L544.9,537.3 L545.0,538.5 L545.1,539.4" fill="none" stroke="#ff2c04" stroke-width="4.6" stroke-linecap="round" stroke-linejoin="round" filter="url(#glow)"/>
<path d="M530.0,396.0 L530.7,396.6 L531.8,397.5 L533.0,398.4 L534.3,399.5 L535.7,400.7 L537.1,401.9 L538.4,403.0 L539.6,404.1 L540.9,405.3 L542.1,406.5 L543.2,407.7 L544.4,409.0 L545.6,410.1 L546.7,411.3 L547.9,412.3 L549.4,413.3 L551.2,414.2 L552.9,414.9 L554.5,415.7 L555.6,416.7 L556.2,417.9 L556.2,419.0 L555.8,420.3 L555.1,421.6 L554.3,423.1 L553.3,424.5 L552.3,426.0 L551.4,427.5 L550.6,428.9 L549.9,430.3 L549.2,431.7 L548.5,433.1 L547.8,434.4 L547.2,435.8 L546.5,437.2 L545.8,438.6 L545.1,440.0 L544.4,441.5 L543.6,443.0 L542.8,444.6 L542.0,446.2 L541.3,447.7 L540.6,449.0 L540.0,450.2 L539.6,451.0" fill="none" stroke="#ff2c04" stroke-width="4.6" stroke-linecap="round" stroke-linejoin="round" filter="url(#glow)"/>
<path d="M566.0,386.0 L567.0,386.6 L568.4,387.7 L570.0,390.2 L570.5,391.3 L570.9,392.5 L571.5,393.9 L572.0,395.4 L572.6,397.1 L573.1,398.7 L573.6,400.4 L574.2,402.1 L574.6,403.8 L575.1,405.3 L575.5,406.8 L576.0,408.5 L576.4,410.1 L576.8,411.6 L577.2,413.1 L577.6,414.6 L577.9,416.1 L578.1,417.6 L578.2,419.1 L578.3,420.6 L578.2,422.1 L577.9,423.7 L577.5,425.3 L577.0,426.9 L576.5,428.5 L576.0,430.0 L575.7,431.5 L575.5,433.0 L575.5,434.4 L575.8,435.9 L576.4,437.3 L577.1,438.6 L577.9,439.9 L578.8,441.3 L579.6,442.6 L580.4,444.0 L581.0,445.5 L581.5,446.9 L582.0,448.4 L582.5,449.9 L583.0,451.4 L583.5,453.0 L583.8,454.6 L584.0,456.2 L584.0,457.8 L583.8,459.3 L583.4,460.7 L582.9,462.0 L582.1,463.4 L581.3,464.7 L580.3,466.0 L579.4,467.4 L578.3,468.8 L577.3,470.2 L576.4,471.6 L575.5,473.1 L574.8,474.4 L574.0,475.8 L573.2,477.2 L572.3,478.6 L571.5,480.1 L570.7,481.6 L569.9,483.0 L569.1,484.5 L568.5,485.9 L567.9,487.2 L567.5,488.5 L567.2,489.7 L567.0,491.7 L567.3,493.6 L567.8,495.4 L568.4,497.0 L569.1,498.5 L569.6,499.8 L570.0,500.7" fill="none" stroke="#ff2c04" stroke-width="4.6" stroke-linecap="round" stroke-linejoin="round" filter="url(#glow)"/>
<path d="M547.9,417.9 L547.3,418.8 L546.4,420.1 L545.4,421.5 L544.4,423.1 L543.3,424.7 L542.3,426.2 L541.3,427.7 L540.3,429.2 L539.2,430.8 L538.2,432.3 L537.4,433.5 L536.8,434.4" fill="none" stroke="#ff2c04" stroke-width="4.6" stroke-linecap="round" stroke-linejoin="round" filter="url(#glow)"/>
<path d="M556.2,440.0 L556.7,440.8 L557.3,441.9 L558.1,443.1 L558.9,444.5 L559.8,446.0 L560.7,447.6 L561.7,449.2 L562.6,450.8 L563.5,452.4 L564.4,453.8 L565.3,455.2 L566.2,456.8 L567.1,458.4 L568.1,460.0 L569.1,461.6 L570.0,463.1 L570.8,464.5 L571.6,465.7 L572.2,466.8 L572.7,467.6" fill="none" stroke="#ff2c04" stroke-width="4.6" stroke-linecap="round" stroke-linejoin="round" filter="url(#glow)"/>
<path d="M506.4,445.5 L506.8,446.3 L507.3,447.4 L507.8,448.6 L508.4,450.0 L509.1,451.5 L509.9,453.1 L510.6,454.7 L511.4,456.4 L512.2,458.0 L513.1,459.5 L513.9,460.9 L514.7,462.1 L515.7,463.5 L516.7,464.7 L517.8,466.0 L518.9,467.2 L520.1,468.3 L521.2,469.4 L522.4,470.4 L523.5,471.3 L524.7,472.2 L525.8,473.1 L527.3,474.1 L528.8,475.0 L530.4,475.8 L532.0,476.5 L533.5,477.2 L534.8,477.7 L536.0,478.2 L536.8,478.6" fill="none" stroke="#ff2c04" stroke-width="4.6" stroke-linecap="round" stroke-linejoin="round" filter="url(#glow)"/>
<path d="M619.7,404.1 L619.3,405.0 L618.8,406.2 L618.3,407.7 L617.6,409.3 L617.0,411.0 L616.2,412.8 L615.5,414.6 L614.8,416.3 L614.2,417.9 L613.6,419.4 L612.9,421.0 L612.2,422.5 L611.6,424.0 L610.9,425.6 L610.3,427.1 L609.7,428.6 L609.1,430.2 L608.6,431.7 L608.2,433.3 L607.8,434.9 L607.5,436.5 L607.2,438.1 L606.9,439.7 L606.7,441.3 L606.5,442.8 L606.2,444.2 L605.9,445.5 L605.2,447.4 L604.4,449.0 L603.6,450.3 L603.1,451.9 L603.1,453.8 L603.3,455.1 L603.7,456.6 L604.2,458.1 L604.8,459.7 L605.5,461.4 L606.3,463.0 L607.0,464.6 L607.8,466.2 L608.6,467.6 L609.4,468.9 L610.3,470.2 L611.2,471.5 L612.1,472.7 L613.1,473.9 L614.0,475.0 L615.0,476.2 L616.0,477.4 L616.9,478.6 L617.8,479.8 L618.8,481.1 L619.8,482.3 L620.7,483.5 L621.7,484.8 L622.6,486.0 L623.5,487.2 L624.4,488.5 L625.2,489.7 L626.1,491.1 L626.9,492.5 L627.7,493.8 L628.5,495.2 L629.2,496.6 L629.8,497.9 L630.3,499.3 L630.7,500.7 L631.0,502.4 L631.1,504.2 L631.1,506.0 L631.0,507.8 L630.9,509.4 L630.7,510.8 L630.7,511.8" fill="none" stroke="#ff2c04" stroke-width="4.6" stroke-linecap="round" stroke-linejoin="round" filter="url(#glow)"/>
<path d="M633.5,406.8 L633.4,407.7 L633.2,408.8 L632.9,410.1 L632.7,411.6 L632.4,413.2 L632.1,414.9 L631.8,416.7 L631.5,418.4 L631.2,420.2 L631.0,421.8 L630.7,423.4 L630.4,424.9 L630.1,426.5 L629.8,428.0 L629.5,429.6 L629.2,431.1 L628.9,432.6 L628.6,434.2 L628.3,435.7 L628.2,437.2 L628.0,438.6 L628.0,440.0 L628.0,441.7 L628.1,443.3 L628.3,444.9 L628.5,446.5 L628.8,448.0 L629.2,449.5 L629.6,451.0 L630.1,452.4 L630.7,453.8 L631.4,455.1 L632.2,456.4 L633.2,457.7 L634.2,458.9 L635.2,460.1 L636.2,461.2 L637.2,462.4 L638.2,463.6 L639.0,464.8 L639.9,466.2 L640.8,467.6 L641.7,469.1 L642.5,470.5 L643.2,471.9 L643.9,473.3 L644.3,474.6 L644.6,475.9 L644.7,477.8 L644.3,479.6 L643.7,481.2 L642.8,482.8 L641.8,484.2 L640.6,485.3 L639.1,486.4 L637.5,487.5 L635.9,488.4 L634.5,489.1 L633.5,489.7" fill="none" stroke="#ff2c04" stroke-width="4.6" stroke-linecap="round" stroke-linejoin="round" filter="url(#glow)"/>
<path d="M655.6,395.8 L655.4,396.6 L655.1,397.7 L654.9,398.9 L654.5,400.2 L654.2,401.6 L653.8,403.2 L653.4,404.8 L653.0,406.5 L652.6,408.2 L652.1,409.9 L651.7,411.6 L651.3,413.3 L650.9,414.9 L650.5,416.5 L650.1,417.9 L649.7,419.5 L649.3,421.1 L648.9,422.7 L648.5,424.2 L648.1,425.8 L647.7,427.3 L647.3,428.8 L646.9,430.3 L646.5,431.8 L646.1,433.2 L645.6,434.6 L645.1,435.9 L644.6,437.2 L643.9,438.8 L643.1,440.4 L642.3,442.0 L641.5,443.5 L640.6,445.0 L639.8,446.3 L638.9,447.6 L638.0,448.9 L637.1,450.0 L636.3,451.0 L634.8,452.5 L633.2,453.7 L631.6,454.6 L630.2,455.4 L628.9,456.0 L628.0,456.5" fill="none" stroke="#ff2c04" stroke-width="4.6" stroke-linecap="round" stroke-linejoin="round" filter="url(#glow)"/>
<path d="M603.1,401.3 L604.1,401.0 L605.5,400.5 L607.2,399.9 L609.1,399.3 L610.9,398.8 L612.7,398.5 L614.2,398.5 L615.8,399.0 L617.5,400.0 L619.0,401.1 L620.5,402.3 L621.6,403.4 L622.5,404.1" fill="none" stroke="#ff2c04" stroke-width="4.6" stroke-linecap="round" stroke-linejoin="round" filter="url(#glow)"/>
<path d="M603.1,426.2 L603.8,425.3 L604.8,424.0 L605.9,422.5 L607.2,421.3 L608.6,420.6 L610.2,420.7 L612.1,421.2 L614.0,422.1 L615.7,422.9 L616.9,423.4" fill="none" stroke="#ff2c04" stroke-width="4.6" stroke-linecap="round" stroke-linejoin="round" filter="url(#glow)"/>
<path d="M548.0,470.0 L548.3,470.9 L548.7,472.2 L549.2,473.6 L549.8,475.2 L550.3,477.0 L550.9,478.7 L551.5,480.4 L552.0,482.0 L552.5,483.5 L553.0,485.0 L553.5,486.5 L554.0,488.0 L554.5,489.5 L555.0,491.0 L555.5,492.5 L556.0,494.0 L556.5,495.5 L557.0,497.0 L557.5,498.5 L558.1,500.0 L558.6,501.5 L559.1,503.0 L559.5,504.5 L560.0,506.0 L560.4,507.6 L560.9,509.3 L561.3,511.0 L561.8,512.8 L562.1,514.4 L562.5,515.8 L562.8,517.1 L563.0,518.0" fill="none" stroke="#ff2c04" stroke-width="4.6" stroke-linecap="round" stroke-linejoin="round" filter="url(#glow)"/>
<path d="M588.0,470.0 L587.7,470.9 L587.3,472.2 L586.8,473.6 L586.2,475.2 L585.7,477.0 L585.1,478.7 L584.5,480.4 L584.0,482.0 L583.5,483.5 L583.0,485.0 L582.5,486.5 L581.9,488.0 L581.4,489.5 L580.9,491.0 L580.5,492.5 L580.0,494.0 L579.6,495.6 L579.1,497.3 L578.7,499.0 L578.2,500.8 L577.9,502.4 L577.5,503.8 L577.2,505.1 L577.0,506.0" fill="none" stroke="#ff2c04" stroke-width="4.6" stroke-linecap="round" stroke-linejoin="round" filter="url(#glow)"/>
<path d="M633.0,524.0 L633.5,524.9 L634.3,526.1 L635.2,527.5 L636.1,529.0 L637.1,530.6 L638.0,532.0 L638.9,533.4 L639.7,534.7 L640.6,536.1 L641.5,537.5 L642.3,538.8 L643.0,540.0 L644.0,541.8 L644.8,543.5 L645.5,545.0 L646.0,546.0" fill="none" stroke="#ff2c04" stroke-width="4.6" stroke-linecap="round" stroke-linejoin="round" filter="url(#glow)"/>
<path d="M540.0,538.0 L540.8,538.8 L541.9,540.1 L543.2,541.5 L544.6,542.8 L546.0,544.0 L547.6,545.0 L549.4,545.9 L551.3,546.8 L552.9,547.5 L554.0,548.0" fill="none" stroke="#ff2c04" stroke-width="4.6" stroke-linecap="round" stroke-linejoin="round" filter="url(#glow)"/>
<path d="M526.0,392.0 L525.1,393.0 L523.7,394.4 L522.3,396.1 L520.9,397.5 L520.0,398.5" fill="none" stroke="#ff2c04" stroke-width="4.6" stroke-linecap="round" stroke-linejoin="round" filter="url(#glow)"/>
<path d="M512.0,420.0 L512.5,420.9 L513.3,422.1 L514.2,423.6 L515.1,425.2 L516.1,426.9 L517.1,428.5 L518.0,430.0 L518.9,431.5 L519.9,433.1 L520.9,434.8 L521.8,436.4 L522.7,437.9 L523.5,439.1 L524.0,440.0" fill="none" stroke="#ff2c04" stroke-width="4.6" stroke-linecap="round" stroke-linejoin="round" filter="url(#glow)"/>
<path d="M520.2,398.5 L520.4,399.4 L520.6,400.5 L520.9,401.8 L521.2,403.2 L521.5,404.8 L521.9,406.5 L522.2,408.2 L522.6,410.0 L523.0,411.7 L523.4,413.4 L523.7,415.0 L524.1,416.5 L524.4,417.9 L524.9,419.7 L525.3,421.4 L525.7,423.1 L526.1,424.7 L526.6,426.3 L527.0,427.7 L527.5,429.1 L528.0,430.4 L528.5,431.7 L529.4,433.4 L530.3,435.0 L531.3,436.4 L532.3,437.6 L533.3,438.8 L534.1,440.0 L535.1,441.4 L536.1,442.4 L536.8,443.6 L537.4,445.5 L537.6,446.7 L537.8,448.0 L538.0,449.5 L538.1,451.1 L538.2,452.7 L538.3,454.4 L538.3,456.1 L538.3,457.7 L538.2,459.3 L538.0,460.8 L537.7,462.3 L537.3,463.8 L536.9,465.3 L536.5,466.8 L536.1,468.3 L535.7,469.8 L535.5,471.4 L535.4,473.1 L535.5,474.5 L535.6,476.0 L535.8,477.5 L536.1,479.0 L536.5,480.6 L536.8,482.2 L537.2,483.8 L537.5,485.3 L537.8,486.8 L538.0,488.3 L538.2,489.7 L538.3,491.4 L538.3,493.0 L538.3,494.5 L538.2,496.0 L538.1,497.5 L538.0,499.0 L538.0,500.5 L538.0,502.0 L538.2,503.5 L538.5,505.0 L538.9,506.4 L539.3,507.8 L539.8,509.2 L540.3,510.6 L540.9,512.1 L541.4,513.7 L541.9,515.4 L542.3,517.3 L542.5,518.7 L542.8,520.2 L543.0,521.9 L543.3,523.7 L543.5,525.5 L543.7,527.4 L544.0,529.2 L544.2,531.0 L544.4,532.8 L544.5,534.5 L544.7,536.0 L544.9,537.3 L545.0,538.5 L545.1,539.4" fill="none" stroke="#ff8a18" stroke-width="1.6" stroke-linecap="round" stroke-linejoin="round" opacity="0.6" filter="url(#glow)"/>
<path d="M530.0,396.0 L530.7,396.6 L531.8,397.5 L533.0,398.4 L534.3,399.5 L535.7,400.7 L537.1,401.9 L538.4,403.0 L539.6,404.1 L540.9,405.3 L542.1,406.5 L543.2,407.7 L544.4,409.0 L545.6,410.1 L546.7,411.3 L547.9,412.3 L549.4,413.3 L551.2,414.2 L552.9,414.9 L554.5,415.7 L555.6,416.7 L556.2,417.9 L556.2,419.0 L555.8,420.3 L555.1,421.6 L554.3,423.1 L553.3,424.5 L552.3,426.0 L551.4,427.5 L550.6,428.9 L549.9,430.3 L549.2,431.7 L548.5,433.1 L547.8,434.4 L547.2,435.8 L546.5,437.2 L545.8,438.6 L545.1,440.0 L544.4,441.5 L543.6,443.0 L542.8,444.6 L542.0,446.2 L541.3,447.7 L540.6,449.0 L540.0,450.2 L539.6,451.0" fill="none" stroke="#ff8a18" stroke-width="1.6" stroke-linecap="round" stroke-linejoin="round" opacity="0.6" filter="url(#glow)"/>
<path d="M566.0,386.0 L567.0,386.6 L568.4,387.7 L570.0,390.2 L570.5,391.3 L570.9,392.5 L571.5,393.9 L572.0,395.4 L572.6,397.1 L573.1,398.7 L573.6,400.4 L574.2,402.1 L574.6,403.8 L575.1,405.3 L575.5,406.8 L576.0,408.5 L576.4,410.1 L576.8,411.6 L577.2,413.1 L577.6,414.6 L577.9,416.1 L578.1,417.6 L578.2,419.1 L578.3,420.6 L578.2,422.1 L577.9,423.7 L577.5,425.3 L577.0,426.9 L576.5,428.5 L576.0,430.0 L575.7,431.5 L575.5,433.0 L575.5,434.4 L575.8,435.9 L576.4,437.3 L577.1,438.6 L577.9,439.9 L578.8,441.3 L579.6,442.6 L580.4,444.0 L581.0,445.5 L581.5,446.9 L582.0,448.4 L582.5,449.9 L583.0,451.4 L583.5,453.0 L583.8,454.6 L584.0,456.2 L584.0,457.8 L583.8,459.3 L583.4,460.7 L582.9,462.0 L582.1,463.4 L581.3,464.7 L580.3,466.0 L579.4,467.4 L578.3,468.8 L577.3,470.2 L576.4,471.6 L575.5,473.1 L574.8,474.4 L574.0,475.8 L573.2,477.2 L572.3,478.6 L571.5,480.1 L570.7,481.6 L569.9,483.0 L569.1,484.5 L568.5,485.9 L567.9,487.2 L567.5,488.5 L567.2,489.7 L567.0,491.7 L567.3,493.6 L567.8,495.4 L568.4,497.0 L569.1,498.5 L569.6,499.8 L570.0,500.7" fill="none" stroke="#ff8a18" stroke-width="1.6" stroke-linecap="round" stroke-linejoin="round" opacity="0.6" filter="url(#glow)"/>
<path d="M547.9,417.9 L547.3,418.8 L546.4,420.1 L545.4,421.5 L544.4,423.1 L543.3,424.7 L542.3,426.2 L541.3,427.7 L540.3,429.2 L539.2,430.8 L538.2,432.3 L537.4,433.5 L536.8,434.4" fill="none" stroke="#ff8a18" stroke-width="1.6" stroke-linecap="round" stroke-linejoin="round" opacity="0.6" filter="url(#glow)"/>
<path d="M556.2,440.0 L556.7,440.8 L557.3,441.9 L558.1,443.1 L558.9,444.5 L559.8,446.0 L560.7,447.6 L561.7,449.2 L562.6,450.8 L563.5,452.4 L564.4,453.8 L565.3,455.2 L566.2,456.8 L567.1,458.4 L568.1,460.0 L569.1,461.6 L570.0,463.1 L570.8,464.5 L571.6,465.7 L572.2,466.8 L572.7,467.6" fill="none" stroke="#ff8a18" stroke-width="1.6" stroke-linecap="round" stroke-linejoin="round" opacity="0.6" filter="url(#glow)"/>
<path d="M506.4,445.5 L506.8,446.3 L507.3,447.4 L507.8,448.6 L508.4,450.0 L509.1,451.5 L509.9,453.1 L510.6,454.7 L511.4,456.4 L512.2,458.0 L513.1,459.5 L513.9,460.9 L514.7,462.1 L515.7,463.5 L516.7,464.7 L517.8,466.0 L518.9,467.2 L520.1,468.3 L521.2,469.4 L522.4,470.4 L523.5,471.3 L524.7,472.2 L525.8,473.1 L527.3,474.1 L528.8,475.0 L530.4,475.8 L532.0,476.5 L533.5,477.2 L534.8,477.7 L536.0,478.2 L536.8,478.6" fill="none" stroke="#ff8a18" stroke-width="1.6" stroke-linecap="round" stroke-linejoin="round" opacity="0.6" filter="url(#glow)"/>
<path d="M619.7,404.1 L619.3,405.0 L618.8,406.2 L618.3,407.7 L617.6,409.3 L617.0,411.0 L616.2,412.8 L615.5,414.6 L614.8,416.3 L614.2,417.9 L613.6,419.4 L612.9,421.0 L612.2,422.5 L611.6,424.0 L610.9,425.6 L610.3,427.1 L609.7,428.6 L609.1,430.2 L608.6,431.7 L608.2,433.3 L607.8,434.9 L607.5,436.5 L607.2,438.1 L606.9,439.7 L606.7,441.3 L606.5,442.8 L606.2,444.2 L605.9,445.5 L605.2,447.4 L604.4,449.0 L603.6,450.3 L603.1,451.9 L603.1,453.8 L603.3,455.1 L603.7,456.6 L604.2,458.1 L604.8,459.7 L605.5,461.4 L606.3,463.0 L607.0,464.6 L607.8,466.2 L608.6,467.6 L609.4,468.9 L610.3,470.2 L611.2,471.5 L612.1,472.7 L613.1,473.9 L614.0,475.0 L615.0,476.2 L616.0,477.4 L616.9,478.6 L617.8,479.8 L618.8,481.1 L619.8,482.3 L620.7,483.5 L621.7,484.8 L622.6,486.0 L623.5,487.2 L624.4,488.5 L625.2,489.7 L626.1,491.1 L626.9,492.5 L627.7,493.8 L628.5,495.2 L629.2,496.6 L629.8,497.9 L630.3,499.3 L630.7,500.7 L631.0,502.4 L631.1,504.2 L631.1,506.0 L631.0,507.8 L630.9,509.4 L630.7,510.8 L630.7,511.8" fill="none" stroke="#ff8a18" stroke-width="1.6" stroke-linecap="round" stroke-linejoin="round" opacity="0.6" filter="url(#glow)"/>
<path d="M633.5,406.8 L633.4,407.7 L633.2,408.8 L632.9,410.1 L632.7,411.6 L632.4,413.2 L632.1,414.9 L631.8,416.7 L631.5,418.4 L631.2,420.2 L631.0,421.8 L630.7,423.4 L630.4,424.9 L630.1,426.5 L629.8,428.0 L629.5,429.6 L629.2,431.1 L628.9,432.6 L628.6,434.2 L628.3,435.7 L628.2,437.2 L628.0,438.6 L628.0,440.0 L628.0,441.7 L628.1,443.3 L628.3,444.9 L628.5,446.5 L628.8,448.0 L629.2,449.5 L629.6,451.0 L630.1,452.4 L630.7,453.8 L631.4,455.1 L632.2,456.4 L633.2,457.7 L634.2,458.9 L635.2,460.1 L636.2,461.2 L637.2,462.4 L638.2,463.6 L639.0,464.8 L639.9,466.2 L640.8,467.6 L641.7,469.1 L642.5,470.5 L643.2,471.9 L643.9,473.3 L644.3,474.6 L644.6,475.9 L644.7,477.8 L644.3,479.6 L643.7,481.2 L642.8,482.8 L641.8,484.2 L640.6,485.3 L639.1,486.4 L637.5,487.5 L635.9,488.4 L634.5,489.1 L633.5,489.7" fill="none" stroke="#ff8a18" stroke-width="1.6" stroke-linecap="round" stroke-linejoin="round" opacity="0.6" filter="url(#glow)"/>
<path d="M655.6,395.8 L655.4,396.6 L655.1,397.7 L654.9,398.9 L654.5,400.2 L654.2,401.6 L653.8,403.2 L653.4,404.8 L653.0,406.5 L652.6,408.2 L652.1,409.9 L651.7,411.6 L651.3,413.3 L650.9,414.9 L650.5,416.5 L650.1,417.9 L649.7,419.5 L649.3,421.1 L648.9,422.7 L648.5,424.2 L648.1,425.8 L647.7,427.3 L647.3,428.8 L646.9,430.3 L646.5,431.8 L646.1,433.2 L645.6,434.6 L645.1,435.9 L644.6,437.2 L643.9,438.8 L643.1,440.4 L642.3,442.0 L641.5,443.5 L640.6,445.0 L639.8,446.3 L638.9,447.6 L638.0,448.9 L637.1,450.0 L636.3,451.0 L634.8,452.5 L633.2,453.7 L631.6,454.6 L630.2,455.4 L628.9,456.0 L628.0,456.5" fill="none" stroke="#ff8a18" stroke-width="1.6" stroke-linecap="round" stroke-linejoin="round" opacity="0.6" filter="url(#glow)"/>
<path d="M603.1,401.3 L604.1,401.0 L605.5,400.5 L607.2,399.9 L609.1,399.3 L610.9,398.8 L612.7,398.5 L614.2,398.5 L615.8,399.0 L617.5,400.0 L619.0,401.1 L620.5,402.3 L621.6,403.4 L622.5,404.1" fill="none" stroke="#ff8a18" stroke-width="1.6" stroke-linecap="round" stroke-linejoin="round" opacity="0.6" filter="url(#glow)"/>
<path d="M603.1,426.2 L603.8,425.3 L604.8,424.0 L605.9,422.5 L607.2,421.3 L608.6,420.6 L610.2,420.7 L612.1,421.2 L614.0,422.1 L615.7,422.9 L616.9,423.4" fill="none" stroke="#ff8a18" stroke-width="1.6" stroke-linecap="round" stroke-linejoin="round" opacity="0.6" filter="url(#glow)"/>
<ellipse cx="583.2" cy="481.8" rx="2.0" ry="3.2" fill="#d01800" opacity="0.66" filter="url(#glow)" transform="rotate(-25 583.2 481.8)"/>
<ellipse cx="586.7" cy="474.5" rx="1.9" ry="3.1" fill="#d01800" opacity="0.62" filter="url(#glow)" transform="rotate(-25 586.7 474.5)"/>
<ellipse cx="561.9" cy="477.1" rx="1.8" ry="5.5" fill="#d01800" opacity="0.50" filter="url(#glow)" transform="rotate(-25 561.9 477.1)"/>
<ellipse cx="574.8" cy="518.9" rx="2.3" ry="4.7" fill="#d01800" opacity="0.61" filter="url(#glow)" transform="rotate(-25 574.8 518.9)"/>
<ellipse cx="638.0" cy="473.6" rx="2.2" ry="3.9" fill="#d01800" opacity="0.51" filter="url(#glow)" transform="rotate(-25 638.0 473.6)"/>
<ellipse cx="565.9" cy="494.1" rx="2.2" ry="3.5" fill="#d01800" opacity="0.68" filter="url(#glow)" transform="rotate(-25 565.9 494.1)"/>
<ellipse cx="609.7" cy="499.0" rx="1.9" ry="3.2" fill="#d01800" opacity="0.47" filter="url(#glow)" transform="rotate(-25 609.7 499.0)"/>
<ellipse cx="573.3" cy="523.1" rx="1.8" ry="3.9" fill="#d01800" opacity="0.68" filter="url(#glow)" transform="rotate(-25 573.3 523.1)"/>
<ellipse cx="594.1" cy="493.4" rx="2.2" ry="5.1" fill="#d01800" opacity="0.55" filter="url(#glow)" transform="rotate(-25 594.1 493.4)"/>
<ellipse cx="604.3" cy="511.0" rx="2.3" ry="5.2" fill="#d01800" opacity="0.57" filter="url(#glow)" transform="rotate(-25 604.3 511.0)"/>
<ellipse cx="638.3" cy="479.2" rx="1.8" ry="5.3" fill="#d01800" opacity="0.51" filter="url(#glow)" transform="rotate(-25 638.3 479.2)"/>
<ellipse cx="597.1" cy="473.1" rx="2.0" ry="5.3" fill="#d01800" opacity="0.68" filter="url(#glow)" transform="rotate(-25 597.1 473.1)"/>
<ellipse cx="629.5" cy="494.5" rx="2.1" ry="4.8" fill="#d01800" opacity="0.68" filter="url(#glow)" transform="rotate(-25 629.5 494.5)"/>
<ellipse cx="594.3" cy="535.5" rx="2.3" ry="4.4" fill="#d01800" opacity="0.72" filter="url(#glow)" transform="rotate(-25 594.3 535.5)"/>
<ellipse cx="561.1" cy="524.7" rx="2.0" ry="6.0" fill="#d01800" opacity="0.78" filter="url(#glow)" transform="rotate(-25 561.1 524.7)"/>
<ellipse cx="579.9" cy="500.1" rx="2.0" ry="3.1" fill="#d01800" opacity="0.63" filter="url(#glow)" transform="rotate(-25 579.9 500.1)"/>
<ellipse cx="570.1" cy="479.1" rx="1.4" ry="5.3" fill="#d01800" opacity="0.50" filter="url(#glow)" transform="rotate(-25 570.1 479.1)"/>
<ellipse cx="576.8" cy="500.5" rx="2.3" ry="3.2" fill="#d01800" opacity="0.63" filter="url(#glow)" transform="rotate(-25 576.8 500.5)"/>
<ellipse cx="602.2" cy="538.9" rx="2.2" ry="5.6" fill="#d01800" opacity="0.56" filter="url(#glow)" transform="rotate(-25 602.2 538.9)"/>
<ellipse cx="590.9" cy="498.0" rx="2.3" ry="5.9" fill="#d01800" opacity="0.51" filter="url(#glow)" transform="rotate(-25 590.9 498.0)"/>
<ellipse cx="570.8" cy="488.1" rx="1.6" ry="4.5" fill="#d01800" opacity="0.69" filter="url(#glow)" transform="rotate(-25 570.8 488.1)"/>
<ellipse cx="578.1" cy="470.3" rx="1.8" ry="4.1" fill="#d01800" opacity="0.68" filter="url(#glow)" transform="rotate(-25 578.1 470.3)"/>
<ellipse cx="636.1" cy="523.9" rx="1.9" ry="4.9" fill="#d01800" opacity="0.72" filter="url(#glow)" transform="rotate(-25 636.1 523.9)"/>
<ellipse cx="560.5" cy="540.2" rx="2.2" ry="5.6" fill="#d01800" opacity="0.77" filter="url(#glow)" transform="rotate(-25 560.5 540.2)"/>
<ellipse cx="589.0" cy="501.1" rx="1.4" ry="4.9" fill="#d01800" opacity="0.47" filter="url(#glow)" transform="rotate(-25 589.0 501.1)"/>
<ellipse cx="561.7" cy="486.3" rx="1.5" ry="4.0" fill="#d01800" opacity="0.47" filter="url(#glow)" transform="rotate(-25 561.7 486.3)"/>
<ellipse cx="556.0" cy="481.8" rx="1.4" ry="4.1" fill="#d01800" opacity="0.46" filter="url(#glow)" transform="rotate(-25 556.0 481.8)"/>
<ellipse cx="629.4" cy="517.9" rx="1.5" ry="3.8" fill="#d01800" opacity="0.59" filter="url(#glow)" transform="rotate(-25 629.4 517.9)"/>
<ellipse cx="586.6" cy="479.6" rx="2.2" ry="6.0" fill="#d01800" opacity="0.64" filter="url(#glow)" transform="rotate(-25 586.6 479.6)"/>
<ellipse cx="596.6" cy="476.7" rx="1.4" ry="4.0" fill="#d01800" opacity="0.56" filter="url(#glow)" transform="rotate(-25 596.6 476.7)"/>
<ellipse cx="513.5" cy="462" rx="7.5" ry="83" fill="#0e0000" filter="url(#blur2)"/>
<ellipse cx="593" cy="470" rx="6" ry="78" fill="#0e0000" filter="url(#blur2)"/>
<ellipse cx="622.5" cy="386" rx="8" ry="9" fill="#0e0000" filter="url(#blur2)"/>
<ellipse cx="659" cy="461" rx="8" ry="84" fill="#0e0000" filter="url(#blur2)"/>
<ellipse cx="532" cy="415" rx="3.5" ry="12" fill="#0e0000" filter="url(#blur2)"/>
<ellipse cx="563" cy="437" rx="4" ry="10" fill="#0e0000" filter="url(#blur2)"/>
<ellipse cx="619" cy="440" rx="4" ry="8" fill="#0e0000" filter="url(#blur2)"/>
<ellipse cx="608.6" cy="437.2" rx="4.16" ry="9.1" fill="#ff7000" filter="url(#glow)" opacity="0.95"/>
<ellipse cx="608.6" cy="437.2" rx="1.56" ry="4.8999999999999995" fill="#ffe448" filter="url(#glow)"/>
<ellipse cx="575.5" cy="421.6" rx="3.84" ry="7.15" fill="#ff7000" filter="url(#glow)" opacity="0.95"/>
<ellipse cx="575.5" cy="421.6" rx="1.44" ry="3.8499999999999996" fill="#ffe448" filter="url(#glow)"/>
<ellipse cx="535.4" cy="445.5" rx="4.16" ry="7.800000000000001" fill="#ff7000" filter="url(#glow)" opacity="0.95"/>
<ellipse cx="535.4" cy="445.5" rx="1.56" ry="4.199999999999999" fill="#ffe448" filter="url(#glow)"/>
<ellipse cx="538.2" cy="502" rx="5.120000000000001" ry="6.5" fill="#ff7000" filter="url(#glow)" opacity="0.95"/>
<ellipse cx="538.2" cy="502" rx="1.92" ry="3.5" fill="#ffe448" filter="url(#glow)"/>
<ellipse cx="629.4" cy="493.8" rx="5.44" ry="7.15" fill="#ff7000" filter="url(#glow)" opacity="0.95"/>
<ellipse cx="629.4" cy="493.8" rx="2.04" ry="3.8499999999999996" fill="#ffe448" filter="url(#glow)"/>
<ellipse cx="632.1" cy="406.8" rx="3.6799999999999997" ry="5.8500000000000005" fill="#ff7000" filter="url(#glow)" opacity="0.95"/>
<ellipse cx="632.1" cy="406.8" rx="1.38" ry="3.15" fill="#ffe448" filter="url(#glow)"/>
<ellipse cx="579" cy="440" rx="2.8800000000000003" ry="4.55" fill="#ff7000" filter="url(#glow)" opacity="0.95"/>
<ellipse cx="579" cy="440" rx="1.08" ry="2.4499999999999997" fill="#ffe448" filter="url(#glow)"/>
<ellipse cx="546" cy="472" rx="3.2" ry="4.55" fill="#ff7000" filter="url(#glow)" opacity="0.95"/>
<ellipse cx="546" cy="472" rx="1.2" ry="2.4499999999999997" fill="#ffe448" filter="url(#glow)"/>
<ellipse cx="552" cy="452" rx="2.8800000000000003" ry="4.55" fill="#ff7000" filter="url(#glow)" opacity="0.95"/>
<ellipse cx="552" cy="452" rx="1.08" ry="2.4499999999999997" fill="#ffe448" filter="url(#glow)"/>
<ellipse cx="613" cy="470" rx="3.2" ry="5.2" fill="#ff7000" filter="url(#glow)" opacity="0.95"/>
<ellipse cx="613" cy="470" rx="1.2" ry="2.8" fill="#ffe448" filter="url(#glow)"/>
<ellipse cx="641" cy="478" rx="3.2" ry="5.2" fill="#ff7000" filter="url(#glow)" opacity="0.95"/>
<ellipse cx="641" cy="478" rx="1.2" ry="2.8" fill="#ffe448" filter="url(#glow)"/>
</g>
<text x="470.86" y="560.82" font-size="17.94" font-weight="normal" font-style="normal" fill="#f4f0ec" textLength="68.69" lengthAdjust="spacingAndGlyphs" >200 nm</text>
<line x1="481.60" y1="569.30" x2="524.40" y2="569.30" stroke="#e8e4e0" stroke-width="1.4" />
<line x1="481.60" y1="566.50" x2="481.60" y2="572.00" stroke="#e8e4e0" stroke-width="1.2" />
<line x1="524.40" y1="566.50" x2="524.40" y2="572.00" stroke="#e8e4e0" stroke-width="1.2" />
<rect x="436.20" y="443.80" width="15.40" height="137.00" fill="url(#f_cb)" stroke="none" stroke-width="1" />
<text x="451.63" y="461.31" font-size="19.07" font-weight="bold" font-style="normal" fill="#111" textLength="13.23" lengthAdjust="spacingAndGlyphs" >6</text>
<text x="451.97" y="513.79" font-size="19.03" font-weight="bold" font-style="normal" fill="#111" textLength="12.87" lengthAdjust="spacingAndGlyphs" >3</text>
<text x="452.35" y="574.00" font-size="19.62" font-weight="bold" font-style="normal" fill="#111" textLength="10.16" lengthAdjust="spacingAndGlyphs" >1</text>
<text transform="translate(451.77,433.00) rotate(-90)" x="0" y="0" font-size="21.76" font-weight="bold" font-style="normal" fill="#111" textLength="39.83" lengthAdjust="spacingAndGlyphs" >|E/E</text>
<text transform="translate(455.88,393.54) rotate(-90)" x="0" y="0" font-size="12.01" font-weight="bold" font-style="normal" fill="#111" textLength="7.60" lengthAdjust="spacingAndGlyphs" >0</text>
<text transform="translate(451.77,385.66) rotate(-90)" x="0" y="0" font-size="21.76" font-weight="bold" font-style="normal" fill="#111" textLength="6.09" lengthAdjust="spacingAndGlyphs" >|</text>
<path d="M808.6,437.2 L809.2,437.2 L809.9,437.3 L810.7,437.3 L811.6,437.2 L812.6,437.1 L813.6,437.1 L814.7,437.1 L815.9,437.1 L817.0,437.1 L818.2,437.0 L819.4,436.9 L820.6,436.8 L821.8,436.8 L822.9,436.8 L824.0,436.6 L825.0,436.4 L826.1,436.3 L827.1,436.3 L828.2,436.2 L829.3,435.9 L830.4,435.8 L831.4,435.8 L832.5,435.6 L833.5,435.5 L834.6,435.2 L835.6,435.1 L836.5,435.1 L837.5,434.9 L838.4,434.6 L839.2,434.3 L840.0,434.0 L841.1,433.7 L842.1,433.3 L843.0,432.9 L843.8,432.5 L844.6,432.1 L845.4,431.5 L846.0,430.8 L846.7,430.1 L847.4,429.1 L848.0,428.0 L848.4,427.2 L848.7,426.4 L849.0,425.5 L849.4,424.6 L849.7,423.7 L850.0,422.8 L850.3,421.8 L850.5,420.8 L850.8,419.8 L851.1,418.7 L851.3,417.5 L851.6,416.3 L851.8,415.1 L852.1,414.0 L852.3,412.9 L852.5,412.0 L852.8,410.9 L853.0,409.9 L853.3,408.8 L853.5,407.8 L853.7,406.8 L854.0,405.5 L854.2,404.4 L854.4,403.3 L854.6,402.3 L854.8,401.4 L854.9,400.2 L855.1,399.2 L855.3,398.2 L855.5,397.4 L855.6,396.6 L855.8,395.8 L856.0,395.0 L856.5,393.0 L857.0,391.6 L857.5,390.5 L857.9,389.9 L858.4,389.5 L858.9,389.5 L859.4,389.9 L859.9,390.7 L860.5,392.0 L861.0,394.0 L861.1,394.7 L861.3,395.4 L861.4,396.1 L861.5,397.0 L861.7,397.9 L861.8,398.8 L861.9,399.7 L862.1,400.9 L862.2,402.1 L862.3,403.3 L862.5,404.4 L862.6,405.5 L862.8,406.6 L862.9,407.8 L863.1,408.9 L863.2,409.9 L863.4,410.9 L863.5,411.9 L863.7,413.0 L863.8,413.9 L864.0,414.8 L864.2,416.0 L864.4,417.2 L864.7,418.4 L864.9,419.4 L865.1,420.6 L865.4,421.7 L865.6,422.8 L865.9,423.9 L866.1,424.9 L866.4,426.0 L866.6,427.0 L866.8,428.1 L867.1,428.9 L867.3,429.8 L867.6,430.6 L867.8,431.3 L868.0,432.1 L868.5,433.7 L869.0,434.9 L869.4,435.8 L869.8,436.5 L870.4,437.1 L871.3,437.6 L872.0,437.6 L872.7,437.5 L873.6,437.2 L874.5,437.0 L875.4,436.5 L876.4,436.2 L877.5,435.7 L878.7,435.3 L880.0,434.9 L880.8,434.7 L881.7,434.5 L882.7,434.3 L883.7,434.0 L884.8,433.8 L885.9,433.5 L887.0,433.3 L888.1,432.9 L889.2,432.6 L890.3,432.3 L891.3,432.1 L892.3,431.7 L893.3,431.5 L894.2,431.2 L895.0,431.0 L896.4,430.6 L897.6,430.2 L898.6,429.9 L899.6,429.4 L900.5,429.1 L901.4,428.8 L902.2,428.4 L903.0,428.1 L904.0,427.2 L905.0,426.2 L905.8,425.3 L906.6,424.4 L907.4,423.8 L908.1,423.5 L909.1,423.5 L909.9,424.1 L910.8,424.8 L912.0,425.9 L912.7,426.5 L913.5,427.3 L914.4,428.0 L915.3,428.8 L916.2,429.6 L917.2,430.4 L918.1,431.0 L919.0,431.5 L920.0,431.6 L921.0,431.6 L922.1,431.4 L923.1,431.0 L924.1,430.7 L925.1,430.4 L926.0,430.1 L927.0,429.6 L928.0,428.9 L929.0,428.2 L930.0,427.6 L931.0,427.3 L932.0,427.3 L932.8,427.8 L933.7,428.4 L934.5,429.2 L935.4,430.0 L936.3,430.8 L937.2,431.5 L938.1,432.1 L939.0,432.4 L940.0,432.4 L941.0,432.2 L942.1,432.0 L943.1,431.5 L944.2,431.1 L945.2,430.4 L946.1,430.0 L946.9,429.4 L947.8,428.8 L948.6,428.1 L949.2,427.4 L949.8,426.4 L950.4,425.2 L951.0,423.9 L951.3,423.3 L951.7,422.4 L952.0,421.3 L952.4,420.2 L952.7,419.1 L953.1,418.1 L953.4,417.0 L953.8,416.0 L954.1,414.8 L954.4,413.7 L954.7,412.8 L955.0,412.0 L955.4,410.7 L955.8,409.3 L956.2,408.0 L956.5,406.8 L956.8,405.7 L957.2,404.8 L957.5,404.0 L957.9,403.5 L958.5,403.3 L959.1,403.9 L959.8,405.0 L960.4,406.4 L961.0,408.0 L961.3,408.8 L961.5,409.7 L961.8,410.5 L962.0,411.7 L962.3,412.8 L962.5,414.0 L962.8,415.0 L963.0,416.2 L963.3,417.2 L963.5,418.3 L963.8,419.2 L964.0,420.1 L964.5,421.7 L965.0,423.2 L965.5,424.5 L965.9,425.5 L966.4,426.2 L966.8,426.4 L967.2,426.1 L967.6,425.2 L967.9,424.0 L968.2,422.6 L968.6,421.4 L969.0,420.1 L969.4,419.0 L969.7,418.0 L970.1,417.1 L970.5,416.2 L970.9,415.3 L971.3,414.3 L971.8,413.3 L972.3,412.5 L972.9,411.7 L973.5,411.0 L974.1,410.2 L974.7,409.3 L975.3,408.4 L975.8,407.5 L976.2,406.7 L976.5,406.0 L976.8,405.1 L977.1,404.4 L977.5,403.4 L977.8,402.6 L978.1,401.6 L978.4,400.5 L978.7,399.2 L979.0,397.9 L979.2,397.2 L979.3,396.4 L979.5,395.5 L979.7,394.5 L979.8,393.6 L980.0,392.5 L980.1,391.5 L980.3,390.4 L980.5,389.5 L980.6,388.4 L980.8,387.4 L981.0,386.2 L981.1,385.1 L981.3,384.0 L981.5,383.1 L981.6,382.1 L981.8,381.1 L982.0,380.1 L982.2,379.0 L982.4,377.7 L982.7,376.5 L982.9,375.2 L983.1,373.9 L983.4,372.6 L983.6,371.3 L983.9,370.2 L984.1,368.9 L984.3,367.7 L984.6,366.6 L984.8,365.7 L985.1,365.1 L985.3,364.4 L985.5,364.0 L985.7,363.8 L986.0,363.8 L986.3,364.0 L986.5,364.6 L986.8,365.3 L987.1,366.4 L987.3,367.6 L987.5,369.1 L987.8,370.5 L988.0,372.1 L988.3,373.6 L988.5,375.1 L988.6,375.9 L988.8,376.7 L988.9,377.6 L989.0,378.6 L989.2,379.6 L989.3,380.7 L989.4,381.8 L989.6,383.0 L989.7,384.1 L989.8,385.3 L989.9,386.3 L990.1,387.5 L990.2,388.6 L990.3,389.6 L990.4,390.6 L990.6,391.6 L990.7,392.6 L990.8,393.4 L990.9,394.1 L991.0,394.9 L991.2,396.6 L991.4,397.9 L991.6,398.8 L991.7,399.5 L991.9,400.3 L992.1,401.1 L992.3,402.1 L992.7,403.4 L992.9,404.3 L993.2,405.2 L993.5,406.1 L993.7,407.1 L994.0,408.1 L994.4,409.1 L994.7,410.0 L995.0,411.1 L995.4,412.3 L995.8,413.5 L996.2,414.6 L996.7,415.6 L997.2,416.5 L997.7,417.4 L998.2,418.3 L998.8,419.2 L999.4,420.2 L1000.0,420.9 L1000.7,421.8 L1001.4,422.6 L1002.1,423.5 L1002.8,424.3 L1003.5,425.0 L1004.2,425.7 L1004.9,426.5 L1005.6,427.3 L1006.3,428.1 L1007.0,428.7 L1007.6,429.3 L1008.5,430.2 L1009.5,431.1 L1010.5,432.0 L1011.4,432.8 L1012.4,433.6 L1013.3,434.1 L1014.1,434.6 L1015.0,434.9 L1015.8,435.2 L1016.5,435.2 L1017.3,434.9 L1018.0,434.2 L1018.7,433.3 L1019.3,432.1 L1019.8,430.9 L1020.4,429.7 L1020.9,428.8 L1021.5,428.3 L1022.4,428.3 L1023.3,429.0 L1024.2,429.8 L1025.1,430.9 L1026.0,431.9 L1026.6,432.9 L1027.3,434.0 L1027.9,435.2 L1028.5,436.3 L1029.2,437.2 L1029.8,437.9 L1030.5,438.4 L1031.1,438.3 L1031.7,437.7 L1032.2,436.9 L1032.8,436.0 L1033.5,435.0 L1034.3,434.0 L1035.4,433.2 L1036.2,433.0 L1037.1,432.8 L1038.1,432.5 L1039.1,432.2 L1040.2,431.8 L1041.4,431.6 L1042.5,431.2 L1043.6,430.9 L1044.7,430.6 L1045.7,430.3 L1046.6,429.9 L1047.4,429.3 L1048.2,428.6 L1049.0,427.7 L1049.6,426.9 L1050.2,425.8 L1050.7,424.9 L1051.2,423.9 L1051.6,423.0 L1052.1,421.9 L1052.5,420.9 L1053.0,420.0 L1053.5,419.0 L1054.1,417.8 L1054.6,416.7 L1055.1,415.6 L1055.5,414.5 L1056.0,413.5 L1056.4,412.6 L1056.9,412.1 L1057.3,411.6 L1058.2,411.5 L1058.9,412.4 L1059.7,413.8 L1060.5,415.1 L1061.1,416.0 L1061.7,417.1 L1062.3,418.4 L1062.9,419.4 L1063.6,420.2 L1064.3,420.4 L1064.8,420.1 L1065.3,419.4 L1065.8,418.5 L1066.3,417.5 L1066.8,416.4 L1067.4,415.2 L1067.9,414.1 L1068.5,412.9 L1069.0,412.0 L1069.6,410.9 L1070.3,409.9 L1071.0,408.9 L1071.7,407.9 L1072.3,407.0 L1073.0,406.2 L1073.6,405.7 L1074.2,405.5 L1075.0,405.5 L1075.8,406.0 L1076.5,406.9 L1077.2,408.0 L1078.0,409.2 L1078.6,409.7 L1079.1,410.3 L1079.7,410.9 L1080.3,411.8 L1080.9,412.7 L1081.6,413.6 L1082.3,414.4 L1083.1,415.4 L1083.7,416.1 L1084.3,416.9 L1084.9,417.8 L1085.6,418.7 L1086.2,419.8 L1086.9,420.8 L1087.6,421.7 L1088.3,422.6 L1089.0,423.5 L1089.7,424.2 L1090.4,424.7 L1091.1,425.2 L1092.1,426.1 L1093.0,426.8 L1093.9,427.4 L1094.8,427.9 L1095.7,428.2 L1096.7,428.4 L1097.8,428.4 L1099.0,428.2 L1099.9,428.1 L1100.8,427.8 L1101.9,427.5 L1103.0,427.2 L1104.1,426.7 L1105.2,426.1 L1106.3,425.6 L1107.4,425.0 L1108.4,424.4 L1109.4,424.0 L1110.2,423.7 L1111.0,423.5 L1112.5,423.0 L1113.6,422.7 L1114.4,422.5 L1115.2,422.4 L1116.0,422.0 L1116.8,421.2 L1117.6,420.3 L1118.4,419.5 L1119.1,418.6 L1119.9,418.5 L1120.7,418.7 L1121.5,419.4 L1122.3,420.1 L1123.1,421.1 L1124.0,422.1 L1124.8,422.8 L1125.8,423.5 L1126.8,424.3 L1127.7,425.2 L1128.4,425.9 L1129.0,426.4" fill="none" stroke="#f21c1c" stroke-width="2.4" stroke-linejoin="round" stroke-linecap="round" />
<path d="M808.6,465.9 L809.2,466.0 L809.8,466.1 L810.5,466.2 L811.3,466.3 L812.2,466.1 L813.2,466.1 L814.2,466.1 L815.2,466.1 L816.3,466.2 L817.4,466.2 L818.6,466.2 L819.8,465.9 L821.0,465.9 L822.3,465.8 L823.5,465.8 L824.8,465.7 L826.0,465.9 L827.3,466.0 L828.5,466.0 L829.7,465.8 L830.9,465.6 L832.1,465.4 L833.2,465.5 L834.3,465.5 L835.3,465.4 L836.3,465.2 L837.2,465.1 L838.0,465.0 L838.8,465.0 L839.5,465.0 L841.4,464.8 L842.9,464.6 L844.0,464.3 L844.8,464.1 L845.5,463.7 L846.0,463.4 L846.5,462.9 L847.2,462.5 L848.0,462.1 L848.9,461.5 L849.9,460.8 L850.9,460.1 L851.8,459.4 L852.8,458.9 L853.7,458.4 L854.7,457.8 L855.5,457.3 L856.4,457.3 L857.4,457.4 L858.4,457.9 L859.3,458.3 L860.1,458.9 L861.0,459.6 L862.0,460.3 L863.0,460.9 L863.9,461.3 L864.7,461.8 L865.5,462.2 L866.4,462.5 L867.4,463.2 L868.5,463.7 L869.8,464.2 L871.3,464.3 L872.1,464.5 L872.9,464.5 L873.8,464.6 L874.8,464.5 L875.8,464.5 L876.8,464.4 L877.9,464.4 L879.0,464.4 L880.1,464.4 L881.2,464.4 L882.4,464.4 L883.5,464.4 L884.6,464.4 L885.8,464.4 L886.9,464.2 L887.9,464.0 L889.0,463.8 L890.0,463.7 L891.1,463.8 L892.1,463.9 L893.2,464.0 L894.2,463.8 L895.3,463.6 L896.4,463.5 L897.4,463.4 L898.5,463.3 L899.5,462.9 L900.5,462.7 L901.5,462.5 L902.5,462.4 L903.5,462.3 L904.4,462.3 L905.3,462.4 L906.2,462.3 L907.1,462.3 L908.3,462.2 L909.5,462.3 L910.5,462.4 L911.4,462.4 L912.3,462.6 L913.3,462.5 L914.2,462.8 L915.2,462.8 L916.4,462.9 L917.6,463.0 L919.0,463.2 L919.8,463.4 L920.7,463.5 L921.6,463.5 L922.6,463.4 L923.6,463.4 L924.6,463.6 L925.7,463.9 L926.7,463.9 L927.8,463.9 L928.9,463.8 L930.0,464.1 L931.2,464.0 L932.2,464.2 L933.3,464.1 L934.4,464.2 L935.4,464.1 L936.4,464.1 L937.4,464.1 L938.3,464.2 L939.2,464.4 L940.0,464.3 L941.3,464.2 L942.5,463.7 L943.6,463.3 L944.7,462.9 L945.6,462.6 L946.6,462.0 L947.5,461.3 L948.3,461.0 L949.2,460.9 L950.1,460.6 L951.0,460.3 L952.0,460.1 L953.0,460.3 L954.0,460.5 L955.1,460.8 L956.1,461.2 L957.2,461.7 L958.2,462.0 L959.2,462.4 L960.2,463.0 L961.2,463.4 L962.1,463.6 L963.0,463.9 L963.9,464.2 L965.1,464.2 L966.1,463.9 L967.1,463.4 L968.0,463.0 L968.9,462.4 L969.8,461.8 L970.7,461.3 L971.8,461.0 L972.8,460.7 L973.7,460.6 L974.7,460.4 L975.6,460.3 L976.6,460.2 L977.7,460.2 L978.9,460.2 L980.2,460.2 L981.7,460.1 L982.5,460.2 L983.3,460.4 L984.1,460.6 L984.9,460.7 L985.8,460.9 L986.6,461.2 L987.5,461.5 L988.4,461.7 L989.4,462.0 L990.4,462.2 L991.4,462.7 L992.4,462.9 L993.5,463.1 L994.7,463.2 L995.8,463.3 L997.0,463.7 L998.3,463.9 L999.6,464.1 L1000.4,464.2 L1001.3,464.4 L1002.2,464.6 L1003.2,464.6 L1004.2,464.5 L1005.2,464.7 L1006.2,464.8 L1007.2,465.0 L1008.3,465.0 L1009.4,465.1 L1010.5,465.1 L1011.6,465.2 L1012.7,465.3 L1013.8,465.5 L1014.9,465.6 L1016.1,465.7 L1017.2,465.9 L1018.3,466.0 L1019.4,465.9 L1020.5,465.8 L1021.6,465.7 L1022.7,465.8 L1023.7,466.0 L1024.8,466.2 L1025.8,466.2 L1026.7,466.2 L1027.7,466.2 L1028.6,466.2 L1029.5,466.0 L1030.7,466.0 L1031.9,465.9 L1033.1,465.9 L1034.2,465.8 L1035.2,465.9 L1036.3,465.8 L1037.3,465.7 L1038.2,465.6 L1039.2,465.5 L1040.2,465.5 L1041.1,465.3 L1042.1,465.1 L1043.0,464.9 L1043.9,464.6 L1044.9,464.6 L1045.9,464.5 L1046.9,464.3 L1047.9,464.2 L1048.9,464.2 L1050.0,464.0 L1051.0,464.0 L1051.9,463.8 L1052.9,463.8 L1053.8,463.7 L1054.8,463.4 L1055.8,463.2 L1056.8,463.2 L1057.8,463.2 L1058.8,463.0 L1059.8,462.7 L1060.8,462.5 L1061.8,462.5 L1062.8,462.6 L1063.8,462.5 L1064.8,462.4 L1065.9,462.2 L1066.9,462.2 L1067.9,462.2 L1069.0,462.1 L1070.0,462.1 L1071.1,462.1 L1072.1,462.1 L1073.2,462.0 L1074.1,462.1 L1075.1,462.3 L1076.0,462.4 L1077.0,462.4 L1077.9,462.5 L1078.9,462.7 L1079.8,462.9 L1080.8,463.0 L1081.8,463.1 L1082.7,463.2 L1083.7,463.4 L1084.7,463.7 L1085.7,464.0 L1086.7,464.2 L1087.7,464.3 L1088.7,464.5 L1089.7,464.7 L1090.7,465.0 L1091.7,465.2 L1092.7,465.4 L1093.7,465.4 L1094.8,465.6 L1095.8,465.8 L1096.9,466.0 L1097.9,466.0 L1099.0,465.9 L1100.0,465.9 L1100.9,466.0 L1102.0,466.0 L1103.0,466.1 L1104.1,466.1 L1105.2,466.1 L1106.3,466.1 L1107.5,466.2 L1108.6,466.3 L1109.8,466.2 L1111.0,466.2 L1112.1,466.2 L1113.3,466.2 L1114.5,466.2 L1115.6,466.1 L1116.7,466.1 L1117.9,466.0 L1119.0,465.8 L1120.0,465.5 L1121.1,465.4 L1122.1,465.4 L1123.0,465.4 L1124.0,465.3 L1124.9,465.1 L1125.7,465.0 L1126.5,465.0 L1127.2,465.1 L1127.9,465.1 L1128.5,465.0 L1129.0,464.8" fill="none" stroke="#1a1a1a" stroke-width="2.4" stroke-linejoin="round" stroke-linecap="round" />
<path d="M808.4,551.1 L809.0,551.1 L809.6,551.1 L810.4,551.0 L811.2,551.0 L812.1,551.0 L813.1,550.9 L814.2,550.9 L815.3,550.8 L816.4,550.8 L817.6,550.8 L818.8,550.7 L820.0,550.6 L821.3,550.6 L822.6,550.5 L823.8,550.5 L825.1,550.3 L826.3,550.2 L827.6,550.1 L828.8,550.1 L830.0,550.0 L831.1,550.0 L832.2,550.0 L833.2,549.9 L834.2,549.8 L835.1,549.7 L835.9,549.5 L836.7,549.3 L837.3,549.3 L839.5,548.7 L840.7,548.2 L841.2,547.5 L841.4,546.8 L841.5,545.9 L842.0,545.0 L842.5,544.2 L843.0,543.5 L843.5,542.7 L844.0,542.0 L844.5,541.1 L845.0,540.2 L845.6,539.0 L846.1,537.7 L846.4,536.9 L846.7,536.1 L847.0,535.3 L847.4,534.4 L847.7,533.3 L848.0,532.2 L848.3,531.1 L848.7,530.0 L849.0,528.9 L849.3,527.9 L849.7,526.8 L850.0,525.8 L850.3,524.8 L850.7,523.9 L851.0,523.0 L851.4,521.8 L851.8,520.6 L852.2,519.5 L852.6,518.2 L853.0,516.9 L853.4,515.7 L853.8,514.6 L854.2,513.7 L854.6,512.8 L855.0,512.2 L855.4,511.6 L855.8,511.3 L856.4,511.2 L857.0,511.7 L857.7,512.6 L858.2,513.8 L858.8,515.2 L859.4,516.6 L860.0,518.0 L860.3,518.8 L860.7,519.7 L861.0,520.7 L861.4,521.8 L861.7,523.0 L862.1,524.1 L862.4,525.1 L862.7,526.2 L863.1,527.3 L863.4,528.4 L863.7,529.3 L864.0,530.0 L864.5,531.3 L864.9,532.4 L865.2,533.4 L865.7,534.2 L866.3,534.9 L867.3,535.9 L867.9,536.5 L868.6,537.1 L869.4,537.6 L870.2,538.2 L871.0,538.9 L871.9,539.5 L872.9,540.0 L873.8,540.5 L874.8,541.0 L875.8,541.6 L876.9,542.0 L877.9,542.3 L878.8,542.5 L879.8,542.7 L880.8,542.9 L881.9,543.1 L883.0,543.1 L884.2,543.1 L885.3,543.1 L886.4,543.3 L887.5,543.4 L888.5,543.5 L889.5,543.5 L890.5,543.7 L891.3,543.8 L892.1,544.1 L893.4,544.5 L894.5,545.3 L895.4,546.1 L896.2,546.8 L896.9,547.3 L897.6,547.6 L898.3,547.5 L898.9,547.2 L899.4,546.5 L899.8,545.6 L900.3,544.4 L900.7,543.2 L901.1,542.1 L901.5,541.1 L902.0,540.0 L902.4,539.0 L902.9,537.8 L903.3,536.7 L903.7,535.6 L904.2,534.5 L904.6,533.5 L905.1,532.6 L905.6,532.0 L906.2,531.6 L906.8,531.6 L907.5,532.1 L908.1,533.0 L908.8,534.0 L909.6,535.0 L910.4,536.0 L911.4,537.0 L912.4,537.8 L913.2,538.2 L914.1,538.6 L915.0,538.9 L916.0,539.3 L917.1,539.7 L918.1,540.0 L919.2,540.4 L920.3,540.6 L921.3,541.0 L922.2,541.1 L923.1,541.3 L923.9,541.3 L925.1,541.1 L926.1,540.5 L926.9,539.7 L927.7,539.0 L928.5,538.3 L929.3,537.9 L930.1,537.7 L931.0,538.1 L931.8,538.7 L932.6,539.6 L933.5,540.4 L934.3,541.3 L935.3,541.9 L936.3,542.2 L937.2,542.0 L938.2,541.7 L939.3,541.5 L940.4,541.0 L941.5,540.5 L942.5,539.8 L943.5,539.2 L944.4,538.6 L945.1,537.9 L945.7,537.1 L946.2,536.1 L946.6,535.2 L946.8,534.2 L947.1,533.2 L947.3,532.3 L947.6,531.1 L948.0,530.1 L948.4,529.0 L948.8,527.8 L949.2,526.5 L949.6,525.2 L950.1,523.9 L950.6,522.7 L951.0,521.8 L951.5,520.8 L951.9,520.3 L952.4,520.2 L952.8,520.4 L953.3,520.8 L953.7,521.5 L954.2,522.6 L954.6,523.8 L955.0,525.0 L955.5,526.3 L956.0,527.5 L956.5,528.8 L957.0,529.9 L957.4,530.9 L957.9,531.8 L958.3,533.0 L958.8,534.2 L959.3,535.5 L959.8,536.7 L960.3,537.9 L960.8,539.0 L961.3,540.0 L961.7,540.8 L962.2,541.4 L962.6,542.0 L963.0,542.3 L963.5,542.2 L963.9,541.6 L964.3,540.8 L964.7,539.9 L965.1,538.8 L965.5,537.4 L965.9,535.9 L966.2,534.5 L966.6,533.2 L967.0,532.1 L967.3,531.1 L967.7,530.0 L968.0,528.8 L968.4,527.6 L968.7,526.5 L969.0,525.3 L969.4,524.1 L969.7,523.1 L970.0,522.2 L970.4,521.3 L970.7,520.5 L971.0,520.1 L972.1,519.9 L973.2,521.4 L974.5,522.0 L975.2,521.6 L975.9,520.7 L976.7,519.5 L977.6,518.4 L978.5,517.4 L979.4,516.8 L980.3,516.6 L981.0,516.8 L981.7,517.3 L982.4,517.9 L983.1,518.5 L983.8,519.1 L984.6,520.0 L985.3,521.0 L986.1,521.9 L986.9,522.9 L987.7,523.7 L988.4,524.5 L989.0,525.1 L989.6,525.8 L990.2,526.5 L990.9,527.2 L991.5,527.9 L992.2,528.6 L992.9,529.4 L993.7,530.2 L994.6,531.0 L995.5,531.7 L996.6,532.4 L997.3,532.9 L998.1,533.4 L998.9,534.1 L999.8,534.7 L1000.7,535.3 L1001.6,535.8 L1002.6,536.4 L1003.6,537.0 L1004.6,537.6 L1005.6,538.2 L1006.6,538.8 L1007.6,539.5 L1008.6,540.1 L1009.6,540.5 L1010.5,541.0 L1011.4,541.3 L1012.2,541.6 L1013.0,541.8 L1013.7,542.0 L1014.3,542.2 L1015.5,542.1 L1016.4,541.6 L1017.2,540.6 L1017.8,539.5 L1018.3,538.4 L1018.7,537.2 L1019.2,536.2 L1019.8,535.5 L1020.5,535.2 L1021.3,535.3 L1022.2,535.7 L1023.0,536.3 L1023.9,537.2 L1024.9,538.0 L1025.8,538.9 L1026.7,539.7 L1027.5,540.3 L1028.4,540.6 L1029.4,540.4 L1030.4,539.9 L1031.4,539.1 L1032.4,538.3 L1033.4,537.5 L1034.4,537.0 L1035.5,536.8 L1036.4,537.1 L1037.3,537.6 L1038.2,538.3 L1039.1,539.1 L1040.1,539.8 L1041.1,540.6 L1042.1,541.1 L1043.2,541.5 L1044.3,541.4 L1045.0,541.1 L1045.7,540.5 L1046.5,540.0 L1047.3,539.2 L1048.1,538.4 L1049.0,537.4 L1049.8,536.6 L1050.6,535.6 L1051.5,534.8 L1052.3,533.9 L1053.0,533.1 L1053.8,532.2 L1054.5,531.6 L1055.2,531.1 L1055.8,530.8 L1057.1,530.5 L1058.1,530.9 L1059.0,531.7 L1059.8,532.6 L1060.8,533.3 L1062.0,533.5 L1062.8,533.3 L1063.7,533.0 L1064.6,532.6 L1065.5,532.1 L1066.5,531.6 L1067.5,531.2 L1068.6,530.7 L1069.6,530.2 L1070.6,529.9 L1071.6,529.7 L1072.6,529.8 L1073.4,530.1 L1074.2,530.5 L1074.9,530.9 L1075.7,531.5 L1076.4,532.2 L1077.2,533.0 L1077.9,533.7 L1078.7,534.3 L1079.5,535.1 L1080.4,536.0 L1081.3,536.7 L1082.2,537.3 L1083.2,537.7 L1084.1,538.1 L1085.0,538.5 L1085.9,538.9 L1086.9,539.3 L1088.0,539.7 L1089.0,540.0 L1090.1,540.3 L1091.2,540.5 L1092.3,540.8 L1093.3,541.0 L1094.4,541.2 L1095.4,541.5 L1096.4,541.7 L1097.4,541.9 L1098.3,542.1 L1099.2,542.3 L1100.5,542.4 L1101.7,542.4 L1102.8,542.3 L1103.9,542.2 L1105.0,542.0 L1106.0,541.8 L1107.0,541.5 L1107.9,541.3 L1109.0,541.1 L1110.0,540.9 L1111.1,540.8 L1112.1,540.7 L1113.2,540.4 L1114.3,540.2 L1115.4,539.9 L1116.4,539.7 L1117.5,539.6 L1118.5,539.5 L1119.5,539.6 L1120.4,539.6 L1121.6,539.7 L1122.7,540.0 L1123.9,540.6 L1125.0,541.1 L1126.0,541.8 L1126.9,542.2 L1127.7,542.6 L1128.3,542.9" fill="none" stroke="#7a7a7a" stroke-width="1.6" stroke-linejoin="round" stroke-linecap="round" />
<line x1="858.20" y1="392.00" x2="858.20" y2="511.50" stroke="#1a1a1a" stroke-width="1.8" />
<line x1="907.40" y1="426.00" x2="907.40" y2="531.60" stroke="#1a1a1a" stroke-width="1.8" />
<line x1="970.90" y1="414.00" x2="970.90" y2="520.30" stroke="#1a1a1a" stroke-width="1.8" />
<line x1="1020.50" y1="431.30" x2="1020.50" y2="535.40" stroke="#1a1a1a" stroke-width="1.8" />
<line x1="1035.00" y1="433.50" x2="1035.00" y2="537.00" stroke="#1a1a1a" stroke-width="1.8" />
<line x1="1056.30" y1="413.00" x2="1056.30" y2="530.90" stroke="#1a1a1a" stroke-width="1.8" />
<line x1="1072.80" y1="407.00" x2="1072.80" y2="530.00" stroke="#1a1a1a" stroke-width="1.8" />
<line x1="1120.90" y1="420.00" x2="1120.90" y2="540.00" stroke="#1a1a1a" stroke-width="1.8" />
<path d="M956.5,406 L956.5,442.3 L952.3,442.3 L952.3,520.5" fill="none" stroke="#2020f0" stroke-width="2.2" />
<path d="M985.4,366 L985.4,442.3 L979.9,442.3 L979.9,517" fill="none" stroke="#2020f0" stroke-width="2.2" />
<line x1="808.40" y1="339.30" x2="1129.80" y2="339.30" stroke="#111" stroke-width="2" />
<line x1="808.40" y1="564.50" x2="1129.80" y2="564.50" stroke="#111" stroke-width="2" />
<line x1="1129.80" y1="339.30" x2="1129.80" y2="564.50" stroke="#111" stroke-width="2" />
<line x1="808.40" y1="339.30" x2="808.40" y2="564.50" stroke="#111" stroke-width="2" />
<rect x="800.30" y="494.00" width="16.00" height="6.00" fill="#fff" stroke="none" stroke-width="1" transform="rotate(-22 808.3 497)"/>
<line x1="799.30" y1="495.20" x2="817.30" y2="491.20" stroke="#111" stroke-width="1.6" />
<line x1="799.30" y1="500.20" x2="817.30" y2="496.20" stroke="#111" stroke-width="1.6" />
<rect x="1121.80" y="493.00" width="16.00" height="6.00" fill="#fff" stroke="none" stroke-width="1" transform="rotate(-22 1129.8 496)"/>
<line x1="1120.80" y1="494.20" x2="1138.80" y2="490.20" stroke="#111" stroke-width="1.6" />
<line x1="1120.80" y1="499.20" x2="1138.80" y2="495.20" stroke="#111" stroke-width="1.6" />
<line x1="808.40" y1="361.80" x2="817.40" y2="361.80" stroke="#111" stroke-width="1.8" />
<line x1="808.40" y1="467.20" x2="817.40" y2="467.20" stroke="#111" stroke-width="1.8" />
<line x1="808.40" y1="524.50" x2="817.40" y2="524.50" stroke="#111" stroke-width="1.8" />
<line x1="808.40" y1="414.50" x2="813.40" y2="414.50" stroke="#111" stroke-width="1.5" />
<line x1="808.40" y1="546.60" x2="813.40" y2="546.60" stroke="#111" stroke-width="1.5" />
<rect x="808.40" y="465.30" width="5.00" height="3.50" fill="#111" stroke="none" stroke-width="1" />
<line x1="1115.95" y1="564.50" x2="1115.95" y2="558.50" stroke="#111" stroke-width="1.6" />
<line x1="1092.30" y1="564.50" x2="1092.30" y2="554.50" stroke="#111" stroke-width="1.6" />
<line x1="1068.65" y1="564.50" x2="1068.65" y2="558.50" stroke="#111" stroke-width="1.6" />
<line x1="1045.00" y1="564.50" x2="1045.00" y2="554.50" stroke="#111" stroke-width="1.6" />
<line x1="1021.35" y1="564.50" x2="1021.35" y2="558.50" stroke="#111" stroke-width="1.6" />
<line x1="997.70" y1="564.50" x2="997.70" y2="554.50" stroke="#111" stroke-width="1.6" />
<line x1="974.05" y1="564.50" x2="974.05" y2="558.50" stroke="#111" stroke-width="1.6" />
<line x1="950.40" y1="564.50" x2="950.40" y2="554.50" stroke="#111" stroke-width="1.6" />
<line x1="926.75" y1="564.50" x2="926.75" y2="558.50" stroke="#111" stroke-width="1.6" />
<line x1="903.10" y1="564.50" x2="903.10" y2="554.50" stroke="#111" stroke-width="1.6" />
<line x1="879.45" y1="564.50" x2="879.45" y2="558.50" stroke="#111" stroke-width="1.6" />
<line x1="855.80" y1="564.50" x2="855.80" y2="554.50" stroke="#111" stroke-width="1.6" />
<line x1="832.15" y1="564.50" x2="832.15" y2="558.50" stroke="#111" stroke-width="1.6" />
<line x1="808.50" y1="564.50" x2="808.50" y2="554.50" stroke="#111" stroke-width="1.6" />
<text x="776.21" y="368.34" font-size="15.96" font-weight="bold" font-style="normal" fill="#1a1a1a" textLength="29.09" lengthAdjust="spacingAndGlyphs" >0.02</text>
<text x="776.21" y="473.64" font-size="16.38" font-weight="bold" font-style="normal" fill="#1a1a1a" textLength="29.10" lengthAdjust="spacingAndGlyphs" >0.00</text>
<text x="771.22" y="532.64" font-size="16.38" font-weight="bold" font-style="normal" fill="#1a1a1a" textLength="33.82" lengthAdjust="spacingAndGlyphs" >-0.06</text>
<text x="800.08" y="586.44" font-size="15.96" font-weight="bold" font-style="normal" fill="#1a1a1a" textLength="32.52" lengthAdjust="spacingAndGlyphs" >1700</text>
<text x="846.98" y="586.44" font-size="15.96" font-weight="bold" font-style="normal" fill="#1a1a1a" textLength="32.42" lengthAdjust="spacingAndGlyphs" >1600</text>
<text x="894.68" y="586.44" font-size="15.96" font-weight="bold" font-style="normal" fill="#1a1a1a" textLength="32.52" lengthAdjust="spacingAndGlyphs" >1500</text>
<text x="942.61" y="586.44" font-size="15.96" font-weight="bold" font-style="normal" fill="#1a1a1a" textLength="31.58" lengthAdjust="spacingAndGlyphs" >1400</text>
<text x="989.48" y="586.42" font-size="15.93" font-weight="bold" font-style="normal" fill="#1a1a1a" textLength="32.42" lengthAdjust="spacingAndGlyphs" >1300</text>
<text x="1037.13" y="586.44" font-size="15.96" font-weight="bold" font-style="normal" fill="#1a1a1a" textLength="30.74" lengthAdjust="spacingAndGlyphs" >1200</text>
<text x="1084.08" y="586.44" font-size="15.96" font-weight="bold" font-style="normal" fill="#1a1a1a" textLength="32.52" lengthAdjust="spacingAndGlyphs" >1100</text>
<text x="892.58" y="610.35" font-size="20.49" font-weight="bold" font-style="normal" fill="#1a1a1a" textLength="138.45" lengthAdjust="spacingAndGlyphs" >Wavenumber (cm</text>
<text x="1030.57" y="600.50" font-size="9.45" font-weight="bold" font-style="normal" fill="#1a1a1a" textLength="9.73" lengthAdjust="spacingAndGlyphs" >-1</text>
<text x="1041.48" y="612.21" font-size="23.07" font-weight="bold" font-style="normal" fill="#1a1a1a" textLength="7.67" lengthAdjust="spacingAndGlyphs" >)</text>
<text transform="translate(771.16,555.03) rotate(-90)" x="0" y="0" font-size="16.09" font-weight="bold" font-style="normal" fill="#1a1a1a" textLength="175.09" lengthAdjust="spacingAndGlyphs" >Absorbance (OD)</text>
<text x="810.67" y="429.24" font-size="16.81" font-weight="bold" font-style="normal" fill="#f02020" textLength="27.42" lengthAdjust="spacingAndGlyphs" >rGO</text>
<text x="814.19" y="459.06" font-size="14.84" font-weight="bold" font-style="normal" fill="#1a1a1a" textLength="13.30" lengthAdjust="spacingAndGlyphs" >Si</text>
<text x="812.49" y="541.30" font-size="16.72" font-weight="bold" font-style="normal" fill="#8a8a8a" textLength="25.02" lengthAdjust="spacingAndGlyphs" >KBr</text>
<text x="843.60" y="381.55" font-size="15.54" font-weight="bold" font-style="normal" fill="#1a1a1a" textLength="28.08" lengthAdjust="spacingAndGlyphs" >1598</text>
<text x="895.44" y="418.35" font-size="15.54" font-weight="bold" font-style="normal" fill="#1a1a1a" textLength="26.90" lengthAdjust="spacingAndGlyphs" >1491</text>
<text x="944.24" y="397.31" font-size="16.77" font-weight="bold" font-style="normal" fill="#1a1a1a" textLength="26.90" lengthAdjust="spacingAndGlyphs" >1395</text>
<text x="972.06" y="356.61" font-size="16.63" font-weight="bold" font-style="normal" fill="#1a1a1a" textLength="26.16" lengthAdjust="spacingAndGlyphs" >1337</text>
<text x="1002.84" y="402.35" font-size="15.40" font-weight="bold" font-style="normal" fill="#1a1a1a" textLength="27.00" lengthAdjust="spacingAndGlyphs" >1251</text>
<text x="1035.63" y="402.35" font-size="15.40" font-weight="bold" font-style="normal" fill="#1a1a1a" textLength="27.04" lengthAdjust="spacingAndGlyphs" >1178</text>
<text x="1068.44" y="402.33" font-size="15.36" font-weight="bold" font-style="normal" fill="#1a1a1a" textLength="27.00" lengthAdjust="spacingAndGlyphs" >1143</text>
<text x="1097.23" y="414.23" font-size="15.36" font-weight="bold" font-style="normal" fill="#1a1a1a" textLength="27.04" lengthAdjust="spacingAndGlyphs" >1038</text>
<text x="957.82" y="553.55" font-size="13.67" font-weight="bold" font-style="normal" fill="#1a1a1a" textLength="27.63" lengthAdjust="spacingAndGlyphs" >1355</text>
<text x="1017.01" y="553.57" font-size="13.70" font-weight="bold" font-style="normal" fill="#1a1a1a" textLength="27.80" lengthAdjust="spacingAndGlyphs" >1220</text>
<text x="1025.67" y="370.38" font-size="15.98" font-weight="bold" font-style="normal" fill="#1a1a1a" textLength="49.23" lengthAdjust="spacingAndGlyphs" >υ (N-CH</text>
<text x="1074.29" y="372.92" font-size="7.05" font-weight="bold" font-style="normal" fill="#1a1a1a" textLength="5.03" lengthAdjust="spacingAndGlyphs" >3</text>
<text x="1079.49" y="370.38" font-size="15.98" font-weight="bold" font-style="normal" fill="#1a1a1a" textLength="4.13" lengthAdjust="spacingAndGlyphs" >)</text>
<path d="M1022.5,387.6 L1022.5,376.7 L1081.2,376.7 L1081.2,387.6" fill="none" stroke="#1a1a1a" stroke-width="1.5" />
<text transform="translate(847.40,531.72) rotate(-90)" x="0" y="0" font-size="11.59" font-weight="bold" font-style="normal" fill="#1a1a1a" textLength="58.54" lengthAdjust="spacingAndGlyphs" >υ (C=N)</text>
<text transform="translate(899.77,531.69) rotate(-90)" x="0" y="0" font-size="10.73" font-weight="bold" font-style="normal" fill="#1a1a1a" textLength="56.48" lengthAdjust="spacingAndGlyphs" >υ (C=C)</text>
<text transform="translate(945.44,531.40) rotate(-90)" x="0" y="0" font-size="11.37" font-weight="bold" font-style="normal" fill="#1a1a1a" textLength="44.53" lengthAdjust="spacingAndGlyphs" >δ (CH</text>
<text transform="translate(948.94,488.18) rotate(-90)" x="0" y="0" font-size="5.64" font-weight="bold" font-style="normal" fill="#1a1a1a" textLength="4.48" lengthAdjust="spacingAndGlyphs" >3</text>
<text transform="translate(945.44,483.52) rotate(-90)" x="0" y="0" font-size="11.37" font-weight="bold" font-style="normal" fill="#1a1a1a" textLength="5.31" lengthAdjust="spacingAndGlyphs" >)</text>
<text transform="translate(966.84,531.61) rotate(-90)" x="0" y="0" font-size="11.37" font-weight="bold" font-style="normal" fill="#1a1a1a" textLength="28.01" lengthAdjust="spacingAndGlyphs" >υ (C</text>
<text transform="translate(970.00,503.14) rotate(-90)" x="0" y="0" font-size="5.81" font-weight="bold" font-style="normal" fill="#1a1a1a" textLength="6.22" lengthAdjust="spacingAndGlyphs" >Ar</text>
<text transform="translate(966.84,497.24) rotate(-90)" x="0" y="0" font-size="11.37" font-weight="bold" font-style="normal" fill="#1a1a1a" textLength="26.18" lengthAdjust="spacingAndGlyphs" >-N)</text>
<text transform="translate(1045.54,536.58) rotate(-90)" x="0" y="0" font-size="11.37" font-weight="bold" font-style="normal" fill="#1a1a1a" textLength="26.96" lengthAdjust="spacingAndGlyphs" >δ (C</text>
<text transform="translate(1048.50,509.14) rotate(-90)" x="0" y="0" font-size="5.81" font-weight="bold" font-style="normal" fill="#1a1a1a" textLength="6.22" lengthAdjust="spacingAndGlyphs" >Ar</text>
<text transform="translate(1045.54,503.25) rotate(-90)" x="0" y="0" font-size="11.37" font-weight="bold" font-style="normal" fill="#1a1a1a" textLength="26.50" lengthAdjust="spacingAndGlyphs" >-H)</text>
<text transform="translate(1116.24,531.69) rotate(-90)" x="0" y="0" font-size="11.37" font-weight="bold" font-style="normal" fill="#1a1a1a" textLength="52.99" lengthAdjust="spacingAndGlyphs" >υ (C-C)</text>
<polygon points="1181.8,499.8 1400.0,442.0 1470.0,461.0 1470.0,474.0 1238.4,577.6" fill="url(#h_top)" stroke="none" stroke-width="1" />
<polygon points="1181.8,499.8 1238.4,577.6 1240.2,605.9 1184.0,527.0" fill="url(#h_left)" stroke="none" stroke-width="1" />
<polygon points="1238.4,577.6 1470.0,474.0 1470.0,501.6 1240.2,605.9" fill="url(#h_front)" stroke="none" stroke-width="1" />
<line x1="1238.40" y1="577.60" x2="1470.00" y2="474.00" stroke="#d8d8d8" stroke-width="0.8" />
<path d="M1231.8,372.5 L1262,518 Q1300,545 1383,494 L1351.2,366.3 A59.8,22 -3 0 1 1231.8,372.5 Z" fill="url(#h_cyl)" stroke="none" stroke-width="1" />
<ellipse cx="1291.5" cy="369.4" rx="59.8" ry="22" fill="#f8c0c0" fill-opacity="0.6" transform="rotate(-3 1291.5 369.4)"/>
<path d="M1262,385 L1290,515" fill="none" stroke="#ffffff" stroke-width="10" stroke-opacity="0.35" filter="url(#blur3)"/>
<path d="M1330,375 L1352,495" fill="none" stroke="#ffffff" stroke-width="9" stroke-opacity="0.5" filter="url(#blur3)"/>
<ellipse cx="1275" cy="507" rx="53.7" ry="31" fill="url(#h_hex)" opacity="0.8"/>
<ellipse cx="1376.7" cy="470" rx="48" ry="25" fill="url(#h_hex)" opacity="0.8"/>
<circle cx="1305.5" cy="442" r="26.3" fill="url(#h_gold)"/>
<circle cx="1272" cy="459" r="5.8" fill="url(#h_el)"/>
<text x="1270.4" y="461" font-size="5" fill="#fff" font-weight="bold">e</text>
<circle cx="1341.7" cy="436.5" r="5.8" fill="url(#h_el)"/>
<text x="1340.1000000000001" y="438.5" font-size="5" fill="#fff" font-weight="bold">e</text>
<circle cx="1359.3" cy="455" r="5.8" fill="url(#h_el)"/>
<text x="1357.7" y="457" font-size="5" fill="#fff" font-weight="bold">e</text>
<circle cx="1346.3" cy="471.5" r="5.8" fill="url(#h_el)"/>
<text x="1344.7" y="473.5" font-size="5" fill="#fff" font-weight="bold">e</text>
<circle cx="1369.5" cy="479.8" r="5.8" fill="url(#h_el)"/>
<text x="1367.9" y="481.8" font-size="5" fill="#fff" font-weight="bold">e</text>
<circle cx="1292.2" cy="490" r="5.8" fill="url(#h_el)"/>
<text x="1290.6000000000001" y="492" font-size="5" fill="#fff" font-weight="bold">e</text>
<circle cx="1276" cy="505.5" r="5.8" fill="url(#h_el)"/>
<text x="1274.4" y="507.5" font-size="5" fill="#fff" font-weight="bold">e</text>
<circle cx="1303.6" cy="510" r="5.8" fill="url(#h_el)"/>
<text x="1302.0" y="512" font-size="5" fill="#fff" font-weight="bold">e</text>
<text x="1242.04" y="410.72" font-size="12.17" font-weight="bold" font-style="normal" fill="#f02828" textLength="23.98" lengthAdjust="spacingAndGlyphs" >Light</text>
<text x="1350.36" y="441.88" font-size="12.53" font-weight="bold" font-style="normal" fill="#f02828" textLength="61.34" lengthAdjust="spacingAndGlyphs" >Hot electrons</text>
<text x="0" y="0" font-size="20" font-weight="bold" fill="#111" transform="translate(1250.5,591) rotate(-14)" textLength="20" lengthAdjust="spacingAndGlyphs">Si</text>
<rect x="66.20" y="652.80" width="197.80" height="203.20" fill="#02088e" stroke="none" stroke-width="1" />
<g clip-path="url(#i_clip)">
<path d="M79.8,689.4 A18,18 0 0 1 79.8,655.6" fill="none" stroke="#2890f0" stroke-width="3.3000000000000003" opacity="0.3" filter="url(#blur1)"/>
<path d="M79.8,689.4 A18,18 0 0 1 79.8,655.6" fill="none" stroke="#2890f0" stroke-width="1.5" filter="url(#blur05)"/>
<path d="M92.2,655.6 A18,18 0 0 1 93.6,688.8" fill="none" stroke="#38b8f8" stroke-width="3.3000000000000003" opacity="0.3" filter="url(#blur1)"/>
<path d="M92.2,655.6 A18,18 0 0 1 93.6,688.8" fill="none" stroke="#38b8f8" stroke-width="1.5" filter="url(#blur05)"/>
<circle cx="125.5" cy="672.5" r="17" fill="#0620a6"/>
<circle cx="125.5" cy="672.5" r="17" fill="none" stroke="#38b8f8" stroke-width="3.74" opacity="0.3" filter="url(#blur1)"/>
<circle cx="125.5" cy="672.5" r="18" fill="none" stroke="#38b8f8" stroke-width="1.7" filter="url(#blur05)"/>
<path d="M109.9,681.5 A18,18 0 0 1 109.9,663.5" fill="none" stroke="#b0e060" stroke-width="3.3000000000000003" opacity="0.3" filter="url(#blur1)"/>
<path d="M109.9,681.5 A18,18 0 0 1 109.9,663.5" fill="none" stroke="#b0e060" stroke-width="1.5" filter="url(#blur05)"/>
<path d="M141.1,663.5 A18,18 0 0 1 141.1,681.5" fill="none" stroke="#80e0a0" stroke-width="3.3000000000000003" opacity="0.3" filter="url(#blur1)"/>
<path d="M141.1,663.5 A18,18 0 0 1 141.1,681.5" fill="none" stroke="#80e0a0" stroke-width="1.5" filter="url(#blur05)"/>
<path d="M158.8,689.4 A18,18 0 0 1 161.9,654.8" fill="none" stroke="#2890f0" stroke-width="2.8600000000000003" opacity="0.3" filter="url(#blur1)"/>
<path d="M158.8,689.4 A18,18 0 0 1 161.9,654.8" fill="none" stroke="#2890f0" stroke-width="1.3" filter="url(#blur05)"/>
<path d="M174.0,688.1 A18,18 0 0 1 158.8,689.4" fill="none" stroke="#2890f0" stroke-width="2.2" opacity="0.3" filter="url(#blur1)"/>
<path d="M174.0,688.1 A18,18 0 0 1 158.8,689.4" fill="none" stroke="#2890f0" stroke-width="1.0" filter="url(#blur05)"/>
<circle cx="205.3" cy="672.5" r="17" fill="url(#i_hot)"/>
<circle cx="205.3" cy="672.5" r="17" fill="none" stroke="#30c0f0" stroke-width="4.4" opacity="0.3" filter="url(#blur1)"/>
<circle cx="205.3" cy="672.5" r="18" fill="none" stroke="#30c0f0" stroke-width="2.0" filter="url(#blur05)"/>
<path d="M191.5,684.1 A18,18 0 0 1 191.5,660.9" fill="none" stroke="#f05018" stroke-width="5.28" opacity="0.3" filter="url(#blur1)"/>
<path d="M191.5,684.1 A18,18 0 0 1 191.5,660.9" fill="none" stroke="#f05018" stroke-width="2.4" filter="url(#blur05)"/>
<path d="M219.1,660.9 A18,18 0 0 1 219.1,684.1" fill="none" stroke="#f06018" stroke-width="5.28" opacity="0.3" filter="url(#blur1)"/>
<path d="M219.1,660.9 A18,18 0 0 1 219.1,684.1" fill="none" stroke="#f06018" stroke-width="2.4" filter="url(#blur05)"/>
<path d="M214.3,688.1 A18,18 0 0 1 196.3,688.1" fill="none" stroke="#f0a030" stroke-width="3.9600000000000004" opacity="0.3" filter="url(#blur1)"/>
<path d="M214.3,688.1 A18,18 0 0 1 196.3,688.1" fill="none" stroke="#f0a030" stroke-width="1.8" filter="url(#blur05)"/>
<path d="M236.0,688.1 A18,18 0 0 1 238.8,655.6" fill="none" stroke="#38b8f8" stroke-width="3.08" opacity="0.3" filter="url(#blur1)"/>
<path d="M236.0,688.1 A18,18 0 0 1 238.8,655.6" fill="none" stroke="#38b8f8" stroke-width="1.4" filter="url(#blur05)"/>
<path d="M251.2,655.6 A18,18 0 0 1 258.8,684.1" fill="none" stroke="#2890f0" stroke-width="2.64" opacity="0.3" filter="url(#blur1)"/>
<path d="M251.2,655.6 A18,18 0 0 1 258.8,684.1" fill="none" stroke="#2890f0" stroke-width="1.2" filter="url(#blur05)"/>
<path d="M104.0,713.0 A18,18 0 0 1 68.0,713.0" fill="none" stroke="#38b8f8" stroke-width="3.74" opacity="0.3" filter="url(#blur1)"/>
<path d="M104.0,713.0 A18,18 0 0 1 68.0,713.0" fill="none" stroke="#38b8f8" stroke-width="1.7" filter="url(#blur05)"/>
<path d="M68.0,713.0 A18,18 0 0 1 69.1,706.8" fill="none" stroke="#2890f0" stroke-width="2.64" opacity="0.3" filter="url(#blur1)"/>
<path d="M68.0,713.0 A18,18 0 0 1 69.1,706.8" fill="none" stroke="#2890f0" stroke-width="1.2" filter="url(#blur05)"/>
<path d="M191.5,724.6 A18,18 0 0 1 188.4,706.8" fill="none" stroke="#2890f0" stroke-width="2.2" opacity="0.3" filter="url(#blur1)"/>
<path d="M191.5,724.6 A18,18 0 0 1 188.4,706.8" fill="none" stroke="#2890f0" stroke-width="1.0" filter="url(#blur05)"/>
<path d="M245.0,731.0 A18,18 0 0 1 227.0,713.0" fill="none" stroke="#2890f0" stroke-width="2.2" opacity="0.3" filter="url(#blur1)"/>
<path d="M245.0,731.0 A18,18 0 0 1 227.0,713.0" fill="none" stroke="#2890f0" stroke-width="1.0" filter="url(#blur05)"/>
<circle cx="86.5" cy="753.5" r="17" fill="#0414a0"/>
<path d="M83.4,771.2 A18,18 0 0 1 83.4,735.8" fill="none" stroke="#38c0f0" stroke-width="3.9600000000000004" opacity="0.3" filter="url(#blur1)"/>
<path d="M83.4,771.2 A18,18 0 0 1 83.4,735.8" fill="none" stroke="#38c0f0" stroke-width="1.8" filter="url(#blur05)"/>
<path d="M69.6,759.7 A18,18 0 0 1 69.6,747.3" fill="none" stroke="#f05020" stroke-width="3.9600000000000004" opacity="0.3" filter="url(#blur1)"/>
<path d="M69.6,759.7 A18,18 0 0 1 69.6,747.3" fill="none" stroke="#f05020" stroke-width="1.8" filter="url(#blur05)"/>
<path d="M72.7,765.1 A18,18 0 0 1 69.6,759.7" fill="none" stroke="#e0e040" stroke-width="3.5200000000000005" opacity="0.3" filter="url(#blur1)"/>
<path d="M72.7,765.1 A18,18 0 0 1 69.6,759.7" fill="none" stroke="#e0e040" stroke-width="1.6" filter="url(#blur05)"/>
<circle cx="245" cy="753.5" r="17" fill="none" stroke="#38b8f8" stroke-width="3.3000000000000003" opacity="0.3" filter="url(#blur1)"/>
<circle cx="245" cy="753.5" r="18" fill="none" stroke="#38b8f8" stroke-width="1.5" filter="url(#blur05)"/>
<path d="M229.4,762.5 A18,18 0 0 1 229.4,744.5" fill="none" stroke="#60d0a0" stroke-width="3.08" opacity="0.3" filter="url(#blur1)"/>
<path d="M229.4,762.5 A18,18 0 0 1 229.4,744.5" fill="none" stroke="#60d0a0" stroke-width="1.4" filter="url(#blur05)"/>
<path d="M261.9,747.3 A18,18 0 0 1 261.9,759.7" fill="none" stroke="#e0d040" stroke-width="3.08" opacity="0.3" filter="url(#blur1)"/>
<path d="M261.9,747.3 A18,18 0 0 1 261.9,759.7" fill="none" stroke="#e0d040" stroke-width="1.4" filter="url(#blur05)"/>
<path d="M174.0,749.6 A18,18 0 0 1 156.0,749.6" fill="none" stroke="#38b8f8" stroke-width="3.08" opacity="0.3" filter="url(#blur1)"/>
<path d="M174.0,749.6 A18,18 0 0 1 156.0,749.6" fill="none" stroke="#38b8f8" stroke-width="1.4" filter="url(#blur05)"/>
<circle cx="86" cy="794" r="17" fill="none" stroke="#38b8f8" stroke-width="3.3000000000000003" opacity="0.3" filter="url(#blur1)"/>
<circle cx="86" cy="794" r="18" fill="none" stroke="#38b8f8" stroke-width="1.5" filter="url(#blur05)"/>
<path d="M95.0,778.4 A18,18 0 0 1 102.9,787.8" fill="none" stroke="#f06030" stroke-width="3.9600000000000004" opacity="0.3" filter="url(#blur1)"/>
<path d="M95.0,778.4 A18,18 0 0 1 102.9,787.8" fill="none" stroke="#f06030" stroke-width="1.8" filter="url(#blur05)"/>
<path d="M70.4,803.0 A18,18 0 0 1 70.4,785.0" fill="none" stroke="#a0e060" stroke-width="3.08" opacity="0.3" filter="url(#blur1)"/>
<path d="M70.4,803.0 A18,18 0 0 1 70.4,785.0" fill="none" stroke="#a0e060" stroke-width="1.4" filter="url(#blur05)"/>
<path d="M148.1,787.8 A18,18 0 0 1 181.9,787.8" fill="none" stroke="#38c8f0" stroke-width="3.9600000000000004" opacity="0.3" filter="url(#blur1)"/>
<path d="M148.1,787.8 A18,18 0 0 1 181.9,787.8" fill="none" stroke="#38c8f0" stroke-width="1.8" filter="url(#blur05)"/>
<path d="M158.8,777.1 A18,18 0 0 1 171.2,777.1" fill="none" stroke="#f0d040" stroke-width="3.5200000000000005" opacity="0.3" filter="url(#blur1)"/>
<path d="M158.8,777.1 A18,18 0 0 1 171.2,777.1" fill="none" stroke="#f0d040" stroke-width="1.6" filter="url(#blur05)"/>
<circle cx="245" cy="794" r="17" fill="none" stroke="#38b8f8" stroke-width="3.3000000000000003" opacity="0.3" filter="url(#blur1)"/>
<circle cx="245" cy="794" r="18" fill="none" stroke="#38b8f8" stroke-width="1.5" filter="url(#blur05)"/>
<path d="M229.4,803.0 A18,18 0 0 1 229.4,785.0" fill="none" stroke="#60d0a0" stroke-width="3.08" opacity="0.3" filter="url(#blur1)"/>
<path d="M229.4,803.0 A18,18 0 0 1 229.4,785.0" fill="none" stroke="#60d0a0" stroke-width="1.4" filter="url(#blur05)"/>
<path d="M128.6,776.3 A18,18 0 0 1 143.2,790.9" fill="none" stroke="#2890f0" stroke-width="2.64" opacity="0.3" filter="url(#blur1)"/>
<path d="M128.6,776.3 A18,18 0 0 1 143.2,790.9" fill="none" stroke="#2890f0" stroke-width="1.2" filter="url(#blur05)"/>
<circle cx="86" cy="835" r="17" fill="none" stroke="#38b8f8" stroke-width="3.5200000000000005" opacity="0.3" filter="url(#blur1)"/>
<circle cx="86" cy="835" r="18" fill="none" stroke="#38b8f8" stroke-width="1.6" filter="url(#blur05)"/>
<path d="M69.1,841.2 A18,18 0 0 1 69.1,828.8" fill="none" stroke="#90e070" stroke-width="3.3000000000000003" opacity="0.3" filter="url(#blur1)"/>
<path d="M69.1,841.2 A18,18 0 0 1 69.1,828.8" fill="none" stroke="#90e070" stroke-width="1.5" filter="url(#blur05)"/>
<path d="M102.9,828.8 A18,18 0 0 1 102.9,841.2" fill="none" stroke="#90e070" stroke-width="3.08" opacity="0.3" filter="url(#blur1)"/>
<path d="M102.9,828.8 A18,18 0 0 1 102.9,841.2" fill="none" stroke="#90e070" stroke-width="1.4" filter="url(#blur05)"/>
<circle cx="125.5" cy="835" r="17" fill="none" stroke="#38b8f8" stroke-width="3.5200000000000005" opacity="0.3" filter="url(#blur1)"/>
<circle cx="125.5" cy="835" r="18" fill="none" stroke="#38b8f8" stroke-width="1.6" filter="url(#blur05)"/>
<path d="M108.6,841.2 A18,18 0 0 1 108.6,828.8" fill="none" stroke="#90e070" stroke-width="3.3000000000000003" opacity="0.3" filter="url(#blur1)"/>
<path d="M108.6,841.2 A18,18 0 0 1 108.6,828.8" fill="none" stroke="#90e070" stroke-width="1.5" filter="url(#blur05)"/>
<path d="M142.4,828.8 A18,18 0 0 1 142.4,841.2" fill="none" stroke="#90e070" stroke-width="3.08" opacity="0.3" filter="url(#blur1)"/>
<path d="M142.4,828.8 A18,18 0 0 1 142.4,841.2" fill="none" stroke="#90e070" stroke-width="1.4" filter="url(#blur05)"/>
<circle cx="165" cy="835" r="17" fill="none" stroke="#38b8f8" stroke-width="3.5200000000000005" opacity="0.3" filter="url(#blur1)"/>
<circle cx="165" cy="835" r="18" fill="none" stroke="#38b8f8" stroke-width="1.6" filter="url(#blur05)"/>
<path d="M148.1,841.2 A18,18 0 0 1 148.1,828.8" fill="none" stroke="#90e070" stroke-width="3.3000000000000003" opacity="0.3" filter="url(#blur1)"/>
<path d="M148.1,841.2 A18,18 0 0 1 148.1,828.8" fill="none" stroke="#90e070" stroke-width="1.5" filter="url(#blur05)"/>
<path d="M181.9,828.8 A18,18 0 0 1 181.9,841.2" fill="none" stroke="#90e070" stroke-width="3.08" opacity="0.3" filter="url(#blur1)"/>
<path d="M181.9,828.8 A18,18 0 0 1 181.9,841.2" fill="none" stroke="#90e070" stroke-width="1.4" filter="url(#blur05)"/>
<circle cx="205.3" cy="835" r="17" fill="none" stroke="#38b8f8" stroke-width="3.5200000000000005" opacity="0.3" filter="url(#blur1)"/>
<circle cx="205.3" cy="835" r="18" fill="none" stroke="#38b8f8" stroke-width="1.6" filter="url(#blur05)"/>
<path d="M188.4,841.2 A18,18 0 0 1 188.4,828.8" fill="none" stroke="#90e070" stroke-width="3.3000000000000003" opacity="0.3" filter="url(#blur1)"/>
<path d="M188.4,841.2 A18,18 0 0 1 188.4,828.8" fill="none" stroke="#90e070" stroke-width="1.5" filter="url(#blur05)"/>
<path d="M222.2,828.8 A18,18 0 0 1 222.2,841.2" fill="none" stroke="#90e070" stroke-width="3.08" opacity="0.3" filter="url(#blur1)"/>
<path d="M222.2,828.8 A18,18 0 0 1 222.2,841.2" fill="none" stroke="#90e070" stroke-width="1.4" filter="url(#blur05)"/>
<circle cx="245" cy="835" r="17" fill="none" stroke="#38b8f8" stroke-width="3.5200000000000005" opacity="0.3" filter="url(#blur1)"/>
<circle cx="245" cy="835" r="18" fill="none" stroke="#38b8f8" stroke-width="1.6" filter="url(#blur05)"/>
<path d="M228.1,841.2 A18,18 0 0 1 228.1,828.8" fill="none" stroke="#90e070" stroke-width="3.3000000000000003" opacity="0.3" filter="url(#blur1)"/>
<path d="M228.1,841.2 A18,18 0 0 1 228.1,828.8" fill="none" stroke="#90e070" stroke-width="1.5" filter="url(#blur05)"/>
<path d="M261.9,828.8 A18,18 0 0 1 261.9,841.2" fill="none" stroke="#90e070" stroke-width="3.08" opacity="0.3" filter="url(#blur1)"/>
<path d="M261.9,828.8 A18,18 0 0 1 261.9,841.2" fill="none" stroke="#90e070" stroke-width="1.4" filter="url(#blur05)"/>
<path d="M163,736.5 Q180,738 196,722" fill="none" stroke="#38b8f8" stroke-width="1.2" filter="url(#blur05)"/>
<ellipse cx="167" cy="736.5" rx="4" ry="1.3" fill="#f04020" filter="url(#blur05)"/>
<path d="M150,700 Q165,690 190,697" fill="none" stroke="#2888e0" stroke-width="1" filter="url(#blur05)"/>
<path d="M190,717 Q205,740 225,737" fill="none" stroke="#2890e8" stroke-width="1" filter="url(#blur05)"/>
</g>
<text x="32.76" y="684.65" font-size="15.54" font-weight="bold" font-style="normal" fill="#111" textLength="25.87" lengthAdjust="spacingAndGlyphs" >200</text>
<text x="32.31" y="721.65" font-size="15.54" font-weight="bold" font-style="normal" fill="#111" textLength="26.34" lengthAdjust="spacingAndGlyphs" >100</text>
<text x="49.44" y="758.55" font-size="15.54" font-weight="bold" font-style="normal" fill="#111" textLength="9.24" lengthAdjust="spacingAndGlyphs" >0</text>
<text x="25.55" y="797.35" font-size="15.54" font-weight="bold" font-style="normal" fill="#111" textLength="33.13" lengthAdjust="spacingAndGlyphs" >-100</text>
<text x="25.55" y="834.55" font-size="15.54" font-weight="bold" font-style="normal" fill="#111" textLength="33.13" lengthAdjust="spacingAndGlyphs" >-200</text>
<line x1="66.20" y1="660.70" x2="64.20" y2="660.70" stroke="#333" stroke-width="1" />
<line x1="66.20" y1="679.30" x2="63.20" y2="679.30" stroke="#333" stroke-width="1" />
<line x1="66.20" y1="697.90" x2="64.20" y2="697.90" stroke="#333" stroke-width="1" />
<line x1="66.20" y1="716.50" x2="63.20" y2="716.50" stroke="#333" stroke-width="1" />
<line x1="66.20" y1="735.10" x2="64.20" y2="735.10" stroke="#333" stroke-width="1" />
<line x1="66.20" y1="753.70" x2="63.20" y2="753.70" stroke="#333" stroke-width="1" />
<line x1="66.20" y1="772.30" x2="64.20" y2="772.30" stroke="#333" stroke-width="1" />
<line x1="66.20" y1="790.90" x2="63.20" y2="790.90" stroke="#333" stroke-width="1" />
<line x1="66.20" y1="809.50" x2="64.20" y2="809.50" stroke="#333" stroke-width="1" />
<line x1="66.20" y1="828.10" x2="63.20" y2="828.10" stroke="#333" stroke-width="1" />
<line x1="66.20" y1="846.70" x2="64.20" y2="846.70" stroke="#333" stroke-width="1" />
<text x="75.73" y="875.25" font-size="15.82" font-weight="bold" font-style="normal" fill="#111" textLength="34.38" lengthAdjust="spacingAndGlyphs" >-200</text>
<text x="111.63" y="875.25" font-size="15.82" font-weight="bold" font-style="normal" fill="#111" textLength="34.38" lengthAdjust="spacingAndGlyphs" >-100</text>
<text x="161.12" y="875.25" font-size="15.82" font-weight="bold" font-style="normal" fill="#111" textLength="9.59" lengthAdjust="spacingAndGlyphs" >0</text>
<text x="187.89" y="875.25" font-size="15.82" font-weight="bold" font-style="normal" fill="#111" textLength="26.66" lengthAdjust="spacingAndGlyphs" >100</text>
<text x="224.26" y="875.25" font-size="15.82" font-weight="bold" font-style="normal" fill="#111" textLength="26.19" lengthAdjust="spacingAndGlyphs" >200</text>
<line x1="74.90" y1="856.00" x2="74.90" y2="858.00" stroke="#333" stroke-width="1" />
<line x1="92.95" y1="856.00" x2="92.95" y2="859.00" stroke="#333" stroke-width="1" />
<line x1="111.00" y1="856.00" x2="111.00" y2="858.00" stroke="#333" stroke-width="1" />
<line x1="129.05" y1="856.00" x2="129.05" y2="859.00" stroke="#333" stroke-width="1" />
<line x1="147.10" y1="856.00" x2="147.10" y2="858.00" stroke="#333" stroke-width="1" />
<line x1="165.15" y1="856.00" x2="165.15" y2="859.00" stroke="#333" stroke-width="1" />
<line x1="183.20" y1="856.00" x2="183.20" y2="858.00" stroke="#333" stroke-width="1" />
<line x1="201.25" y1="856.00" x2="201.25" y2="859.00" stroke="#333" stroke-width="1" />
<line x1="219.30" y1="856.00" x2="219.30" y2="858.00" stroke="#333" stroke-width="1" />
<line x1="237.35" y1="856.00" x2="237.35" y2="859.00" stroke="#333" stroke-width="1" />
<line x1="255.40" y1="856.00" x2="255.40" y2="858.00" stroke="#333" stroke-width="1" />
<text transform="translate(16.83,785.13) rotate(-90)" x="0" y="0" font-size="17.70" font-weight="bold" font-style="normal" fill="#111" textLength="48.94" lengthAdjust="spacingAndGlyphs" >y (nm)</text>
<text x="139.89" y="893.17" font-size="17.49" font-weight="bold" font-style="normal" fill="#111" textLength="49.94" lengthAdjust="spacingAndGlyphs" >x (nm)</text>
<rect x="272.20" y="655.60" width="14.60" height="136.90" fill="url(#i_cb)" stroke="none" stroke-width="1" />
<text x="290.63" y="661.48" font-size="12.15" font-weight="bold" font-style="normal" fill="#222" textLength="19.85" lengthAdjust="spacingAndGlyphs" >500</text>
<text x="290.82" y="688.48" font-size="12.15" font-weight="bold" font-style="normal" fill="#222" textLength="19.66" lengthAdjust="spacingAndGlyphs" >400</text>
<text x="290.73" y="715.16" font-size="12.12" font-weight="bold" font-style="normal" fill="#222" textLength="19.76" lengthAdjust="spacingAndGlyphs" >300</text>
<text x="290.59" y="742.18" font-size="12.15" font-weight="bold" font-style="normal" fill="#222" textLength="19.90" lengthAdjust="spacingAndGlyphs" >200</text>
<text x="290.24" y="768.98" font-size="12.15" font-weight="bold" font-style="normal" fill="#222" textLength="20.26" lengthAdjust="spacingAndGlyphs" >100</text>
<text x="290.54" y="796.08" font-size="12.15" font-weight="bold" font-style="normal" fill="#222" textLength="6.43" lengthAdjust="spacingAndGlyphs" >0</text>
<line x1="459.10" y1="653.20" x2="459.10" y2="854.90" stroke="#b0f0b0" stroke-width="0.8" stroke-dasharray="2,2"/>
<line x1="493.30" y1="653.20" x2="493.30" y2="854.90" stroke="#b0f0b0" stroke-width="0.8" stroke-dasharray="2,2"/>
<line x1="549.70" y1="653.20" x2="549.70" y2="854.90" stroke="#b0f0b0" stroke-width="0.8" stroke-dasharray="2,2"/>
<line x1="566.90" y1="653.20" x2="566.90" y2="854.90" stroke="#b0f0b0" stroke-width="0.8" stroke-dasharray="2,2"/>
<line x1="611.90" y1="653.20" x2="611.90" y2="854.90" stroke="#b0f0b0" stroke-width="0.8" stroke-dasharray="2,2"/>
<line x1="658.40" y1="653.20" x2="658.40" y2="854.90" stroke="#b0f0b0" stroke-width="0.8" stroke-dasharray="2,2"/>
<path d="M421.9,737.3 L422.3,737.1 L422.8,736.9 L423.4,736.6 L424.1,736.4 L424.8,736.1 L425.5,735.8 L426.3,735.9 L427.1,736.2 L428.0,736.1 L428.9,735.6 L429.8,735.1 L430.6,734.9 L431.5,734.6 L432.4,734.2 L433.2,733.8 L434.0,733.4 L434.8,733.0 L435.5,732.7 L436.3,732.6 L437.0,732.5 L437.8,732.1 L438.5,731.6 L439.3,731.3 L440.0,731.1 L440.8,730.8 L441.5,730.4 L442.2,729.9 L443.0,729.6 L443.7,729.4 L444.4,729.0 L445.1,728.3 L445.8,727.6 L446.5,727.1 L447.2,726.5 L447.9,725.9 L448.6,725.4 L449.3,724.9 L450.1,724.8 L450.8,724.7 L451.5,723.8 L452.2,722.8 L452.8,722.4 L453.5,722.1 L454.2,721.8 L454.8,721.3 L455.4,720.8 L456.1,720.0 L456.7,719.3 L457.2,718.7 L457.8,718.7 L458.8,718.9 L459.6,718.1 L460.5,717.3 L461.3,717.2 L462.1,717.5 L462.8,717.9 L463.5,717.8 L464.2,717.8 L464.9,717.7 L465.8,717.2 L466.6,716.9 L467.4,717.3 L468.2,718.0 L469.1,718.7 L470.2,719.4 L470.7,719.5 L471.3,719.6 L472.0,719.8 L472.7,720.8 L473.4,721.8 L474.1,722.1 L474.8,722.3 L475.6,723.5 L476.3,724.7 L477.0,725.3 L477.7,725.7 L478.3,726.3 L478.9,726.9 L479.4,727.4 L479.9,727.4 L481.2,726.8 L481.6,726.1 L482.6,725.0 L482.9,724.7 L483.3,724.3 L483.8,723.8 L484.2,723.2 L484.7,722.5 L485.3,721.5 L485.8,720.4 L486.3,719.9 L486.8,719.7 L487.4,719.1 L487.9,718.3 L488.3,717.5 L488.8,716.6 L489.2,715.7 L489.6,715.0 L490.4,713.8 L491.0,713.2 L491.5,712.8 L492.0,712.2 L492.5,711.8 L493.2,711.8 L493.6,712.0 L494.0,712.5 L494.5,713.2 L494.9,713.9 L495.4,714.4 L495.9,715.1 L496.4,715.8 L496.9,716.5 L497.4,717.1 L497.9,717.6 L498.5,718.3 L498.9,718.9 L499.4,719.6 L499.8,720.4 L500.3,721.2 L500.7,722.0 L501.2,722.8 L501.7,723.6 L502.2,724.1 L502.7,724.5 L503.2,725.2 L503.7,726.0 L504.3,726.8 L504.9,727.4 L505.5,727.9 L506.0,728.6 L506.6,729.4 L507.2,730.1 L507.8,730.6 L508.5,731.0 L509.1,731.4 L509.8,731.8 L510.5,732.3 L511.1,732.8 L511.8,733.3 L512.5,733.9 L513.1,734.4 L513.8,735.0 L514.4,735.6 L515.0,736.6 L515.6,737.5 L516.1,738.1 L517.0,738.7 L517.8,739.2 L518.6,739.6 L519.3,739.8 L520.0,739.7 L520.7,739.6 L521.5,739.6 L522.3,740.1 L523.2,740.4 L523.9,740.1 L524.7,739.7 L525.5,739.6 L526.3,739.9 L527.2,740.2 L528.0,739.8 L528.9,739.4 L529.8,739.2 L530.7,738.9 L531.5,738.6 L532.3,738.2 L533.1,737.9 L533.8,737.5 L534.7,737.1 L535.5,737.1 L536.2,737.1 L537.0,737.0 L537.7,736.8 L538.4,736.6 L539.0,735.9 L539.7,735.0 L540.5,734.2 L541.2,733.8 L541.7,733.4 L542.2,733.1 L542.8,732.7 L543.3,732.1 L543.8,731.4 L544.4,730.7 L544.9,729.8 L545.4,728.8 L546.0,728.1 L546.5,727.4 L547.1,727.0 L547.6,726.7 L548.1,726.0 L548.7,725.0 L549.2,724.0 L549.9,723.3 L550.5,722.8 L551.2,722.5 L551.8,722.4 L552.5,722.3 L553.2,721.8 L553.8,721.2 L554.5,720.6 L555.1,720.5 L555.8,720.4 L556.4,719.2 L557.1,717.9 L557.4,717.6 L557.8,717.3 L558.1,716.9 L558.4,715.8 L558.8,714.7 L559.1,714.0 L559.4,713.6 L559.8,712.8 L560.1,711.8 L560.4,710.8 L560.8,709.9 L561.1,708.8 L561.4,707.5 L561.8,706.3 L562.1,705.4 L562.4,704.5 L562.8,703.6 L563.1,702.8 L563.4,702.2 L563.8,701.6 L564.1,701.1 L564.4,700.9 L564.8,700.6 L565.1,700.5 L565.8,700.0 L566.6,699.4 L567.3,699.1 L568.0,699.4 L568.7,699.9 L569.5,700.6 L570.2,701.6 L570.9,702.3 L571.6,702.8 L572.3,703.6 L573.0,704.6 L573.4,705.1 L573.8,705.6 L574.2,706.2 L574.5,707.1 L574.9,708.1 L575.3,708.9 L575.7,709.3 L576.0,709.7 L576.4,711.2 L576.8,712.6 L577.2,713.4 L577.5,713.9 L577.9,714.7 L578.3,715.6 L578.6,716.4 L579.0,717.1 L579.4,717.7 L579.7,718.4 L580.1,719.0 L580.6,720.0 L581.0,721.2 L581.5,722.2 L582.0,722.9 L582.5,723.7 L582.9,724.4 L583.4,725.1 L583.9,725.3 L584.4,725.4 L584.8,726.2 L585.3,727.2 L585.8,728.2 L586.3,729.0 L586.7,729.7 L587.2,730.2 L588.0,730.7 L588.8,731.2 L589.6,731.6 L590.4,732.1 L591.2,732.6 L591.9,732.9 L592.7,732.9 L593.5,732.7 L594.3,732.9 L595.1,733.2 L595.9,733.5 L596.6,733.3 L597.4,733.1 L598.2,732.5 L599.0,731.6 L599.7,730.9 L600.5,730.8 L601.3,730.5 L601.9,730.1 L602.5,729.6 L603.1,729.0 L603.8,728.2 L604.4,727.5 L605.0,727.0 L605.6,726.6 L606.2,726.1 L606.8,725.6 L607.4,725.0 L607.9,724.5 L608.4,724.0 L609.3,722.7 L610.0,721.8 L610.7,721.3 L611.4,720.9 L612.1,720.9 L613.0,721.3 L613.8,721.4 L614.6,721.3 L615.4,721.1 L616.4,721.3 L617.3,721.6 L618.2,721.8 L619.1,722.0 L619.9,722.1 L620.7,721.9 L621.5,721.9 L622.3,722.5 L623.1,723.1 L623.9,723.3 L624.6,723.6 L625.4,724.4 L626.1,725.5 L626.6,726.2 L627.0,726.8 L627.4,727.5 L627.7,728.0 L628.1,728.5 L628.5,729.4 L628.9,730.4 L629.3,731.4 L629.7,732.2 L630.2,732.9 L630.8,733.3 L631.4,733.6 L632.0,734.0 L632.8,734.3 L633.5,734.7 L634.3,735.3 L635.2,735.6 L636.0,735.6 L636.9,735.5 L637.8,736.0 L638.7,736.4 L639.6,736.8 L640.4,737.2 L641.2,737.4 L642.0,737.3 L642.9,737.2 L643.7,736.7 L644.6,736.1 L645.4,736.1 L646.3,736.5 L647.1,736.6 L647.9,736.3 L648.6,735.9 L649.4,735.4 L650.1,734.9 L650.8,734.0 L651.3,733.1 L651.7,732.1 L652.1,731.9 L652.6,731.6 L653.0,730.7 L653.4,729.3 L653.8,728.6 L654.2,728.2 L654.6,727.2 L654.9,726.0 L655.3,725.0 L655.6,724.3 L656.0,723.6 L656.3,723.0 L656.7,722.4 L657.0,722.0 L657.7,721.9 L658.2,722.4 L658.7,723.3 L659.2,723.9 L659.7,724.2 L660.5,725.3 L661.4,726.7 L661.9,726.9 L662.5,727.0 L663.2,727.2 L663.9,727.4 L664.6,727.6 L665.4,728.3 L666.1,729.1 L666.9,729.7 L667.7,730.1 L668.5,730.4 L669.3,730.4 L670.0,730.5 L670.7,731.4 L671.4,732.2 L672.0,732.7 L673.0,732.7 L673.8,732.8 L674.7,733.1 L675.5,733.5 L676.3,734.3 L677.0,735.1 L677.7,735.3 L678.4,735.4 L679.1,735.3 L679.8,734.8 L680.4,734.0 L681.1,733.2 L681.7,732.2 L682.3,731.5 L682.9,731.0 L683.4,730.4 L683.9,730.0 L684.4,729.7 L685.4,730.0 L686.2,730.9 L686.8,731.8 L687.3,732.3" fill="none" stroke="#f42020" stroke-width="2.2" stroke-linejoin="round" stroke-linecap="round" />
<path d="M421.8,795.3 L422.2,795.0 L422.7,794.5 L423.3,794.0 L423.9,793.6 L424.5,793.5 L425.3,793.4 L426.0,793.1 L426.8,792.8 L427.6,792.5 L428.5,792.6 L429.4,792.6 L430.3,792.3 L431.2,791.9 L432.1,791.8 L432.9,791.7 L433.8,791.0 L434.7,790.2 L435.4,789.9 L436.2,789.9 L437.0,789.9 L437.8,789.4 L438.6,789.0 L439.4,788.8 L440.2,788.7 L441.1,788.7 L441.9,788.7 L442.8,788.7 L443.6,788.3 L444.5,787.8 L445.3,787.6 L446.1,787.6 L447.0,787.6 L447.8,787.8 L448.6,788.0 L449.4,787.9 L450.2,787.8 L451.0,787.6 L451.9,787.3 L452.8,787.1 L453.6,787.4 L454.5,787.6 L455.3,787.8 L456.1,788.0 L456.9,788.0 L457.7,787.6 L458.6,787.2 L459.4,787.6 L460.2,788.2 L461.0,788.6 L461.8,788.7 L462.7,788.8 L463.5,788.7 L464.4,788.6 L465.3,788.6 L466.0,788.7 L466.8,789.0 L467.6,789.7 L468.4,790.5 L469.2,790.5 L470.0,790.3 L470.9,790.4 L471.7,790.5 L472.6,790.7 L473.4,791.0 L474.2,791.4 L475.1,792.3 L475.9,793.1 L476.7,793.3 L477.5,793.4 L478.2,793.6 L479.0,793.9 L479.7,794.2 L480.4,794.4 L481.0,794.4 L481.6,794.5 L482.7,794.3 L483.7,793.9 L484.5,793.8 L485.3,793.6 L486.0,792.8 L486.6,791.9 L487.3,791.2 L488.0,791.0 L488.9,791.0 L489.8,791.3 L490.4,791.6 L491.0,792.0 L491.6,792.2 L492.3,792.4 L493.0,793.0 L493.7,793.6 L494.4,794.2 L495.2,794.6 L495.9,795.0 L496.6,795.7 L497.4,796.4 L498.1,796.4 L498.8,796.5 L499.5,797.0 L500.2,797.6 L500.8,798.1 L501.4,798.5 L502.0,798.8 L502.9,799.1 L503.8,799.3 L504.5,799.4 L505.2,799.6 L505.8,799.7 L506.5,799.7 L507.3,799.6 L508.1,799.4 L509.1,799.4 L510.2,799.5 L510.8,799.6 L511.5,799.7 L512.2,799.8 L512.9,799.6 L513.7,799.4 L514.5,799.2 L515.3,799.1 L516.1,799.1 L517.0,798.9 L517.8,798.6 L518.7,798.5 L519.6,798.4 L520.5,798.5 L521.3,798.8 L522.2,799.0 L523.1,798.6 L524.0,798.1 L524.8,797.9 L525.7,797.6 L526.5,797.1 L527.2,796.5 L528.0,796.1 L528.7,796.1 L529.4,796.1 L530.2,795.6 L531.0,794.8 L531.8,794.2 L532.5,794.0 L533.3,793.7 L534.1,793.7 L534.8,793.7 L535.6,793.1 L536.3,792.4 L537.1,791.8 L537.8,791.3 L538.5,790.9 L539.2,790.5 L539.9,790.2 L540.5,789.9 L541.2,789.6 L541.8,789.3 L542.4,788.9 L542.9,788.5 L543.9,787.6 L544.7,786.6 L545.5,785.8 L546.2,785.2 L546.9,784.6 L547.5,784.4 L548.0,784.1 L548.6,783.7 L549.2,783.1 L549.7,782.6 L550.3,782.0 L551.0,781.4 L551.5,781.0 L552.1,780.9 L552.7,780.8 L553.2,780.2 L553.8,779.6 L554.3,778.7 L554.9,777.7 L555.4,776.8 L556.0,776.4 L556.5,775.9 L557.1,775.2 L557.6,774.4 L558.2,773.8 L558.7,773.6 L559.2,773.3 L559.8,772.4 L560.4,771.4 L560.9,770.4 L561.5,769.6 L562.0,768.7 L562.5,768.0 L563.1,767.4 L563.6,766.9 L564.1,766.5 L564.7,765.9 L565.2,765.3 L565.8,764.8 L566.3,764.7 L567.1,764.7 L567.9,764.9 L568.7,765.2 L569.6,765.7 L570.4,765.9 L571.2,766.0 L572.0,766.3 L572.7,766.7 L573.5,767.5 L574.1,768.4 L574.6,769.3 L575.2,769.6 L575.7,769.8 L576.2,770.1 L576.7,770.5 L577.3,770.8 L577.8,771.5 L578.4,772.3 L579.0,773.1 L579.6,774.1 L580.0,774.9 L580.4,775.8 L580.8,776.8 L581.2,777.7 L581.7,778.6 L582.1,779.1 L582.6,779.7 L583.0,780.3 L583.5,780.8 L583.9,781.7 L584.4,782.8 L584.8,783.9 L585.3,785.1 L585.7,786.1 L586.2,786.4 L586.6,786.8 L587.0,787.4 L587.4,788.0 L587.8,788.6 L588.7,789.3 L589.6,789.3 L590.3,788.8 L591.1,787.8 L591.9,786.9 L592.8,787.1 L593.9,787.6 L594.6,787.8 L595.3,788.0 L596.1,788.2 L596.9,788.4 L597.7,788.6 L598.6,788.8 L599.4,789.0 L600.3,789.6 L601.1,790.3 L601.9,790.3 L602.7,790.2 L603.4,790.3 L604.1,790.6 L605.2,790.9 L606.1,790.8 L607.0,790.5 L607.8,790.5 L608.6,790.5 L609.4,790.5 L610.2,790.6 L610.8,790.9 L611.4,791.1 L612.0,791.3 L612.6,792.2 L613.2,793.2 L613.9,793.8 L614.5,794.3 L615.1,795.2 L615.7,796.2 L616.3,796.8 L617.1,796.7 L617.9,796.4 L618.7,795.6 L619.5,794.6 L620.3,793.9 L621.0,793.6 L621.7,793.2 L622.4,792.9 L623.3,792.6 L624.1,792.2 L624.9,792.0 L625.6,792.6 L626.5,793.8 L626.9,794.3 L627.3,794.8 L627.8,795.4 L628.2,796.5 L628.6,797.5 L629.1,798.3 L629.5,798.9 L630.0,799.3 L630.5,799.6 L631.1,799.8 L631.6,800.2 L632.2,800.3 L632.8,800.2 L633.4,799.7 L634.0,798.9 L634.7,798.5 L635.3,798.5 L636.0,798.2 L636.7,797.4 L637.4,796.7 L638.1,796.1 L638.8,795.6 L639.6,794.8 L640.3,794.2 L641.1,793.7 L641.9,793.3 L642.7,793.1 L643.5,793.4 L644.3,793.7 L645.1,793.5 L646.0,793.2 L646.9,792.2 L647.5,791.3 L648.2,790.6 L648.8,790.4 L649.5,790.2 L650.2,789.4 L650.9,788.6 L651.6,788.3 L652.4,788.2 L653.1,787.9 L653.8,787.4 L654.5,786.8 L655.2,785.9 L655.8,785.1 L656.5,784.8 L657.1,784.6 L658.0,784.5 L658.8,784.3 L659.5,784.1 L660.2,783.9 L660.9,783.6 L661.7,783.4 L662.5,783.8 L663.3,784.2 L664.2,784.2 L665.3,783.9 L666.0,783.8 L666.7,783.7 L667.4,783.7 L668.2,783.9 L669.0,784.3 L669.9,784.7 L670.7,785.0 L671.6,785.3 L672.5,785.1 L673.4,784.9 L674.3,785.0 L675.1,785.2 L676.0,785.6 L676.8,786.2 L677.5,786.7 L678.3,786.5 L679.0,786.3 L679.6,786.1 L680.7,785.8 L681.7,785.3 L682.6,785.0 L683.4,784.5 L684.2,783.6 L685.0,782.8 L685.6,782.4 L686.2,782.0 L686.7,781.7 L687.1,781.4" fill="none" stroke="#2020f4" stroke-width="2.2" stroke-linejoin="round" stroke-linecap="round" />
<path d="M421.8,835.8 L422.4,835.9 L423.0,836.1 L423.8,836.2 L424.7,836.5 L425.7,836.7 L426.7,836.8 L427.8,836.9 L428.9,837.0 L430.1,837.2 L431.2,837.5 L432.4,837.6 L433.6,837.7 L434.7,837.6 L435.6,837.5 L436.6,837.5 L437.5,837.5 L438.5,837.4 L439.5,837.1 L440.6,836.9 L441.6,836.7 L442.6,836.7 L443.7,836.5 L444.7,836.3 L445.8,836.1 L446.8,835.9 L447.9,835.7 L448.9,835.4 L450.0,835.5 L451.0,835.6 L452.0,835.6 L453.1,835.6 L454.1,835.5 L455.1,835.5 L456.2,835.5 L457.2,835.6 L458.2,835.8 L459.3,835.8 L460.3,835.8 L461.3,835.8 L462.4,835.9 L463.4,836.2 L464.4,836.2 L465.4,836.2 L466.3,836.2 L467.3,836.3 L468.4,836.4 L469.5,836.6 L470.6,836.7 L471.7,836.8 L472.7,836.9 L473.8,837.1 L474.8,837.3 L475.9,837.5 L476.9,837.7 L477.9,837.7 L478.8,837.7 L479.8,837.7 L480.7,837.9 L481.6,837.8 L482.7,837.4 L483.7,836.9 L484.7,836.3 L485.6,835.7 L486.5,834.9 L487.4,834.1 L488.3,833.5 L489.1,833.0 L490.0,832.6 L490.9,832.2 L491.8,832.2 L492.7,832.2 L493.5,832.5 L494.3,832.8 L495.1,833.4 L495.9,834.2 L496.7,834.9 L497.5,835.5 L498.5,836.2 L499.5,836.9 L500.7,837.5 L502.0,837.7 L502.8,837.9 L503.6,837.9 L504.5,838.2 L505.4,838.3 L506.4,838.5 L507.4,838.6 L508.4,838.6 L509.4,838.7 L510.5,838.6 L511.6,838.6 L512.6,838.7 L513.7,838.8 L514.8,839.0 L516.0,838.9 L517.1,838.9 L518.2,838.9 L519.2,839.0 L520.3,839.0 L521.4,839.0 L522.4,838.9 L523.4,838.8 L524.5,838.9 L525.6,839.1 L526.7,839.2 L527.9,839.2 L529.0,839.2 L530.2,839.0 L531.3,838.9 L532.5,838.7 L533.6,838.7 L534.7,838.8 L535.8,838.8 L536.9,838.7 L537.9,838.5 L538.9,838.3 L539.8,838.3 L540.7,838.3 L541.5,838.3 L542.2,838.2 L542.9,838.2 L544.6,837.7 L545.7,836.8 L546.3,835.8 L546.7,834.8 L547.2,834.1 L548.0,833.8 L548.9,833.9 L549.9,834.2 L550.8,834.8 L551.9,835.5 L552.9,836.0 L554.0,836.6 L555.1,836.7 L556.1,836.8 L557.1,836.6 L558.1,836.4 L559.1,836.0 L560.2,835.7 L561.2,835.6 L562.3,835.4 L563.3,835.4 L564.3,835.6 L565.3,836.1 L566.3,836.7 L567.2,837.4 L568.2,837.9 L569.2,838.6 L570.3,839.0 L571.4,839.3 L572.4,839.4 L573.4,839.5 L574.4,839.6 L575.5,839.4 L576.6,839.3 L577.7,839.1 L578.8,839.0 L579.8,838.9 L580.7,839.0 L581.6,839.1 L582.9,839.5 L584.0,840.1 L585.0,840.8 L585.9,841.5 L586.8,841.9 L587.8,842.1 L588.6,841.7 L589.4,841.2 L590.2,840.5 L591.0,839.8 L591.9,838.9 L592.8,838.3 L593.9,837.8 L594.8,837.9 L595.7,838.3 L596.8,838.7 L597.9,839.1 L599.0,839.4 L600.1,839.9 L601.2,840.3 L602.3,840.7 L603.2,840.9 L604.1,841.0 L605.4,840.9 L606.5,840.6 L607.5,840.2 L608.4,839.7 L609.3,839.5 L610.2,839.5 L611.1,839.9 L612.0,840.8 L612.8,841.9 L613.6,842.8 L614.5,843.5 L615.3,843.8 L616.0,843.5 L616.7,842.7 L617.4,841.8 L618.1,840.8 L618.9,839.8 L619.6,838.9 L620.4,838.5 L621.4,838.1 L622.4,837.9 L623.5,837.7 L624.5,837.8 L625.5,837.9 L626.5,838.3 L627.3,839.0 L628.0,839.8 L628.8,840.6 L629.5,841.7 L630.2,842.6 L630.9,843.4 L631.6,843.6 L632.3,843.4 L632.7,842.8 L633.2,842.0 L633.9,841.1 L635.0,840.1 L636.7,839.4 L637.4,839.3 L638.2,839.1 L639.0,838.8 L640.0,838.5 L641.0,838.3 L642.1,838.2 L643.2,837.8 L644.3,837.6 L645.5,837.3 L646.7,837.1 L647.9,836.9 L649.1,836.7 L650.3,836.5 L651.4,836.3 L652.5,836.2 L653.6,835.9 L654.6,835.8 L655.5,835.7 L656.3,835.7 L657.1,835.5 L658.7,835.4 L659.9,835.1 L660.8,835.2 L661.6,835.2 L662.3,835.4 L663.1,835.5 L664.1,835.7 L665.3,836.0 L666.1,836.1 L667.1,836.2 L668.1,836.5 L669.1,837.0 L670.2,837.5 L671.4,837.9 L672.5,838.3 L673.6,838.5 L674.7,839.0 L675.8,839.3 L676.9,839.6 L677.9,839.7 L678.8,839.8 L679.6,840.0 L680.9,839.9 L682.1,839.6 L683.2,838.9 L684.2,838.2 L685.1,837.4 L685.9,836.7 L686.6,836.1 L687.1,835.7" fill="none" stroke="#1a1a1a" stroke-width="2.2" stroke-linejoin="round" stroke-linecap="round" />
<line x1="421.90" y1="653.20" x2="687.30" y2="653.20" stroke="#111" stroke-width="2.2" />
<line x1="421.90" y1="854.90" x2="687.30" y2="854.90" stroke="#111" stroke-width="2.2" />
<line x1="421.90" y1="653.20" x2="421.90" y2="854.90" stroke="#111" stroke-width="2.2" />
<line x1="687.30" y1="653.20" x2="687.30" y2="854.90" stroke="#111" stroke-width="2.2" />
<line x1="421.90" y1="854.90" x2="416.90" y2="854.90" stroke="#111" stroke-width="1.4" />
<line x1="421.90" y1="838.09" x2="418.90" y2="838.09" stroke="#111" stroke-width="1.4" />
<line x1="421.90" y1="821.28" x2="416.90" y2="821.28" stroke="#111" stroke-width="1.4" />
<line x1="421.90" y1="804.48" x2="418.90" y2="804.48" stroke="#111" stroke-width="1.4" />
<line x1="421.90" y1="787.67" x2="416.90" y2="787.67" stroke="#111" stroke-width="1.4" />
<line x1="421.90" y1="770.86" x2="418.90" y2="770.86" stroke="#111" stroke-width="1.4" />
<line x1="421.90" y1="754.05" x2="416.90" y2="754.05" stroke="#111" stroke-width="1.4" />
<line x1="421.90" y1="737.24" x2="418.90" y2="737.24" stroke="#111" stroke-width="1.4" />
<line x1="421.90" y1="720.43" x2="416.90" y2="720.43" stroke="#111" stroke-width="1.4" />
<line x1="421.90" y1="703.62" x2="418.90" y2="703.62" stroke="#111" stroke-width="1.4" />
<line x1="421.90" y1="686.82" x2="416.90" y2="686.82" stroke="#111" stroke-width="1.4" />
<line x1="421.90" y1="670.01" x2="418.90" y2="670.01" stroke="#111" stroke-width="1.4" />
<line x1="421.90" y1="653.20" x2="416.90" y2="653.20" stroke="#111" stroke-width="1.4" />
<line x1="421.90" y1="854.90" x2="421.90" y2="859.90" stroke="#111" stroke-width="1.4" />
<line x1="444.02" y1="854.90" x2="444.02" y2="857.90" stroke="#111" stroke-width="1.4" />
<line x1="466.13" y1="854.90" x2="466.13" y2="859.90" stroke="#111" stroke-width="1.4" />
<line x1="488.25" y1="854.90" x2="488.25" y2="857.90" stroke="#111" stroke-width="1.4" />
<line x1="510.37" y1="854.90" x2="510.37" y2="859.90" stroke="#111" stroke-width="1.4" />
<line x1="532.48" y1="854.90" x2="532.48" y2="857.90" stroke="#111" stroke-width="1.4" />
<line x1="554.60" y1="854.90" x2="554.60" y2="859.90" stroke="#111" stroke-width="1.4" />
<line x1="576.72" y1="854.90" x2="576.72" y2="857.90" stroke="#111" stroke-width="1.4" />
<line x1="598.83" y1="854.90" x2="598.83" y2="859.90" stroke="#111" stroke-width="1.4" />
<line x1="620.95" y1="854.90" x2="620.95" y2="857.90" stroke="#111" stroke-width="1.4" />
<line x1="643.07" y1="854.90" x2="643.07" y2="859.90" stroke="#111" stroke-width="1.4" />
<line x1="665.18" y1="854.90" x2="665.18" y2="857.90" stroke="#111" stroke-width="1.4" />
<line x1="687.30" y1="854.90" x2="687.30" y2="859.90" stroke="#111" stroke-width="1.4" />
<text x="393.56" y="859.37" font-size="12.99" font-weight="bold" font-style="normal" fill="#2a2a2a" textLength="22.50" lengthAdjust="spacingAndGlyphs" >0.0</text>
<text x="393.17" y="825.75" font-size="13.19" font-weight="bold" font-style="normal" fill="#2a2a2a" textLength="22.68" lengthAdjust="spacingAndGlyphs" >1.5</text>
<text x="393.83" y="792.12" font-size="12.97" font-weight="bold" font-style="normal" fill="#2a2a2a" textLength="22.22" lengthAdjust="spacingAndGlyphs" >3.0</text>
<text x="393.96" y="758.52" font-size="13.19" font-weight="bold" font-style="normal" fill="#2a2a2a" textLength="21.88" lengthAdjust="spacingAndGlyphs" >4.5</text>
<text x="393.61" y="724.91" font-size="12.99" font-weight="bold" font-style="normal" fill="#2a2a2a" textLength="22.45" lengthAdjust="spacingAndGlyphs" >6.0</text>
<text x="393.51" y="691.29" font-size="13.19" font-weight="bold" font-style="normal" fill="#2a2a2a" textLength="22.34" lengthAdjust="spacingAndGlyphs" >7.5</text>
<text x="393.64" y="657.67" font-size="12.99" font-weight="bold" font-style="normal" fill="#2a2a2a" textLength="22.42" lengthAdjust="spacingAndGlyphs" >9.0</text>
<text x="404.63" y="874.45" font-size="15.54" font-weight="bold" font-style="normal" fill="#1a1a1a" textLength="34.20" lengthAdjust="spacingAndGlyphs" >1200</text>
<text x="448.87" y="874.45" font-size="15.54" font-weight="bold" font-style="normal" fill="#1a1a1a" textLength="34.20" lengthAdjust="spacingAndGlyphs" >1250</text>
<text x="493.10" y="874.43" font-size="15.50" font-weight="bold" font-style="normal" fill="#1a1a1a" textLength="34.20" lengthAdjust="spacingAndGlyphs" >1300</text>
<text x="537.33" y="874.43" font-size="15.50" font-weight="bold" font-style="normal" fill="#1a1a1a" textLength="34.20" lengthAdjust="spacingAndGlyphs" >1350</text>
<text x="581.57" y="874.45" font-size="15.54" font-weight="bold" font-style="normal" fill="#1a1a1a" textLength="34.20" lengthAdjust="spacingAndGlyphs" >1400</text>
<text x="625.80" y="874.45" font-size="15.54" font-weight="bold" font-style="normal" fill="#1a1a1a" textLength="34.20" lengthAdjust="spacingAndGlyphs" >1450</text>
<text x="670.03" y="874.45" font-size="15.54" font-weight="bold" font-style="normal" fill="#1a1a1a" textLength="34.20" lengthAdjust="spacingAndGlyphs" >1500</text>
<text transform="translate(375.95,826.43) rotate(-90)" x="0" y="0" font-size="18.56" font-weight="bold" font-style="normal" fill="#1a1a1a" textLength="142.49" lengthAdjust="spacingAndGlyphs" >Extinction (%)</text>
<text x="463.28" y="892.34" font-size="15.93" font-weight="bold" font-style="normal" fill="#1a1a1a" textLength="133.04" lengthAdjust="spacingAndGlyphs" >Wavenumber</text>
<text x="597.29" y="894.00" font-size="9.66" font-weight="bold" font-style="normal" fill="#1a1a1a" textLength="4.72" lengthAdjust="spacingAndGlyphs" >(</text>
<text x="603.51" y="892.35" font-size="15.87" font-weight="bold" font-style="normal" fill="#1a1a1a" textLength="18.28" lengthAdjust="spacingAndGlyphs" >cm</text>
<text x="623.05" y="886.00" font-size="8.72" font-weight="bold" font-style="normal" fill="#1a1a1a" textLength="10.27" lengthAdjust="spacingAndGlyphs" >-1</text>
<text x="635.98" y="893.22" font-size="18.24" font-weight="bold" font-style="normal" fill="#1a1a1a" textLength="5.31" lengthAdjust="spacingAndGlyphs" >)</text>
<text x="546.10" y="675.40" font-size="10.62" font-weight="bold" font-style="normal" fill="#f43030" textLength="109.69" lengthAdjust="spacingAndGlyphs" >sub-monolayer PEO</text>
<text x="552.25" y="691.48" font-size="11.98" font-weight="bold" font-style="normal" fill="#f43030" textLength="125.46" lengthAdjust="spacingAndGlyphs" >on Si with AuNPs-GNA</text>
<text x="568.20" y="751.42" font-size="10.51" font-weight="bold" font-style="normal" fill="#3030f0" textLength="109.69" lengthAdjust="spacingAndGlyphs" >sub-monolayer PEO</text>
<text x="575.26" y="766.69" font-size="10.89" font-weight="bold" font-style="normal" fill="#3030f0" textLength="82.04" lengthAdjust="spacingAndGlyphs" >on Si with GNA</text>
<text x="527.20" y="823.29" font-size="10.19" font-weight="bold" font-style="normal" fill="#333" textLength="140.92" lengthAdjust="spacingAndGlyphs" >sub-monolayer PEO on Si</text>
<g clip-path="url(#k_clip)">
<path d="M779.0,844.5 L779.5,844.4 L780.1,844.5 L780.7,844.4 L781.3,844.4 L782.0,844.4 L782.7,844.4 L783.4,844.4 L784.2,844.4 L785.0,844.4 L785.8,844.4 L786.7,844.3 L787.6,844.3 L788.5,844.3 L789.4,844.3 L790.4,844.3 L791.4,844.2 L792.4,844.2 L793.4,844.1 L794.4,844.1 L795.5,844.1 L796.6,844.1 L797.6,844.0 L798.7,844.0 L799.9,844.0 L801.0,844.0 L802.1,844.0 L803.3,843.9 L804.4,843.9 L805.6,843.8 L806.7,843.8 L807.9,843.8 L809.1,843.8 L810.2,843.8 L811.4,843.8 L812.6,843.7 L813.7,843.7 L814.9,843.6 L816.0,843.5 L817.2,843.5 L818.3,843.5 L819.5,843.4 L820.6,843.3 L821.7,843.3 L822.8,843.3 L823.9,843.3 L824.9,843.2 L826.0,843.2 L827.0,843.1 L828.0,843.1 L829.0,843.0 L830.0,843.0 L831.1,842.9 L832.1,842.9 L833.2,842.9 L834.3,842.9 L835.4,842.8 L836.5,842.8 L837.6,842.7 L838.8,842.7 L839.9,842.6 L841.1,842.5 L842.2,842.4 L843.4,842.4 L844.5,842.3 L845.7,842.3 L846.8,842.2 L848.0,842.1 L849.2,842.0 L850.3,841.9 L851.5,841.9 L852.6,841.8 L853.7,841.8 L854.9,841.7 L856.0,841.6 L857.1,841.6 L858.2,841.5 L859.3,841.4 L860.4,841.4 L861.4,841.3 L862.5,841.2 L863.5,841.1 L864.5,841.1 L865.5,841.1 L866.4,841.0 L867.4,841.0 L868.3,840.8 L869.2,840.8 L870.1,840.6 L870.9,840.6 L871.8,840.5 L872.5,840.5 L873.3,840.4 L874.0,840.4 L874.7,840.3 L875.4,840.3 L876.0,840.2 L876.6,840.1 L877.2,840.1 L881.2,839.8 L881.9,839.8 L881.1,839.4 L881.0,838.0 L881.2,837.3 L881.4,836.3 L881.7,835.2 L881.9,833.9 L882.1,832.5 L882.2,831.1 L882.4,829.7 L882.6,828.4 L882.8,827.1 L883.0,826.0 L883.2,825.0 L883.4,824.2 L883.6,823.7 L883.8,823.5 L884.0,823.7 L884.2,824.2 L884.5,825.0 L884.7,826.0 L884.9,827.2 L885.2,828.6 L885.4,830.0 L885.6,831.4 L885.9,832.8 L886.1,834.2 L886.3,835.4 L886.5,836.5 L886.8,837.4 L887.0,837.9 L888.0,838.8 L889.0,837.7 L890.0,836.0 L890.4,835.1 L890.7,834.0 L891.1,832.8 L891.4,831.4 L891.7,830.1 L892.1,829.0 L892.4,828.3 L892.7,827.9 L892.9,828.3 L893.0,829.4 L893.0,831.0 L893.2,832.6 L893.8,833.9 L894.9,834.5 L895.5,834.6 L896.3,834.5 L897.1,834.3 L898.0,834.1 L899.0,833.9 L900.1,833.6 L901.2,833.3 L902.3,832.9 L903.4,832.5 L904.6,832.1 L905.7,831.7 L906.9,831.3 L908.0,830.8 L909.0,830.4 L910.0,830.0 L910.9,829.6 L911.9,829.3 L912.8,828.9 L913.7,828.6 L914.5,828.2 L915.4,827.9 L916.3,827.5 L917.2,827.2 L918.0,826.8 L918.9,826.2 L919.8,825.8 L920.7,825.3 L921.7,824.7 L922.6,824.1 L923.6,823.5 L924.3,823.1 L925.1,822.6 L925.8,822.0 L926.5,821.5 L927.3,820.9 L928.1,820.3 L928.8,819.7 L929.6,819.1 L930.4,818.5 L931.2,817.8 L932.0,817.0 L932.8,816.4 L933.6,815.7 L934.4,815.1 L935.2,814.3 L936.0,813.6 L936.8,812.8 L937.6,812.2 L938.4,811.4 L939.2,810.7 L940.0,810.0 L940.7,809.4 L941.4,808.7 L942.1,808.0 L942.8,807.3 L943.6,806.6 L944.3,806.0 L945.0,805.2 L945.8,804.6 L946.5,803.9 L947.3,803.1 L948.0,802.3 L948.7,801.6 L949.5,800.9 L950.2,800.2 L950.9,799.5 L951.6,798.7 L952.3,798.0 L953.0,797.2 L953.7,796.4 L954.3,795.6 L955.0,794.9 L955.6,794.1 L956.2,793.3 L956.8,792.6 L957.4,791.7 L958.0,790.8 L958.6,790.0 L959.2,789.1 L959.7,788.3 L960.3,787.4 L960.8,786.5 L961.3,785.7 L961.8,784.8 L962.3,783.9 L962.8,782.9 L963.3,782.1 L963.7,781.2 L964.2,780.3 L964.7,779.4 L965.1,778.5 L965.6,777.5 L966.1,776.6 L966.5,775.7 L967.0,774.8 L967.5,773.9 L968.0,773.0 L968.5,772.1 L969.0,771.2 L969.5,770.3 L970.0,769.4 L970.5,768.5 L971.0,767.5 L971.5,766.6 L971.9,765.7 L972.4,764.7 L972.9,763.8 L973.4,762.9 L973.9,762.0 L974.4,761.1 L974.9,760.2 L975.3,759.3 L975.8,758.3 L976.3,757.3 L976.8,756.4 L977.3,755.5 L977.8,754.7 L978.3,753.7 L978.8,752.8 L979.3,751.8 L979.8,751.0 L980.3,750.1 L980.8,749.2 L981.3,748.3 L981.8,747.4 L982.3,746.5 L982.9,745.6 L983.4,744.6 L983.9,743.6 L984.4,742.7 L984.9,741.8 L985.4,740.9 L985.9,740.1 L986.4,739.1 L986.9,738.2 L987.5,737.3 L988.0,736.4 L988.5,735.6 L989.0,734.7 L989.5,733.9 L990.0,733.0 L990.6,732.0 L991.1,731.1 L991.7,730.1 L992.2,729.2 L992.8,728.3 L993.4,727.4 L993.9,726.5 L994.5,725.5 L995.1,724.6 L995.6,723.7 L996.2,722.8 L996.8,721.9 L997.3,721.0 L997.9,720.2 L998.4,719.3 L998.9,718.5 L999.5,717.6 L1000.0,716.8 L1000.5,716.0 L1001.0,715.2 L1001.7,714.2 L1002.3,713.1 L1002.9,712.2 L1003.6,711.2 L1004.2,710.4 L1004.8,709.5 L1005.4,708.6 L1005.9,707.7 L1006.5,706.8 L1007.1,705.9 L1007.7,705.1 L1008.3,704.3 L1008.8,703.5 L1009.4,702.8 L1010.0,702.0 L1010.7,701.1 L1011.4,700.2 L1012.1,699.3 L1012.8,698.4 L1013.5,697.5 L1014.2,696.7 L1014.9,695.9 L1015.6,695.1 L1016.3,694.3 L1016.9,693.6 L1017.5,692.9 L1018.1,692.4 L1018.6,692.0 L1020.0,690.5 L1021.1,689.3 L1022.0,689.2 L1023.0,691.0 L1023.2,691.5 L1023.3,692.2 L1023.5,693.1 L1023.7,694.1 L1023.9,695.1 L1024.1,696.2 L1024.2,697.4 L1024.4,698.5 L1024.6,699.8 L1024.8,701.1 L1024.9,702.5 L1025.1,703.9 L1025.3,705.2 L1025.5,706.6 L1025.7,707.8 L1025.8,709.1 L1026.0,710.4 L1026.2,711.7 L1026.4,712.7 L1026.5,713.7 L1026.7,714.6 L1026.9,715.5 L1027.0,716.2 L1027.2,716.7 L1027.3,717.2 L1027.5,717.4 L1027.7,717.5 L1028.0,717.3 L1028.2,716.8 L1028.4,716.2 L1028.6,715.4 L1028.8,714.4 L1029.0,713.2 L1029.2,711.9 L1029.4,710.4 L1029.6,709.0 L1029.8,707.6 L1030.0,706.1 L1030.2,704.7 L1030.4,703.4 L1030.6,702.2 L1030.8,701.0 L1031.0,700.1 L1031.2,698.8 L1031.5,697.4 L1031.7,696.0 L1032.0,694.5 L1032.2,693.0 L1032.4,691.6 L1032.6,690.3 L1032.9,689.2 L1033.1,688.2 L1033.3,687.3 L1033.6,686.7 L1033.8,686.4 L1034.1,686.4 L1034.3,686.7 L1034.5,687.1 L1034.7,687.6 L1034.9,688.2 L1035.1,689.0 L1035.3,689.8 L1035.5,690.8 L1035.7,691.9 L1035.9,693.1 L1036.1,694.2 L1036.4,695.5 L1036.6,696.8 L1036.8,698.1 L1037.0,699.5 L1037.3,700.9 L1037.5,702.3 L1037.8,703.7 L1038.0,705.0 L1038.2,705.9 L1038.3,706.7 L1038.5,707.6 L1038.7,708.6 L1038.8,709.7 L1039.0,710.8 L1039.2,711.9 L1039.4,713.0 L1039.6,714.2 L1039.8,715.3 L1040.0,716.5 L1040.2,717.6 L1040.4,718.8 L1040.6,720.0 L1040.7,721.2 L1040.9,722.4 L1041.1,723.6 L1041.3,724.7 L1041.5,725.8 L1041.7,726.9 L1041.8,727.9 L1042.0,728.9 L1042.2,729.8 L1042.3,730.8 L1042.4,731.7 L1042.6,732.6 L1042.7,733.3 L1042.8,734.0 L1042.9,734.6 L1043.0,735.1" fill="none" stroke="#86c866" stroke-width="1.9" stroke-linejoin="round" stroke-linecap="round" />
<path d="M779.0,843.4 L779.5,843.3 L780.1,843.4 L780.7,843.3 L781.3,843.3 L782.0,843.3 L782.7,843.3 L783.4,843.3 L784.2,843.3 L785.0,843.3 L785.8,843.2 L786.6,843.2 L787.5,843.1 L788.4,843.1 L789.4,843.1 L790.3,843.1 L791.3,843.1 L792.3,843.0 L793.3,842.9 L794.3,842.9 L795.4,842.9 L796.5,842.9 L797.5,842.8 L798.6,842.8 L799.8,842.8 L800.9,842.8 L802.0,842.8 L803.2,842.7 L804.3,842.6 L805.5,842.6 L806.7,842.6 L807.8,842.5 L809.0,842.5 L810.2,842.5 L811.4,842.5 L812.6,842.4 L813.8,842.4 L814.9,842.3 L816.1,842.2 L817.3,842.2 L818.5,842.1 L819.6,842.1 L820.8,842.0 L822.0,841.9 L823.1,841.9 L824.2,841.9 L825.4,841.8 L826.5,841.8 L827.6,841.7 L828.6,841.7 L829.7,841.6 L830.7,841.5 L831.8,841.5 L832.8,841.4 L833.8,841.4 L834.7,841.4 L835.7,841.4 L836.6,841.3 L837.5,841.3 L838.4,841.2 L839.2,841.1 L840.0,841.0 L841.3,840.9 L842.7,840.8 L844.0,840.7 L845.3,840.6 L846.5,840.5 L847.8,840.3 L849.0,840.1 L850.3,839.9 L851.5,839.8 L852.7,839.7 L853.8,839.6 L855.0,839.4 L856.1,839.3 L857.2,839.1 L858.3,838.9 L859.4,838.8 L860.4,838.6 L861.5,838.4 L862.5,838.3 L863.5,838.1 L864.4,838.0 L865.4,837.9 L866.3,837.7 L867.2,837.6 L868.1,837.4 L868.9,837.2 L869.7,837.0 L870.5,836.9 L871.3,836.8 L872.0,836.7 L872.8,836.5 L873.5,836.4 L874.1,836.3 L874.8,836.2 L875.4,836.1 L876.0,836.0 L879.1,835.9 L880.6,836.2 L881.1,836.5 L881.2,836.1 L881.6,834.5 L881.8,833.9 L881.9,833.1 L882.0,832.2 L882.2,831.1 L882.3,829.9 L882.4,828.7 L882.5,827.4 L882.5,826.1 L882.6,824.7 L882.7,823.3 L882.7,821.9 L882.8,820.5 L882.9,819.1 L882.9,817.9 L883.0,816.6 L883.0,815.6 L883.1,814.6 L883.2,813.8 L883.2,813.0 L883.3,812.5 L883.4,812.1 L883.5,812.0 L883.6,812.0 L883.7,812.3 L883.8,812.9 L883.9,813.6 L884.0,814.5 L884.1,815.5 L884.2,816.6 L884.3,817.9 L884.5,819.2 L884.6,820.5 L884.7,822.0 L884.8,823.4 L884.9,824.8 L885.0,826.2 L885.2,827.4 L885.3,828.7 L885.4,829.8 L885.6,830.9 L885.7,831.8 L885.8,832.5 L886.0,833.0 L886.7,834.2 L887.6,834.3 L888.4,833.5 L889.3,831.9 L890.0,830.0 L890.2,829.3 L890.4,828.4 L890.6,827.4 L890.7,826.1 L890.9,824.8 L891.1,823.5 L891.2,822.1 L891.4,820.7 L891.5,819.3 L891.7,818.0 L891.8,816.7 L892.0,815.5 L892.1,814.5 L892.3,813.7 L892.4,813.0 L892.6,812.6 L892.7,812.5 L892.8,812.6 L893.0,813.1 L893.1,813.8 L893.2,814.7 L893.3,815.7 L893.4,817.0 L893.5,818.3 L893.7,819.7 L893.8,821.1 L893.9,822.6 L894.0,824.0 L894.1,825.4 L894.3,826.6 L894.4,827.8 L894.6,828.8 L894.8,829.5 L895.0,830.0 L895.6,830.7 L896.1,830.6 L896.7,829.8 L897.5,828.6 L898.6,827.3 L900.0,826.0 L900.6,825.6 L901.2,825.1 L901.9,824.6 L902.6,824.1 L903.3,823.6 L904.1,823.1 L904.9,822.5 L905.7,822.0 L906.6,821.4 L907.5,820.7 L908.4,820.0 L909.3,819.4 L910.2,818.7 L911.2,818.0 L912.1,817.3 L913.1,816.6 L914.0,815.8 L915.0,815.0 L915.7,814.4 L916.4,813.8 L917.1,813.2 L917.9,812.6 L918.6,811.9 L919.4,811.3 L920.2,810.6 L921.0,809.9 L921.8,809.1 L922.6,808.4 L923.4,807.7 L924.3,807.0 L925.1,806.2 L925.9,805.5 L926.7,804.7 L927.5,804.0 L928.3,803.2 L929.1,802.5 L929.9,801.8 L930.6,801.1 L931.4,800.3 L932.1,799.7 L932.8,799.0 L933.4,798.3 L934.1,797.6 L934.7,797.0 L935.5,796.1 L936.3,795.3 L937.1,794.4 L937.8,793.6 L938.5,792.7 L939.1,791.9 L939.7,791.1 L940.3,790.3 L940.9,789.5 L941.5,788.7 L942.0,788.0 L942.6,787.2 L943.1,786.4 L943.7,785.5 L944.2,784.7 L944.8,783.8 L945.4,782.9 L946.0,782.0 L946.5,781.2 L947.0,780.4 L947.6,779.6 L948.1,778.8 L948.6,778.0 L949.1,777.2 L949.6,776.4 L950.1,775.5 L950.6,774.6 L951.2,773.8 L951.7,772.9 L952.2,772.1 L952.7,771.2 L953.2,770.3 L953.7,769.4 L954.2,768.5 L954.7,767.6 L955.2,766.7 L955.8,765.8 L956.3,764.9 L956.8,763.9 L957.2,763.1 L957.7,762.2 L958.1,761.3 L958.6,760.4 L959.0,759.5 L959.5,758.7 L959.9,757.8 L960.4,756.8 L960.8,755.9 L961.3,755.0 L961.7,754.1 L962.2,753.2 L962.6,752.3 L963.1,751.4 L963.5,750.4 L964.0,749.4 L964.4,748.5 L964.9,747.5 L965.3,746.6 L965.8,745.7 L966.2,744.8 L966.7,743.8 L967.1,742.9 L967.6,741.9 L968.0,741.0 L968.4,740.0 L968.9,739.1 L969.3,738.2 L969.8,737.2 L970.2,736.3 L970.7,735.3 L971.1,734.3 L971.5,733.3 L972.0,732.3 L972.4,731.3 L972.9,730.3 L973.3,729.3 L973.7,728.4 L974.2,727.4 L974.6,726.5 L975.0,725.5 L975.5,724.6 L975.9,723.6 L976.3,722.6 L976.7,721.7 L977.2,720.8 L977.6,719.9 L978.0,719.0 L978.4,718.2 L978.8,717.4 L979.3,716.3 L979.8,715.2 L980.3,714.2 L980.9,713.2 L981.4,712.2 L981.8,711.2 L982.3,710.3 L982.8,709.4 L983.3,708.4 L983.8,707.4 L984.3,706.5 L984.7,705.6 L985.2,704.8 L985.7,704.0 L986.1,703.2 L986.6,702.4 L987.1,701.6 L987.5,700.7 L988.0,700.0 L988.6,699.0 L989.2,698.1 L989.7,697.1 L990.3,696.1 L990.8,695.2 L991.3,694.2 L991.9,693.3 L992.4,692.5 L993.0,691.8 L993.6,691.1 L994.2,690.4 L994.9,689.7 L995.7,689.1 L996.5,688.7 L997.3,688.3 L998.3,688.0 L999.3,687.6 L1000.3,687.3 L1001.4,687.1 L1002.5,686.9 L1003.7,686.8 L1004.8,686.7 L1005.9,686.7 L1007.1,686.7 L1008.2,686.6 L1009.2,686.7 L1010.2,686.7 L1011.1,686.9 L1012.0,687.1 L1013.2,687.4 L1014.3,687.7 L1015.3,688.1 L1016.3,688.5 L1017.2,689.1 L1018.0,689.8 L1018.8,690.5 L1019.5,691.4 L1020.2,692.2 L1020.8,693.2 L1021.3,693.9 L1021.7,694.8 L1022.0,695.7 L1022.3,696.7 L1022.5,697.6 L1022.7,698.6 L1022.9,699.7 L1023.1,700.7 L1023.3,701.8 L1023.5,702.9 L1023.7,704.0 L1024.0,705.0 L1024.3,706.0 L1024.6,707.3 L1024.9,708.7 L1025.1,710.2 L1025.4,711.7 L1025.7,713.0 L1026.0,714.3 L1026.3,715.4 L1026.6,716.4 L1026.9,717.1 L1027.2,717.4 L1027.5,717.4 L1027.7,717.1 L1027.9,716.7 L1028.1,716.0 L1028.3,715.2 L1028.5,714.3 L1028.8,713.3 L1029.0,712.1 L1029.2,710.9 L1029.4,709.6 L1029.6,708.3 L1029.8,706.9 L1030.0,705.5 L1030.2,704.2 L1030.4,703.1 L1030.6,702.0 L1030.8,701.0 L1031.0,700.1 L1031.3,698.7 L1031.6,697.3 L1031.9,695.9 L1032.1,694.5 L1032.4,693.2 L1032.7,691.9 L1032.9,690.9 L1033.2,690.0 L1033.5,689.3 L1033.8,688.9 L1034.1,688.7 L1034.4,688.9 L1034.7,689.3 L1035.1,690.0 L1035.4,690.8 L1035.8,692.0 L1036.1,693.2 L1036.5,694.6 L1036.8,695.9 L1037.2,697.3 L1037.6,698.7 L1038.0,700.0 L1038.3,700.8 L1038.5,701.8 L1038.8,702.8 L1039.1,703.8 L1039.4,704.9 L1039.8,706.0 L1040.1,707.1 L1040.4,708.3 L1040.7,709.5 L1041.1,710.5 L1041.4,711.6 L1041.7,712.6 L1041.9,713.6 L1042.2,714.5 L1042.4,715.4 L1042.7,716.1 L1042.8,716.8 L1043.0,717.4" fill="none" stroke="#6cb84c" stroke-width="1.9" stroke-linejoin="round" stroke-linecap="round" />
<path d="M779.0,843.4 L779.5,843.3 L780.1,843.3 L780.7,843.2 L781.3,843.2 L782.0,843.2 L782.7,843.1 L783.4,843.1 L784.2,843.0 L784.9,843.0 L785.8,842.9 L786.6,842.8 L787.5,842.7 L788.4,842.7 L789.3,842.6 L790.3,842.6 L791.2,842.5 L792.2,842.4 L793.2,842.3 L794.3,842.1 L795.3,842.1 L796.4,842.0 L797.5,842.0 L798.6,841.8 L799.7,841.8 L800.8,841.7 L801.9,841.7 L803.1,841.6 L804.2,841.4 L805.4,841.3 L806.5,841.3 L807.7,841.2 L808.9,841.1 L810.1,841.0 L811.3,841.0 L812.4,840.9 L813.6,840.7 L814.8,840.6 L816.0,840.5 L817.2,840.4 L818.3,840.3 L819.5,840.2 L820.7,840.0 L821.8,839.9 L823.0,839.8 L824.1,839.7 L825.2,839.6 L826.3,839.6 L827.4,839.4 L828.5,839.3 L829.6,839.2 L830.6,839.1 L831.7,838.9 L832.7,838.9 L833.7,838.8 L834.7,838.7 L835.6,838.6 L836.5,838.5 L837.4,838.4 L838.3,838.3 L839.2,838.2 L840.0,838.0 L841.3,837.8 L842.6,837.7 L843.9,837.5 L845.1,837.3 L846.4,837.1 L847.6,836.8 L848.9,836.6 L850.1,836.3 L851.3,836.1 L852.5,835.9 L853.7,835.7 L854.9,835.5 L856.0,835.2 L857.2,835.0 L858.3,834.8 L859.4,834.5 L860.5,834.3 L861.5,834.0 L862.6,833.8 L863.6,833.5 L864.6,833.3 L865.6,833.1 L866.6,832.9 L867.5,832.7 L868.4,832.4 L869.3,832.2 L870.2,831.9 L871.0,831.7 L871.9,831.5 L872.7,831.4 L873.4,831.1 L874.2,830.9 L874.9,830.8 L875.6,830.6 L876.2,830.5 L876.8,830.3 L877.4,830.2 L878.0,830.0 L881.4,829.5 L882.1,829.6 L881.6,829.4 L881.6,827.9 L881.7,827.3 L881.9,826.5 L882.0,825.5 L882.1,824.3 L882.2,823.1 L882.3,821.8 L882.4,820.5 L882.5,819.2 L882.6,817.9 L882.7,816.6 L882.8,815.3 L882.9,814.1 L883.0,813.0 L883.1,812.0 L883.2,811.2 L883.3,810.6 L883.4,810.2 L883.5,810.0 L883.6,810.1 L883.8,810.5 L883.9,811.2 L884.0,812.0 L884.2,813.1 L884.3,814.4 L884.5,815.7 L884.6,817.1 L884.8,818.5 L884.9,820.0 L885.1,821.3 L885.3,822.6 L885.4,823.7 L885.6,824.7 L885.8,825.5 L886.0,826.0 L886.7,826.6 L887.5,826.1 L888.4,825.0 L889.2,823.5 L890.0,822.0 L890.3,821.2 L890.7,820.2 L891.0,819.0 L891.3,817.8 L891.6,816.5 L891.9,815.3 L892.2,814.2 L892.5,813.2 L892.7,812.4 L893.0,812.0 L893.5,812.2 L893.9,813.6 L894.3,815.2 L895.0,816.0 L895.6,816.1 L896.3,815.8 L897.1,815.3 L898.3,814.4 L900.0,813.0 L900.5,812.6 L901.1,812.1 L901.8,811.6 L902.4,811.0 L903.1,810.4 L903.8,809.7 L904.6,809.1 L905.4,808.4 L906.2,807.7 L907.0,807.0 L907.8,806.2 L908.7,805.5 L909.6,804.7 L910.5,803.9 L911.4,803.1 L912.3,802.4 L913.2,801.6 L914.1,800.8 L915.0,800.0 L915.7,799.5 L916.4,798.9 L917.2,798.2 L918.0,797.6 L918.8,797.0 L919.6,796.4 L920.4,795.7 L921.2,794.9 L922.1,794.3 L922.9,793.7 L923.8,793.1 L924.7,792.3 L925.5,791.7 L926.4,790.9 L927.2,790.3 L928.0,789.6 L928.9,789.0 L929.7,788.3 L930.5,787.7 L931.2,787.0 L932.0,786.2 L932.7,785.6 L933.4,785.0 L934.1,784.3 L934.7,783.7 L935.5,782.9 L936.2,782.1 L937.0,781.2 L937.6,780.4 L938.3,779.6 L938.9,778.8 L939.5,778.0 L940.1,777.3 L940.6,776.5 L941.2,775.7 L941.7,774.9 L942.2,774.0 L942.8,773.2 L943.3,772.4 L943.8,771.6 L944.3,770.7 L944.9,769.8 L945.4,768.8 L946.0,767.9 L946.5,767.1 L947.0,766.3 L947.5,765.5 L948.0,764.7 L948.5,763.8 L949.0,763.0 L949.5,762.1 L949.9,761.2 L950.4,760.3 L950.9,759.5 L951.4,758.6 L951.9,757.7 L952.4,756.8 L952.9,755.9 L953.4,754.9 L953.8,753.9 L954.3,753.0 L954.8,752.1 L955.3,751.2 L955.8,750.3 L956.3,749.4 L956.8,748.5 L957.3,747.6 L957.7,746.7 L958.2,745.8 L958.6,744.9 L959.1,744.1 L959.6,743.2 L960.0,742.3 L960.5,741.4 L961.0,740.6 L961.5,739.7 L961.9,738.8 L962.4,737.9 L962.9,737.1 L963.3,736.1 L963.8,735.2 L964.3,734.2 L964.8,733.4 L965.2,732.5 L965.7,731.6 L966.2,730.6 L966.6,729.7 L967.1,728.8 L967.5,727.9 L968.0,727.0 L968.4,726.1 L968.9,725.3 L969.3,724.4 L969.7,723.4 L970.2,722.5 L970.6,721.5 L971.0,720.5 L971.5,719.6 L971.9,718.6 L972.3,717.7 L972.8,716.7 L973.2,715.7 L973.6,714.7 L974.0,713.8 L974.5,712.9 L974.9,712.0 L975.3,711.1 L975.8,710.2 L976.2,709.2 L976.6,708.3 L977.1,707.4 L977.5,706.6 L977.9,705.8 L978.4,705.1 L978.8,704.2 L979.4,703.2 L980.0,702.1 L980.5,701.0 L981.1,700.0 L981.7,699.0 L982.3,697.9 L982.9,696.9 L983.5,695.9 L984.1,695.0 L984.7,694.0 L985.3,693.1 L985.9,692.2 L986.5,691.3 L987.0,690.6 L987.6,689.8 L988.2,689.2 L988.8,688.6 L989.3,688.1 L989.9,687.6 L991.0,686.9 L992.0,686.4 L993.1,686.1 L994.2,685.9 L995.3,686.0 L996.3,686.1 L997.3,686.4 L998.3,686.9 L999.2,687.4 L1000.0,688.0 L1000.6,688.5 L1001.1,689.1 L1001.7,689.9 L1002.1,690.7 L1002.6,691.5 L1003.0,692.5 L1003.5,693.5 L1003.9,694.5 L1004.3,695.5 L1004.7,696.5 L1005.1,697.7 L1005.5,698.8 L1006.0,700.0 L1006.3,700.9 L1006.7,701.8 L1007.0,702.7 L1007.3,703.6 L1007.6,704.6 L1007.9,705.6 L1008.2,706.7 L1008.6,707.7 L1008.9,708.7 L1009.2,709.8 L1009.5,710.7 L1009.9,711.7 L1010.2,712.7 L1010.5,713.7 L1010.9,714.7 L1011.2,715.6 L1011.6,716.5 L1012.0,717.3 L1012.5,718.4 L1013.1,719.4 L1013.6,720.5 L1014.2,721.3 L1014.8,722.2 L1015.4,723.0 L1016.0,723.9 L1016.6,724.8 L1017.2,725.6 L1017.8,726.5 L1018.4,727.3 L1018.9,728.2 L1019.5,729.0 L1020.0,729.9 L1020.5,730.9 L1020.9,732.0 L1021.4,733.1 L1021.8,734.2 L1022.2,735.3 L1022.6,736.4 L1023.0,737.5 L1023.4,738.6 L1023.8,739.7 L1024.2,740.7 L1024.6,741.7 L1025.0,742.5 L1025.3,743.2 L1025.7,743.7 L1026.0,744.1 L1026.7,744.2 L1027.3,743.5 L1027.8,742.4 L1028.4,741.1 L1028.9,739.7 L1029.4,738.6 L1030.0,738.0 L1030.9,737.4 L1031.7,737.1 L1032.7,737.6 L1034.1,739.4 L1034.4,740.0 L1034.8,740.7 L1035.2,741.6 L1035.6,742.4 L1036.1,743.4 L1036.6,744.4 L1037.0,745.5 L1037.5,746.6 L1038.0,747.8 L1038.6,749.0 L1039.1,750.1 L1039.6,751.3 L1040.0,752.4 L1040.5,753.5 L1041.0,754.6 L1041.4,755.7 L1041.8,756.6 L1042.2,757.5 L1042.5,758.2 L1042.8,758.9 L1043.0,759.4" fill="none" stroke="#62ac44" stroke-width="1.9" stroke-linejoin="round" stroke-linecap="round" />
<path d="M779.0,843.4 L779.5,843.3 L780.1,843.2 L780.7,843.1 L781.3,843.0 L782.0,842.9 L782.7,842.8 L783.5,842.7 L784.3,842.6 L785.1,842.4 L785.9,842.3 L786.8,842.1 L787.7,842.0 L788.7,841.9 L789.6,841.7 L790.6,841.6 L791.6,841.4 L792.6,841.2 L793.7,841.0 L794.7,840.8 L795.8,840.7 L796.9,840.5 L798.0,840.4 L799.1,840.1 L800.3,840.0 L801.4,839.8 L802.6,839.7 L803.7,839.4 L804.9,839.2 L806.1,839.0 L807.2,838.9 L808.4,838.6 L809.6,838.5 L810.8,838.3 L811.9,838.1 L813.1,837.8 L814.2,837.6 L815.4,837.4 L816.5,837.1 L817.7,836.9 L818.8,836.6 L819.9,836.4 L821.0,836.1 L822.1,835.9 L823.1,835.7 L824.2,835.5 L825.2,835.2 L826.2,835.0 L827.2,834.7 L828.2,834.5 L829.1,834.2 L830.0,834.0 L831.1,833.7 L832.1,833.4 L833.2,833.1 L834.3,832.8 L835.3,832.5 L836.4,832.1 L837.5,831.8 L838.5,831.4 L839.6,831.0 L840.6,830.6 L841.7,830.2 L842.8,829.8 L843.8,829.4 L844.9,829.1 L845.9,828.7 L846.9,828.2 L848.0,827.7 L849.0,827.3 L850.0,826.9 L851.0,826.5 L852.0,826.1 L853.0,825.7 L853.9,825.3 L854.9,824.9 L855.8,824.5 L856.8,824.0 L857.7,823.7 L858.6,823.2 L859.5,822.8 L860.3,822.4 L861.2,822.1 L862.0,821.7 L862.9,821.3 L863.7,821.0 L864.5,820.6 L865.2,820.2 L866.0,819.8 L866.7,819.5 L867.4,819.2 L868.1,818.9 L868.8,818.6 L869.4,818.3 L870.0,818.0 L871.9,817.1 L873.5,816.3 L874.8,815.5 L876.0,814.9 L877.0,814.2 L877.8,813.6 L878.6,813.0 L879.2,812.4 L879.7,812.0 L880.2,811.5 L880.7,811.1 L881.1,810.6 L881.6,810.2 L882.9,808.5 L883.0,808.0 L883.9,809.0 L885.0,810.0 L885.8,809.9 L886.7,809.2 L888.0,808.0 L888.6,807.5 L889.2,807.0 L889.8,806.4 L890.5,805.8 L891.2,805.2 L892.0,804.4 L892.9,803.5 L893.8,802.5 L894.9,801.4 L895.4,800.8 L896.0,800.2 L896.6,799.5 L897.2,798.9 L897.8,798.3 L898.5,797.6 L899.2,796.8 L899.8,796.1 L900.6,795.3 L901.3,794.5 L902.0,793.7 L902.7,792.9 L903.5,792.2 L904.2,791.3 L905.0,790.5 L905.7,789.6 L906.5,788.7 L907.2,787.8 L908.0,787.0 L908.6,786.3 L909.2,785.6 L909.9,784.9 L910.5,784.2 L911.2,783.4 L911.8,782.7 L912.5,781.9 L913.2,781.1 L913.9,780.3 L914.5,779.6 L915.2,778.8 L915.9,778.0 L916.6,777.2 L917.3,776.4 L917.9,775.7 L918.6,774.9 L919.3,774.1 L919.9,773.2 L920.6,772.4 L921.2,771.6 L921.8,770.8 L922.4,770.0 L923.0,769.1 L923.6,768.3 L924.2,767.4 L924.7,766.6 L925.3,765.7 L925.8,764.9 L926.4,764.1 L926.9,763.1 L927.4,762.3 L927.9,761.4 L928.4,760.5 L928.9,759.6 L929.4,758.8 L929.8,757.9 L930.3,757.1 L930.8,756.1 L931.3,755.3 L931.7,754.4 L932.2,753.5 L932.6,752.6 L933.1,751.7 L933.6,750.8 L934.0,749.8 L934.5,748.8 L935.0,748.0 L935.5,747.1 L935.9,746.3 L936.4,745.3 L936.8,744.4 L937.2,743.5 L937.7,742.6 L938.1,741.7 L938.6,740.8 L939.0,739.9 L939.4,739.1 L939.9,738.1 L940.3,737.1 L940.7,736.2 L941.2,735.4 L941.6,734.4 L942.0,733.5 L942.5,732.6 L942.9,731.7 L943.4,730.8 L943.8,729.8 L944.3,728.9 L944.8,728.1 L945.2,727.2 L945.7,726.3 L946.2,725.4 L946.7,724.5 L947.2,723.6 L947.7,722.6 L948.2,721.7 L948.7,720.8 L949.2,719.9 L949.7,719.0 L950.2,718.1 L950.7,717.1 L951.2,716.2 L951.8,715.3 L952.3,714.4 L952.8,713.5 L953.3,712.7 L953.9,711.8 L954.4,710.9 L954.9,710.0 L955.4,709.2 L955.9,708.3 L956.5,707.5 L957.0,706.7 L957.5,705.9 L958.0,705.1 L958.6,704.1 L959.1,703.1 L959.7,702.1 L960.3,701.2 L960.8,700.2 L961.3,699.2 L961.9,698.3 L962.4,697.4 L963.0,696.4 L963.5,695.5 L964.1,694.6 L964.6,693.7 L965.2,692.8 L965.8,692.0 L966.3,691.2 L966.9,690.5 L967.5,689.8 L968.1,689.2 L968.7,688.6 L969.4,688.1 L970.0,687.6 L970.9,687.1 L971.9,686.6 L973.0,686.1 L974.1,685.7 L975.2,685.5 L976.3,685.3 L977.4,685.2 L978.5,685.1 L979.6,685.1 L980.7,685.2 L981.8,685.4 L982.8,685.8 L983.7,686.1 L984.7,686.6 L985.5,687.1 L986.1,687.6 L986.7,688.1 L987.3,688.7 L987.8,689.5 L988.3,690.3 L988.8,691.2 L989.2,692.2 L989.7,693.1 L990.1,694.1 L990.5,695.1 L990.9,696.2 L991.4,697.3 L991.8,698.4 L992.2,699.5 L992.6,700.5 L993.0,701.4 L993.4,702.4 L993.8,703.3 L994.3,704.2 L994.8,705.2 L995.4,706.1 L995.9,707.0 L996.5,707.9 L997.0,708.7 L997.6,709.6 L998.1,710.4 L998.6,711.3 L999.2,712.1 L999.7,712.9 L1000.3,713.8 L1000.8,714.6 L1001.4,715.4 L1001.9,716.3 L1002.4,717.1 L1003.0,718.0 L1003.5,718.8 L1004.0,719.7 L1004.6,720.6 L1005.1,721.5 L1005.6,722.5 L1006.1,723.4 L1006.6,724.3 L1007.2,725.2 L1007.7,726.1 L1008.2,727.0 L1008.7,727.9 L1009.3,728.8 L1009.8,729.6 L1010.3,730.5 L1010.9,731.3 L1011.4,732.1 L1012.0,732.9 L1012.7,733.7 L1013.4,734.6 L1014.2,735.3 L1015.0,736.1 L1015.7,736.8 L1016.5,737.5 L1017.3,738.2 L1018.1,738.8 L1018.8,739.3 L1019.6,740.0 L1020.2,740.7 L1020.9,741.5 L1021.5,742.3 L1022.0,743.1 L1022.5,744.0 L1023.0,745.1 L1023.4,746.4 L1023.8,747.8 L1024.1,749.2 L1024.4,750.5 L1024.6,751.7 L1024.9,752.8 L1025.1,753.7 L1025.4,754.4 L1025.7,754.8 L1026.0,755.0 L1026.3,754.7 L1026.5,754.0 L1026.7,752.9 L1026.9,751.6 L1027.1,750.1 L1027.3,748.6 L1027.6,747.0 L1027.8,745.5 L1028.1,744.1 L1028.5,743.0 L1028.9,742.2 L1029.4,741.9 L1030.0,742.0 L1030.3,742.3 L1030.7,742.7 L1031.1,743.2 L1031.6,743.8 L1032.0,744.5 L1032.5,745.3 L1033.1,746.3 L1033.6,747.2 L1034.1,748.2 L1034.7,749.2 L1035.3,750.3 L1035.9,751.4 L1036.5,752.5 L1037.0,753.7 L1037.6,754.9 L1038.2,756.1 L1038.8,757.3 L1039.3,758.5 L1039.8,759.6 L1040.3,760.6 L1040.8,761.6 L1041.3,762.5 L1041.7,763.4 L1042.1,764.2 L1042.4,764.9 L1042.7,765.5 L1043.0,766.0" fill="none" stroke="#58a03c" stroke-width="1.9" stroke-linejoin="round" stroke-linecap="round" />
<path d="M779.0,842.3 L779.5,842.2 L780.1,842.1 L780.8,842.0 L781.4,841.9 L782.2,841.8 L783.0,841.7 L783.8,841.6 L784.7,841.5 L785.6,841.3 L786.5,841.1 L787.5,841.0 L788.5,840.8 L789.5,840.7 L790.6,840.5 L791.7,840.4 L792.8,840.2 L793.9,840.0 L795.0,839.7 L796.2,839.5 L797.3,839.4 L798.5,839.2 L799.7,839.0 L800.9,838.7 L802.0,838.6 L803.2,838.4 L804.4,838.2 L805.5,837.9 L806.7,837.7 L807.8,837.5 L808.9,837.3 L810.0,837.0 L810.9,836.9 L811.9,836.7 L812.8,836.5 L813.8,836.3 L814.7,836.1 L815.7,835.8 L816.7,835.6 L817.7,835.4 L818.7,835.1 L819.8,834.9 L820.8,834.6 L821.8,834.4 L822.9,834.2 L823.9,834.0 L825.0,833.8 L826.0,833.6 L827.0,833.3 L828.1,833.1 L829.1,832.8 L830.2,832.5 L831.2,832.3 L832.2,832.0 L833.3,831.8 L834.3,831.6 L835.3,831.3 L836.3,831.1 L837.3,830.8 L838.2,830.6 L839.2,830.3 L840.1,830.0 L841.1,829.7 L842.0,829.4 L842.9,829.1 L843.8,828.9 L844.6,828.6 L845.5,828.2 L846.3,827.9 L847.4,827.4 L848.6,827.0 L849.7,826.5 L850.8,826.1 L851.8,825.6 L852.9,825.1 L853.9,824.6 L854.9,824.1 L855.9,823.6 L856.9,823.1 L857.9,822.5 L858.8,822.0 L859.7,821.4 L860.6,820.9 L861.5,820.4 L862.4,819.9 L863.2,819.4 L864.1,818.8 L864.9,818.3 L865.7,817.7 L866.4,817.3 L867.2,816.8 L867.9,816.4 L868.6,815.9 L869.3,815.4 L870.0,815.0 L871.2,814.2 L872.3,813.5 L873.3,812.7 L874.3,812.0 L875.2,811.3 L876.0,810.5 L876.8,809.9 L877.5,809.2 L878.2,808.6 L878.8,808.0 L879.4,807.5 L880.0,806.9 L880.5,806.4 L881.0,806.0 L882.6,804.6 L883.2,804.1 L883.8,803.6 L884.9,802.6 L886.0,802.1 L886.8,803.5 L888.0,804.0 L888.3,803.6 L888.6,802.9 L889.0,802.2 L889.3,801.4 L889.7,800.5 L890.1,799.4 L890.6,798.3 L891.2,797.2 L891.9,796.0 L892.7,794.8 L893.2,794.1 L893.7,793.4 L894.2,792.8 L894.8,792.1 L895.4,791.3 L896.0,790.6 L896.7,789.8 L897.4,789.0 L898.0,788.2 L898.7,787.4 L899.5,786.7 L900.2,785.8 L900.9,785.0 L901.6,784.1 L902.3,783.3 L903.0,782.4 L903.7,781.7 L904.3,780.8 L905.0,780.0 L905.6,779.2 L906.2,778.5 L906.8,777.7 L907.4,777.0 L908.0,776.1 L908.7,775.3 L909.3,774.5 L909.9,773.8 L910.5,773.0 L911.1,772.2 L911.7,771.3 L912.3,770.5 L912.9,769.8 L913.5,768.9 L914.1,768.1 L914.7,767.3 L915.3,766.4 L915.8,765.6 L916.4,764.7 L917.0,763.8 L917.5,763.0 L918.1,762.1 L918.6,761.2 L919.2,760.4 L919.7,759.6 L920.2,758.7 L920.7,757.9 L921.3,756.9 L921.8,756.0 L922.3,755.1 L922.8,754.3 L923.3,753.3 L923.8,752.5 L924.4,751.6 L924.9,750.6 L925.4,749.7 L925.9,748.8 L926.4,747.9 L927.0,746.9 L927.5,746.0 L928.0,745.0 L928.5,744.2 L929.0,743.3 L929.4,742.3 L929.9,741.4 L930.4,740.5 L930.9,739.7 L931.4,738.7 L931.9,737.8 L932.3,736.8 L932.8,735.9 L933.3,734.9 L933.8,734.0 L934.3,733.1 L934.8,732.2 L935.2,731.2 L935.7,730.2 L936.2,729.4 L936.7,728.5 L937.2,727.6 L937.7,726.7 L938.1,725.8 L938.6,725.0 L939.1,724.1 L939.6,723.1 L940.1,722.2 L940.6,721.4 L941.2,720.5 L941.7,719.6 L942.2,718.7 L942.7,717.9 L943.2,717.0 L943.7,716.1 L944.2,715.3 L944.7,714.4 L945.2,713.6 L945.7,712.8 L946.2,711.9 L946.7,711.0 L947.2,710.2 L947.8,709.4 L948.3,708.5 L948.9,707.7 L949.4,706.8 L950.0,706.0 L950.6,705.1 L951.1,704.3 L951.7,703.4 L952.3,702.4 L952.9,701.5 L953.5,700.5 L954.2,699.6 L954.8,698.6 L955.4,697.7 L956.1,696.7 L956.7,695.7 L957.3,694.7 L958.0,693.8 L958.6,693.0 L959.2,692.1 L959.9,691.4 L960.5,690.6 L961.1,689.9 L961.7,689.2 L962.3,688.6 L962.8,688.1 L963.4,687.6 L964.5,686.8 L965.6,686.2 L966.6,685.8 L967.7,685.5 L968.7,685.4 L969.7,685.4 L970.7,685.5 L971.6,685.8 L972.6,686.1 L973.5,686.5 L974.4,686.9 L975.1,687.4 L975.7,688.1 L976.3,688.7 L976.9,689.4 L977.5,690.2 L978.1,691.1 L978.7,692.1 L979.3,693.1 L979.9,694.0 L980.4,695.1 L981.0,696.1 L981.6,697.1 L982.1,698.0 L982.7,698.9 L983.3,699.8 L983.9,700.7 L984.5,701.5 L985.0,702.4 L985.6,703.2 L986.2,704.0 L986.8,704.9 L987.4,705.7 L987.9,706.6 L988.5,707.6 L989.1,708.4 L989.7,709.3 L990.2,710.1 L990.8,711.1 L991.4,712.0 L992.0,713.0 L992.5,713.9 L993.0,714.8 L993.5,715.7 L994.1,716.6 L994.6,717.5 L995.1,718.5 L995.6,719.4 L996.1,720.4 L996.6,721.4 L997.1,722.4 L997.7,723.3 L998.2,724.3 L998.7,725.2 L999.3,726.1 L999.8,726.9 L1000.4,727.7 L1001.0,728.5 L1001.7,729.3 L1002.4,730.1 L1003.1,730.9 L1003.8,731.7 L1004.5,732.4 L1005.3,733.1 L1006.0,733.8 L1006.8,734.4 L1007.5,735.1 L1008.3,735.7 L1009.0,736.4 L1009.8,737.0 L1010.5,737.7 L1011.3,738.3 L1012.0,739.0 L1012.8,739.7 L1013.6,740.3 L1014.5,741.0 L1015.4,741.6 L1016.3,742.3 L1017.1,742.9 L1018.0,743.6 L1018.8,744.2 L1019.7,744.7 L1020.4,745.3 L1021.2,746.1 L1021.8,746.8 L1022.5,747.6 L1023.0,748.4 L1023.5,749.4 L1023.9,750.5 L1024.2,751.7 L1024.5,753.1 L1024.7,754.5 L1024.9,756.0 L1025.0,757.3 L1025.1,758.5 L1025.3,759.6 L1025.4,760.5 L1025.6,761.3 L1025.8,761.8 L1026.0,762.0 L1026.3,761.8 L1026.5,761.1 L1026.7,760.0 L1026.9,758.6 L1027.1,757.0 L1027.4,755.4 L1027.6,753.9 L1028.0,752.4 L1028.3,751.2 L1028.8,750.3 L1029.3,749.9 L1030.0,750.0 L1030.3,750.3 L1030.7,750.7 L1031.2,751.2 L1031.6,751.8 L1032.1,752.5 L1032.7,753.3 L1033.2,754.2 L1033.8,755.2 L1034.3,756.3 L1034.9,757.3 L1035.5,758.3 L1036.1,759.4 L1036.8,760.5 L1037.4,761.7 L1038.0,762.8 L1038.5,764.0 L1039.1,765.2 L1039.7,766.3 L1040.2,767.4 L1040.7,768.4 L1041.2,769.3 L1041.6,770.2 L1042.0,770.9 L1042.4,771.6 L1042.7,772.2 L1043.0,772.7" fill="none" stroke="#4c9034" stroke-width="1.9" stroke-linejoin="round" stroke-linecap="round" />
<path d="M779.0,827.9 L779.5,827.7 L780.1,827.5 L780.8,827.3 L781.5,827.1 L782.3,826.8 L783.1,826.6 L784.0,826.3 L785.0,826.0 L785.9,825.7 L786.9,825.4 L788.0,825.0 L789.1,824.6 L790.1,824.3 L791.2,823.9 L792.4,823.6 L793.5,823.2 L794.6,822.8 L795.7,822.4 L796.8,822.0 L797.9,821.7 L799.0,821.4 L800.0,821.0 L800.9,820.7 L801.9,820.4 L802.8,820.1 L803.8,819.8 L804.8,819.4 L805.8,819.1 L806.8,818.8 L807.8,818.5 L808.8,818.1 L809.9,817.8 L810.9,817.5 L811.9,817.2 L812.9,816.8 L814.0,816.5 L815.0,816.1 L816.0,815.7 L817.0,815.4 L817.9,815.0 L818.9,814.6 L819.8,814.2 L820.8,813.9 L821.7,813.5 L822.5,813.2 L823.4,812.8 L824.2,812.5 L825.3,812.0 L826.3,811.5 L827.3,811.0 L828.2,810.5 L829.2,810.0 L830.0,809.5 L830.9,809.0 L831.7,808.6 L832.5,808.1 L833.3,807.6 L834.1,807.1 L834.9,806.6 L835.7,806.0 L836.5,805.4 L837.4,804.8 L838.2,804.2 L839.1,803.7 L840.0,803.1 L840.8,802.5 L841.6,801.9 L842.4,801.3 L843.3,800.6 L844.1,800.0 L845.0,799.4 L845.8,798.8 L846.7,798.2 L847.6,797.5 L848.4,796.8 L849.3,796.1 L850.1,795.5 L851.0,794.8 L851.8,794.1 L852.6,793.5 L853.5,792.9 L854.3,792.3 L855.1,791.7 L855.8,791.1 L856.6,790.6 L857.3,790.0 L858.3,789.3 L859.3,788.5 L860.2,787.9 L861.1,787.2 L862.0,786.6 L862.9,786.0 L863.7,785.3 L864.6,784.8 L865.4,784.2 L866.2,783.6 L867.0,783.1 L867.8,782.6 L868.5,782.1 L869.3,781.5 L870.0,781.0 L871.1,780.3 L872.1,779.6 L873.2,778.9 L874.2,778.3 L875.1,777.6 L876.0,777.0 L876.9,776.4 L877.7,775.9 L878.4,775.5 L879.0,775.0 L880.4,774.1 L881.1,773.4 L881.6,772.7 L882.1,771.9 L882.5,770.9 L883.0,770.0 L883.6,769.4 L884.3,768.8 L885.1,768.1 L886.0,767.0 L886.5,766.4 L886.9,765.7 L887.4,764.9 L887.8,764.1 L888.4,763.2 L889.0,762.2 L889.7,761.2 L890.5,760.0 L891.0,759.3 L891.4,758.7 L891.9,758.0 L892.5,757.2 L893.0,756.4 L893.6,755.7 L894.1,755.0 L894.7,754.1 L895.4,753.3 L896.0,752.4 L896.6,751.6 L897.3,750.6 L898.0,749.8 L898.6,748.9 L899.3,748.0 L900.0,747.0 L900.5,746.3 L901.1,745.6 L901.6,744.8 L902.2,744.0 L902.8,743.2 L903.4,742.4 L904.0,741.6 L904.6,740.8 L905.2,740.0 L905.9,739.1 L906.5,738.3 L907.1,737.5 L907.7,736.6 L908.4,735.8 L909.0,734.9 L909.6,734.1 L910.2,733.3 L910.8,732.4 L911.4,731.6 L912.0,730.8 L912.6,730.0 L913.2,729.1 L913.9,728.2 L914.5,727.4 L915.1,726.6 L915.7,725.8 L916.3,724.9 L916.9,724.1 L917.5,723.2 L918.1,722.4 L918.7,721.6 L919.3,720.8 L919.9,720.0 L920.5,719.1 L921.1,718.3 L921.7,717.5 L922.3,716.6 L922.8,715.8 L923.4,714.9 L924.0,714.0 L924.6,713.2 L925.1,712.3 L925.7,711.3 L926.2,710.5 L926.8,709.6 L927.4,708.7 L927.9,707.7 L928.5,706.8 L929.1,705.8 L929.6,704.9 L930.2,704.0 L930.7,703.1 L931.2,702.2 L931.8,701.4 L932.3,700.6 L932.8,699.7 L933.3,699.0 L933.8,698.3 L934.2,697.6 L934.7,697.0 L935.6,695.9 L936.3,694.9 L937.0,694.0 L937.7,693.2 L938.4,692.6 L939.0,692.0 L939.7,691.5 L940.4,691.0 L941.2,690.5 L942.0,690.0 L942.9,689.5 L943.9,689.0 L944.8,688.6 L945.9,688.2 L946.9,687.9 L948.0,687.6 L949.1,687.4 L950.1,687.1 L951.2,687.0 L952.3,686.9 L953.3,686.9 L954.2,686.9 L955.2,686.9 L956.1,686.9 L957.0,686.9 L958.0,687.1 L959.0,687.3 L960.0,687.5 L961.1,687.9 L962.2,688.4 L963.4,689.1 L964.1,689.5 L964.8,689.9 L965.5,690.3 L966.3,690.8 L967.0,691.4 L967.8,692.0 L968.6,692.6 L969.5,693.3 L970.3,694.0 L971.1,694.7 L971.9,695.5 L972.7,696.2 L973.5,696.9 L974.4,697.6 L975.1,698.4 L975.9,699.1 L976.7,699.8 L977.4,700.5 L978.1,701.3 L978.8,702.0 L979.5,702.8 L980.2,703.6 L980.9,704.4 L981.6,705.2 L982.2,706.0 L982.9,706.8 L983.5,707.6 L984.1,708.5 L984.7,709.3 L985.3,710.1 L985.9,710.9 L986.4,711.8 L987.0,712.7 L987.6,713.6 L988.2,714.5 L988.8,715.4 L989.4,716.2 L990.0,717.1 L990.6,717.9 L991.2,718.7 L991.8,719.5 L992.4,720.4 L993.0,721.3 L993.6,722.2 L994.2,723.0 L994.7,723.9 L995.3,724.8 L995.9,725.7 L996.5,726.6 L997.1,727.5 L997.7,728.4 L998.3,729.2 L998.8,729.9 L999.4,730.7 L999.9,731.5 L1000.5,732.3 L1001.0,733.0 L1001.8,734.0 L1002.5,734.9 L1003.2,735.8 L1003.9,736.6 L1004.6,737.4 L1005.3,738.2 L1006.0,738.9 L1006.7,739.6 L1007.3,740.4 L1008.0,741.1 L1008.7,741.8 L1009.3,742.4 L1010.0,743.0 L1010.8,743.7 L1011.6,744.4 L1012.5,745.1 L1013.3,745.7 L1014.2,746.3 L1015.0,746.9 L1015.8,747.5 L1016.6,748.1 L1017.3,748.7 L1018.0,749.3 L1018.6,750.0 L1019.3,750.8 L1019.9,751.6 L1020.4,752.5 L1020.9,753.3 L1021.3,754.2 L1021.8,755.1 L1022.2,756.0 L1022.6,757.0 L1023.0,758.0 L1023.4,759.0 L1023.7,760.4 L1024.1,761.8 L1024.4,763.3 L1024.8,764.8 L1025.1,766.1 L1025.4,767.1 L1025.7,767.8 L1026.1,768.1 L1026.4,768.0 L1026.6,767.6 L1026.7,767.1 L1026.9,766.4 L1027.0,765.5 L1027.2,764.4 L1027.3,763.3 L1027.5,762.1 L1027.6,760.9 L1027.8,759.5 L1027.9,758.1 L1028.1,756.8 L1028.2,755.4 L1028.4,754.0 L1028.6,752.8 L1028.7,751.6 L1028.9,750.6 L1029.1,749.7 L1029.3,748.9 L1029.5,748.3 L1029.7,748.0 L1030.1,747.7 L1030.6,747.9 L1031.1,748.3 L1031.5,749.1 L1032.1,750.1 L1032.6,751.3 L1033.1,752.7 L1033.7,754.2 L1034.4,755.6 L1035.0,757.0 L1035.4,757.8 L1035.8,758.6 L1036.2,759.5 L1036.6,760.5 L1037.1,761.6 L1037.6,762.7 L1038.1,763.8 L1038.6,764.9 L1039.1,765.9 L1039.6,767.1 L1040.1,768.2 L1040.5,769.2 L1041.0,770.3 L1041.4,771.3 L1041.8,772.3 L1042.2,773.1 L1042.5,773.9 L1042.8,774.5 L1043.0,775.1" fill="none" stroke="#3e7e2c" stroke-width="1.9" stroke-linejoin="round" stroke-linecap="round" />
<path d="M779.0,834.5 L779.5,834.3 L780.2,834.1 L780.9,833.9 L781.6,833.7 L782.5,833.5 L783.4,833.2 L784.3,833.0 L785.3,832.7 L786.4,832.4 L787.4,832.0 L788.5,831.7 L789.7,831.3 L790.8,831.0 L792.0,830.6 L793.2,830.3 L794.3,829.9 L795.5,829.5 L796.6,829.1 L797.8,828.7 L798.9,828.4 L800.0,828.0 L800.9,827.7 L801.9,827.3 L802.8,827.1 L803.8,826.8 L804.8,826.5 L805.8,826.1 L806.8,825.7 L807.8,825.3 L808.8,825.0 L809.9,824.6 L810.9,824.3 L811.9,824.0 L812.9,823.6 L814.0,823.3 L815.0,822.9 L816.0,822.5 L817.0,822.1 L817.9,821.7 L818.9,821.3 L819.8,820.9 L820.8,820.5 L821.7,820.1 L822.5,819.8 L823.4,819.5 L824.2,819.1 L825.3,818.6 L826.3,818.1 L827.3,817.7 L828.2,817.1 L829.2,816.7 L830.0,816.2 L830.9,815.7 L831.7,815.3 L832.5,814.9 L833.3,814.4 L834.1,813.9 L834.9,813.4 L835.7,812.9 L836.5,812.4 L837.4,811.8 L838.2,811.2 L839.1,810.6 L840.0,810.1 L840.8,809.5 L841.6,809.0 L842.4,808.3 L843.3,807.7 L844.1,807.0 L845.0,806.4 L845.8,805.8 L846.7,805.2 L847.6,804.5 L848.4,803.8 L849.3,803.2 L850.1,802.5 L851.0,801.8 L851.8,801.2 L852.6,800.5 L853.5,799.9 L854.3,799.2 L855.1,798.7 L855.8,798.1 L856.6,797.6 L857.3,797.1 L858.3,796.3 L859.3,795.6 L860.2,794.9 L861.1,794.2 L862.0,793.6 L862.9,793.0 L863.7,792.4 L864.6,791.8 L865.4,791.3 L866.2,790.7 L867.0,790.2 L867.8,789.6 L868.5,789.1 L869.3,788.6 L870.0,788.0 L871.0,787.3 L871.9,786.6 L872.9,785.8 L873.8,785.1 L874.7,784.4 L875.6,783.7 L876.4,783.0 L877.1,782.5 L877.8,781.9 L878.4,781.5 L879.0,781.0 L880.4,780.2 L881.1,779.9 L881.6,779.3 L882.0,778.4 L882.3,777.3 L882.6,776.1 L883.0,775.0 L883.5,774.3 L884.0,773.6 L884.6,772.8 L885.3,772.0 L886.0,771.0 L886.5,770.3 L886.9,769.5 L887.4,768.8 L887.8,768.0 L888.4,767.1 L889.0,766.1 L889.7,765.0 L890.5,763.8 L891.0,763.1 L891.4,762.4 L891.9,761.6 L892.5,760.9 L893.0,760.1 L893.6,759.3 L894.1,758.4 L894.7,757.5 L895.4,756.6 L896.0,755.7 L896.6,754.8 L897.3,753.8 L898.0,752.9 L898.6,751.9 L899.3,751.0 L900.0,750.0 L900.5,749.3 L901.1,748.5 L901.6,747.7 L902.2,746.9 L902.8,746.2 L903.4,745.4 L904.0,744.5 L904.6,743.7 L905.2,742.8 L905.9,742.1 L906.5,741.2 L907.1,740.4 L907.7,739.5 L908.4,738.6 L909.0,737.8 L909.6,737.0 L910.2,736.2 L910.8,735.3 L911.4,734.5 L912.0,733.7 L912.6,732.9 L913.2,732.0 L913.9,731.2 L914.5,730.4 L915.1,729.5 L915.7,728.7 L916.3,727.8 L916.9,727.1 L917.5,726.2 L918.1,725.5 L918.7,724.7 L919.3,723.9 L919.9,723.0 L920.5,722.2 L921.1,721.4 L921.7,720.5 L922.3,719.7 L922.8,718.8 L923.4,718.0 L924.0,717.0 L924.5,716.1 L925.1,715.3 L925.6,714.4 L926.1,713.5 L926.7,712.6 L927.2,711.6 L927.7,710.6 L928.3,709.7 L928.8,708.7 L929.3,707.8 L929.9,706.9 L930.4,706.0 L930.9,705.0 L931.4,704.0 L931.9,703.2 L932.4,702.3 L932.9,701.5 L933.4,700.7 L933.8,700.0 L934.3,699.4 L934.7,698.7 L935.6,697.4 L936.3,696.4 L937.0,695.5 L937.7,694.7 L938.4,694.0 L939.0,693.3 L939.7,692.7 L940.4,692.1 L941.2,691.5 L942.0,691.0 L942.8,690.4 L943.7,690.0 L944.6,689.4 L945.5,688.9 L946.4,688.4 L947.4,688.1 L948.4,687.7 L949.4,687.5 L950.3,687.2 L951.3,687.1 L952.3,687.0 L953.3,687.0 L954.2,686.9 L955.2,687.0 L956.1,687.0 L957.0,687.2 L958.0,687.4 L959.0,687.7 L960.0,688.1 L961.1,688.6 L962.2,689.1 L963.4,689.8 L964.0,690.2 L964.7,690.7 L965.4,691.2 L966.1,691.8 L966.9,692.4 L967.6,693.1 L968.4,693.7 L969.1,694.4 L969.9,695.1 L970.7,695.8 L971.5,696.6 L972.3,697.3 L973.0,698.1 L973.8,698.8 L974.6,699.7 L975.3,700.4 L976.1,701.2 L976.8,702.0 L977.5,702.8 L978.2,703.5 L978.8,704.2 L979.5,704.9 L980.2,705.8 L980.8,706.6 L981.4,707.4 L982.1,708.2 L982.7,709.0 L983.2,709.8 L983.8,710.7 L984.4,711.6 L985.0,712.4 L985.5,713.3 L986.1,714.1 L986.6,714.9 L987.2,715.7 L987.7,716.5 L988.3,717.4 L988.9,718.3 L989.4,719.1 L990.0,720.0 L990.6,720.8 L991.1,721.7 L991.7,722.5 L992.2,723.4 L992.8,724.4 L993.4,725.3 L993.9,726.3 L994.5,727.2 L995.1,728.0 L995.6,729.0 L996.2,729.9 L996.8,730.8 L997.3,731.8 L997.9,732.7 L998.4,733.5 L998.9,734.3 L999.5,735.1 L1000.0,735.9 L1000.5,736.6 L1001.0,737.3 L1001.8,738.3 L1002.5,739.3 L1003.2,740.1 L1003.9,741.0 L1004.6,741.7 L1005.3,742.4 L1006.0,743.1 L1006.7,743.7 L1007.3,744.4 L1008.0,745.0 L1008.7,745.7 L1009.3,746.3 L1010.0,747.0 L1010.8,747.8 L1011.6,748.6 L1012.5,749.3 L1013.3,750.0 L1014.2,750.7 L1015.0,751.4 L1015.8,752.1 L1016.6,752.8 L1017.3,753.5 L1018.0,754.3 L1018.6,755.0 L1019.3,755.8 L1019.9,756.7 L1020.4,757.6 L1020.9,758.5 L1021.3,759.3 L1021.8,760.2 L1022.2,761.2 L1022.6,762.1 L1023.0,763.0 L1023.4,763.9 L1023.7,765.3 L1024.1,766.7 L1024.4,768.3 L1024.8,769.8 L1025.1,771.1 L1025.4,772.1 L1025.7,772.7 L1026.1,773.0 L1026.4,772.7 L1026.6,772.4 L1026.7,771.9 L1026.8,771.1 L1027.0,770.2 L1027.1,769.2 L1027.3,768.1 L1027.4,766.9 L1027.5,765.7 L1027.7,764.4 L1027.8,763.0 L1027.9,761.7 L1028.1,760.3 L1028.2,758.9 L1028.4,757.7 L1028.5,756.5 L1028.7,755.2 L1028.8,754.1 L1029.0,753.1 L1029.1,752.3 L1029.3,751.6 L1029.5,751.0 L1029.7,750.6 L1030.1,750.3 L1030.6,750.3 L1031.1,750.8 L1031.5,751.6 L1032.1,752.7 L1032.6,754.1 L1033.1,755.6 L1033.7,757.0 L1034.4,758.5 L1035.0,759.9 L1035.3,760.7 L1035.7,761.5 L1036.1,762.5 L1036.6,763.5 L1037.0,764.6 L1037.5,765.7 L1037.9,766.8 L1038.4,768.0 L1038.9,769.2 L1039.3,770.3 L1039.8,771.4 L1040.2,772.5 L1040.7,773.5 L1041.1,774.6 L1041.5,775.6 L1041.9,776.5 L1042.2,777.4 L1042.5,778.1 L1042.8,778.7 L1043.0,779.2" fill="none" stroke="#346e26" stroke-width="1.9" stroke-linejoin="round" stroke-linecap="round" />
</g>
<rect x="779.30" y="654.20" width="264.30" height="200.70" fill="none" stroke="#1a1a1a" stroke-width="2" />
<line x1="779.30" y1="854.90" x2="779.30" y2="858.40" stroke="#1a1a1a" stroke-width="1.5" />
<line x1="808.60" y1="854.90" x2="808.60" y2="857.40" stroke="#1a1a1a" stroke-width="1.5" />
<line x1="837.90" y1="854.90" x2="837.90" y2="858.40" stroke="#1a1a1a" stroke-width="1.5" />
<line x1="867.20" y1="854.90" x2="867.20" y2="857.40" stroke="#1a1a1a" stroke-width="1.5" />
<line x1="896.50" y1="854.90" x2="896.50" y2="858.40" stroke="#1a1a1a" stroke-width="1.5" />
<line x1="925.80" y1="854.90" x2="925.80" y2="857.40" stroke="#1a1a1a" stroke-width="1.5" />
<line x1="955.10" y1="854.90" x2="955.10" y2="858.40" stroke="#1a1a1a" stroke-width="1.5" />
<line x1="984.40" y1="854.90" x2="984.40" y2="857.40" stroke="#1a1a1a" stroke-width="1.5" />
<line x1="1013.70" y1="854.90" x2="1013.70" y2="858.40" stroke="#1a1a1a" stroke-width="1.5" />
<line x1="1043.00" y1="854.90" x2="1043.00" y2="857.40" stroke="#1a1a1a" stroke-width="1.5" />
<rect x="946.00" y="673.60" width="92.00" height="3.40" fill="url(#k_arrow)" stroke="none" stroke-width="1" />
<polygon points="938.0,675.3 950.0,669.8 950.0,680.8" fill="#4a8a32" stroke="none" stroke-width="1" />
<text x="782.69" y="671.14" font-size="16.75" font-weight="normal" font-style="normal" fill="#7cc35a" textLength="104.34" lengthAdjust="spacingAndGlyphs" >Ratios of P : In</text>
<line x1="784.00" y1="683.20" x2="806.90" y2="683.20" stroke="#86c866" stroke-width="2.2" />
<text x="811.28" y="686.95" font-size="15.11" font-weight="normal" font-style="normal" fill="#88c868" textLength="30.78" lengthAdjust="spacingAndGlyphs" >0.05</text>
<line x1="784.00" y1="703.00" x2="806.90" y2="703.00" stroke="#6cb84c" stroke-width="2.2" />
<text x="811.29" y="706.75" font-size="15.11" font-weight="normal" font-style="normal" fill="#78b858" textLength="21.88" lengthAdjust="spacingAndGlyphs" >0.1</text>
<line x1="784.00" y1="722.80" x2="806.90" y2="722.80" stroke="#62ac44" stroke-width="2.2" />
<text x="811.28" y="726.55" font-size="15.11" font-weight="normal" font-style="normal" fill="#6aa84c" textLength="21.91" lengthAdjust="spacingAndGlyphs" >0.2</text>
<line x1="784.00" y1="742.60" x2="806.90" y2="742.60" stroke="#58a03c" stroke-width="2.2" />
<text x="811.29" y="746.35" font-size="15.11" font-weight="normal" font-style="normal" fill="#609c44" textLength="21.80" lengthAdjust="spacingAndGlyphs" >0.3</text>
<line x1="784.00" y1="762.40" x2="806.90" y2="762.40" stroke="#4c9034" stroke-width="2.2" />
<text x="811.29" y="766.15" font-size="15.11" font-weight="normal" font-style="normal" fill="#5a8c40" textLength="21.56" lengthAdjust="spacingAndGlyphs" >0.4</text>
<line x1="784.00" y1="782.20" x2="806.90" y2="782.20" stroke="#3e7e2c" stroke-width="2.2" />
<text x="811.29" y="785.95" font-size="15.11" font-weight="normal" font-style="normal" fill="#587c44" textLength="21.77" lengthAdjust="spacingAndGlyphs" >0.5</text>
<line x1="784.00" y1="802.00" x2="806.90" y2="802.00" stroke="#346e26" stroke-width="2.2" />
<text x="811.29" y="805.75" font-size="15.11" font-weight="normal" font-style="normal" fill="#4e6c3e" textLength="21.80" lengthAdjust="spacingAndGlyphs" >0.6</text>
<text x="757.05" y="878.04" font-size="16.81" font-weight="normal" font-style="normal" fill="#1a1a1a" textLength="43.62" lengthAdjust="spacingAndGlyphs" >4000</text>
<text x="815.45" y="878.04" font-size="16.81" font-weight="normal" font-style="normal" fill="#1a1a1a" textLength="43.82" lengthAdjust="spacingAndGlyphs" >3400</text>
<text x="873.80" y="878.04" font-size="16.81" font-weight="normal" font-style="normal" fill="#1a1a1a" textLength="44.17" lengthAdjust="spacingAndGlyphs" >2800</text>
<text x="932.50" y="878.04" font-size="16.81" font-weight="normal" font-style="normal" fill="#1a1a1a" textLength="44.17" lengthAdjust="spacingAndGlyphs" >2200</text>
<text x="992.33" y="878.04" font-size="16.81" font-weight="normal" font-style="normal" fill="#1a1a1a" textLength="42.92" lengthAdjust="spacingAndGlyphs" >1600</text>
<text x="821.51" y="897.01" font-size="19.75" font-weight="normal" font-style="normal" fill="#1a1a1a" textLength="154.78" lengthAdjust="spacingAndGlyphs" >Wavenumber (cm</text>
<text x="978.55" y="889.00" font-size="9.30" font-weight="normal" font-style="normal" fill="#1a1a1a" textLength="8.94" lengthAdjust="spacingAndGlyphs" >-1</text>
<text x="989.37" y="898.47" font-size="21.90" font-weight="normal" font-style="normal" fill="#1a1a1a" textLength="7.54" lengthAdjust="spacingAndGlyphs" >)</text>
<text transform="translate(770.89,836.58) rotate(-90)" x="0" y="0" font-size="19.86" font-weight="normal" font-style="normal" fill="#1a1a1a" textLength="164.26" lengthAdjust="spacingAndGlyphs" >Extinction (Norm.)</text>
<path d="M1172.2,850.5 L1172.6,850.5 L1173.0,850.5 L1173.5,850.5 L1174.0,850.5 L1174.4,850.6 L1174.9,850.7 L1175.5,850.7 L1176.0,850.8 L1176.6,850.7 L1177.1,850.6 L1177.7,850.4 L1178.3,850.2 L1178.9,850.2 L1179.6,850.2 L1180.2,850.2 L1180.9,850.4 L1181.5,850.5 L1182.2,850.7 L1182.9,850.6 L1183.7,850.5 L1184.4,850.4 L1185.1,850.3 L1185.9,850.3 L1186.6,850.2 L1187.4,850.2 L1188.2,850.3 L1189.0,850.2 L1189.8,850.2 L1190.6,850.1 L1191.4,850.0 L1192.3,850.0 L1193.1,850.2 L1194.0,850.4 L1194.8,850.6 L1195.7,850.7 L1196.6,850.7 L1197.5,850.6 L1198.3,850.5 L1199.2,850.5 L1200.1,850.4 L1201.0,850.3 L1201.9,850.1 L1202.9,850.1 L1203.8,850.1 L1204.7,850.1 L1205.6,849.9 L1206.6,849.9 L1207.5,850.3 L1208.4,850.4 L1209.4,850.2 L1210.3,850.0 L1211.3,849.9 L1212.2,849.9 L1213.2,850.3 L1214.1,850.7 L1215.1,850.4 L1216.0,850.0 L1217.0,850.3 L1217.9,850.6 L1218.9,850.6 L1219.8,850.4 L1220.7,850.3 L1221.7,850.4 L1222.6,850.4 L1223.6,850.3 L1224.5,850.2 L1225.4,849.9 L1226.3,849.8 L1227.3,850.0 L1228.2,850.3 L1229.1,850.1 L1230.0,849.8 L1230.9,849.8 L1231.8,849.9 L1232.7,849.9 L1233.6,849.7 L1234.5,849.6 L1235.3,849.6 L1236.2,849.5 L1237.0,849.7 L1237.9,849.8 L1238.7,849.8 L1239.5,849.6 L1240.4,849.5 L1241.2,849.7 L1242.0,849.8 L1242.8,850.0 L1243.5,850.2 L1244.3,850.4 L1245.1,850.5 L1245.8,850.6 L1246.5,850.5 L1247.3,850.2 L1248.0,850.0 L1248.7,849.8 L1249.3,849.7 L1250.0,849.6 L1251.0,849.6 L1252.0,849.8 L1253.0,849.7 L1254.0,849.5 L1255.0,849.6 L1255.9,849.7 L1256.9,849.8 L1257.8,850.1 L1258.7,850.2 L1259.6,850.2 L1260.5,850.1 L1261.4,849.8 L1262.2,849.5 L1263.1,849.8 L1263.9,850.0 L1264.8,850.1 L1265.6,850.0 L1266.4,850.0 L1267.2,850.0 L1268.0,850.0 L1268.8,849.9 L1269.6,849.8 L1270.4,849.8 L1271.1,849.9 L1271.9,850.0 L1272.7,850.0 L1273.4,849.9 L1274.2,849.8 L1274.9,850.0 L1275.7,850.3 L1276.4,850.5 L1277.2,850.5 L1277.9,850.5 L1278.6,850.5 L1279.4,850.5 L1280.1,850.5 L1280.8,850.4 L1281.6,850.3 L1282.3,850.3 L1283.0,850.6 L1283.7,850.8 L1284.5,850.9 L1285.2,850.6 L1285.9,850.4 L1286.7,850.2 L1287.4,850.2 L1288.2,850.1 L1288.9,850.2 L1289.7,850.3 L1290.4,850.4 L1291.2,850.7 L1292.0,850.9 L1292.7,850.8 L1293.5,850.4 L1294.3,850.1 L1295.1,850.4 L1295.9,850.7 L1296.7,850.9 L1297.5,851.0 L1298.3,851.0 L1299.2,851.0 L1300.0,850.9 L1300.8,850.8 L1301.6,850.6 L1302.4,850.4 L1303.2,850.4 L1304.0,850.4 L1304.8,850.6 L1305.7,850.8 L1306.5,850.9 L1307.4,850.8 L1308.3,850.7 L1309.2,850.8 L1310.0,850.8 L1310.9,850.5 L1311.8,850.2 L1312.7,850.2 L1313.7,850.4 L1314.6,850.6 L1315.5,850.7 L1316.4,850.6 L1317.3,850.4 L1318.3,850.1 L1319.2,850.1 L1320.1,850.1 L1321.1,850.4 L1322.0,850.7 L1322.9,850.7 L1323.9,850.5 L1324.8,850.4 L1325.7,850.3 L1326.6,850.3 L1327.6,850.3 L1328.5,850.3 L1329.4,850.1 L1330.3,850.0 L1331.2,850.0 L1332.1,850.0 L1333.0,849.9 L1333.9,849.8 L1334.8,849.9 L1335.7,850.0 L1336.5,850.1 L1337.4,849.9 L1338.2,849.8 L1339.1,850.1 L1339.9,850.5 L1340.7,850.6 L1341.5,850.6 L1342.3,850.6 L1343.1,850.4 L1343.9,850.2 L1344.6,850.0 L1345.4,849.8 L1346.1,849.5 L1346.8,849.7 L1347.5,849.9 L1348.2,850.0 L1348.9,849.8 L1349.5,849.6 L1350.2,849.4 L1350.8,849.5 L1351.4,849.5 L1352.0,849.5 L1352.5,849.5 L1353.1,849.4 L1353.6,849.3 L1354.1,849.1 L1354.5,849.2 L1355.0,849.2 L1358.0,848.8 L1359.8,848.8 L1360.6,848.8 L1360.8,848.6 L1360.5,848.2 L1360.1,847.5 L1359.8,846.5 L1360.0,845.2 L1360.1,844.8 L1360.2,844.4 L1360.3,843.7 L1360.4,842.9 L1360.5,842.0 L1360.6,841.3 L1360.7,840.6 L1360.8,839.9 L1360.9,839.0 L1360.9,838.0 L1361.0,837.0 L1361.1,836.0 L1361.2,834.7 L1361.2,833.5 L1361.3,832.5 L1361.4,831.5 L1361.4,830.5 L1361.5,829.6 L1361.6,828.8 L1361.6,828.1 L1361.7,827.1 L1361.7,826.0 L1361.8,825.3 L1361.9,824.7 L1361.9,823.9 L1362.0,822.6 L1362.1,821.5 L1362.1,820.7 L1362.2,820.0 L1362.3,819.3 L1362.3,818.9 L1362.4,818.5 L1362.5,818.2 L1362.9,816.2 L1363.3,814.3 L1363.7,813.3 L1364.1,812.9 L1364.5,812.8 L1364.8,812.8 L1365.2,812.8 L1365.6,812.8 L1366.0,812.9 L1366.4,813.3 L1366.7,814.3 L1367.1,816.1 L1367.5,818.3 L1367.6,818.9 L1367.6,819.5 L1367.7,820.1 L1367.8,820.6 L1367.8,821.2 L1367.9,821.8 L1367.9,822.7 L1368.0,823.7 L1368.1,824.6 L1368.1,825.2 L1368.2,825.9 L1368.2,826.7 L1368.3,827.5 L1368.4,828.4 L1368.4,829.2 L1368.5,830.5 L1368.5,831.9 L1368.6,832.9 L1368.7,833.7 L1368.7,834.6 L1368.8,835.6 L1368.9,836.6 L1369.0,837.8 L1369.0,838.7 L1369.1,839.4 L1369.2,840.1 L1369.3,840.7 L1369.3,841.4 L1369.4,842.3 L1369.5,843.1 L1369.6,844.0 L1369.7,844.7 L1369.8,845.4 L1369.9,846.0 L1370.0,846.4 L1370.3,847.3 L1370.4,848.9 L1370.4,849.9 L1370.5,850.2 L1370.8,850.2 L1371.6,849.9 L1372.9,849.6 L1375.0,849.7 L1375.5,849.9 L1376.0,850.0 L1376.6,850.2 L1377.2,850.3 L1377.9,850.5 L1378.6,850.6 L1379.3,850.5 L1380.1,850.4 L1380.9,850.3 L1381.7,850.2 L1382.5,850.2 L1383.4,850.5 L1384.3,850.8 L1385.2,850.5 L1386.1,850.1 L1387.1,850.4 L1388.0,850.7 L1389.0,850.7 L1390.0,850.5 L1391.0,850.6 L1391.9,850.7 L1392.9,850.8 L1393.9,850.7 L1394.9,850.6 L1395.9,850.5 L1396.8,850.4 L1397.8,850.4 L1398.7,850.5 L1399.7,850.8 L1400.6,851.0 L1401.5,850.8 L1402.4,850.6 L1403.2,850.5 L1404.1,850.4 L1404.9,850.5 L1405.6,850.6 L1406.4,850.7 L1407.1,850.8 L1407.7,850.8 L1408.4,850.9 L1409.0,850.6 L1409.5,850.4 L1410.0,850.1 L1412.2,850.3 L1413.6,849.9 L1414.5,849.7 L1415.1,849.7 L1415.3,849.5 L1415.5,849.3 L1415.6,848.8 L1416.0,847.9 L1416.4,847.0 L1416.7,846.2 L1416.9,845.7 L1417.1,844.7 L1417.2,843.5 L1417.4,842.4 L1417.5,841.4 L1417.7,840.7 L1417.8,840.2 L1418.0,840.0 L1418.1,840.2 L1418.2,840.8 L1418.2,841.5 L1418.1,842.3 L1418.1,843.5 L1418.2,844.8 L1418.4,845.6 L1418.7,846.5 L1419.2,847.3 L1420.0,847.8 L1420.5,848.0 L1421.1,848.1 L1421.8,848.2 L1422.6,848.2 L1423.4,848.1 L1424.3,847.9 L1425.3,847.6 L1426.2,847.3 L1427.2,847.2 L1428.2,847.2 L1429.2,847.0 L1430.2,846.9 L1431.2,846.6 L1432.1,846.2 L1433.0,845.6 L1433.8,845.0 L1434.5,845.0 L1435.2,845.1 L1435.7,845.1 L1436.2,844.9" fill="none" stroke="#f07818" stroke-width="1.5" stroke-linejoin="round" stroke-linecap="round" />
<path d="M1172.2,831.7 L1172.6,831.7 L1173.0,831.8 L1173.5,831.8 L1173.9,831.9 L1174.4,831.9 L1174.8,832.0 L1175.3,832.1 L1175.8,832.2 L1176.3,832.3 L1176.8,832.2 L1177.3,832.1 L1177.9,832.0 L1178.4,831.9 L1179.0,831.9 L1179.5,832.0 L1180.1,832.0 L1180.7,832.2 L1181.3,832.4 L1181.9,832.5 L1182.5,832.6 L1183.1,832.6 L1183.8,832.5 L1184.4,832.5 L1185.1,832.5 L1185.7,832.5 L1186.4,832.5 L1187.1,832.6 L1187.8,832.7 L1188.5,832.7 L1189.2,832.7 L1190.0,832.8 L1190.7,832.7 L1191.4,832.7 L1192.2,832.7 L1193.0,833.0 L1193.7,833.3 L1194.5,833.5 L1195.3,833.7 L1196.1,833.8 L1196.9,833.8 L1197.7,833.8 L1198.6,833.8 L1199.4,833.8 L1200.2,833.8 L1201.1,833.7 L1202.0,833.6 L1202.8,833.7 L1203.7,833.8 L1204.6,833.8 L1205.5,833.7 L1206.4,833.7 L1207.3,834.1 L1208.2,834.4 L1209.1,834.2 L1210.1,834.1 L1211.0,834.1 L1211.9,834.1 L1212.9,834.5 L1213.9,835.0 L1214.8,834.9 L1215.8,834.5 L1216.8,834.7 L1217.8,835.2 L1218.8,835.2 L1219.8,835.0 L1220.8,835.1 L1221.8,835.2 L1222.8,835.2 L1223.8,835.2 L1224.9,835.0 L1225.9,834.8 L1227.0,835.1 L1228.0,835.5 L1229.1,835.3 L1230.2,835.1 L1231.2,835.2 L1232.3,835.3 L1233.4,835.2 L1234.5,835.1 L1235.6,835.1 L1236.7,835.2 L1237.8,835.4 L1238.9,835.4 L1239.5,835.3 L1240.2,835.2 L1240.8,835.4 L1241.5,835.5 L1242.1,835.7 L1242.8,835.9 L1243.5,836.1 L1244.2,836.3 L1244.9,836.4 L1245.6,836.5 L1246.3,836.5 L1247.1,836.3 L1247.8,836.1 L1248.6,835.9 L1249.3,835.8 L1250.1,835.7 L1250.8,835.8 L1251.6,836.0 L1252.4,836.0 L1253.2,835.9 L1254.0,835.8 L1254.8,835.9 L1255.6,836.0 L1256.4,836.2 L1257.2,836.5 L1258.1,836.7 L1258.9,836.7 L1259.7,836.8 L1260.6,836.6 L1261.4,836.4 L1262.3,836.3 L1263.1,836.5 L1264.0,836.8 L1264.9,836.8 L1265.8,836.8 L1266.6,836.9 L1267.5,836.9 L1268.4,836.9 L1269.3,836.8 L1270.2,836.7 L1271.1,836.9 L1272.0,837.1 L1272.9,837.0 L1273.8,836.9 L1274.8,837.1 L1275.7,837.5 L1276.6,837.7 L1277.5,837.7 L1278.4,837.7 L1279.4,837.7 L1280.3,837.7 L1281.2,837.7 L1282.2,837.6 L1283.1,838.0 L1284.0,838.3 L1285.0,838.0 L1285.9,837.8 L1286.9,837.7 L1287.8,837.6 L1288.8,837.7 L1289.7,837.9 L1290.6,838.1 L1291.6,838.5 L1292.5,838.4 L1293.5,838.0 L1294.4,838.0 L1295.4,838.4 L1296.3,838.7 L1297.3,838.8 L1298.2,838.9 L1299.2,838.9 L1300.1,838.9 L1301.0,838.7 L1302.0,838.5 L1302.9,838.5 L1303.9,838.6 L1304.8,838.8 L1305.7,839.1 L1306.7,839.1 L1307.6,839.1 L1308.5,839.1 L1309.4,839.2 L1310.4,839.1 L1311.3,838.8 L1312.2,838.6 L1313.1,838.9 L1314.0,839.1 L1314.9,839.2 L1315.8,839.3 L1316.7,839.1 L1317.6,838.9 L1318.5,838.8 L1319.4,838.8 L1320.3,838.9 L1321.2,839.3 L1322.0,839.6 L1322.9,839.5 L1323.8,839.4 L1324.6,839.3 L1325.5,839.2 L1326.3,839.2 L1327.2,839.3 L1328.0,839.3 L1328.8,839.2 L1329.7,839.1 L1330.5,839.1 L1331.3,839.1 L1332.1,839.1 L1332.9,839.0 L1333.7,839.0 L1334.5,839.0 L1335.3,839.2 L1336.0,839.3 L1336.8,839.2 L1337.6,839.1 L1338.3,839.1 L1339.0,839.5 L1339.8,839.8 L1340.5,839.9 L1341.2,839.9 L1341.9,839.9 L1342.6,839.8 L1343.3,839.6 L1344.0,839.5 L1344.7,839.3 L1345.3,839.0 L1346.0,838.8 L1346.6,839.0 L1347.3,839.2 L1347.9,839.4 L1348.5,839.2 L1349.1,839.0 L1349.7,838.9 L1350.3,838.8 L1350.9,838.8 L1351.4,838.9 L1352.0,838.9 L1352.5,838.8 L1353.1,838.7 L1353.6,838.6 L1354.1,838.5 L1354.6,838.6 L1355.1,838.6 L1355.5,838.7 L1356.0,838.7 L1356.4,838.6 L1356.9,838.4 L1357.3,838.3 L1359.8,837.9 L1361.8,837.4 L1363.5,837.0 L1364.9,836.7 L1365.9,836.0 L1366.7,835.0 L1367.2,834.1 L1367.4,833.3 L1367.5,832.3 L1367.3,831.3 L1367.1,830.2 L1366.6,829.0 L1366.1,827.7 L1365.6,826.4 L1365.0,825.4 L1364.4,824.5 L1363.8,823.6 L1363.2,822.9 L1362.7,822.3 L1362.3,821.7 L1362.0,820.9 L1361.9,820.3 L1362.0,819.8 L1363.1,818.3 L1364.1,817.9 L1365.0,819.6 L1365.1,820.0 L1365.2,820.8 L1365.2,821.6 L1365.2,822.6 L1365.1,823.4 L1365.0,824.2 L1365.0,824.9 L1364.9,825.6 L1364.8,826.5 L1364.7,827.7 L1364.7,828.8 L1364.7,829.9 L1364.7,831.1 L1364.8,832.3 L1364.9,833.3 L1365.1,834.2 L1365.4,835.1 L1365.7,835.9 L1366.1,836.7 L1366.6,837.2 L1367.3,837.6 L1368.0,838.2 L1368.5,838.6 L1369.0,838.9 L1369.5,839.0 L1370.1,839.0 L1370.7,839.0 L1371.4,839.0 L1372.0,839.0 L1372.8,839.0 L1373.5,839.0 L1374.3,839.0 L1375.1,839.0 L1375.9,839.4 L1376.8,839.8 L1377.6,839.9 L1378.5,839.8 L1379.4,839.7 L1380.3,839.7 L1381.2,839.7 L1382.1,839.9 L1383.1,840.0 L1384.0,839.8 L1384.9,839.6 L1385.9,839.3 L1386.8,839.1 L1387.8,839.1 L1388.7,839.3 L1389.6,839.4 L1390.5,839.5 L1391.4,839.4 L1392.3,838.9 L1393.2,838.5 L1394.0,838.9 L1394.9,839.2 L1395.7,839.1 L1396.5,838.8 L1397.2,838.5 L1398.0,838.4 L1398.7,838.2 L1399.4,838.2 L1400.0,838.4 L1401.1,838.6 L1402.2,838.8 L1403.3,839.0 L1404.3,838.8 L1405.4,838.7 L1406.4,838.7 L1407.3,838.7 L1408.3,839.0 L1409.2,839.3 L1410.1,839.0 L1410.9,838.7 L1411.7,838.9 L1412.5,839.1 L1413.3,839.3 L1414.0,839.1 L1414.7,838.9 L1415.3,838.8 L1415.9,838.8 L1416.5,838.7 L1417.0,838.6 L1417.5,838.4 L1418.0,838.1 L1418.6,837.5 L1419.0,836.7 L1419.4,835.7 L1419.6,834.7 L1419.7,833.6 L1419.8,832.8 L1419.8,832.1 L1419.8,830.9 L1419.7,829.6 L1419.6,828.5 L1419.5,827.5 L1419.5,826.9 L1419.4,826.4 L1419.4,826.1 L1419.5,826.0 L1419.6,826.2 L1419.6,826.6 L1419.6,827.2 L1419.5,828.0 L1419.5,828.8 L1419.4,829.4 L1419.4,830.2 L1419.4,831.6 L1419.4,832.7 L1419.5,833.6 L1419.6,834.8 L1419.8,836.1 L1420.1,836.9 L1420.5,837.2 L1421.0,837.5 L1421.5,838.0 L1422.1,838.6 L1422.8,839.1 L1423.6,839.2 L1424.4,839.1 L1425.3,839.1 L1426.2,839.1 L1427.2,839.1 L1428.2,839.1 L1429.2,839.0 L1430.2,838.8 L1431.1,838.7 L1432.1,838.7 L1432.9,838.7 L1433.8,838.5 L1434.5,838.3 L1435.2,838.3 L1435.7,838.3 L1436.2,838.4" fill="none" stroke="#f06060" stroke-width="1.5" stroke-linejoin="round" stroke-linecap="round" />
<path d="M1172.2,818.9 L1172.6,818.9 L1173.1,819.0 L1173.5,819.0 L1174.0,819.1 L1174.5,819.2 L1175.0,819.3 L1175.6,819.4 L1176.2,819.5 L1176.8,819.4 L1177.4,819.3 L1178.0,819.1 L1178.7,819.1 L1179.3,819.2 L1180.0,819.2 L1180.7,819.4 L1181.4,819.6 L1182.2,819.8 L1182.9,819.8 L1183.7,819.7 L1184.5,819.7 L1185.2,819.7 L1186.0,819.7 L1186.9,819.7 L1187.7,819.8 L1188.5,819.9 L1189.4,819.9 L1190.2,819.9 L1191.1,819.9 L1192.0,819.8 L1192.9,820.1 L1193.8,820.4 L1194.7,820.6 L1195.6,820.8 L1196.5,820.9 L1197.5,820.9 L1198.4,820.9 L1199.3,820.9 L1200.3,820.9 L1201.2,820.8 L1202.2,820.7 L1203.1,820.8 L1204.1,820.9 L1205.0,820.8 L1206.0,820.7 L1206.9,821.0 L1207.9,821.4 L1208.8,821.4 L1209.8,821.2 L1210.8,821.2 L1211.7,821.2 L1212.7,821.5 L1213.6,821.9 L1214.5,822.0 L1215.5,821.7 L1216.4,821.7 L1217.4,822.1 L1218.3,822.4 L1219.2,822.2 L1219.9,822.1 L1220.6,822.2 L1221.4,822.3 L1222.1,822.4 L1222.8,822.4 L1223.5,822.3 L1224.2,822.3 L1225.0,822.1 L1225.7,822.0 L1226.4,822.0 L1227.2,822.3 L1227.9,822.6 L1228.6,822.5 L1229.4,822.4 L1230.1,822.2 L1230.8,822.3 L1231.6,822.4 L1232.3,822.5 L1233.1,822.4 L1233.8,822.3 L1234.5,822.3 L1235.3,822.3 L1236.0,822.3 L1236.8,822.4 L1237.6,822.6 L1238.3,822.7 L1239.1,822.6 L1239.8,822.5 L1240.6,822.6 L1241.4,822.8 L1242.1,823.0 L1242.9,823.3 L1243.7,823.5 L1244.5,823.7 L1245.2,823.8 L1246.0,823.9 L1246.8,823.7 L1247.6,823.5 L1248.4,823.3 L1249.2,823.2 L1250.0,823.1 L1250.8,823.2 L1251.6,823.3 L1252.4,823.4 L1253.2,823.3 L1254.0,823.2 L1254.8,823.3 L1255.7,823.4 L1256.5,823.6 L1257.3,823.8 L1258.1,824.0 L1259.0,824.1 L1259.8,824.1 L1260.7,823.9 L1261.5,823.7 L1262.4,823.6 L1263.2,823.9 L1264.1,824.2 L1264.9,824.2 L1265.8,824.2 L1266.7,824.2 L1267.5,824.2 L1268.4,824.2 L1269.3,824.1 L1270.2,824.0 L1271.1,824.2 L1272.0,824.4 L1272.9,824.3 L1273.8,824.2 L1274.7,824.4 L1275.6,824.8 L1276.5,824.9 L1277.5,825.0 L1278.4,825.0 L1279.1,825.0 L1279.8,825.0 L1280.6,825.0 L1281.3,824.9 L1282.1,824.9 L1282.8,825.2 L1283.6,825.5 L1284.4,825.6 L1285.2,825.4 L1286.0,825.1 L1286.8,825.1 L1287.6,825.1 L1288.4,825.2 L1289.3,825.4 L1290.1,825.5 L1291.0,825.9 L1291.8,826.3 L1292.7,826.1 L1293.6,825.8 L1294.4,825.8 L1295.3,826.3 L1296.2,826.6 L1297.1,826.8 L1298.0,827.0 L1298.9,827.0 L1299.8,827.1 L1300.7,827.0 L1301.6,826.9 L1302.6,826.9 L1303.5,827.0 L1304.4,827.2 L1305.3,827.5 L1306.3,827.7 L1307.2,827.8 L1308.1,827.8 L1309.1,828.0 L1310.0,828.1 L1310.9,827.8 L1311.9,827.6 L1312.8,827.9 L1313.7,828.2 L1314.7,828.4 L1315.6,828.6 L1316.5,828.5 L1317.5,828.3 L1318.4,828.3 L1319.3,828.3 L1320.3,828.6 L1321.2,829.0 L1322.1,829.3 L1323.0,829.2 L1324.0,829.2 L1324.9,829.1 L1325.8,829.1 L1326.7,829.2 L1327.6,829.3 L1328.5,829.3 L1329.4,829.3 L1330.2,829.3 L1331.1,829.3 L1332.0,829.3 L1332.9,829.3 L1333.7,829.3 L1334.6,829.4 L1335.4,829.6 L1336.2,829.7 L1337.1,829.6 L1337.9,829.5 L1338.7,829.9 L1339.5,830.3 L1340.3,830.4 L1341.1,830.4 L1341.9,830.5 L1342.6,830.3 L1343.4,830.1 L1344.1,829.9 L1344.9,829.6 L1345.6,829.4 L1346.3,829.5 L1347.0,829.6 L1347.7,829.8 L1348.4,829.6 L1349.0,829.4 L1349.7,829.1 L1350.3,829.1 L1351.0,829.1 L1351.6,829.1 L1352.2,829.0 L1352.8,828.8 L1353.3,828.6 L1353.9,828.4 L1354.4,828.4 L1354.9,828.4 L1355.4,828.4 L1355.9,828.2 L1356.4,827.9 L1356.9,827.7 L1357.3,827.4 L1358.2,827.0 L1359.0,826.6 L1359.7,826.2 L1360.4,825.6 L1361.0,825.0 L1361.6,824.5 L1362.1,823.9 L1362.6,823.4 L1363.0,822.9 L1363.4,822.0 L1363.7,820.9 L1364.0,820.0 L1364.3,819.2 L1364.5,818.4 L1364.7,817.4 L1364.8,816.4 L1364.9,815.3 L1365.0,814.1 L1365.0,812.8 L1365.1,811.6 L1365.1,810.5 L1365.0,809.5 L1365.0,808.5 L1364.9,807.6 L1364.8,806.8 L1364.7,805.8 L1364.6,804.7 L1364.5,803.9 L1364.4,803.2 L1364.3,802.1 L1364.1,800.7 L1364.0,799.6 L1363.9,798.6 L1363.7,797.8 L1363.6,797.2 L1363.5,796.6 L1363.3,795.8 L1363.2,795.0 L1363.1,794.1 L1363.0,793.2 L1363.0,792.3 L1362.9,791.7 L1362.9,791.3 L1362.9,790.9 L1362.9,790.5 L1362.9,790.2 L1363.0,789.8 L1363.3,789.0 L1363.5,788.6 L1363.8,788.7 L1363.9,789.3 L1364.1,790.2 L1364.2,791.3 L1364.4,792.5 L1364.5,794.0 L1364.6,795.5 L1364.7,796.9 L1364.8,798.9 L1365.0,800.1 L1365.0,800.5 L1365.1,801.1 L1365.1,801.7 L1365.0,802.4 L1365.0,803.1 L1364.9,803.8 L1364.9,805.0 L1364.8,806.2 L1364.7,807.2 L1364.6,808.1 L1364.5,809.0 L1364.4,809.9 L1364.3,810.9 L1364.2,812.1 L1364.2,813.2 L1364.1,814.0 L1364.0,814.8 L1364.0,815.6 L1364.0,816.5 L1364.0,817.6 L1364.0,818.8 L1364.0,819.8 L1364.1,820.8 L1364.2,821.3 L1364.4,821.8 L1364.5,822.7 L1364.7,823.8 L1365.0,824.8 L1365.3,825.2 L1365.7,825.6 L1366.0,826.0 L1366.5,826.3 L1367.0,826.6 L1367.4,826.8 L1367.9,827.2 L1368.5,827.6 L1369.1,828.0 L1369.7,828.3 L1370.3,828.5 L1371.0,828.8 L1371.7,828.8 L1372.5,828.8 L1373.2,828.7 L1374.0,828.6 L1374.8,828.5 L1375.7,828.6 L1376.5,828.8 L1377.4,828.9 L1378.3,828.5 L1379.2,828.0 L1380.2,828.3 L1381.1,828.5 L1382.0,828.3 L1383.0,828.0 L1383.9,828.0 L1384.9,828.0 L1385.8,827.8 L1386.8,827.7 L1387.7,827.4 L1388.7,827.1 L1389.6,826.9 L1390.5,826.7 L1391.4,826.7 L1392.3,826.9 L1393.2,827.0 L1394.0,826.7 L1394.9,826.4 L1395.7,826.2 L1396.5,826.1 L1397.2,825.9 L1398.0,826.0 L1398.7,826.1 L1399.4,826.2 L1400.0,826.2 L1401.1,826.3 L1402.3,825.9 L1403.3,825.6 L1404.4,826.0 L1405.4,826.1 L1406.4,826.1 L1407.4,826.2 L1408.3,826.7 L1409.3,826.9 L1410.1,826.7 L1411.0,826.4 L1411.8,826.8 L1412.6,827.3 L1413.3,827.5 L1414.0,827.4 L1414.7,827.3 L1415.3,827.1 L1415.9,827.0 L1416.5,826.8 L1417.0,826.6 L1417.5,826.4 L1418.0,826.0 L1418.4,825.6 L1418.8,824.9 L1419.1,824.0 L1419.4,823.1 L1419.5,822.2 L1419.7,821.3 L1419.7,820.0 L1419.8,818.9 L1419.8,817.9 L1419.8,816.9 L1419.7,816.0 L1419.7,815.0 L1419.6,814.0 L1419.6,813.0 L1419.5,812.0 L1419.5,811.2 L1419.4,810.8 L1419.4,810.4 L1419.4,810.2 L1419.5,810.1 L1419.6,810.2 L1419.6,810.5 L1419.6,811.0 L1419.6,811.7 L1419.6,812.5 L1419.5,813.3 L1419.5,814.3 L1419.4,815.0 L1419.4,815.5 L1419.4,816.7 L1419.4,818.2 L1419.4,819.1 L1419.5,820.0 L1419.5,821.5 L1419.7,822.8 L1419.8,823.6 L1420.0,824.3 L1420.3,825.0 L1420.6,825.5 L1421.0,825.9 L1421.5,826.3 L1422.1,826.6 L1422.8,826.9 L1423.6,826.9 L1424.4,826.9 L1425.3,826.8 L1426.2,826.5 L1427.2,826.5 L1428.2,826.7 L1429.2,826.6 L1430.2,825.9 L1431.1,825.4 L1432.1,825.1 L1432.9,825.0 L1433.8,824.9 L1434.5,824.8 L1435.2,824.7 L1435.7,824.5 L1436.2,824.4" fill="none" stroke="#e060b0" stroke-width="1.5" stroke-linejoin="round" stroke-linecap="round" />
<path d="M1172.2,813.0 L1172.6,813.0 L1173.1,813.1 L1173.5,813.1 L1174.0,813.2 L1174.5,813.3 L1175.0,813.4 L1175.6,813.5 L1176.2,813.6 L1176.8,813.5 L1177.4,813.4 L1178.0,813.2 L1178.7,813.2 L1179.3,813.2 L1180.0,813.3 L1180.7,813.4 L1181.4,813.6 L1182.2,813.9 L1182.9,813.8 L1183.7,813.8 L1184.5,813.7 L1185.2,813.7 L1186.0,813.7 L1186.9,813.8 L1187.7,813.9 L1188.5,813.9 L1189.4,813.9 L1190.2,813.9 L1191.1,813.9 L1192.0,813.9 L1192.9,814.1 L1193.8,814.4 L1194.7,814.7 L1195.6,814.9 L1196.5,815.0 L1197.5,814.9 L1198.4,814.9 L1199.3,814.9 L1200.3,814.9 L1201.2,814.8 L1202.2,814.7 L1203.1,814.8 L1204.1,814.9 L1205.0,814.9 L1206.0,814.7 L1206.9,815.1 L1207.9,815.5 L1208.8,815.4 L1209.8,815.2 L1210.8,815.2 L1211.7,815.3 L1212.7,815.5 L1213.6,816.0 L1214.5,816.1 L1215.5,815.8 L1216.4,815.7 L1217.4,816.2 L1218.3,816.5 L1219.2,816.3 L1219.9,816.2 L1220.6,816.3 L1221.4,816.4 L1222.1,816.5 L1222.8,816.5 L1223.5,816.5 L1224.3,816.5 L1225.0,816.3 L1225.7,816.2 L1226.4,816.2 L1227.2,816.5 L1227.9,816.8 L1228.7,816.8 L1229.4,816.6 L1230.1,816.5 L1230.9,816.6 L1231.6,816.7 L1232.4,816.8 L1233.1,816.7 L1233.9,816.7 L1234.6,816.7 L1235.4,816.7 L1236.1,816.7 L1236.9,816.9 L1237.6,817.1 L1238.4,817.2 L1239.2,817.1 L1239.9,817.0 L1240.7,817.2 L1241.5,817.4 L1242.2,817.6 L1243.0,817.9 L1243.8,818.2 L1244.6,818.4 L1245.4,818.5 L1246.2,818.6 L1247.0,818.3 L1247.7,818.1 L1248.5,818.0 L1249.3,817.9 L1250.1,817.8 L1250.9,818.0 L1251.7,818.2 L1252.6,818.2 L1253.4,818.1 L1254.2,818.1 L1255.0,818.2 L1255.8,818.3 L1256.7,818.6 L1257.5,818.8 L1258.3,819.0 L1259.1,819.1 L1260.0,819.1 L1260.8,818.9 L1261.7,818.6 L1262.5,818.7 L1263.4,819.0 L1264.2,819.2 L1265.1,819.2 L1265.9,819.2 L1266.8,819.3 L1267.7,819.3 L1268.5,819.3 L1269.4,819.2 L1270.3,819.2 L1271.2,819.3 L1272.1,819.5 L1273.0,819.4 L1273.9,819.3 L1274.8,819.6 L1275.7,819.9 L1276.6,820.0 L1277.5,820.1 L1278.4,820.1 L1279.1,820.1 L1279.9,820.1 L1280.6,820.1 L1281.4,820.0 L1282.1,820.0 L1282.9,820.3 L1283.7,820.5 L1284.5,820.5 L1285.3,820.2 L1286.1,820.0 L1286.9,820.0 L1287.8,819.9 L1288.6,820.0 L1289.4,820.1 L1290.3,820.3 L1291.2,820.6 L1292.0,820.9 L1292.9,820.5 L1293.8,820.1 L1294.7,820.3 L1295.6,820.7 L1296.5,820.9 L1297.4,821.1 L1298.3,821.1 L1299.2,821.1 L1300.1,821.1 L1301.1,820.9 L1302.0,820.7 L1302.9,820.7 L1303.8,820.7 L1304.8,821.0 L1305.7,821.2 L1306.7,821.3 L1307.6,821.2 L1308.5,821.2 L1309.5,821.3 L1310.4,821.2 L1311.4,820.9 L1312.3,820.8 L1313.3,821.0 L1314.2,821.3 L1315.1,821.4 L1316.1,821.4 L1317.0,821.1 L1317.9,820.9 L1318.9,820.9 L1319.8,820.9 L1320.7,821.2 L1321.7,821.6 L1322.6,821.6 L1323.5,821.5 L1324.4,821.4 L1325.3,821.3 L1326.2,821.3 L1327.1,821.3 L1328.0,821.4 L1328.9,821.3 L1329.8,821.2 L1330.6,821.2 L1331.5,821.2 L1332.4,821.1 L1333.2,821.1 L1334.1,821.0 L1334.9,821.2 L1335.7,821.3 L1336.5,821.3 L1337.4,821.2 L1338.2,821.2 L1338.9,821.5 L1339.7,821.9 L1340.5,822.0 L1341.3,822.0 L1342.0,822.0 L1342.7,821.9 L1343.5,821.7 L1344.2,821.5 L1344.9,821.3 L1345.6,821.1 L1346.2,821.0 L1346.9,821.2 L1347.5,821.4 L1348.2,821.4 L1348.8,821.3 L1349.4,821.1 L1350.0,820.9 L1350.6,821.0 L1351.1,821.0 L1351.7,821.1 L1352.2,821.0 L1352.7,820.9 L1353.2,820.8 L1353.7,820.7 L1354.1,820.7 L1354.6,820.7 L1355.0,820.8 L1358.0,820.0 L1359.9,819.5 L1360.9,818.5 L1361.2,817.5 L1361.0,816.5 L1360.3,815.7 L1359.4,814.8 L1358.5,813.6 L1357.6,812.9 L1357.1,812.5 L1357.0,812.3 L1357.2,812.5 L1357.4,813.0 L1357.5,813.7 L1357.7,814.6 L1357.9,815.5 L1358.1,816.4 L1358.3,817.2 L1358.4,818.2 L1358.6,819.1 L1358.8,820.0 L1359.0,820.5 L1360.1,823.1 L1361.2,820.7 L1361.3,820.5 L1361.3,820.1 L1361.4,819.7 L1361.4,819.1 L1361.5,818.1 L1361.6,817.0 L1361.6,816.1 L1361.7,815.2 L1361.7,814.4 L1361.8,813.8 L1361.8,813.1 L1361.9,812.1 L1362.0,811.1 L1362.0,809.7 L1362.1,808.4 L1362.1,807.6 L1362.2,806.8 L1362.2,805.8 L1362.3,804.9 L1362.3,804.1 L1362.4,803.4 L1362.4,802.4 L1362.5,801.5 L1362.5,800.6 L1362.6,799.8 L1362.7,799.0 L1362.7,798.1 L1362.8,797.2 L1362.8,796.7 L1362.9,796.3 L1362.9,795.9 L1363.0,795.5 L1364.0,791.6 L1365.0,794.9 L1365.0,795.5 L1365.1,796.3 L1365.1,796.9 L1365.0,797.5 L1365.0,798.1 L1364.9,798.8 L1364.9,799.6 L1364.8,800.5 L1364.7,801.6 L1364.6,802.7 L1364.5,803.4 L1364.4,804.2 L1364.3,805.0 L1364.2,805.8 L1364.1,807.0 L1364.1,808.3 L1364.0,809.4 L1364.0,810.6 L1364.0,811.2 L1364.0,811.7 L1364.0,813.1 L1364.1,814.5 L1364.2,815.2 L1364.3,815.8 L1364.5,816.4 L1364.7,817.1 L1365.0,817.7 L1365.3,818.6 L1365.6,819.4 L1366.0,820.1 L1366.5,820.8 L1367.0,821.3 L1367.4,821.6 L1367.9,821.7 L1368.5,821.9 L1369.0,822.0 L1369.7,822.1 L1370.3,822.1 L1371.0,822.1 L1371.7,822.4 L1372.4,822.7 L1373.2,822.9 L1374.0,822.6 L1374.8,822.3 L1375.7,822.4 L1376.5,822.7 L1377.4,822.8 L1378.3,822.5 L1379.2,822.4 L1380.1,822.4 L1381.0,822.5 L1382.0,822.3 L1382.9,822.1 L1383.9,821.9 L1384.8,821.7 L1385.8,821.5 L1386.7,821.3 L1387.6,821.4 L1388.6,821.6 L1389.5,821.5 L1390.4,821.2 L1391.3,820.9 L1392.2,820.7 L1393.1,820.5 L1394.0,820.6 L1394.8,820.6 L1395.6,820.6 L1396.4,820.6 L1397.2,820.4 L1397.9,820.0 L1398.7,819.7 L1399.3,819.7 L1400.0,819.8 L1401.1,819.9 L1402.2,819.6 L1403.3,819.7 L1404.4,820.1 L1405.4,820.0 L1406.4,819.6 L1407.4,819.7 L1408.4,820.2 L1409.3,820.4 L1410.2,820.3 L1411.1,820.2 L1411.9,820.2 L1412.7,820.2 L1413.5,820.1 L1414.3,820.1 L1415.0,820.1 L1415.7,819.9 L1416.3,819.7 L1416.9,819.5 L1417.5,819.4 L1418.0,819.3 L1418.5,819.2 L1419.0,818.9 L1419.7,818.2 L1420.1,817.3 L1420.5,816.4 L1420.6,815.5 L1420.7,814.5 L1420.7,813.5 L1420.6,812.3 L1420.4,811.1 L1420.3,809.9 L1420.1,809.1 L1420.0,808.6 L1420.0,808.2 L1420.0,808.1 L1420.0,808.3 L1420.0,808.8 L1419.9,809.5 L1419.8,810.5 L1419.7,811.5 L1419.6,812.5 L1419.6,813.2 L1419.6,814.2 L1419.6,815.7 L1419.8,816.7 L1420.1,817.4 L1420.5,818.3 L1421.0,819.1 L1421.5,819.5 L1422.1,819.7 L1422.8,819.7 L1423.5,819.7 L1424.4,819.6 L1425.3,819.5 L1426.2,819.4 L1427.2,819.4 L1428.2,819.3 L1429.2,819.1 L1430.1,818.8 L1431.1,818.5 L1432.0,818.4 L1432.9,818.7 L1433.7,818.7 L1434.5,818.1 L1435.2,817.7 L1435.7,817.4 L1436.2,817.4" fill="none" stroke="#c040e0" stroke-width="1.5" stroke-linejoin="round" stroke-linecap="round" />
<path d="M1172.2,801.2 L1172.6,801.3 L1173.0,801.4 L1173.5,801.4 L1174.0,801.5 L1174.5,801.7 L1175.0,801.8 L1175.5,802.0 L1176.1,802.2 L1176.7,802.1 L1177.3,802.0 L1177.9,801.9 L1178.5,802.0 L1179.2,802.1 L1179.8,802.2 L1180.5,802.4 L1181.2,802.6 L1182.0,802.9 L1182.7,803.0 L1183.4,803.0 L1184.2,803.0 L1185.0,803.1 L1185.7,803.2 L1186.5,803.3 L1187.4,803.4 L1188.2,803.6 L1189.0,803.7 L1189.9,803.8 L1190.7,803.8 L1191.6,803.9 L1192.4,804.1 L1193.3,804.5 L1194.2,804.8 L1195.1,805.1 L1196.0,805.4 L1196.9,805.4 L1197.8,805.4 L1198.7,805.5 L1199.7,805.6 L1200.6,805.6 L1201.5,805.6 L1202.4,805.7 L1203.4,805.9 L1204.3,806.0 L1205.3,805.9 L1206.2,806.1 L1207.1,806.6 L1208.1,806.8 L1209.0,806.7 L1210.0,806.7 L1210.9,806.8 L1211.8,806.9 L1212.8,807.5 L1213.7,808.0 L1214.6,807.8 L1215.6,807.5 L1216.5,807.9 L1217.4,808.3 L1218.3,808.4 L1219.2,808.3 L1219.9,808.3 L1220.6,808.5 L1221.4,808.6 L1222.1,808.7 L1222.8,808.8 L1223.5,808.8 L1224.2,808.7 L1225.0,808.6 L1225.7,808.5 L1226.4,808.8 L1227.1,809.2 L1227.8,809.4 L1228.6,809.2 L1229.3,809.1 L1230.0,809.2 L1230.8,809.3 L1231.5,809.5 L1232.2,809.5 L1233.0,809.4 L1233.7,809.4 L1234.4,809.5 L1235.2,809.5 L1235.9,809.7 L1236.7,809.9 L1237.4,810.1 L1238.2,810.1 L1238.9,810.0 L1239.7,810.0 L1240.4,810.3 L1241.2,810.5 L1241.9,810.8 L1242.7,811.1 L1243.5,811.4 L1244.2,811.6 L1245.0,811.7 L1245.8,811.8 L1246.6,811.6 L1247.3,811.4 L1248.1,811.3 L1248.9,811.2 L1249.7,811.3 L1250.5,811.5 L1251.3,811.6 L1252.1,811.6 L1252.9,811.6 L1253.7,811.6 L1254.5,811.8 L1255.4,811.9 L1256.2,812.2 L1257.0,812.5 L1257.9,812.6 L1258.7,812.7 L1259.5,812.7 L1260.4,812.5 L1261.2,812.3 L1262.1,812.5 L1262.9,812.8 L1263.8,813.0 L1264.7,813.0 L1265.6,813.0 L1266.4,813.1 L1267.3,813.2 L1268.2,813.1 L1269.1,813.0 L1270.0,813.1 L1270.9,813.3 L1271.8,813.4 L1272.8,813.3 L1273.7,813.3 L1274.6,813.7 L1275.6,814.1 L1276.5,814.1 L1277.4,814.1 L1278.4,814.2 L1279.1,814.2 L1279.8,814.2 L1280.5,814.1 L1281.3,814.1 L1282.0,814.3 L1282.7,814.6 L1283.5,814.8 L1284.3,814.6 L1285.1,814.4 L1285.8,814.3 L1286.6,814.2 L1287.5,814.2 L1288.3,814.4 L1289.1,814.5 L1289.9,814.8 L1290.8,815.1 L1291.6,815.2 L1292.5,814.9 L1293.3,814.6 L1294.2,815.0 L1295.1,815.3 L1296.0,815.6 L1296.9,815.7 L1297.8,815.8 L1298.7,815.8 L1299.6,815.8 L1300.5,815.7 L1301.4,815.5 L1302.3,815.6 L1303.2,815.7 L1304.1,815.9 L1305.1,816.2 L1306.0,816.3 L1306.9,816.3 L1307.9,816.3 L1308.8,816.4 L1309.8,816.4 L1310.7,816.1 L1311.6,816.0 L1312.6,816.3 L1313.5,816.6 L1314.5,816.7 L1315.4,816.8 L1316.4,816.6 L1317.3,816.3 L1318.2,816.4 L1319.2,816.4 L1320.1,816.8 L1321.1,817.2 L1322.0,817.2 L1322.9,817.1 L1323.9,817.0 L1324.8,817.0 L1325.7,817.0 L1326.6,817.1 L1327.5,817.1 L1328.5,817.1 L1329.4,817.0 L1330.3,817.0 L1331.2,817.0 L1332.1,817.0 L1333.0,817.0 L1333.8,817.1 L1334.7,817.2 L1335.6,817.3 L1336.5,817.2 L1337.3,817.1 L1338.2,817.5 L1339.0,817.9 L1339.8,818.1 L1340.7,818.1 L1341.5,818.1 L1342.3,817.9 L1343.1,817.7 L1343.9,817.5 L1344.7,817.3 L1345.5,817.1 L1346.2,817.3 L1347.0,817.6 L1347.7,817.5 L1348.4,817.3 L1349.2,817.1 L1349.9,817.1 L1350.6,817.2 L1351.3,817.2 L1351.9,817.1 L1352.6,816.9 L1353.2,816.8 L1353.9,816.9 L1354.5,816.9 L1355.1,817.0 L1355.7,816.9 L1356.3,816.7 L1356.8,816.5 L1357.4,816.3 L1357.9,816.3 L1358.4,816.3 L1358.9,816.2 L1359.4,816.2 L1359.9,816.0 L1360.3,815.9 L1360.8,815.8 L1361.2,815.7 L1362.4,815.5 L1363.5,815.2 L1364.5,815.0 L1365.3,814.3 L1366.0,813.4 L1366.5,812.7 L1367.0,812.0 L1367.3,811.2 L1367.6,810.3 L1367.7,809.3 L1367.8,808.3 L1367.8,807.2 L1367.7,805.9 L1367.6,804.6 L1367.4,803.6 L1367.1,802.6 L1366.9,801.6 L1366.6,800.7 L1366.2,800.0 L1365.9,799.0 L1365.5,798.0 L1365.1,797.1 L1364.8,796.6 L1364.4,795.6 L1364.1,794.4 L1363.8,793.3 L1363.5,792.5 L1363.3,791.8 L1363.1,791.3 L1363.0,790.9 L1363.0,790.5 L1363.0,790.2 L1364.0,786.5 L1365.0,789.9 L1365.0,790.3 L1365.1,790.9 L1365.1,791.5 L1365.0,792.3 L1365.0,793.2 L1364.9,794.0 L1364.8,794.8 L1364.8,795.6 L1364.7,796.5 L1364.6,797.5 L1364.5,798.3 L1364.4,799.1 L1364.3,800.2 L1364.2,801.4 L1364.1,802.3 L1364.0,803.0 L1364.0,803.8 L1364.0,804.7 L1364.0,805.6 L1364.0,806.5 L1364.1,807.7 L1364.2,809.0 L1364.3,810.0 L1364.5,810.7 L1364.7,811.5 L1364.9,812.2 L1365.2,812.9 L1365.6,813.7 L1366.0,814.4 L1366.5,815.1 L1367.0,815.5 L1367.4,815.6 L1367.9,815.8 L1368.5,815.9 L1369.0,816.0 L1369.7,816.1 L1370.3,816.3 L1371.0,816.6 L1371.7,816.9 L1372.4,817.2 L1373.2,817.4 L1374.0,817.6 L1374.8,817.3 L1375.7,817.0 L1376.5,817.1 L1377.4,817.5 L1378.3,817.7 L1379.2,817.4 L1380.1,817.1 L1381.0,817.0 L1382.0,816.8 L1382.9,816.9 L1383.9,817.1 L1384.8,817.2 L1385.8,817.3 L1386.7,817.2 L1387.6,816.9 L1388.6,816.7 L1389.5,816.5 L1390.4,816.5 L1391.3,816.7 L1392.2,816.7 L1393.1,816.3 L1394.0,815.9 L1394.8,816.1 L1395.6,816.3 L1396.4,816.3 L1397.2,816.1 L1397.9,815.9 L1398.7,816.0 L1399.3,816.1 L1400.0,816.1 L1401.1,816.0 L1402.2,815.9 L1403.3,815.8 L1404.4,815.6 L1405.4,815.6 L1406.4,815.7 L1407.4,816.0 L1408.4,816.1 L1409.3,815.9 L1410.2,815.6 L1411.1,815.5 L1411.9,815.3 L1412.7,815.4 L1413.5,815.5 L1414.3,815.5 L1415.0,815.4 L1415.7,815.4 L1416.3,815.1 L1416.9,814.7 L1417.5,814.3 L1418.0,814.0 L1418.5,813.9 L1419.0,813.8 L1419.8,813.3 L1420.3,812.3 L1420.6,811.2 L1420.7,810.5 L1420.7,809.4 L1420.6,807.8 L1420.4,806.9 L1420.2,806.5 L1420.1,805.9 L1420.0,805.4 L1420.0,805.3 L1420.0,805.4 L1420.0,805.8 L1419.9,806.5 L1419.8,807.4 L1419.7,808.5 L1419.6,809.6 L1419.6,810.7 L1419.6,811.6 L1419.8,812.7 L1420.0,813.7 L1420.4,814.4 L1421.0,814.7 L1421.5,814.8 L1422.1,814.9 L1422.8,815.1 L1423.5,815.1 L1424.4,815.2 L1425.3,815.3 L1426.2,815.2 L1427.2,815.0 L1428.2,814.8 L1429.2,814.4 L1430.1,814.2 L1431.1,814.2 L1432.0,814.1 L1432.9,814.0 L1433.7,813.8 L1434.5,813.7 L1435.2,813.5 L1435.7,813.2 L1436.2,813.0" fill="none" stroke="#8020f0" stroke-width="1.5" stroke-linejoin="round" stroke-linecap="round" />
<path d="M1172.2,795.8 L1172.6,795.9 L1173.0,795.9 L1173.5,796.0 L1174.0,796.1 L1174.5,796.2 L1175.0,796.3 L1175.5,796.5 L1176.1,796.6 L1176.7,796.5 L1177.3,796.4 L1177.9,796.3 L1178.5,796.3 L1179.2,796.4 L1179.8,796.5 L1180.5,796.6 L1181.2,796.9 L1182.0,797.1 L1182.7,797.2 L1183.4,797.2 L1184.2,797.2 L1185.0,797.2 L1185.7,797.2 L1186.5,797.3 L1187.4,797.4 L1188.2,797.5 L1189.0,797.6 L1189.9,797.6 L1190.7,797.7 L1191.6,797.7 L1192.4,797.8 L1193.3,798.2 L1194.2,798.5 L1195.1,798.7 L1196.0,799.0 L1196.9,799.0 L1197.8,799.0 L1198.7,799.0 L1199.7,799.1 L1200.6,799.1 L1201.5,799.1 L1202.4,799.1 L1203.4,799.3 L1204.3,799.3 L1205.3,799.3 L1206.2,799.3 L1207.1,799.8 L1208.1,800.2 L1209.0,800.0 L1210.0,799.9 L1210.9,800.0 L1211.8,800.1 L1212.8,800.6 L1213.7,801.0 L1214.6,801.0 L1215.6,800.7 L1216.5,800.9 L1217.4,801.4 L1218.3,801.6 L1219.2,801.5 L1219.9,801.4 L1220.6,801.6 L1221.4,801.7 L1222.1,801.8 L1222.8,801.9 L1223.5,801.9 L1224.2,801.9 L1225.0,801.8 L1225.7,801.7 L1226.4,801.9 L1227.1,802.2 L1227.8,802.5 L1228.6,802.4 L1229.3,802.3 L1230.0,802.3 L1230.8,802.5 L1231.5,802.7 L1232.2,802.7 L1233.0,802.7 L1233.7,802.7 L1234.4,802.7 L1235.2,802.8 L1235.9,802.9 L1236.7,803.2 L1237.4,803.4 L1238.2,803.5 L1238.9,803.4 L1239.7,803.4 L1240.4,803.7 L1241.2,803.9 L1241.9,804.2 L1242.7,804.5 L1243.5,804.9 L1244.2,805.1 L1245.0,805.3 L1245.8,805.4 L1246.6,805.2 L1247.3,805.0 L1248.1,805.0 L1248.9,804.9 L1249.7,804.9 L1250.5,805.1 L1251.3,805.3 L1252.1,805.4 L1252.9,805.3 L1253.7,805.4 L1254.5,805.5 L1255.4,805.7 L1256.2,806.0 L1257.0,806.3 L1257.9,806.5 L1258.7,806.6 L1259.5,806.7 L1260.4,806.5 L1261.2,806.3 L1262.1,806.4 L1262.9,806.7 L1263.8,807.0 L1264.7,807.0 L1265.6,807.1 L1266.4,807.1 L1267.3,807.2 L1268.2,807.1 L1269.1,807.1 L1270.0,807.2 L1270.9,807.4 L1271.8,807.5 L1272.8,807.4 L1273.7,807.4 L1274.6,807.8 L1275.6,808.2 L1276.5,808.2 L1277.4,808.2 L1278.4,808.3 L1279.1,808.3 L1279.8,808.3 L1280.5,808.2 L1281.3,808.2 L1282.0,808.4 L1282.7,808.7 L1283.5,808.9 L1284.3,808.7 L1285.1,808.5 L1285.8,808.4 L1286.6,808.3 L1287.5,808.3 L1288.3,808.4 L1289.1,808.6 L1289.9,808.8 L1290.8,809.2 L1291.6,809.3 L1292.5,809.0 L1293.3,808.7 L1294.2,809.0 L1295.1,809.4 L1296.0,809.6 L1296.9,809.8 L1297.8,809.9 L1298.7,809.9 L1299.6,809.9 L1300.5,809.7 L1301.4,809.5 L1302.3,809.6 L1303.2,809.6 L1304.1,809.9 L1305.1,810.2 L1306.0,810.3 L1306.9,810.2 L1307.9,810.3 L1308.8,810.4 L1309.8,810.3 L1310.7,810.0 L1311.6,809.9 L1312.6,810.2 L1313.5,810.5 L1314.5,810.6 L1315.4,810.7 L1316.4,810.5 L1317.3,810.2 L1318.2,810.2 L1319.2,810.3 L1320.1,810.6 L1321.1,811.0 L1322.0,811.0 L1322.9,810.9 L1323.9,810.9 L1324.8,810.8 L1325.7,810.8 L1326.6,810.9 L1327.5,810.9 L1328.5,810.8 L1329.4,810.7 L1330.3,810.7 L1331.2,810.7 L1332.1,810.7 L1333.0,810.6 L1333.8,810.7 L1334.7,810.9 L1335.6,811.0 L1336.5,810.8 L1337.3,810.7 L1338.2,811.1 L1339.0,811.4 L1339.8,811.6 L1340.7,811.6 L1341.5,811.6 L1342.3,811.5 L1343.1,811.3 L1343.9,811.0 L1344.7,810.8 L1345.5,810.6 L1346.2,810.8 L1347.0,811.0 L1347.7,811.0 L1348.4,810.7 L1349.2,810.5 L1349.9,810.5 L1350.6,810.5 L1351.3,810.5 L1351.9,810.4 L1352.6,810.2 L1353.2,810.1 L1353.9,810.1 L1354.5,810.2 L1355.1,810.2 L1355.7,810.1 L1356.3,809.9 L1356.8,809.6 L1357.4,809.4 L1357.9,809.4 L1358.4,809.4 L1358.9,809.3 L1359.4,809.2 L1359.9,809.1 L1360.3,809.0 L1360.8,808.8 L1361.2,808.7 L1362.3,808.4 L1363.3,808.1 L1364.2,807.9 L1365.0,807.4 L1365.6,806.5 L1366.2,805.7 L1366.7,805.0 L1367.0,804.3 L1367.3,803.5 L1367.6,802.6 L1367.7,801.6 L1367.8,800.6 L1367.8,799.4 L1367.8,798.2 L1367.7,797.0 L1367.5,796.0 L1367.4,795.1 L1367.1,794.1 L1366.9,793.2 L1366.6,792.5 L1366.3,791.5 L1366.0,790.4 L1365.7,789.6 L1365.4,789.0 L1365.1,787.9 L1364.7,786.6 L1364.4,785.5 L1364.1,784.6 L1363.9,783.9 L1363.6,783.4 L1363.4,782.9 L1363.2,782.3 L1363.1,781.6 L1363.0,781.1 L1363.0,780.5 L1363.0,779.9 L1364.0,776.3 L1365.0,780.4 L1365.1,780.8 L1365.1,781.3 L1365.1,781.8 L1365.2,782.5 L1365.2,783.2 L1365.2,783.9 L1365.3,784.6 L1365.3,785.3 L1365.3,786.0 L1365.3,787.0 L1365.4,788.2 L1365.4,788.9 L1365.4,789.6 L1365.4,790.4 L1365.4,791.3 L1365.5,792.2 L1365.5,793.1 L1365.5,794.3 L1365.5,795.7 L1365.6,796.8 L1365.6,797.7 L1365.7,798.6 L1365.7,799.5 L1365.8,800.6 L1365.8,801.7 L1365.9,802.6 L1366.0,803.3 L1366.1,803.9 L1366.2,804.5 L1366.3,805.1 L1366.4,805.7 L1366.5,806.4 L1366.7,807.1 L1366.8,807.8 L1367.0,808.3 L1367.5,809.4 L1367.9,810.1 L1368.2,810.2 L1368.6,810.1 L1369.1,809.8 L1369.7,809.3 L1370.3,809.3 L1371.2,809.4 L1372.2,808.8 L1373.5,808.1 L1375.1,807.6 L1377.0,807.9 L1377.5,808.1 L1378.1,808.2 L1378.7,808.3 L1379.3,808.4 L1380.0,808.3 L1380.7,808.2 L1381.4,808.1 L1382.2,808.1 L1383.0,808.0 L1383.8,808.1 L1384.6,808.4 L1385.5,808.6 L1386.3,808.3 L1387.2,808.0 L1388.1,808.3 L1389.0,808.6 L1390.0,808.6 L1390.9,808.5 L1391.9,808.6 L1392.8,808.8 L1393.8,808.8 L1394.8,808.8 L1395.8,808.8 L1396.7,808.7 L1397.7,808.6 L1398.7,808.6 L1399.6,808.8 L1400.6,809.2 L1401.6,809.4 L1402.5,809.2 L1403.5,809.0 L1404.4,809.0 L1405.3,808.9 L1406.2,809.1 L1407.1,809.3 L1407.9,809.4 L1408.7,809.5 L1409.6,809.4 L1410.3,809.1 L1411.1,808.8 L1411.8,808.9 L1412.5,809.0 L1413.2,809.1 L1413.9,809.0 L1414.5,808.9 L1415.0,808.8 L1415.6,808.8 L1416.1,808.9 L1416.5,809.0 L1418.6,808.2 L1419.7,807.5 L1420.2,807.1 L1420.1,805.9 L1419.7,804.8 L1419.3,803.9 L1419.0,803.3 L1419.0,803.0 L1419.2,803.3 L1419.2,804.1 L1419.2,805.2 L1419.2,806.2 L1419.5,807.3 L1420.0,808.3 L1421.0,808.8 L1421.5,808.8 L1422.1,808.8 L1422.8,808.8 L1423.6,808.8 L1424.4,808.9 L1425.3,808.9 L1426.3,808.9 L1427.2,808.8 L1428.2,808.6 L1429.2,808.3 L1430.2,808.0 L1431.2,807.9 L1432.1,807.9 L1432.9,807.9 L1433.8,807.8 L1434.5,807.7 L1435.2,807.6 L1435.7,807.5 L1436.2,807.4" fill="none" stroke="#7a30e8" stroke-width="1.5" stroke-linejoin="round" stroke-linecap="round" />
<path d="M1172.2,781.4 L1172.6,781.3 L1173.0,781.1 L1173.3,780.9 L1173.8,780.6 L1174.3,780.4 L1175.0,780.3 L1175.8,780.2 L1176.8,779.8 L1178.1,779.6 L1179.7,779.7 L1181.7,780.5 L1182.2,780.6 L1182.7,780.6 L1183.3,780.7 L1183.8,780.8 L1184.4,780.9 L1185.0,781.0 L1185.7,781.1 L1186.3,781.3 L1187.0,781.5 L1187.7,781.7 L1188.3,781.9 L1189.1,782.0 L1189.8,782.2 L1190.5,782.4 L1191.3,782.5 L1192.1,782.9 L1192.8,783.4 L1193.6,783.8 L1194.4,784.2 L1195.2,784.5 L1196.1,784.7 L1196.9,784.9 L1197.7,785.1 L1198.6,785.3 L1199.4,785.5 L1200.3,785.6 L1201.2,785.7 L1202.0,786.0 L1202.9,786.4 L1203.8,786.5 L1204.6,786.6 L1205.5,787.1 L1206.4,787.7 L1207.3,787.9 L1208.2,788.0 L1209.0,788.1 L1209.9,788.4 L1210.8,788.7 L1211.7,789.4 L1212.5,790.0 L1213.4,789.9 L1214.2,789.8 L1215.1,790.2 L1215.9,790.8 L1216.8,791.1 L1217.6,791.1 L1218.4,791.2 L1219.2,791.5 L1220.0,791.8 L1220.7,792.0 L1221.5,792.1 L1222.3,792.3 L1223.0,792.3 L1223.8,792.3 L1224.5,792.6 L1225.3,793.1 L1226.0,793.5 L1226.8,793.5 L1227.6,793.5 L1228.3,793.7 L1229.1,794.0 L1229.8,794.3 L1230.6,794.4 L1231.3,794.4 L1232.1,794.6 L1232.8,794.8 L1233.6,795.0 L1234.3,795.3 L1235.1,795.7 L1235.9,795.9 L1236.6,796.0 L1237.4,796.0 L1238.2,796.4 L1238.9,796.8 L1239.7,797.2 L1240.5,797.6 L1241.2,798.1 L1242.0,798.4 L1242.8,798.6 L1243.6,798.7 L1244.4,798.7 L1245.2,798.6 L1246.0,798.6 L1246.8,798.6 L1247.6,798.8 L1248.4,799.1 L1249.2,799.4 L1250.0,799.4 L1250.9,799.4 L1251.7,799.6 L1252.6,799.9 L1253.4,800.1 L1254.2,800.5 L1255.1,800.8 L1256.0,801.0 L1256.8,801.1 L1257.7,801.0 L1258.6,800.8 L1259.3,800.8 L1260.1,801.1 L1260.8,801.4 L1261.5,801.5 L1262.3,801.6 L1263.0,801.6 L1263.8,801.7 L1264.6,801.8 L1265.3,801.8 L1266.1,801.7 L1266.9,801.6 L1267.6,801.8 L1268.4,802.0 L1269.2,802.1 L1270.0,802.0 L1270.7,801.9 L1271.5,802.2 L1272.3,802.5 L1273.1,802.7 L1273.9,802.8 L1274.7,802.8 L1275.5,802.8 L1276.3,802.8 L1277.1,802.8 L1277.9,802.8 L1278.8,802.7 L1279.6,802.9 L1280.4,803.2 L1281.2,803.3 L1282.0,803.0 L1282.8,802.7 L1283.7,802.7 L1284.5,802.6 L1285.3,802.6 L1286.2,802.7 L1287.0,802.9 L1287.8,803.2 L1288.7,803.4 L1289.5,803.2 L1290.3,802.9 L1291.2,802.7 L1292.0,803.1 L1292.8,803.4 L1293.7,803.5 L1294.5,803.6 L1295.4,803.6 L1296.2,803.5 L1297.0,803.5 L1297.9,803.3 L1298.7,803.1 L1299.6,803.0 L1300.4,803.0 L1301.3,803.1 L1302.1,803.4 L1302.9,803.5 L1303.8,803.5 L1304.6,803.4 L1305.5,803.4 L1306.3,803.4 L1307.2,803.4 L1308.0,803.0 L1308.8,802.7 L1309.6,802.9 L1310.4,803.1 L1311.2,803.3 L1312.0,803.4 L1312.9,803.5 L1313.7,803.2 L1314.6,803.0 L1315.5,802.9 L1316.4,803.0 L1317.2,803.1 L1318.1,803.5 L1319.0,803.8 L1319.9,803.7 L1320.9,803.6 L1321.8,803.6 L1322.7,803.5 L1323.6,803.6 L1324.6,803.7 L1325.5,803.6 L1326.4,803.6 L1327.4,803.5 L1328.3,803.6 L1329.2,803.6 L1330.2,803.5 L1331.1,803.6 L1332.0,803.8 L1333.0,803.9 L1333.9,803.8 L1334.8,803.7 L1335.7,804.2 L1336.7,804.6 L1337.6,804.7 L1338.5,804.8 L1339.4,804.7 L1340.3,804.5 L1341.2,804.3 L1342.0,804.0 L1342.9,803.8 L1343.8,804.0 L1344.6,804.3 L1345.5,804.2 L1346.3,803.9 L1347.1,803.8 L1347.9,803.8 L1348.7,803.9 L1349.5,803.7 L1350.3,803.6 L1351.1,803.5 L1351.8,803.6 L1352.5,803.6 L1353.2,803.5 L1353.9,803.2 L1354.6,802.9 L1355.3,802.8 L1355.9,802.8 L1356.5,802.7 L1357.1,802.6 L1357.7,802.4 L1358.3,802.2 L1358.8,802.0 L1359.3,801.9 L1359.8,801.8 L1360.3,801.6 L1360.8,801.5 L1361.2,801.4 L1361.9,801.2 L1362.5,800.7 L1363.0,799.9 L1363.5,799.2 L1363.9,798.6 L1364.3,798.0 L1364.6,797.3 L1364.9,796.5 L1365.1,795.6 L1365.3,794.7 L1365.4,793.7 L1365.5,792.6 L1365.6,791.4 L1365.6,790.4 L1365.6,789.4 L1365.6,788.4 L1365.5,787.5 L1365.5,786.6 L1365.4,785.9 L1365.2,785.0 L1365.1,783.9 L1365.0,783.0 L1364.8,782.3 L1364.6,781.4 L1364.5,780.0 L1364.3,778.8 L1364.1,777.8 L1363.9,777.0 L1363.8,776.4 L1363.6,775.8 L1363.5,775.0 L1363.3,774.2 L1363.2,773.4 L1363.1,772.5 L1363.0,771.7 L1363.0,770.9 L1363.0,770.5 L1363.0,770.1 L1363.0,769.7 L1363.9,766.6 L1365.0,770.4 L1365.1,770.9 L1365.2,771.4 L1365.2,771.8 L1365.3,772.3 L1365.4,772.9 L1365.5,773.8 L1365.5,774.8 L1365.6,775.6 L1365.7,776.3 L1365.8,777.0 L1365.8,777.8 L1365.9,778.7 L1366.0,779.6 L1366.0,780.6 L1366.1,782.0 L1366.2,783.3 L1366.3,784.2 L1366.4,785.2 L1366.5,786.2 L1366.6,787.2 L1366.7,788.4 L1366.8,789.5 L1367.0,790.2 L1367.1,791.0 L1367.3,791.7 L1367.4,792.3 L1367.6,793.2 L1367.8,794.2 L1368.0,795.0 L1368.2,795.7 L1368.4,796.4 L1368.6,796.9 L1368.8,797.2 L1369.1,797.3 L1369.6,797.5 L1370.2,797.6 L1370.7,798.0 L1371.4,798.3 L1372.1,798.4 L1372.8,797.9 L1373.5,797.3 L1374.3,796.7 L1375.1,796.0 L1375.9,795.5 L1376.7,795.1 L1377.5,794.7 L1378.3,794.2 L1379.1,793.6 L1379.9,792.9 L1380.7,792.2 L1381.5,791.6 L1382.3,791.1 L1383.0,791.1 L1383.8,791.0 L1384.5,790.4 L1385.3,789.7 L1386.1,789.3 L1386.8,789.2 L1387.6,789.0 L1388.3,788.5 L1389.1,788.0 L1389.9,787.7 L1390.6,787.5 L1391.4,787.3 L1392.1,786.9 L1392.9,786.7 L1393.7,786.4 L1394.4,786.2 L1395.2,786.0 L1395.9,786.0 L1396.7,786.1 L1397.4,786.4 L1398.1,786.9 L1398.8,787.4 L1399.5,787.6 L1400.3,787.9 L1401.0,788.2 L1401.7,788.6 L1402.5,789.1 L1403.2,789.8 L1403.9,790.5 L1404.6,791.2 L1405.4,791.9 L1406.1,792.1 L1406.7,792.3 L1407.4,792.8 L1408.1,793.5 L1408.7,794.0 L1409.3,794.3 L1409.9,794.6 L1410.5,794.9 L1411.6,795.9 L1412.7,796.3 L1413.7,796.2 L1414.7,796.9 L1415.6,797.7 L1416.4,797.9 L1417.2,797.9 L1417.9,797.7 L1418.5,797.5 L1419.0,797.0 L1419.3,796.6 L1419.5,795.9 L1419.6,795.1 L1419.7,794.1 L1419.8,792.9 L1419.8,791.7 L1419.8,790.7 L1419.8,789.5 L1419.8,788.2 L1419.7,787.3 L1419.7,786.5 L1419.7,785.9 L1419.7,785.4 L1419.7,785.1 L1419.7,785.1 L1419.7,785.2 L1419.7,785.7 L1419.6,786.2 L1419.6,786.9 L1419.5,787.7 L1419.4,788.5 L1419.3,789.4 L1419.2,790.7 L1419.1,792.0 L1419.1,793.2 L1419.1,794.4 L1419.2,795.4 L1419.3,796.1 L1419.5,796.6 L1419.7,797.4 L1420.1,798.3 L1420.5,799.0 L1421.0,799.2 L1421.6,799.4 L1422.3,799.4 L1423.1,799.8 L1424.0,800.3 L1424.9,800.4 L1425.9,800.3 L1426.9,800.1 L1427.9,800.0 L1428.9,799.9 L1429.9,799.9 L1430.9,799.8 L1431.9,799.7 L1432.8,799.4 L1433.7,799.2 L1434.4,799.0 L1435.1,799.2 L1435.7,799.5 L1436.2,799.6" fill="none" stroke="#5a2ac8" stroke-width="1.5" stroke-linejoin="round" stroke-linecap="round" />
<path d="M1172.2,765.6 L1172.6,765.5 L1173.0,765.3 L1173.3,765.1 L1173.8,764.8 L1174.3,764.6 L1175.0,764.5 L1175.8,764.4 L1176.8,764.1 L1178.1,763.8 L1179.7,764.1 L1181.7,764.9 L1182.2,765.0 L1182.7,765.1 L1183.2,765.2 L1183.8,765.3 L1184.4,765.4 L1185.0,765.5 L1185.6,765.7 L1186.2,765.9 L1186.8,766.1 L1187.5,766.3 L1188.2,766.5 L1188.9,766.7 L1189.6,766.9 L1190.3,767.1 L1191.1,767.3 L1191.8,767.6 L1192.6,768.1 L1193.3,768.6 L1194.1,769.0 L1194.9,769.4 L1195.7,769.7 L1196.5,769.9 L1197.3,770.1 L1198.2,770.3 L1199.0,770.6 L1199.8,770.7 L1200.7,770.9 L1201.5,771.2 L1202.4,771.6 L1203.2,771.8 L1204.1,771.9 L1204.9,772.3 L1205.8,773.0 L1206.7,773.4 L1207.5,773.5 L1208.4,773.6 L1209.2,773.9 L1210.1,774.2 L1211.0,774.8 L1211.8,775.5 L1212.7,775.6 L1213.5,775.6 L1214.3,775.9 L1215.2,776.5 L1216.0,777.0 L1216.8,777.1 L1217.6,777.2 L1218.4,777.5 L1219.2,777.8 L1220.0,778.0 L1220.7,778.2 L1221.5,778.4 L1222.2,778.4 L1223.0,778.5 L1223.7,778.7 L1224.5,779.2 L1225.3,779.7 L1226.0,779.8 L1226.8,779.8 L1227.6,780.0 L1228.3,780.3 L1229.1,780.7 L1229.9,780.8 L1230.6,780.9 L1231.4,781.1 L1232.2,781.3 L1233.0,781.6 L1233.7,782.0 L1234.5,782.4 L1235.3,782.6 L1236.1,782.7 L1236.8,782.8 L1237.6,783.3 L1238.4,783.7 L1239.2,784.2 L1239.9,784.6 L1240.7,785.1 L1241.5,785.4 L1242.3,785.7 L1243.1,785.7 L1243.8,785.7 L1244.6,785.7 L1245.4,785.8 L1246.2,785.8 L1246.9,786.1 L1247.7,786.5 L1248.5,786.7 L1249.3,786.8 L1250.1,786.8 L1250.8,787.1 L1251.6,787.4 L1252.4,787.7 L1253.2,788.1 L1253.9,788.5 L1254.7,788.6 L1255.5,788.8 L1256.3,788.9 L1257.1,788.7 L1257.8,788.6 L1258.6,788.9 L1259.4,789.3 L1260.2,789.6 L1261.0,789.7 L1261.8,789.8 L1262.6,789.9 L1263.4,790.0 L1264.2,790.0 L1264.9,790.0 L1265.7,790.0 L1266.5,790.2 L1267.3,790.4 L1268.0,790.5 L1268.8,790.5 L1269.6,790.4 L1270.4,790.7 L1271.1,791.0 L1271.9,791.3 L1272.7,791.3 L1273.5,791.4 L1274.2,791.4 L1275.0,791.5 L1275.8,791.5 L1276.6,791.5 L1277.3,791.4 L1278.1,791.5 L1278.9,791.8 L1279.7,792.1 L1280.5,791.9 L1281.3,791.7 L1282.1,791.5 L1282.9,791.5 L1283.7,791.4 L1284.5,791.5 L1285.3,791.6 L1286.1,791.8 L1286.9,792.1 L1287.7,792.4 L1288.6,792.0 L1289.4,791.7 L1290.2,791.8 L1291.1,792.1 L1291.9,792.4 L1292.8,792.5 L1293.7,792.6 L1294.5,792.6 L1295.4,792.6 L1296.3,792.5 L1297.2,792.3 L1298.1,792.3 L1298.8,792.3 L1299.6,792.3 L1300.3,792.5 L1301.1,792.7 L1301.9,792.9 L1302.7,792.8 L1303.5,792.8 L1304.3,792.9 L1305.2,792.9 L1306.0,792.9 L1306.9,792.6 L1307.7,792.3 L1308.6,792.6 L1309.5,792.8 L1310.3,793.0 L1311.2,793.1 L1312.1,793.0 L1313.0,792.8 L1313.9,792.6 L1314.8,792.6 L1315.7,792.6 L1316.6,793.0 L1317.5,793.4 L1318.5,793.4 L1319.4,793.2 L1320.3,793.2 L1321.2,793.1 L1322.1,793.1 L1323.0,793.2 L1323.9,793.2 L1324.8,793.1 L1325.7,793.0 L1326.6,793.0 L1327.5,793.0 L1328.4,793.0 L1329.2,792.9 L1330.1,793.0 L1331.0,793.1 L1331.8,793.3 L1332.7,793.1 L1333.5,793.0 L1334.3,793.3 L1335.2,793.7 L1336.0,793.9 L1336.8,794.0 L1337.5,794.0 L1338.3,793.9 L1339.1,793.7 L1339.8,793.5 L1340.5,793.3 L1341.2,793.1 L1341.9,793.0 L1342.6,793.2 L1343.3,793.4 L1343.9,793.5 L1344.6,793.3 L1345.2,793.1 L1345.8,793.0 L1346.3,793.0 L1346.9,793.1 L1347.4,793.1 L1349.2,792.9 L1350.7,792.9 L1352.1,793.0 L1353.4,792.6 L1354.4,792.5 L1355.4,792.6 L1356.2,792.5 L1357.0,792.3 L1357.6,792.2 L1358.2,792.0 L1358.7,791.9 L1359.1,791.7 L1359.6,791.4 L1360.0,791.2 L1360.4,790.9 L1360.8,790.4 L1361.2,789.6 L1361.5,789.0 L1361.7,788.5 L1362.0,788.1 L1362.1,787.8 L1362.3,787.4 L1362.4,787.0 L1362.5,786.7 L1362.6,786.2 L1362.6,785.7 L1362.6,785.2 L1362.6,784.6 L1362.6,784.0 L1362.6,783.2 L1362.6,782.4 L1362.5,781.4 L1362.5,780.3 L1362.5,779.3 L1362.5,778.2 L1362.4,777.1 L1362.4,775.9 L1362.4,774.9 L1362.4,773.3 L1362.5,771.8 L1362.5,770.3 L1362.5,769.5 L1362.5,768.7 L1362.5,768.0 L1362.6,767.3 L1362.6,766.6 L1362.6,766.0 L1362.6,765.5 L1362.6,765.0 L1362.6,764.4 L1362.7,763.6 L1362.7,762.7 L1362.7,761.7 L1362.7,760.6 L1362.7,759.6 L1362.7,758.9 L1362.8,758.1 L1362.8,757.3 L1362.8,756.4 L1362.8,755.6 L1362.8,754.9 L1362.8,753.9 L1362.9,752.9 L1362.9,751.9 L1362.9,750.9 L1362.9,749.7 L1362.9,748.5 L1363.0,747.7 L1363.0,746.8 L1363.0,745.4 L1363.0,744.1 L1363.0,742.9 L1363.0,741.7 L1363.1,740.5 L1363.1,739.7 L1363.1,739.0 L1363.1,737.9 L1363.1,736.7 L1363.1,735.6 L1363.2,734.5 L1363.2,733.6 L1363.2,732.6 L1363.2,731.3 L1363.2,730.0 L1363.2,728.7 L1363.3,727.7 L1363.3,726.9 L1363.3,726.0 L1363.3,725.1 L1363.3,723.7 L1363.4,722.2 L1363.4,721.6 L1363.4,721.1 L1363.4,719.8 L1363.4,718.5 L1363.4,717.4 L1363.5,716.3 L1363.5,715.5 L1363.5,714.8 L1363.5,714.0 L1363.5,713.3 L1363.5,712.5 L1363.6,711.5 L1363.6,710.6 L1363.6,709.7 L1363.6,708.8 L1363.6,708.1 L1363.7,707.6 L1363.7,707.1 L1363.7,706.5 L1363.7,705.6 L1363.7,704.7 L1363.7,704.0 L1363.8,703.6 L1363.8,703.3 L1363.8,703.0 L1363.8,702.6 L1363.8,702.2 L1363.8,701.7 L1363.9,701.3 L1363.9,701.0 L1363.9,700.6 L1363.9,700.4 L1363.9,700.2 L1363.9,700.1 L1364.0,700.0 L1364.0,699.9 L1364.0,699.9 L1364.0,699.9 L1364.0,700.0 L1364.1,700.1 L1364.1,700.3 L1364.1,700.5 L1364.1,700.8 L1364.1,701.1 L1364.1,701.5 L1364.1,701.8 L1364.2,702.2 L1364.2,702.6 L1364.2,703.0 L1364.2,703.5 L1364.2,703.9 L1364.2,704.4 L1364.2,704.9 L1364.3,705.4 L1364.3,706.1 L1364.3,706.7 L1364.3,707.5 L1364.3,708.5 L1364.3,709.5 L1364.3,710.3 L1364.4,710.9 L1364.4,711.6 L1364.4,712.3 L1364.4,713.1 L1364.4,714.1 L1364.4,715.2 L1364.4,716.2 L1364.4,717.3 L1364.5,718.1 L1364.5,718.7 L1364.5,719.5 L1364.5,720.8 L1364.5,721.8 L1364.5,722.7 L1364.5,723.8 L1364.6,725.3 L1364.6,726.2 L1364.6,726.8 L1364.6,728.1 L1364.6,729.7 L1364.6,730.7 L1364.6,731.6 L1364.7,732.7 L1364.7,733.8 L1364.7,734.9 L1364.7,735.9 L1364.7,736.9 L1364.7,738.0 L1364.7,739.2 L1364.8,740.2 L1364.8,741.1 L1364.8,742.3 L1364.8,743.5 L1364.8,744.8 L1364.8,745.9 L1364.9,747.0 L1364.9,748.0 L1364.9,748.9 L1364.9,749.9 L1364.9,751.1 L1365.0,752.3 L1365.0,753.4 L1365.0,754.4 L1365.0,755.4 L1365.0,756.1 L1365.1,756.6 L1365.1,757.4 L1365.1,758.6 L1365.1,759.6 L1365.1,760.3 L1365.2,761.0 L1365.2,762.1 L1365.2,763.2 L1365.2,764.1 L1365.3,764.8 L1365.3,765.4 L1365.3,766.0 L1365.3,766.6 L1365.4,767.2 L1365.4,767.8 L1365.4,768.5 L1365.4,769.1 L1365.5,769.6 L1365.5,770.1 L1365.7,772.5 L1365.8,775.2 L1366.0,776.6 L1366.2,777.7 L1366.3,778.8 L1366.5,779.7 L1366.7,780.4 L1366.9,780.9 L1367.2,781.1 L1367.5,781.2 L1367.8,781.2 L1368.2,781.1 L1368.6,781.0 L1369.1,781.0 L1369.5,781.0 L1369.9,780.9 L1370.4,780.7 L1370.9,780.4 L1371.4,780.0 L1371.9,779.6 L1372.5,779.0 L1373.0,778.2 L1373.6,777.4 L1374.2,777.0 L1374.8,776.5 L1375.5,775.3 L1376.1,774.2 L1376.7,773.8 L1377.4,773.3 L1378.0,772.6 L1378.7,771.8 L1379.3,770.9 L1380.0,770.1 L1380.6,769.7 L1381.1,769.2 L1381.7,768.5 L1382.3,767.5 L1383.0,766.7 L1383.6,766.5 L1384.2,766.3 L1384.8,765.4 L1385.5,764.5 L1386.1,763.8 L1386.8,763.2 L1387.4,762.7 L1388.1,762.4 L1388.7,762.0 L1389.4,761.3 L1390.0,760.5 L1390.7,759.9 L1391.3,759.4 L1391.9,758.9 L1392.6,758.6 L1393.2,758.3 L1393.8,758.2 L1394.6,758.4 L1395.4,758.7 L1396.1,758.7 L1396.9,758.5 L1397.7,758.4 L1398.4,758.8 L1399.2,759.3 L1399.9,759.6 L1400.7,759.7 L1401.5,759.9 L1402.2,760.7 L1402.9,761.5 L1403.7,762.2 L1404.4,762.7 L1405.1,763.1 L1405.9,763.3 L1406.6,763.6 L1407.2,764.3 L1407.9,765.1 L1408.5,765.8 L1409.2,766.5 L1409.9,767.0 L1410.6,767.3 L1411.2,768.2 L1411.9,769.2 L1412.6,770.4 L1413.2,771.5 L1413.9,772.2 L1414.5,772.9 L1415.1,773.4 L1415.7,773.9 L1416.2,774.4 L1416.7,774.8 L1417.2,775.2 L1417.7,775.3 L1418.1,775.3 L1418.4,775.2 L1418.7,774.8 L1419.0,774.3 L1419.2,774.0 L1419.3,773.6 L1419.5,772.9 L1419.5,772.0 L1419.6,770.8 L1419.6,769.3 L1419.6,767.8 L1419.6,766.4 L1419.6,765.2 L1419.6,764.1 L1419.5,763.4 L1419.5,762.6 L1419.5,761.8 L1419.4,761.1 L1419.4,760.6 L1419.5,760.2 L1419.5,760.2 L1419.5,760.3 L1419.6,760.6 L1419.6,761.0 L1419.6,761.6 L1419.6,762.4 L1419.6,763.3 L1419.5,763.8 L1419.5,764.3 L1419.5,765.1 L1419.5,766.2 L1419.5,767.3 L1419.5,768.5 L1419.5,769.7 L1419.5,770.9 L1419.6,771.8 L1419.6,772.8 L1419.7,773.9 L1419.8,774.9 L1419.9,775.7 L1420.1,776.5 L1420.3,777.3 L1420.5,778.1 L1421.0,779.1 L1421.6,779.6 L1422.4,779.9 L1423.2,780.1 L1424.0,780.1 L1424.9,780.3 L1425.8,780.5 L1426.8,780.6 L1427.7,780.5 L1428.5,780.4 L1429.3,780.9 L1430.0,781.4 L1431.1,781.5 L1432.2,781.2 L1433.2,781.4 L1434.1,781.7 L1435.0,782.0 L1435.7,782.2 L1436.2,782.5" fill="none" stroke="#3a2890" stroke-width="1.5" stroke-linejoin="round" stroke-linecap="round" />
<path d="M1172.2,751.8 L1172.6,751.7 L1173.1,751.5 L1173.7,751.3 L1174.4,751.1 L1175.1,751.0 L1175.8,750.8 L1176.7,750.4 L1177.6,749.9 L1178.5,749.7 L1179.5,749.6 L1180.6,749.7 L1181.7,750.1 L1182.3,750.2 L1182.9,750.2 L1183.5,750.3 L1184.2,750.3 L1184.8,750.5 L1185.5,750.6 L1186.1,750.8 L1186.8,751.0 L1187.5,751.3 L1188.2,751.5 L1189.0,751.7 L1189.7,751.9 L1190.5,752.1 L1191.3,752.3 L1192.1,752.8 L1193.0,753.4 L1193.8,753.9 L1194.7,754.4 L1195.6,754.7 L1196.5,755.0 L1197.5,755.3 L1198.5,755.6 L1199.5,755.9 L1200.1,756.0 L1200.8,756.1 L1201.4,756.4 L1202.1,756.7 L1202.8,757.0 L1203.5,757.1 L1204.2,757.2 L1205.0,757.6 L1205.7,758.2 L1206.5,758.8 L1207.2,758.8 L1208.0,758.9 L1208.8,759.2 L1209.6,759.5 L1210.4,760.0 L1211.2,760.7 L1212.1,761.3 L1212.9,761.3 L1213.7,761.3 L1214.5,761.8 L1215.4,762.5 L1216.2,762.9 L1217.0,763.0 L1217.8,763.2 L1218.6,763.7 L1219.5,764.0 L1220.3,764.3 L1221.1,764.6 L1221.8,764.7 L1222.6,764.8 L1223.4,765.0 L1224.1,765.6 L1224.9,766.2 L1225.6,766.3 L1226.3,766.4 L1227.0,766.5 L1227.7,766.9 L1228.4,767.2 L1229.0,767.4 L1229.9,767.6 L1230.8,767.9 L1231.7,768.2 L1232.5,768.6 L1233.3,769.1 L1234.0,769.6 L1234.8,769.8 L1235.5,770.0 L1236.2,770.2 L1236.9,770.7 L1237.6,771.2 L1238.2,771.7 L1238.9,772.2 L1239.6,772.7 L1240.2,773.1 L1240.9,773.5 L1241.6,773.7 L1242.3,773.8 L1243.0,773.8 L1243.8,773.8 L1244.5,773.9 L1245.3,774.1 L1246.1,774.5 L1247.0,774.8 L1247.9,775.0 L1248.8,775.0 L1249.5,775.2 L1250.1,775.4 L1250.8,775.6 L1251.5,775.9 L1252.2,776.2 L1252.9,776.5 L1253.6,776.7 L1254.4,776.8 L1255.1,776.9 L1255.8,776.8 L1256.6,776.6 L1257.3,776.7 L1258.1,777.1 L1258.8,777.4 L1259.6,777.5 L1260.4,777.6 L1261.2,777.7 L1262.0,777.8 L1262.8,777.9 L1263.6,777.9 L1264.4,777.8 L1265.2,777.9 L1266.0,778.1 L1266.9,778.3 L1267.7,778.3 L1268.6,778.2 L1269.4,778.5 L1270.3,778.9 L1271.2,779.1 L1272.0,779.2 L1272.9,779.2 L1273.8,779.3 L1274.7,779.4 L1275.6,779.3 L1276.5,779.3 L1277.5,779.6 L1278.4,779.9 L1279.1,780.0 L1279.8,779.8 L1280.6,779.6 L1281.3,779.5 L1282.1,779.4 L1282.8,779.4 L1283.6,779.5 L1284.4,779.6 L1285.2,779.8 L1286.0,780.1 L1286.8,780.4 L1287.6,780.1 L1288.4,779.7 L1289.2,779.7 L1290.1,780.1 L1290.9,780.4 L1291.7,780.5 L1292.6,780.6 L1293.4,780.6 L1294.3,780.5 L1295.1,780.4 L1296.0,780.3 L1296.8,780.1 L1297.7,780.1 L1298.5,780.1 L1299.4,780.3 L1300.2,780.5 L1301.1,780.6 L1301.9,780.5 L1302.8,780.4 L1303.6,780.5 L1304.5,780.6 L1305.3,780.4 L1306.1,780.1 L1307.0,779.9 L1307.8,780.1 L1308.6,780.3 L1309.4,780.4 L1310.2,780.5 L1311.0,780.5 L1311.8,780.2 L1312.6,780.0 L1313.4,780.0 L1314.1,780.0 L1314.9,780.0 L1315.6,780.3 L1316.4,780.6 L1317.1,780.7 L1317.8,780.6 L1318.7,780.5 L1319.7,780.5 L1320.6,780.4 L1321.5,780.5 L1322.5,780.5 L1323.4,780.5 L1324.4,780.4 L1325.3,780.4 L1326.2,780.4 L1327.1,780.5 L1328.1,780.4 L1329.0,780.5 L1329.9,780.7 L1330.8,780.9 L1331.7,780.8 L1332.5,780.7 L1333.4,781.0 L1334.3,781.4 L1335.1,781.7 L1335.9,781.8 L1336.8,781.8 L1337.6,781.7 L1338.4,781.6 L1339.1,781.4 L1339.9,781.2 L1340.6,781.0 L1341.4,781.2 L1342.1,781.4 L1342.8,781.6 L1343.4,781.4 L1344.1,781.3 L1344.7,781.1 L1345.3,781.2 L1345.8,781.2 L1346.4,781.3 L1346.9,781.3 L1347.4,781.1 L1349.3,780.8 L1350.5,780.7 L1351.3,780.0 L1351.7,779.3 L1352.0,778.5 L1352.2,778.0 L1352.6,777.6 L1353.3,777.2 L1354.0,777.0 L1354.9,776.9 L1355.7,777.0 L1356.6,777.1 L1357.5,777.3 L1358.4,777.5 L1359.3,777.5 L1360.0,777.0 L1360.7,776.4 L1361.2,775.7 L1361.4,775.4 L1361.6,775.2 L1361.8,775.1 L1361.9,775.0 L1362.0,775.1 L1362.1,775.1 L1362.2,775.0 L1362.2,775.0 L1362.3,774.8 L1362.3,774.5 L1362.3,774.0 L1362.3,773.3 L1362.3,772.3 L1362.3,771.0 L1362.4,769.2 L1362.4,767.2 L1362.4,765.1 L1362.4,763.0 L1362.5,760.1 L1362.5,759.8 L1362.5,759.5 L1362.5,758.9 L1362.5,758.2 L1362.5,757.4 L1362.6,756.6 L1362.6,756.0 L1362.6,755.4 L1362.6,754.8 L1362.6,754.3 L1362.6,753.8 L1362.6,753.4 L1362.6,752.9 L1362.6,752.2 L1362.6,751.5 L1362.6,750.8 L1362.6,749.8 L1362.7,748.9 L1362.7,748.1 L1362.7,747.5 L1362.7,746.9 L1362.7,746.2 L1362.7,745.5 L1362.7,744.8 L1362.7,744.2 L1362.7,743.5 L1362.7,742.8 L1362.7,742.0 L1362.7,741.1 L1362.7,740.3 L1362.8,739.5 L1362.8,738.6 L1362.8,737.5 L1362.8,736.7 L1362.8,736.0 L1362.8,735.3 L1362.8,734.1 L1362.8,733.0 L1362.8,732.0 L1362.8,730.9 L1362.8,729.9 L1362.8,728.9 L1362.8,728.2 L1362.9,727.6 L1362.9,726.9 L1362.9,725.8 L1362.9,724.8 L1362.9,723.8 L1362.9,722.9 L1362.9,722.1 L1362.9,721.3 L1362.9,720.2 L1362.9,719.0 L1362.9,717.8 L1362.9,716.7 L1362.9,715.9 L1362.9,715.2 L1363.0,714.3 L1363.0,713.5 L1363.0,712.1 L1363.0,710.6 L1363.0,710.0 L1363.0,709.5 L1363.0,708.3 L1363.0,707.0 L1363.0,705.8 L1363.0,704.6 L1363.0,703.8 L1363.0,703.0 L1363.0,702.2 L1363.1,701.4 L1363.1,700.3 L1363.1,699.1 L1363.1,698.0 L1363.1,696.9 L1363.1,696.1 L1363.1,695.4 L1363.1,694.3 L1363.1,692.9 L1363.1,692.0 L1363.1,691.4 L1363.1,690.5 L1363.1,689.4 L1363.1,688.4 L1363.2,687.6 L1363.2,686.7 L1363.2,685.7 L1363.2,684.7 L1363.2,683.7 L1363.2,682.6 L1363.2,681.7 L1363.2,680.8 L1363.2,680.1 L1363.2,679.5 L1363.2,678.7 L1363.2,677.7 L1363.2,676.6 L1363.2,675.7 L1363.3,674.8 L1363.3,674.0 L1363.3,673.4 L1363.3,672.7 L1363.3,671.9 L1363.3,671.2 L1363.3,670.1 L1363.3,669.0 L1363.3,668.1 L1363.3,667.5 L1363.3,667.0 L1363.3,666.2 L1363.3,665.3 L1363.3,664.5 L1363.4,664.0 L1363.4,663.6 L1363.4,663.1 L1363.4,662.1 L1363.4,661.2 L1363.4,660.3 L1363.4,660.0 L1363.4,659.7 L1363.4,659.3 L1363.4,658.7 L1363.4,658.1 L1363.4,657.4 L1363.4,656.8 L1363.4,656.3 L1363.5,655.8 L1363.5,655.3 L1363.5,654.8 L1363.5,654.3 L1363.5,653.9 L1363.5,653.4 L1363.5,653.0 L1364.5,652.9 L1364.5,653.3 L1364.5,653.6 L1364.5,654.0 L1364.5,654.5 L1364.5,655.1 L1364.5,655.6 L1364.6,656.2 L1364.6,656.6 L1364.6,657.0 L1364.6,657.5 L1364.6,658.1 L1364.6,658.7 L1364.6,659.4 L1364.6,660.1 L1364.6,660.8 L1364.6,661.5 L1364.6,662.3 L1364.6,662.9 L1364.6,663.6 L1364.6,664.3 L1364.7,664.9 L1364.7,665.5 L1364.7,666.2 L1364.7,667.1 L1364.7,667.9 L1364.7,668.8 L1364.7,669.7 L1364.7,670.5 L1364.7,671.3 L1364.7,672.1 L1364.7,672.7 L1364.7,673.1 L1364.7,673.7 L1364.7,674.8 L1364.8,675.9 L1364.8,676.7 L1364.8,677.4 L1364.8,678.3 L1364.8,679.5 L1364.8,680.7 L1364.8,681.4 L1364.8,682.2 L1364.8,683.1 L1364.8,683.9 L1364.8,684.9 L1364.8,685.9 L1364.8,686.8 L1364.8,687.7 L1364.8,688.5 L1364.9,689.3 L1364.9,690.4 L1364.9,691.7 L1364.9,692.8 L1364.9,693.2 L1364.9,693.9 L1364.9,694.8 L1364.9,695.8 L1364.9,697.0 L1364.9,698.1 L1364.9,698.9 L1364.9,699.9 L1364.9,701.0 L1364.9,702.1 L1365.0,703.3 L1365.0,704.4 L1365.0,705.2 L1365.0,706.2 L1365.0,707.5 L1365.0,708.8 L1365.0,709.4 L1365.0,710.1 L1365.0,711.4 L1365.0,712.7 L1365.0,713.8 L1365.0,714.7 L1365.0,715.5 L1365.0,716.2 L1365.1,717.4 L1365.1,718.5 L1365.1,719.0 L1365.1,719.6 L1365.1,721.0 L1365.1,722.5 L1365.1,723.2 L1365.1,723.9 L1365.1,724.8 L1365.1,725.7 L1365.1,726.8 L1365.1,728.1 L1365.1,729.0 L1365.1,729.6 L1365.2,730.3 L1365.2,731.1 L1365.2,731.8 L1365.2,732.7 L1365.2,733.6 L1365.2,734.9 L1365.2,736.2 L1365.2,736.9 L1365.2,737.4 L1365.2,738.2 L1365.2,739.3 L1365.2,740.3 L1365.2,740.9 L1365.3,741.4 L1365.3,742.4 L1365.3,743.5 L1365.3,744.6 L1365.3,745.5 L1365.3,746.3 L1365.3,747.0 L1365.3,747.4 L1365.3,747.9 L1365.3,748.8 L1365.3,749.7 L1365.3,750.5 L1365.4,751.3 L1365.4,752.0 L1365.4,752.6 L1365.4,753.0 L1365.4,753.4 L1365.4,753.8 L1365.4,754.5 L1365.4,755.2 L1365.4,755.8 L1365.4,756.6 L1365.4,757.3 L1365.5,758.0 L1365.5,758.7 L1365.5,759.2 L1365.5,759.6 L1365.5,760.1 L1365.5,760.5 L1365.6,763.7 L1365.7,766.1 L1365.8,769.1 L1365.8,770.9 L1365.9,771.8 L1366.0,772.4 L1366.1,772.7 L1366.2,772.8 L1366.3,772.7 L1366.4,772.4 L1366.5,772.1 L1366.7,771.8 L1366.8,771.5 L1366.9,771.5 L1367.0,771.7 L1367.5,772.1 L1368.1,771.1 L1369.1,769.8 L1369.4,769.3 L1369.7,768.9 L1370.1,768.3 L1370.5,767.7 L1371.0,767.1 L1371.4,766.4 L1371.8,765.9 L1372.3,765.2 L1372.8,764.0 L1373.2,762.8 L1373.7,762.0 L1374.2,761.1 L1374.6,760.3 L1375.0,759.5 L1375.3,758.9 L1375.6,758.4 L1375.9,757.8 L1376.1,757.1 L1376.4,756.3 L1376.7,755.5 L1377.0,754.8 L1377.3,754.2 L1377.5,753.5 L1377.8,752.7 L1378.1,751.9 L1378.3,751.4 L1378.6,750.9 L1378.9,750.1 L1379.2,749.1 L1379.4,748.0 L1379.7,746.9 L1380.0,745.9 L1380.3,745.1 L1380.5,744.5 L1380.7,743.7 L1380.9,742.8 L1381.1,742.2 L1381.3,741.8 L1381.5,741.5 L1381.7,740.5 L1381.8,739.3 L1382.0,738.2 L1382.2,737.5 L1382.4,736.8 L1382.6,736.1 L1382.8,735.5 L1383.0,734.8 L1383.2,734.2 L1383.4,733.5 L1383.6,732.5 L1383.8,731.6 L1384.0,730.5 L1384.2,729.4 L1384.4,728.5 L1384.6,727.9 L1384.8,727.2 L1385.0,726.5 L1385.2,725.7 L1385.4,724.9 L1385.6,724.2 L1385.8,723.3 L1386.0,722.3 L1386.2,721.4 L1386.4,720.4 L1386.5,719.4 L1386.7,718.7 L1386.9,718.2 L1387.1,717.5 L1387.3,716.6 L1387.5,715.7 L1387.6,714.9 L1387.8,714.2 L1388.0,713.1 L1388.2,711.8 L1388.4,710.9 L1388.6,710.4 L1388.8,709.7 L1388.9,708.7 L1389.1,707.6 L1389.3,706.7 L1389.5,705.7 L1389.7,704.8 L1389.8,704.0 L1390.0,703.2 L1390.2,702.3 L1390.4,701.5 L1390.5,701.0 L1390.7,700.6 L1390.8,700.1 L1391.0,699.1 L1391.2,698.1 L1391.3,697.3 L1391.5,696.8 L1391.6,696.4 L1391.9,695.3 L1392.1,693.9 L1392.4,692.9 L1392.6,692.0 L1392.8,691.2 L1393.0,690.4 L1393.2,689.7 L1393.4,689.2 L1393.6,688.8 L1393.8,688.0 L1394.0,687.0 L1394.2,686.1 L1394.4,685.4 L1394.6,684.9 L1394.8,684.5 L1395.0,683.9 L1395.3,682.8 L1395.7,681.9 L1396.1,680.9 L1396.4,680.0 L1396.8,679.1 L1397.2,678.4 L1397.6,677.7 L1398.0,677.0 L1398.4,676.4 L1398.7,676.1 L1399.1,675.9 L1399.5,676.0 L1399.8,676.3 L1400.2,676.9 L1400.5,677.6 L1400.9,678.3 L1401.3,679.2 L1401.6,680.1 L1402.0,681.1 L1402.3,681.7 L1402.7,682.3 L1403.0,683.5 L1403.2,684.1 L1403.4,684.9 L1403.5,685.8 L1403.7,686.7 L1403.9,687.2 L1404.1,687.8 L1404.3,688.5 L1404.4,689.3 L1404.6,690.2 L1404.8,691.1 L1404.9,692.0 L1405.1,692.9 L1405.3,693.8 L1405.5,694.7 L1405.7,695.7 L1405.8,696.7 L1406.0,697.6 L1406.2,698.5 L1406.4,699.2 L1406.6,699.8 L1406.7,700.6 L1406.9,701.5 L1407.1,702.4 L1407.2,703.1 L1407.4,703.8 L1407.5,704.5 L1407.7,705.3 L1407.8,706.1 L1408.0,707.0 L1408.1,707.9 L1408.3,708.8 L1408.5,709.6 L1408.6,710.4 L1408.8,711.3 L1409.0,712.1 L1409.1,712.8 L1409.3,713.5 L1409.5,714.2 L1409.6,714.9 L1409.8,715.6 L1410.0,716.7 L1410.1,717.8 L1410.3,718.6 L1410.5,719.3 L1410.7,720.0 L1410.8,720.9 L1411.0,721.8 L1411.2,722.5 L1411.3,723.2 L1411.5,724.0 L1411.7,724.8 L1411.9,725.8 L1412.0,727.0 L1412.2,728.1 L1412.4,729.4 L1412.6,730.5 L1412.8,731.2 L1413.0,732.0 L1413.2,732.7 L1413.3,733.5 L1413.5,734.9 L1413.7,736.2 L1413.9,736.7 L1414.1,737.1 L1414.3,738.1 L1414.4,739.2 L1414.6,740.0 L1414.8,740.5 L1415.0,740.9 L1415.1,741.9 L1415.3,742.9 L1415.4,743.8 L1415.6,744.4 L1415.7,744.9 L1415.9,745.3 L1416.0,745.7 L1416.7,746.7 L1417.2,746.3 L1417.7,744.7 L1418.1,743.0 L1418.5,741.9 L1418.8,741.0 L1419.1,739.8 L1419.3,739.0 L1419.5,738.3 L1419.7,738.1 L1419.8,738.4 L1419.9,738.8 L1420.0,739.3 L1420.1,740.0 L1420.1,740.7 L1420.2,741.9 L1420.3,743.4 L1420.4,744.3 L1420.5,745.0 L1420.6,745.7 L1420.6,746.6 L1420.7,747.6 L1420.7,748.5 L1420.8,749.4 L1420.8,750.3 L1420.9,751.0 L1421.0,751.7 L1421.1,752.2 L1421.2,752.7 L1421.4,753.7 L1421.6,754.7 L1421.9,755.7 L1422.3,756.4 L1422.7,757.0 L1423.1,758.1 L1423.6,759.1 L1424.0,759.6 L1424.5,760.0 L1425.0,760.5 L1425.5,761.0 L1426.0,761.6 L1426.5,762.3 L1427.1,763.0 L1427.7,764.3 L1428.3,765.5 L1429.0,766.0 L1429.5,766.4 L1430.1,766.7 L1430.6,767.0 L1431.0,767.3 L1432.2,766.7 L1433.0,768.2 L1433.1,768.8 L1433.1,769.5 L1433.2,770.1 L1433.2,770.5 L1433.2,771.0 L1433.3,772.3 L1433.3,773.7 L1433.4,774.8 L1433.4,775.9 L1433.4,776.5 L1433.5,777.2 L1433.5,778.3 L1433.5,779.5 L1433.6,780.5 L1433.6,781.6 L1433.6,782.6 L1433.7,783.6 L1433.7,784.5 L1433.7,785.5 L1433.8,786.5 L1433.8,787.4 L1433.8,788.3 L1433.9,789.1 L1433.9,789.7 L1433.9,790.0 L1434.0,790.2 L1434.0,790.2 L1434.0,790.1 L1434.1,789.9 L1434.1,789.4 L1434.1,788.8 L1434.2,788.2 L1434.2,787.5 L1434.2,786.7 L1434.2,786.0 L1434.3,785.2 L1434.3,784.0 L1434.3,782.7 L1434.4,781.8 L1434.4,781.1 L1434.4,779.7 L1434.4,778.3 L1434.5,777.3 L1434.5,776.3 L1434.5,775.0 L1434.6,773.8 L1434.6,772.8 L1434.7,771.8 L1434.7,770.8 L1434.8,770.0 L1434.8,769.4 L1434.9,768.8 L1434.9,768.3 L1435.0,767.9 L1435.8,766.8 L1436.9,767.9 L1437.6,769.9" fill="none" stroke="#24204e" stroke-width="1.5" stroke-linejoin="round" stroke-linecap="round" />
<line x1="1362.50" y1="772.00" x2="1362.50" y2="848.00" stroke="#7a30e8" stroke-width="1.4" />
<line x1="1364.00" y1="772.00" x2="1364.00" y2="848.00" stroke="#24204e" stroke-width="1.4" />
<line x1="1365.50" y1="772.00" x2="1365.50" y2="848.00" stroke="#8020f0" stroke-width="1.4" />
<line x1="1364.30" y1="653.00" x2="1364.30" y2="772.00" stroke="#111" stroke-width="1.6" />
<line x1="1365.50" y1="700.00" x2="1365.50" y2="740.00" stroke="#e060b0" stroke-width="1.5" />
<line x1="1432.60" y1="768.00" x2="1432.60" y2="850.00" stroke="#2a2860" stroke-width="1.3" />
<line x1="1433.80" y1="790.00" x2="1433.80" y2="850.00" stroke="#7030e0" stroke-width="1.1" />
<line x1="1435.50" y1="800.00" x2="1437.50" y2="790.00" stroke="#8040f0" stroke-width="1" />
<path d="M1414,845 L1415.5,836 L1417,842 L1418.5,826 L1420,840 L1421.5,832 L1423,846" fill="none" stroke="#f08030" stroke-width="1.2" />
<path d="M1414,832 L1416,820 L1418,830 L1419.5,812 L1421,828 L1423,834" fill="none" stroke="#f06060" stroke-width="1.1" />
<rect x="1172.20" y="653.00" width="265.80" height="199.00" fill="none" stroke="#1a1a1a" stroke-width="1.8" />
<line x1="1172.20" y1="852.00" x2="1177.20" y2="852.00" stroke="#1a1a1a" stroke-width="1.2" />
<line x1="1172.20" y1="821.00" x2="1175.20" y2="821.00" stroke="#1a1a1a" stroke-width="1.2" />
<line x1="1172.20" y1="790.10" x2="1177.20" y2="790.10" stroke="#1a1a1a" stroke-width="1.2" />
<line x1="1172.20" y1="758.90" x2="1175.20" y2="758.90" stroke="#1a1a1a" stroke-width="1.2" />
<line x1="1172.20" y1="727.70" x2="1177.20" y2="727.70" stroke="#1a1a1a" stroke-width="1.2" />
<line x1="1172.20" y1="696.50" x2="1175.20" y2="696.50" stroke="#1a1a1a" stroke-width="1.2" />
<line x1="1172.20" y1="665.30" x2="1177.20" y2="665.30" stroke="#1a1a1a" stroke-width="1.2" />
<line x1="1230.00" y1="852.00" x2="1230.00" y2="856.00" stroke="#1a1a1a" stroke-width="1.2" />
<line x1="1291.80" y1="852.00" x2="1291.80" y2="856.00" stroke="#1a1a1a" stroke-width="1.2" />
<line x1="1353.30" y1="852.00" x2="1353.30" y2="856.00" stroke="#1a1a1a" stroke-width="1.2" />
<line x1="1414.50" y1="852.00" x2="1414.50" y2="856.00" stroke="#1a1a1a" stroke-width="1.2" />
<line x1="1199.00" y1="852.00" x2="1199.00" y2="854.50" stroke="#1a1a1a" stroke-width="1.2" />
<line x1="1260.90" y1="852.00" x2="1260.90" y2="854.50" stroke="#1a1a1a" stroke-width="1.2" />
<line x1="1322.50" y1="852.00" x2="1322.50" y2="854.50" stroke="#1a1a1a" stroke-width="1.2" />
<line x1="1384.00" y1="852.00" x2="1384.00" y2="854.50" stroke="#1a1a1a" stroke-width="1.2" />
<text x="1146.82" y="855.21" font-size="9.32" font-weight="normal" font-style="normal" fill="#8a8a8a" textLength="16.95" lengthAdjust="spacingAndGlyphs" >0.0</text>
<text x="1146.82" y="793.31" font-size="9.32" font-weight="normal" font-style="normal" fill="#8a8a8a" textLength="16.99" lengthAdjust="spacingAndGlyphs" >0.5</text>
<text x="1146.34" y="730.91" font-size="9.32" font-weight="normal" font-style="normal" fill="#8a8a8a" textLength="17.45" lengthAdjust="spacingAndGlyphs" >1.0</text>
<text x="1146.34" y="668.51" font-size="9.46" font-weight="normal" font-style="normal" fill="#8a8a8a" textLength="17.49" lengthAdjust="spacingAndGlyphs" >1.5</text>
<text x="1220.99" y="868.10" font-size="10.17" font-weight="normal" font-style="normal" fill="#8a8a8a" textLength="18.07" lengthAdjust="spacingAndGlyphs" >0.8</text>
<text x="1282.79" y="868.10" font-size="10.17" font-weight="normal" font-style="normal" fill="#8a8a8a" textLength="18.08" lengthAdjust="spacingAndGlyphs" >0.6</text>
<text x="1344.30" y="868.10" font-size="10.17" font-weight="normal" font-style="normal" fill="#8a8a8a" textLength="17.88" lengthAdjust="spacingAndGlyphs" >0.4</text>
<text x="1405.49" y="868.10" font-size="10.17" font-weight="normal" font-style="normal" fill="#8a8a8a" textLength="18.17" lengthAdjust="spacingAndGlyphs" >0.2</text>
<text x="1257.15" y="886.38" font-size="15.02" font-weight="normal" font-style="normal" fill="#3a3a3a" textLength="94.35" lengthAdjust="spacingAndGlyphs" >Energy (eV)</text>
<text transform="translate(1135.39,835.04) rotate(-90)" x="0" y="0" font-size="19.86" font-weight="normal" font-style="normal" fill="#3a3a3a" textLength="156.26" lengthAdjust="spacingAndGlyphs" >Absorbance (a.u.)</text>
<line x1="1271.30" y1="667.60" x2="1294.80" y2="667.60" stroke="#24204e" stroke-width="2" />
<text x="1297.06" y="670.22" font-size="9.55" font-weight="normal" font-style="normal" fill="#2a2a2a" textLength="53.62" lengthAdjust="spacingAndGlyphs" >CdHg(8)Se</text>
<line x1="1271.30" y1="680.26" x2="1294.80" y2="680.26" stroke="#3a2890" stroke-width="2" />
<text x="1297.06" y="682.88" font-size="9.55" font-weight="normal" font-style="normal" fill="#2a2a2a" textLength="53.62" lengthAdjust="spacingAndGlyphs" >CdHg(7)Se</text>
<line x1="1271.30" y1="692.92" x2="1294.80" y2="692.92" stroke="#5a2ac8" stroke-width="2" />
<text x="1297.06" y="695.54" font-size="9.55" font-weight="normal" font-style="normal" fill="#2a2a2a" textLength="53.62" lengthAdjust="spacingAndGlyphs" >CdHg(6)Se</text>
<line x1="1271.30" y1="705.58" x2="1294.80" y2="705.58" stroke="#7a30e8" stroke-width="2" />
<text x="1297.06" y="708.20" font-size="9.55" font-weight="normal" font-style="normal" fill="#2a2a2a" textLength="53.62" lengthAdjust="spacingAndGlyphs" >CdHg(5)Se</text>
<line x1="1271.30" y1="718.24" x2="1294.80" y2="718.24" stroke="#8020f0" stroke-width="2" />
<text x="1297.06" y="720.86" font-size="9.55" font-weight="normal" font-style="normal" fill="#2a2a2a" textLength="53.62" lengthAdjust="spacingAndGlyphs" >CdHg(4)Se</text>
<line x1="1271.30" y1="730.90" x2="1294.80" y2="730.90" stroke="#c040e0" stroke-width="2" />
<text x="1297.06" y="733.52" font-size="9.55" font-weight="normal" font-style="normal" fill="#2a2a2a" textLength="53.62" lengthAdjust="spacingAndGlyphs" >CdHg(3)Se</text>
<line x1="1271.30" y1="743.56" x2="1294.80" y2="743.56" stroke="#e060b0" stroke-width="2" />
<text x="1297.06" y="746.18" font-size="9.55" font-weight="normal" font-style="normal" fill="#2a2a2a" textLength="53.62" lengthAdjust="spacingAndGlyphs" >CdHg(2)Se</text>
<line x1="1271.30" y1="756.22" x2="1294.80" y2="756.22" stroke="#f06060" stroke-width="2" />
<text x="1297.06" y="758.84" font-size="9.55" font-weight="normal" font-style="normal" fill="#2a2a2a" textLength="53.62" lengthAdjust="spacingAndGlyphs" >CdHg(1)Se</text>
<line x1="1271.30" y1="768.88" x2="1294.80" y2="768.88" stroke="#f07818" stroke-width="2" />
<text x="1297.06" y="771.50" font-size="9.55" font-weight="normal" font-style="normal" fill="#2a2a2a" textLength="53.62" lengthAdjust="spacingAndGlyphs" >CdHg(0)Se</text></svg></body></html>
